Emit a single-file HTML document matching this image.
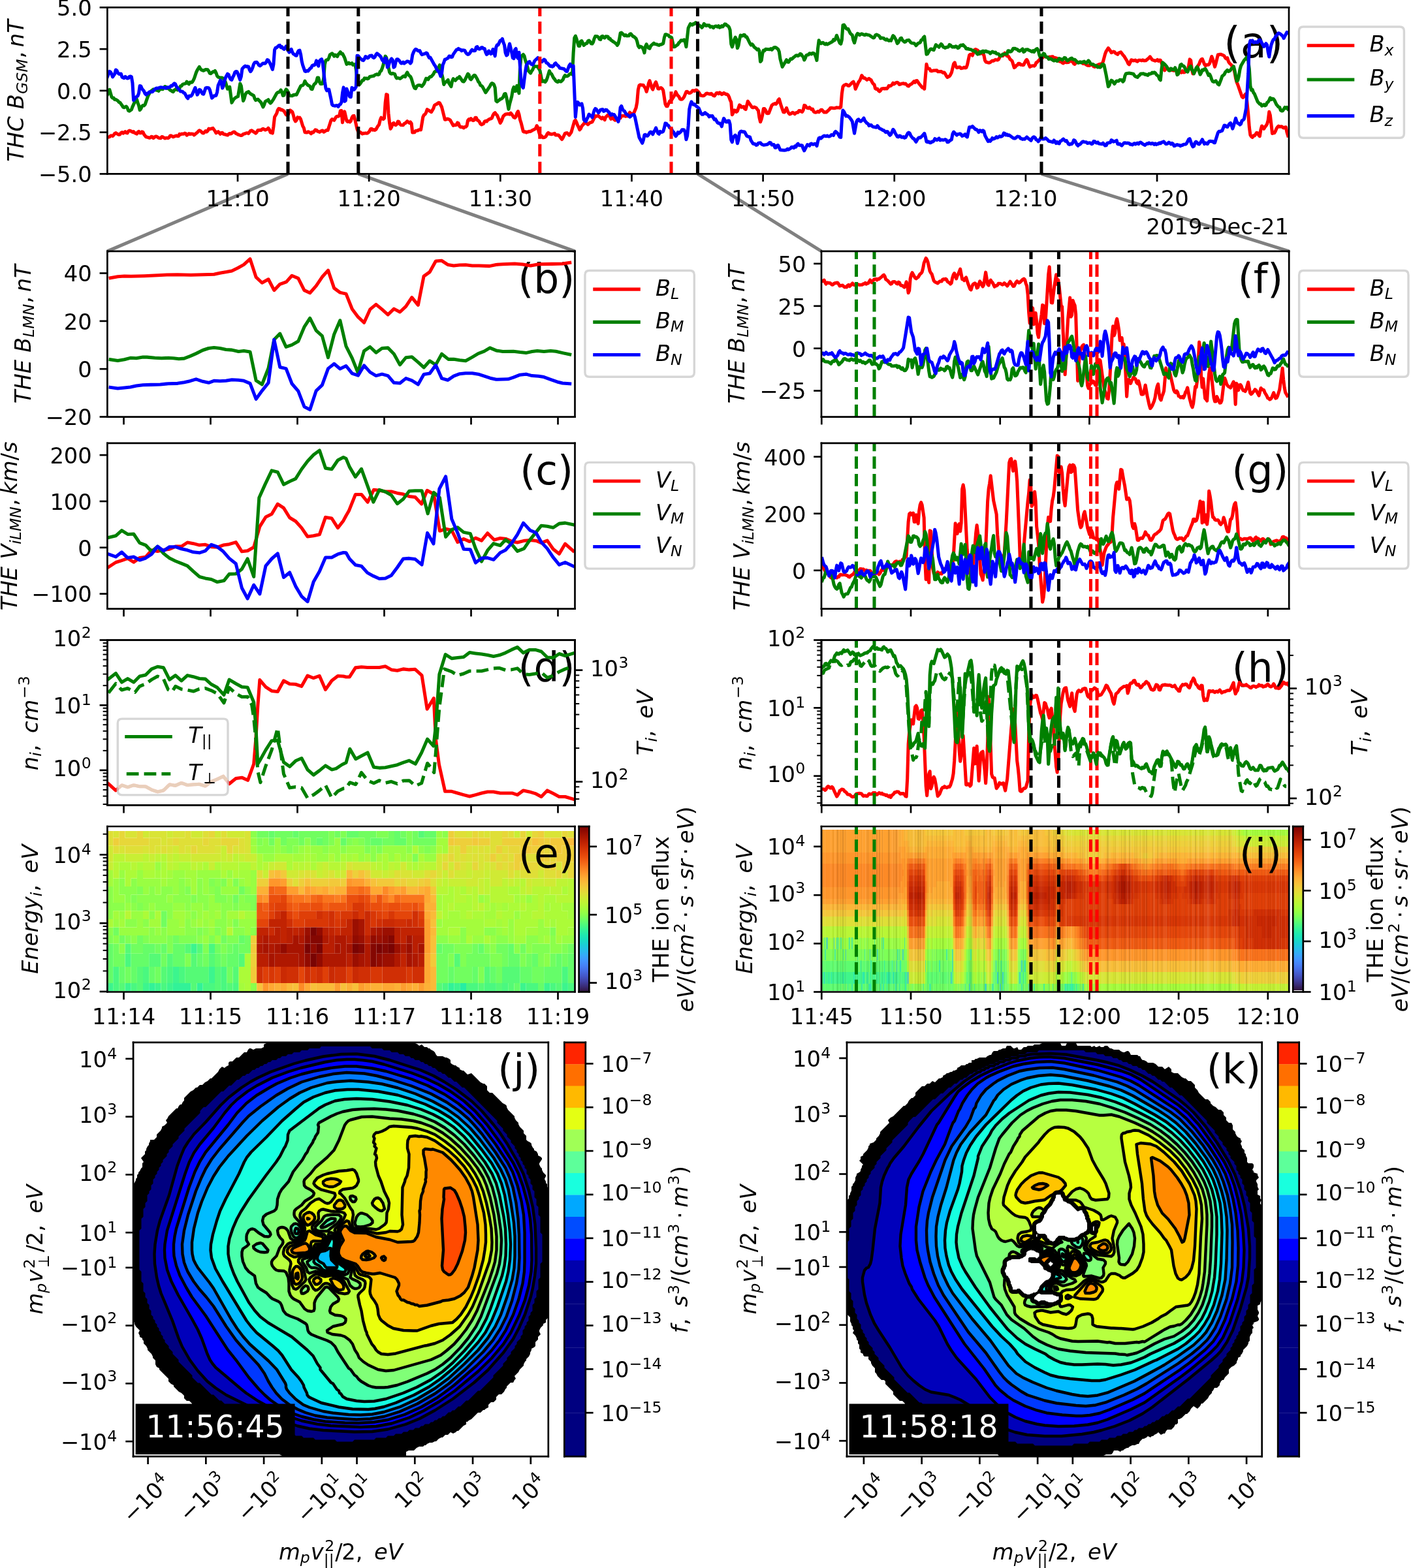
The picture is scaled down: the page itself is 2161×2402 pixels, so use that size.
<!DOCTYPE html>
<html lang="en"><head><meta charset="utf-8"><title>THEMIS overview 2019-Dec-21</title>
<style>html,body{margin:0;padding:0;background:#fff;}svg{display:block;}text{font-family:"DejaVu Sans","Liberation Sans",sans-serif;}</style></head>
<body>
<svg width="2161" height="2402" viewBox="0 0 640.296296 711.703704" version="1.1">
<defs>
<style type="text/css">*{stroke-linejoin: round; stroke-linecap: butt}</style>
</defs>
<g id="figure_1">
<g id="patch_1">
<path d="M 0 711.7 L 640.3 711.7 L 640.3 0 L 0 0 L 0 711.7 z" style="fill: none"/>
</g>
<g id="line2d_1">
<path d="M 130.67 78.93 L 48.71 114.04" style="fill: none; stroke: #808080; stroke-width: 1.5"/>
</g>
<g id="line2d_2">
<path d="M 162.61 78.93 L 260.89 114.04" style="fill: none; stroke: #808080; stroke-width: 1.5"/>
</g>
<g id="line2d_3">
<path d="M 316.59 78.93 L 372.74 114.04" style="fill: none; stroke: #808080; stroke-width: 1.5"/>
</g>
<g id="line2d_4">
<path d="M 472.59 78.93 L 584.95 114.04" style="fill: none; stroke: #808080; stroke-width: 1.5"/>
</g>
<g id="axes_1">
<g id="patch_2">
<path d="M 48.71 78.93 L 584.89 78.93 L 584.89 3.38 L 48.71 3.38 L 48.71 78.93 z" style="fill: none; opacity: 0"/>
</g>
<g id="text_1">
<text style="font-size: 19.4px; font-family: 'DejaVu Sans'; text-anchor: middle" x="568.82963" y="26.148376" transform="rotate(-0 568.82963 26.148376)">(a)</text>
</g>
<g id="matplotlib.axis_1">
<g id="xtick_1">
<g id="line2d_5">
<defs>
<path id="m1504cfccaf" d="M 0 0 L 0 3.5" style="stroke: #000000; stroke-width: 0.8"/>
</defs>
<g>
<use href="#m1504cfccaf" x="107.851852" y="78.933333" style="stroke: #000000; stroke-width: 0.8"/>
</g>
</g>
<g id="text_2">
<text style="font-size: 10px; font-family: 'DejaVu Sans'; text-anchor: middle" x="107.851852" y="93.531771" transform="rotate(-0 107.851852 93.531771)">11:10</text>
</g>
</g>
<g id="xtick_2">
<g id="line2d_6">
<g>
<use href="#m1504cfccaf" x="167.451852" y="78.933333" style="stroke: #000000; stroke-width: 0.8"/>
</g>
</g>
<g id="text_3">
<text style="font-size: 10px; font-family: 'DejaVu Sans'; text-anchor: middle" x="167.451852" y="93.531771" transform="rotate(-0 167.451852 93.531771)">11:20</text>
</g>
</g>
<g id="xtick_3">
<g id="line2d_7">
<g>
<use href="#m1504cfccaf" x="227.051852" y="78.933333" style="stroke: #000000; stroke-width: 0.8"/>
</g>
</g>
<g id="text_4">
<text style="font-size: 10px; font-family: 'DejaVu Sans'; text-anchor: middle" x="227.051852" y="93.531771" transform="rotate(-0 227.051852 93.531771)">11:30</text>
</g>
</g>
<g id="xtick_4">
<g id="line2d_8">
<g>
<use href="#m1504cfccaf" x="286.651852" y="78.933333" style="stroke: #000000; stroke-width: 0.8"/>
</g>
</g>
<g id="text_5">
<text style="font-size: 10px; font-family: 'DejaVu Sans'; text-anchor: middle" x="286.651852" y="93.531771" transform="rotate(-0 286.651852 93.531771)">11:40</text>
</g>
</g>
<g id="xtick_5">
<g id="line2d_9">
<g>
<use href="#m1504cfccaf" x="346.251852" y="78.933333" style="stroke: #000000; stroke-width: 0.8"/>
</g>
</g>
<g id="text_6">
<text style="font-size: 10px; font-family: 'DejaVu Sans'; text-anchor: middle" x="346.251852" y="93.531771" transform="rotate(-0 346.251852 93.531771)">11:50</text>
</g>
</g>
<g id="xtick_6">
<g id="line2d_10">
<g>
<use href="#m1504cfccaf" x="405.851852" y="78.933333" style="stroke: #000000; stroke-width: 0.8"/>
</g>
</g>
<g id="text_7">
<text style="font-size: 10px; font-family: 'DejaVu Sans'; text-anchor: middle" x="405.851852" y="93.531771" transform="rotate(-0 405.851852 93.531771)">12:00</text>
</g>
</g>
<g id="xtick_7">
<g id="line2d_11">
<g>
<use href="#m1504cfccaf" x="465.451852" y="78.933333" style="stroke: #000000; stroke-width: 0.8"/>
</g>
</g>
<g id="text_8">
<text style="font-size: 10px; font-family: 'DejaVu Sans'; text-anchor: middle" x="465.451852" y="93.531771" transform="rotate(-0 465.451852 93.531771)">12:10</text>
</g>
</g>
<g id="xtick_8">
<g id="line2d_12">
<g>
<use href="#m1504cfccaf" x="525.051852" y="78.933333" style="stroke: #000000; stroke-width: 0.8"/>
</g>
</g>
<g id="text_9">
<text style="font-size: 10px; font-family: 'DejaVu Sans'; text-anchor: middle" x="525.051852" y="93.531771" transform="rotate(-0 525.051852 93.531771)">12:20</text>
</g>
</g>
</g>
<g id="matplotlib.axis_2">
<g id="ytick_1">
<g id="line2d_13">
<defs>
<path id="m5d545ce8f8" d="M 0 0 L -3.5 0" style="stroke: #000000; stroke-width: 0.8"/>
</defs>
<g>
<use href="#m5d545ce8f8" x="48.711111" y="3.377778" style="stroke: #000000; stroke-width: 0.8"/>
</g>
</g>
<g id="text_10">
<text style="font-size: 10px; font-family: 'DejaVu Sans'; text-anchor: end" x="41.711111" y="7.176997" transform="rotate(-0 41.711111 7.176997)">5.0</text>
</g>
</g>
<g id="ytick_2">
<g id="line2d_14">
<g>
<use href="#m5d545ce8f8" x="48.711111" y="22.266667" style="stroke: #000000; stroke-width: 0.8"/>
</g>
</g>
<g id="text_11">
<text style="font-size: 10px; font-family: 'DejaVu Sans'; text-anchor: end" x="41.711111" y="26.065885" transform="rotate(-0 41.711111 26.065885)">2.5</text>
</g>
</g>
<g id="ytick_3">
<g id="line2d_15">
<g>
<use href="#m5d545ce8f8" x="48.711111" y="41.155556" style="stroke: #000000; stroke-width: 0.8"/>
</g>
</g>
<g id="text_12">
<text style="font-size: 10px; font-family: 'DejaVu Sans'; text-anchor: end" x="41.711111" y="44.954774" transform="rotate(-0 41.711111 44.954774)">0.0</text>
</g>
</g>
<g id="ytick_4">
<g id="line2d_16">
<g>
<use href="#m5d545ce8f8" x="48.711111" y="60.044444" style="stroke: #000000; stroke-width: 0.8"/>
</g>
</g>
<g id="text_13">
<text style="font-size: 10px; font-family: 'DejaVu Sans'; text-anchor: end" x="41.711111" y="63.843663" transform="rotate(-0 41.711111 63.843663)">−2.5</text>
</g>
</g>
<g id="ytick_5">
<g id="line2d_17">
<g>
<use href="#m5d545ce8f8" x="48.711111" y="78.933333" style="stroke: #000000; stroke-width: 0.8"/>
</g>
</g>
<g id="text_14">
<text style="font-size: 10px; font-family: 'DejaVu Sans'; text-anchor: end" x="41.711111" y="82.732552" transform="rotate(-0 41.711111 82.732552)">−5.0</text>
</g>
</g>
<g id="text_15">
<g transform="translate(11.348611 73.405556) rotate(-90)">
<text>
<tspan x="0" y="-0.578125" style="font-style: oblique; font-size: 10px; font-family: 'DejaVu Sans'">T</tspan>
<tspan x="6.108398" y="-0.578125" style="font-style: oblique; font-size: 10px; font-family: 'DejaVu Sans'">H</tspan>
<tspan x="13.62793" y="-0.578125" style="font-style: oblique; font-size: 10px; font-family: 'DejaVu Sans'">C</tspan>
<tspan x="23.857389" y="-0.578125" style="font-style: oblique; font-size: 10px; font-family: 'DejaVu Sans'">B</tspan>
<tspan x="52.025358" y="-0.578125" style="font-style: oblique; font-size: 10px; font-family: 'DejaVu Sans'">n</tspan>
<tspan x="58.363249" y="-0.578125" style="font-style: oblique; font-size: 10px; font-family: 'DejaVu Sans'">T</tspan>
<tspan x="30.717741" y="1.0625" style="font-style: oblique; font-size: 7px; font-family: 'DejaVu Sans'">G</tspan>
<tspan x="36.142057" y="1.0625" style="font-style: oblique; font-size: 7px; font-family: 'DejaVu Sans'">S</tspan>
<tspan x="40.585417" y="1.0625" style="font-style: oblique; font-size: 7px; font-family: 'DejaVu Sans'">M</tspan>
<tspan x="46.898405" y="-0.578125" style="font-size: 10px; font-family: 'DejaVu Sans'">,</tspan>
</text>
</g>
</g>
</g>
<g id="line2d_18">
<path d="M 48.76 62.2 L 49.23 62.28 L 49.7 62.13 L 50.18 61.65 L 50.65 61.55 L 51.13 61.74 L 51.6 61.27 L 52.07 60.59 L 52.55 60.33 L 53.5 60.97 L 53.97 61.11 L 54.44 61.02 L 54.92 60.29 L 55.39 60.05 L 55.87 60.5 L 56.81 59.77 L 57.29 60.28 L 57.76 60.42 L 58.24 59.59 L 58.71 59.28 L 59.18 59.41 L 60.13 59.96 L 60.61 59.76 L 61.08 60.29 L 62.03 60.77 L 62.5 59.99 L 62.98 59.66 L 63.45 60.36 L 63.93 60.39 L 64.4 59.8 L 64.87 59.97 L 65.35 60.98 L 66.3 62.18 L 67.24 62.36 L 67.72 62.56 L 68.19 62.52 L 68.67 62 L 69.14 62.14 L 69.61 62.69 L 70.56 61.92 L 71.04 61.9 L 71.98 62.6 L 72.93 62.71 L 73.41 62.07 L 73.88 62.16 L 74.83 62.83 L 75.3 62.62 L 75.78 62.6 L 76.25 62.7 L 76.73 62.42 L 77.2 61.63 L 77.67 61.59 L 78.62 62.16 L 79.1 61.92 L 80.04 61.57 L 80.52 61.8 L 80.99 61.76 L 81.47 60.88 L 81.94 61.07 L 82.41 60.78 L 83.36 60.81 L 83.84 60.48 L 84.31 60.65 L 84.78 61.39 L 85.73 60.63 L 86.21 60.88 L 86.68 60.75 L 87.63 60.83 L 88.1 61.31 L 89.05 60.49 L 89.53 60.15 L 90 59.56 L 90.47 59.23 L 90.95 59.42 L 91.9 60.34 L 92.37 60.42 L 93.32 59.45 L 93.79 59.85 L 94.27 59.39 L 94.74 58.41 L 95.21 58.6 L 96.64 58.19 L 97.58 59.51 L 98.06 60.38 L 98.53 59.98 L 99.01 59.76 L 99.96 60.84 L 100.43 60.3 L 100.9 60.24 L 101.38 60.82 L 103.27 61.35 L 103.75 60.89 L 104.22 60.6 L 104.7 60.74 L 105.17 60.49 L 105.64 60.06 L 106.12 59.84 L 106.59 60.03 L 107.07 60.63 L 107.54 60.73 L 108.01 61.08 L 108.96 61.38 L 109.44 61.48 L 109.91 61.33 L 110.38 60.85 L 110.86 60.76 L 111.81 60.36 L 112.28 60.35 L 112.76 60.62 L 113.7 59.36 L 114.18 59.2 L 116.07 60.48 L 116.55 59.97 L 117.02 59.09 L 117.97 59.06 L 118.44 59.12 L 118.92 58.69 L 119.39 58.45 L 120.34 58.99 L 121.29 58.65 L 121.76 58.15 L 122.24 58.83 L 122.71 60.12 L 123.18 60.22 L 123.66 60.45 L 124.13 57.42 L 124.61 53.13 L 125.56 51.49 L 126.03 49.91 L 126.5 49.29 L 126.98 49.42 L 127.45 49.91 L 127.93 49.79 L 128.4 50.16 L 128.87 50.39 L 129.82 52.08 L 130.3 52.33 L 130.77 51.93 L 131.72 50.07 L 132.19 50.38 L 132.67 50.85 L 133.14 52.3 L 133.61 54.24 L 134.09 55.08 L 134.56 54.47 L 135.04 53.25 L 135.51 53.51 L 135.98 53.35 L 136.46 54.13 L 137.41 57.28 L 137.88 58.07 L 138.36 60.05 L 139.3 60.17 L 139.78 59.81 L 140.25 59.89 L 141.2 60.66 L 141.67 59.97 L 142.15 60.11 L 143.1 58.93 L 143.57 59.01 L 144.04 59.56 L 144.52 59.7 L 144.99 59.96 L 145.94 59.35 L 146.41 59.28 L 146.89 59.92 L 147.84 59.34 L 148.31 59.02 L 148.78 59.13 L 150.21 54.65 L 150.68 54.11 L 151.63 54.6 L 152.58 52.97 L 153.05 52.8 L 153.53 52.8 L 154 52.43 L 154.47 50.31 L 154.95 50.23 L 155.42 55.61 L 155.9 52.77 L 156.37 50.65 L 157.32 54.85 L 157.79 55.24 L 158.27 54.96 L 158.74 55.39 L 159.21 54.92 L 159.69 53.37 L 160.16 52.68 L 160.64 52.57 L 161.11 54.38 L 162.06 58.59 L 162.53 59.7 L 163.48 59.99 L 164.43 60.74 L 164.9 60.49 L 165.38 60.54 L 165.85 60.41 L 166.33 60.5 L 166.8 60.42 L 167.27 60.01 L 167.75 59.42 L 168.22 58.52 L 168.7 58.43 L 169.17 59.03 L 169.64 58.85 L 170.12 59.08 L 170.59 58.78 L 171.54 57.14 L 172.01 56.6 L 172.49 54.55 L 172.96 53.38 L 173.91 54.09 L 174.38 53.66 L 174.86 46.51 L 175.33 42.86 L 175.81 43.07 L 176.28 51.4 L 176.76 55.71 L 177.23 58.47 L 177.7 57.63 L 178.18 56.14 L 178.65 55.85 L 179.13 56.58 L 179.6 56.79 L 180.07 56.36 L 180.55 55.13 L 181.02 55.25 L 181.5 56.34 L 181.97 56.76 L 182.92 56.84 L 183.39 56.17 L 183.87 55.95 L 184.81 55.04 L 185.76 55.82 L 186.24 55.37 L 186.71 56.03 L 187.18 60.15 L 188.13 60.04 L 188.61 59.4 L 189.56 59.26 L 190.03 58.97 L 190.5 58.85 L 190.98 58.93 L 191.93 53.16 L 192.4 52.15 L 192.87 51.93 L 193.35 51.13 L 193.82 49.69 L 194.77 50.24 L 195.72 50.85 L 196.67 49.26 L 197.14 47.86 L 197.61 47.49 L 198.09 47.29 L 199.04 46.58 L 199.51 46.7 L 200.46 48.59 L 201.88 54.26 L 202.36 54.26 L 202.83 53.97 L 203.3 54 L 203.78 54.16 L 204.25 54.48 L 205.67 56.98 L 206.15 56.69 L 206.62 56.83 L 207.1 56.7 L 207.57 55.69 L 208.04 55.95 L 208.52 57.22 L 208.99 57.7 L 209.47 57.62 L 209.94 57.72 L 210.41 58.05 L 210.89 57.66 L 211.36 57.57 L 211.84 57.11 L 212.31 54.67 L 212.78 54.11 L 213.26 54.47 L 213.73 53.8 L 214.21 54.45 L 214.68 54.71 L 215.16 54.56 L 215.63 53.4 L 216.1 53.44 L 216.58 54.53 L 217.05 54.72 L 217.53 55.21 L 218 56.15 L 218.47 56.57 L 219.42 56.12 L 219.9 55.12 L 220.37 54.92 L 220.84 55.13 L 221.32 54.53 L 222.27 53.94 L 222.74 53.93 L 223.21 53.61 L 223.69 52.33 L 224.16 51.57 L 224.64 51.19 L 225.11 51.87 L 225.58 52.28 L 226.53 54.51 L 227.01 55.85 L 227.48 55.1 L 228.43 52.65 L 229.38 51.86 L 230.33 51.74 L 230.8 51.71 L 231.27 51.9 L 231.75 51.29 L 232.22 51.81 L 233.17 53.27 L 233.64 53.49 L 234.12 52.9 L 234.59 51.33 L 235.07 50.53 L 235.54 51.93 L 236.01 54.35 L 236.49 55.81 L 237.44 59.68 L 237.91 59.88 L 238.38 59.76 L 238.86 60.13 L 239.33 59.86 L 239.81 59.82 L 240.28 59.61 L 240.76 59.7 L 241.7 59.07 L 242.65 58.66 L 243.13 58.19 L 243.6 57.05 L 244.07 57.95 L 244.55 60 L 245.02 61.35 L 245.5 61.53 L 246.44 62.47 L 246.92 62.39 L 247.39 62.19 L 247.87 61.7 L 248.34 60.73 L 248.81 60.24 L 249.29 60.81 L 249.76 60.77 L 250.24 60.98 L 251.66 60.56 L 252.13 61.32 L 253.08 61.27 L 253.56 61.38 L 254.5 62.63 L 254.98 63.27 L 255.45 62.54 L 256.4 60.57 L 256.87 60.39 L 257.35 60.34 L 258.3 61.37 L 259.24 59.99 L 260.67 54.99 L 261.14 54.56 L 261.61 55.5 L 262.09 56.84 L 262.56 57.69 L 263.04 58.9 L 263.51 58.4 L 263.98 57.26 L 264.93 56.23 L 265.41 55.39 L 266.83 56.53 L 267.78 55.61 L 268.25 55.55 L 268.73 55.36 L 270.15 52.62 L 270.62 52.83 L 271.1 52.55 L 271.57 52.62 L 272.99 53.9 L 273.47 53.34 L 273.94 53.73 L 274.41 54.4 L 274.89 53.1 L 275.36 52.72 L 275.84 52.17 L 276.31 52.13 L 277.26 54 L 277.73 53.4 L 278.21 53.61 L 278.68 54.22 L 279.16 54.6 L 279.63 54.36 L 280.1 53.86 L 281.05 53.51 L 281.53 53.61 L 282 52.61 L 282.95 52.62 L 283.42 52.58 L 283.9 52.82 L 284.37 52.48 L 284.84 52.72 L 285.79 51.03 L 286.27 51.56 L 286.74 51.88 L 287.21 51.72 L 287.69 51.2 L 288.64 48.91 L 289.11 46.39 L 289.58 40.74 L 290.06 38.78 L 290.53 38.49 L 291.96 38.68 L 292.9 40.13 L 293.38 41.62 L 293.85 40.07 L 294.33 37.83 L 294.8 36.61 L 295.27 38.01 L 295.75 39.77 L 296.22 40.64 L 297.17 38 L 297.64 37.24 L 298.12 38.57 L 298.59 40.27 L 299.07 40.29 L 299.54 39.92 L 300.01 39.86 L 300.49 40.25 L 300.96 41.06 L 301.91 47.24 L 302.38 48.2 L 302.86 48.22 L 303.81 46.05 L 304.28 45.62 L 304.76 45.41 L 306.18 43.15 L 306.65 41.69 L 307.13 42.72 L 307.6 43.41 L 308.07 43.8 L 308.55 44.88 L 309.02 45.1 L 309.5 45.04 L 309.97 44.64 L 310.44 43.96 L 311.39 41.66 L 311.87 41.59 L 312.34 42.03 L 312.81 42.27 L 313.29 42.14 L 313.76 41.83 L 314.24 41.14 L 314.71 41.15 L 315.18 41.34 L 315.66 40.93 L 316.13 40.92 L 317.08 41.86 L 318.03 43.35 L 318.98 43.52 L 319.45 43.41 L 319.93 43.06 L 320.4 42.52 L 320.87 42.35 L 321.35 42.55 L 321.82 42.59 L 322.3 42.75 L 322.77 42.44 L 323.72 43.38 L 324.19 43.55 L 325.14 42.21 L 325.61 42.17 L 326.09 42.55 L 326.56 42.04 L 327.04 42.27 L 327.51 42.84 L 327.98 42.66 L 328.46 42.19 L 329.41 42.81 L 329.88 42.77 L 330.36 43.12 L 330.83 43.98 L 331.3 45.34 L 331.78 46.3 L 332.25 52.07 L 332.73 51.24 L 333.2 50.04 L 333.67 50.15 L 334.15 50.78 L 334.62 50.43 L 335.57 47.68 L 336.04 47.95 L 336.52 48.68 L 337.47 48.39 L 337.94 49.35 L 338.41 49.63 L 339.36 45.95 L 341.26 48.72 L 341.73 48.85 L 342.21 48.58 L 343.16 48.91 L 343.63 49.62 L 344.1 50.13 L 344.58 53.36 L 345.05 55.33 L 345.53 54.11 L 346 52.19 L 346.47 49.36 L 346.95 49.34 L 347.42 50.05 L 347.9 51.33 L 348.37 51.48 L 348.84 51.4 L 350.27 47.75 L 350.74 47.39 L 351.69 47 L 352.16 47.23 L 352.64 46.65 L 353.11 45.49 L 353.58 44.95 L 354.53 48.21 L 355.48 50.88 L 355.96 50.94 L 356.43 50.1 L 356.9 49.02 L 357.38 50.36 L 357.85 51.28 L 358.33 51.82 L 358.8 51.64 L 359.75 51.03 L 360.7 51.73 L 361.17 51.25 L 361.64 51.07 L 362.12 51.04 L 362.59 50.21 L 363.07 50.21 L 363.54 50.62 L 364.01 50.81 L 364.49 49.97 L 364.96 47.83 L 365.44 48 L 365.91 48.66 L 366.38 49.06 L 366.86 49.15 L 367.33 48.73 L 368.28 49.68 L 368.76 49.5 L 369.23 50.63 L 369.7 50.98 L 370.18 51.02 L 370.65 50.88 L 371.13 50.57 L 371.6 50.88 L 372.55 49.85 L 373.02 49.87 L 373.97 50.97 L 374.44 50.89 L 374.92 50.97 L 376.34 49.65 L 376.81 49.05 L 377.29 48.94 L 378.24 49.08 L 378.71 49.13 L 379.66 48.82 L 380.13 48.91 L 380.61 48.86 L 381.08 48.97 L 381.56 48.53 L 382.03 42.55 L 382.5 39.38 L 382.98 38.75 L 383.93 38.32 L 384.4 38.51 L 384.87 38.91 L 385.35 38.92 L 386.77 37.44 L 387.24 37.08 L 387.72 38.07 L 388.19 40.4 L 389.61 37.23 L 390.09 36.65 L 390.56 35.63 L 391.04 34.24 L 391.98 35.46 L 392.46 35.45 L 393.41 36.27 L 393.88 35.86 L 394.36 35.68 L 394.83 36.08 L 395.3 36.32 L 395.78 37.34 L 396.25 38.02 L 396.73 38.36 L 397.2 40.18 L 397.67 40.44 L 398.15 40.33 L 398.62 41.12 L 399.1 41.52 L 399.57 41.07 L 400.04 40.33 L 400.99 40.16 L 401.47 40.31 L 401.94 40.11 L 402.41 40.26 L 402.89 39.77 L 403.36 38.91 L 403.84 39.04 L 404.31 38.9 L 404.78 38.44 L 405.26 37.65 L 405.73 38.17 L 406.68 37.46 L 407.16 37.41 L 407.63 37.7 L 408.1 38.39 L 408.58 38.27 L 409.05 37.97 L 410 37.82 L 410.47 38.1 L 410.95 37.97 L 411.9 39 L 412.37 39.12 L 412.84 38.53 L 413.79 37.99 L 414.74 36.94 L 415.21 37.45 L 415.69 36.64 L 416.16 36.6 L 417.11 38.05 L 418.53 39.74 L 419.01 39.68 L 419.48 40.35 L 420.43 29.15 L 420.9 30.85 L 421.38 31.15 L 421.85 31.19 L 422.33 32.15 L 422.8 32.25 L 423.75 31.98 L 425.17 31.95 L 425.64 32.54 L 427.07 32.42 L 428.01 33.06 L 428.49 32.89 L 428.96 33.53 L 429.44 34.46 L 429.91 35.09 L 430.38 34.89 L 430.86 34.57 L 431.33 33.92 L 431.81 32.96 L 432.76 28.99 L 433.23 28.4 L 433.7 29.96 L 434.18 30.72 L 434.65 30.67 L 435.13 30.47 L 435.6 30.46 L 436.07 31.03 L 436.55 30.88 L 437.02 30.89 L 437.5 30.56 L 437.97 30.8 L 438.44 30.75 L 438.92 29.53 L 439.87 25.09 L 440.34 24.66 L 440.81 24.73 L 441.29 25.18 L 442.24 22.6 L 442.71 22.38 L 443.66 22.8 L 444.61 24.48 L 445.08 23.89 L 445.56 24.25 L 446.03 24.23 L 446.5 25.1 L 446.98 27.46 L 447.45 28.2 L 447.93 28.23 L 448.4 28.46 L 448.87 28.48 L 449.35 28.31 L 450.3 27.58 L 450.77 27.67 L 451.72 27.08 L 452.67 27.23 L 453.14 26.98 L 454.09 25.1 L 454.56 25.14 L 455.04 25.4 L 455.98 24.08 L 456.93 25.39 L 457.41 25.37 L 457.88 25.99 L 458.36 26.94 L 458.83 27.25 L 459.3 27.71 L 460.25 30.72 L 460.73 30.43 L 461.2 29.7 L 461.67 29.56 L 462.15 28.8 L 462.62 28.8 L 463.1 29.4 L 463.57 29.36 L 464.04 29.52 L 464.52 29.47 L 465.47 27.56 L 465.94 27.07 L 466.41 27.88 L 466.89 29.32 L 467.36 30.35 L 467.84 29.97 L 468.31 29.96 L 468.78 29.83 L 469.26 29.97 L 469.73 29.61 L 470.21 28.42 L 470.68 28.25 L 471.16 27.59 L 471.63 27.27 L 472.1 26.45 L 472.58 26.02 L 473.05 26.26 L 473.53 25.49 L 474 25.53 L 474.47 25.87 L 475.9 25.97 L 476.37 25.81 L 476.84 25.94 L 477.32 25.7 L 477.79 25.68 L 478.27 26.49 L 478.74 26.23 L 479.69 26.5 L 480.16 27.44 L 480.64 27.82 L 481.58 28.06 L 482.06 28.48 L 482.53 28.7 L 483.01 28.25 L 483.96 28.33 L 484.9 28.29 L 485.85 27.3 L 486.33 27.86 L 486.8 28.04 L 487.27 28.92 L 487.75 29.13 L 488.22 28.52 L 488.7 28.14 L 489.64 28.34 L 490.12 28.19 L 490.59 28.35 L 491.07 28.35 L 491.54 28.9 L 492.01 28.77 L 493.44 29.7 L 494.38 29.78 L 494.86 29.37 L 495.33 29.37 L 495.81 29.67 L 496.28 30.17 L 496.76 30.34 L 497.23 30.16 L 497.7 29.63 L 499.13 29.09 L 500.07 28.93 L 500.55 28.02 L 501.5 24.48 L 501.97 23.27 L 502.92 21.82 L 503.87 23.07 L 504.34 23.91 L 505.29 23.42 L 505.76 23.61 L 506.24 24.17 L 507.18 24.7 L 507.66 24.02 L 508.61 23.65 L 509.56 24.92 L 510.03 25.39 L 511.45 27.72 L 511.93 28.85 L 512.4 29.26 L 512.87 28.35 L 513.35 27.18 L 513.82 27.29 L 514.3 27.54 L 514.77 27.5 L 515.24 27.26 L 515.72 27.76 L 516.19 27.93 L 516.67 27.32 L 517.61 27.36 L 518.09 27.52 L 518.56 27.2 L 519.04 27.52 L 519.98 27.48 L 521.41 26.32 L 521.88 25.73 L 522.83 27.09 L 523.3 27.32 L 524.25 27.62 L 524.73 27.43 L 525.2 27.1 L 525.67 27.71 L 526.15 27.29 L 526.62 27.36 L 528.04 31.17 L 528.52 31.98 L 528.99 31.26 L 529.47 31.16 L 530.89 31.4 L 531.84 31.89 L 532.78 32.07 L 533.26 31.75 L 533.73 31.86 L 534.21 32.43 L 534.68 32.76 L 535.16 32.81 L 535.63 32.68 L 536.1 32.95 L 536.58 32.21 L 537.05 32.85 L 537.53 32.8 L 538.47 31.79 L 538.95 32.07 L 539.42 29.85 L 539.9 26.93 L 540.37 27.42 L 540.84 31.48 L 541.32 33.43 L 541.79 33.09 L 542.74 31.62 L 543.69 29.73 L 544.16 29.07 L 544.64 27.76 L 545.11 26.99 L 545.58 26.75 L 546.53 29.12 L 547.01 29.84 L 547.48 29.44 L 548.43 29.42 L 548.9 28.81 L 549.85 25.64 L 550.33 26.83 L 551.27 30.34 L 551.75 28.73 L 552.7 24.83 L 553.17 24.81 L 553.64 24.67 L 554.12 24.65 L 554.59 24.94 L 555.07 25.09 L 555.54 25.38 L 556.01 26.28 L 556.49 26.64 L 556.96 26.25 L 557.44 27.88 L 557.91 28.66 L 558.86 29.56 L 559.33 30.63 L 559.81 30.9 L 560.28 32.87 L 560.76 35.55 L 561.23 37.33 L 561.7 38.45 L 563.6 43.9 L 564.07 44.26 L 565.02 42.92 L 565.5 42.55 L 566.44 51.69 L 566.92 57.83 L 567.39 61.29 L 567.87 61.98 L 568.34 62.32 L 568.81 61.58 L 569.29 61.64 L 570.24 60.27 L 570.71 60.37 L 571.18 61.32 L 571.66 61.83 L 572.13 58.84 L 572.61 57.19 L 573.08 57.67 L 573.56 58.48 L 574.03 57.62 L 574.5 57.09 L 574.98 56.3 L 575.45 54.69 L 575.93 50.73 L 576.4 52.28 L 577.35 60.6 L 577.82 60.29 L 578.3 60.37 L 578.77 59.6 L 579.24 58.39 L 579.72 57.65 L 580.19 57.24 L 580.67 57.52 L 581.61 57.39 L 582.09 57.83 L 582.56 58.07 L 583.04 57.78 L 583.51 57.71 L 583.98 60.01 L 584.46 61.61 L 584.46 61.61" clip-path="url(#p4a2bbabca9)" style="fill: none; stroke: #ff0000; stroke-width: 1.5; stroke-linecap: square"/>
</g>
<g id="line2d_19">
<path d="M 48.76 42.96 L 49.23 42.05 L 49.7 40.67 L 50.65 44.01 L 51.13 44.5 L 51.6 44.45 L 52.07 45.21 L 52.55 45.2 L 53.5 45.74 L 53.97 46.4 L 54.44 46.55 L 55.39 47.84 L 55.87 48.61 L 56.34 48.81 L 57.29 48.3 L 57.76 48.89 L 58.24 50.22 L 58.71 50.41 L 59.66 49.78 L 60.13 48.48 L 61.08 46.4 L 61.56 45.22 L 62.03 45.03 L 62.5 46.68 L 62.98 47.89 L 63.45 49.97 L 63.93 49.37 L 64.4 48.28 L 64.87 47.83 L 65.35 47.97 L 65.82 47.44 L 67.24 43.39 L 68.19 41.66 L 69.61 40.54 L 71.04 40.96 L 71.51 41.02 L 71.98 41.32 L 72.46 40.54 L 72.93 40.28 L 73.41 40.45 L 73.88 40.49 L 74.83 39.27 L 75.3 39.42 L 75.78 40.05 L 76.25 40.17 L 76.73 40.41 L 77.2 40.94 L 77.67 41.1 L 78.15 41.49 L 78.62 41.66 L 79.1 40.95 L 80.04 40.32 L 80.52 40.85 L 81.47 40.15 L 81.94 39.04 L 82.41 38.98 L 82.89 38.27 L 84.31 37.88 L 84.78 37.06 L 85.26 37.8 L 85.73 38.17 L 86.21 37.32 L 87.16 37.37 L 87.63 36.64 L 88.1 35.7 L 89.05 32.86 L 89.53 31.81 L 90.47 30.34 L 90.95 31.22 L 91.42 31.74 L 92.37 32.07 L 93.32 31.57 L 94.27 31.66 L 94.74 32.32 L 95.21 33.27 L 95.69 33.39 L 96.64 32.52 L 97.11 32.62 L 97.58 32.15 L 98.06 33.08 L 98.53 34.45 L 99.01 35 L 99.96 35.29 L 100.43 35.25 L 100.9 35.34 L 101.85 36.31 L 102.33 37.28 L 103.27 40.37 L 103.75 39.74 L 104.22 39.46 L 105.17 46.62 L 106.12 44.99 L 107.07 44.16 L 108.01 43.78 L 108.96 37.94 L 109.44 38.98 L 110.38 45.78 L 110.86 44.71 L 111.33 42.88 L 111.81 42.1 L 112.76 41.62 L 113.23 42.2 L 113.7 42.6 L 115.13 43.41 L 115.6 44.76 L 116.07 45.49 L 117.02 45.05 L 118.44 46.47 L 119.39 48.56 L 119.87 47.59 L 120.34 46.16 L 120.81 45.8 L 121.29 45.63 L 121.76 45.26 L 122.24 46.34 L 122.71 46.85 L 123.18 46.37 L 124.13 44.98 L 125.56 42.38 L 126.03 41.92 L 126.5 41.87 L 126.98 41.53 L 127.45 40.83 L 127.93 41.82 L 128.4 43.38 L 128.87 43.29 L 129.35 41.5 L 129.82 40.54 L 130.3 41.01 L 130.77 41.86 L 131.24 43.03 L 131.72 43.5 L 132.67 43.46 L 133.14 43.07 L 133.61 43.11 L 134.09 42.9 L 134.56 43.03 L 135.51 41 L 136.46 39.07 L 136.93 38.83 L 137.41 38.73 L 137.88 38.13 L 138.36 36.77 L 138.83 37.73 L 139.78 38.74 L 140.25 38.85 L 140.73 39.28 L 141.2 40.41 L 141.67 40.5 L 142.15 39.07 L 142.62 38.18 L 143.1 37.89 L 143.57 37.12 L 144.04 35.29 L 144.52 35.25 L 144.99 37.2 L 145.47 38.07 L 145.94 38.08 L 146.41 37.94 L 146.89 35.32 L 147.36 29.31 L 147.84 27.47 L 148.31 27.17 L 148.78 27.14 L 149.26 26.25 L 149.73 24.86 L 150.68 24.24 L 151.16 24.76 L 151.63 25.52 L 152.1 24.92 L 153.05 25.66 L 153.53 24.69 L 154 24.22 L 154.47 23.6 L 154.95 24.42 L 155.42 24.35 L 156.37 26.22 L 157.32 29.14 L 157.79 28.9 L 158.27 28.5 L 158.74 28.97 L 159.21 28.89 L 159.69 28.63 L 160.16 29.44 L 161.11 29.19 L 161.58 31.56 L 162.06 35.51 L 162.53 38.02 L 163.01 38.48 L 163.48 37.93 L 164.43 36.45 L 164.9 36.46 L 165.38 35.5 L 165.85 35.63 L 166.33 35.52 L 166.8 35.79 L 167.27 35.57 L 167.75 34.84 L 169.64 34.47 L 170.12 34.01 L 171.07 33.66 L 171.54 33.93 L 172.01 33.75 L 172.49 32.46 L 172.96 32.15 L 173.44 30.98 L 173.91 29.46 L 174.38 27.17 L 174.86 25.5 L 175.33 26.17 L 176.76 32.76 L 177.23 33.4 L 177.7 33.53 L 178.18 33.3 L 179.13 33.62 L 179.6 34.87 L 180.07 35.54 L 180.55 35.39 L 181.5 35.68 L 181.97 35.44 L 182.92 34.66 L 183.39 34.52 L 183.87 34.83 L 184.34 33.56 L 184.81 32.84 L 185.29 33.79 L 185.76 34.36 L 186.24 34.72 L 186.71 35.74 L 187.66 38.94 L 188.13 40.02 L 188.61 40.2 L 189.08 39.22 L 189.56 38.77 L 190.03 38.64 L 190.5 38.69 L 191.45 39.21 L 192.4 37.96 L 193.35 35.61 L 193.82 35.72 L 194.3 36.09 L 194.77 35.24 L 195.24 34.8 L 195.72 34.79 L 196.67 33.69 L 197.14 32.68 L 197.61 32.36 L 198.09 32.38 L 198.56 31.72 L 199.04 30.78 L 199.51 29.53 L 200.46 33.41 L 200.93 35.42 L 201.41 38.36 L 201.88 37.45 L 202.36 37.24 L 203.3 36.27 L 203.78 37.82 L 204.73 39.27 L 205.2 36.91 L 205.67 35.75 L 206.15 36.25 L 206.62 36.54 L 207.57 35.43 L 208.04 35.5 L 208.52 34.82 L 209.94 36.89 L 210.41 37.04 L 210.89 36.47 L 212.31 33.51 L 212.78 33.95 L 213.26 35.68 L 213.73 36.1 L 214.21 35.46 L 214.68 34.59 L 215.16 34.15 L 215.63 34.3 L 216.58 35.93 L 217.05 37.02 L 217.53 37.53 L 218 38.68 L 218.47 38.93 L 218.95 39.37 L 220.37 42 L 222.27 39.24 L 222.74 38.31 L 223.21 37.78 L 223.69 37.94 L 224.16 38.45 L 224.64 39.78 L 225.11 45.8 L 225.58 46.19 L 226.06 45.74 L 226.53 45.45 L 227.01 44.99 L 227.48 44.9 L 227.96 44.54 L 228.43 43.86 L 228.9 42.65 L 229.38 42.51 L 229.85 44.22 L 230.8 49.59 L 231.27 47.17 L 232.22 43.75 L 232.7 40.79 L 233.17 39.49 L 233.64 41.39 L 234.12 41.27 L 234.59 38.88 L 235.07 40.33 L 235.54 42.33 L 236.01 30.53 L 236.49 25.67 L 237.44 24.72 L 237.91 25.38 L 238.38 27.3 L 238.86 28.67 L 239.81 32.19 L 240.76 33.23 L 241.23 32.27 L 241.7 31.69 L 242.18 30.46 L 242.65 30.07 L 243.6 30.24 L 244.07 30.12 L 244.55 31.23 L 245.02 32.02 L 245.97 36.99 L 246.44 36.93 L 246.92 36.69 L 247.39 37.21 L 247.87 36.6 L 248.34 35.39 L 249.29 32.19 L 249.76 33.24 L 250.24 33.53 L 251.18 35.4 L 251.66 35.88 L 252.13 36.65 L 252.61 37.03 L 253.08 37.21 L 253.56 36.62 L 254.03 36.95 L 254.5 37.05 L 255.45 36.16 L 255.93 34.89 L 256.4 34.16 L 256.87 34.62 L 257.35 34.57 L 257.82 34.35 L 258.3 33.83 L 259.24 33.26 L 259.72 33.77 L 260.19 23.96 L 260.67 17.25 L 261.14 16.32 L 261.61 17.6 L 262.56 20.89 L 263.04 20.89 L 263.51 18.75 L 263.98 18.56 L 264.93 20.56 L 265.88 19.72 L 266.36 19.7 L 266.83 18.62 L 267.3 18.4 L 267.78 18.93 L 268.25 19.76 L 268.73 19.87 L 269.2 19.14 L 269.67 17.49 L 270.15 16.47 L 271.1 16.54 L 271.57 16.94 L 272.04 17.83 L 272.52 17.97 L 272.99 16.58 L 273.47 16.41 L 273.94 17.08 L 274.41 17.24 L 274.89 16.53 L 275.84 16.57 L 276.31 17.57 L 276.78 17.47 L 277.26 18.24 L 277.73 18.47 L 278.21 18.89 L 278.68 19.13 L 279.16 19.54 L 279.63 19.8 L 280.1 20.54 L 280.58 19.81 L 281.05 17.73 L 281.53 15.01 L 282 14.84 L 283.42 16.18 L 283.9 15.86 L 284.37 16.27 L 285.32 16.25 L 285.79 15.46 L 286.27 15.36 L 287.21 16.51 L 287.69 16.66 L 288.64 17.54 L 289.11 18.77 L 289.58 20.8 L 290.06 21.55 L 290.53 21.08 L 291.01 21.21 L 291.48 21.54 L 291.96 22.46 L 292.43 23.98 L 292.9 21.06 L 293.38 20.06 L 293.85 21.06 L 294.33 21.77 L 294.8 22.01 L 295.27 20.87 L 296.7 19.59 L 297.17 19.99 L 298.12 20.15 L 298.59 20.43 L 299.07 20.58 L 299.54 20.24 L 300.01 20.2 L 300.96 19.74 L 301.44 17.06 L 301.91 15.61 L 302.38 15.66 L 303.33 16.02 L 303.81 16.69 L 304.28 16.78 L 304.76 17.01 L 305.7 21.25 L 306.18 21.28 L 307.6 20.24 L 308.07 19.39 L 308.55 19.01 L 309.02 18.32 L 309.5 18.29 L 309.97 18.45 L 310.44 18.02 L 310.92 19.04 L 311.39 21.26 L 312.34 12.68 L 313.29 10.79 L 313.76 11.19 L 314.24 11.33 L 314.71 10.72 L 315.18 10.85 L 315.66 10.23 L 316.13 10.5 L 317.56 11.7 L 318.03 11.99 L 318.5 12.52 L 318.98 11.97 L 319.45 10.76 L 320.4 11.72 L 320.87 11.45 L 321.35 11.62 L 321.82 11.48 L 322.3 12.26 L 322.77 12.08 L 323.24 12.07 L 323.72 12.65 L 324.19 12.09 L 324.67 11.88 L 325.14 11.85 L 325.61 12.22 L 326.09 11.76 L 326.56 12.49 L 327.04 12.3 L 327.51 11.74 L 327.98 12.11 L 328.93 10.94 L 329.41 11.06 L 329.88 11.54 L 330.36 11.79 L 330.83 12.32 L 331.3 13.67 L 331.78 19.96 L 332.25 21.3 L 332.73 19.86 L 333.2 17.98 L 333.67 16.94 L 334.15 17.93 L 334.62 21.86 L 335.1 20.66 L 335.57 17.98 L 336.04 16 L 336.52 16.25 L 336.99 16.28 L 337.47 15.81 L 337.94 15.87 L 338.41 16.71 L 338.89 16.77 L 340.31 19.7 L 340.78 20.44 L 341.26 20.02 L 341.73 20.53 L 342.21 21.35 L 343.16 22.1 L 343.63 22.59 L 344.1 22.25 L 344.58 23.12 L 345.05 27.99 L 345.53 27.45 L 346 24.35 L 346.47 22.84 L 346.95 23.03 L 347.42 22.31 L 349.32 22.43 L 349.79 22.08 L 350.27 22.59 L 351.21 21.55 L 351.69 21.49 L 352.16 21.64 L 353.11 22.4 L 353.58 23.48 L 354.06 26.76 L 355.01 30.36 L 356.9 27.16 L 357.38 28.14 L 357.85 28.21 L 358.8 26.7 L 359.27 26.83 L 359.75 26.46 L 360.22 25.95 L 360.7 25.63 L 361.17 25.16 L 361.64 25.14 L 362.12 25.36 L 362.59 25.1 L 363.07 24.43 L 363.54 24.57 L 364.01 25.32 L 364.49 25.78 L 364.96 27.24 L 365.44 26.36 L 365.91 25.1 L 366.38 24.89 L 366.86 24.88 L 367.33 24.26 L 367.81 24.33 L 368.28 24.55 L 368.76 24.11 L 369.23 24.13 L 369.7 24.61 L 370.18 25.75 L 370.65 27.39 L 371.13 22.05 L 371.6 18.33 L 372.07 19.33 L 372.55 19.74 L 373.02 19.38 L 373.5 19.34 L 373.97 19.83 L 374.44 20.13 L 374.92 19.76 L 375.39 20.12 L 377.76 18.9 L 378.24 18 L 378.71 18.29 L 379.18 17.56 L 379.66 16.07 L 381.08 19.56 L 381.56 19.93 L 382.03 18.13 L 382.5 11.45 L 382.98 11.26 L 383.45 11.93 L 383.93 12.89 L 384.4 13.18 L 384.87 13.12 L 385.82 15.09 L 386.3 15.59 L 386.77 15.93 L 387.24 18.18 L 387.72 19.48 L 388.67 15.96 L 389.14 15.23 L 389.61 15.42 L 390.09 15.91 L 390.56 15.52 L 391.04 15.36 L 392.46 15.94 L 392.93 15.59 L 393.88 15.86 L 394.36 15.9 L 396.25 17.19 L 396.73 17.04 L 397.2 16.04 L 397.67 15.69 L 398.62 16.08 L 399.1 16.47 L 399.57 17.4 L 400.04 17.16 L 400.99 17.3 L 401.47 17.83 L 401.94 18.11 L 402.41 17.76 L 402.89 18.23 L 403.36 18.49 L 403.84 18.24 L 404.31 18.46 L 405.26 16.17 L 405.73 16.56 L 406.68 18.26 L 407.16 19.72 L 407.63 19.29 L 408.58 17.43 L 409.05 17.26 L 409.53 18.25 L 410.47 19.09 L 410.95 18.95 L 411.42 18.38 L 412.37 18.18 L 412.84 18.66 L 413.32 19.31 L 413.79 19.58 L 414.74 19.64 L 415.21 20 L 415.69 20.68 L 416.64 19.64 L 417.58 19.29 L 418.06 18.18 L 418.53 18.15 L 419.01 17.05 L 419.48 16.61 L 420.43 24.65 L 420.9 24.47 L 421.85 22.75 L 422.33 22.2 L 422.8 22.23 L 423.27 22.54 L 423.75 22.71 L 424.7 20.31 L 425.17 20.81 L 425.64 20.93 L 426.12 21.4 L 427.07 19.94 L 427.54 20.4 L 428.01 21.35 L 428.49 21.48 L 428.96 21.78 L 429.44 21.45 L 429.91 21.43 L 430.38 21.26 L 430.86 20.27 L 431.33 20.53 L 431.81 21.06 L 432.28 21.39 L 432.76 21.23 L 433.23 21.39 L 433.7 20.98 L 434.18 21.21 L 434.65 21.86 L 435.13 21.64 L 435.6 20.81 L 436.07 20.45 L 436.55 20.64 L 437.02 20.31 L 437.5 20.9 L 437.97 21.29 L 438.44 22.12 L 438.92 22.23 L 439.39 22.08 L 439.87 22.39 L 440.34 22.42 L 440.81 22.58 L 441.29 22.92 L 441.76 23.01 L 442.24 23.24 L 442.71 23.34 L 443.18 24.17 L 443.66 24.62 L 444.13 24.44 L 444.61 23.5 L 445.08 23.97 L 445.56 23.41 L 446.03 23.12 L 446.5 23.74 L 446.98 23.16 L 447.45 23.16 L 447.93 23.5 L 448.87 23.7 L 449.35 24.31 L 450.3 23.46 L 451.24 23.88 L 451.72 23.73 L 452.19 24.39 L 453.14 24.53 L 453.61 25.15 L 454.09 25.42 L 454.56 25.28 L 455.04 24.61 L 456.46 24.52 L 456.93 24.51 L 457.41 23.02 L 457.88 23.04 L 458.36 23.49 L 458.83 23.36 L 459.3 22.89 L 459.78 22 L 460.73 22.03 L 461.2 22.32 L 461.67 22.41 L 462.15 22.98 L 462.62 23.19 L 463.57 22.63 L 464.04 22.23 L 464.52 23.58 L 464.99 23.35 L 465.47 22.52 L 466.41 22.47 L 466.89 22.84 L 467.36 22.93 L 467.84 23.25 L 468.31 23.44 L 468.78 23.01 L 469.26 23.56 L 469.73 22.79 L 470.21 22.34 L 470.68 22.11 L 471.16 22.86 L 471.63 24.87 L 472.1 26.01 L 472.58 25.63 L 473.53 24.28 L 474 24.53 L 474.47 25.69 L 475.42 25.99 L 475.9 26.85 L 476.84 26.65 L 477.79 27.33 L 478.27 27.61 L 478.74 27.19 L 479.69 27.74 L 480.16 27.27 L 480.64 26.53 L 481.58 26.94 L 482.06 27.25 L 482.53 26.81 L 483.01 26.19 L 483.48 26.3 L 483.96 27.13 L 484.43 27.56 L 485.85 26.56 L 486.33 26.38 L 486.8 26.92 L 487.27 27.06 L 487.75 27.06 L 489.17 28.52 L 489.64 28.48 L 490.12 28.11 L 490.59 28.44 L 491.07 28.14 L 491.54 28.23 L 492.01 27.9 L 492.96 28.64 L 493.91 27.5 L 494.38 27.99 L 494.86 28.92 L 495.33 29.15 L 495.81 29.09 L 496.76 29.67 L 497.7 29.94 L 498.18 30.53 L 498.65 30.38 L 499.13 30.6 L 499.6 30.3 L 500.07 29.29 L 500.55 29.11 L 501.02 29.53 L 501.97 34.09 L 502.92 39.35 L 503.39 38.72 L 503.87 37.11 L 504.34 36.48 L 504.81 36.8 L 505.29 37.53 L 505.76 38.06 L 506.24 37.25 L 506.71 36.76 L 507.18 36.84 L 507.66 36.78 L 508.13 36.26 L 509.08 36.32 L 509.56 37.09 L 510.03 36.48 L 510.5 34.38 L 510.98 33.4 L 512.4 33.17 L 514.3 33.53 L 514.77 34.23 L 515.24 34.72 L 516.19 35.11 L 516.67 34.45 L 517.14 34.11 L 517.61 33.51 L 519.04 33.44 L 519.51 33.82 L 519.98 33.73 L 520.46 34.02 L 520.93 34.18 L 521.41 33.48 L 521.88 33.54 L 522.36 33.42 L 522.83 32.93 L 523.3 33.16 L 523.78 32.81 L 524.25 33.07 L 524.73 33.85 L 525.67 34.62 L 526.15 35.92 L 526.62 36.39 L 527.1 31.38 L 527.57 28.36 L 528.52 29.15 L 529.47 30.24 L 530.41 32.03 L 530.89 32.07 L 531.36 31.11 L 532.31 31.59 L 532.78 31.63 L 533.26 30.74 L 533.73 31.91 L 534.21 33.97 L 534.68 33.64 L 535.63 29.53 L 536.1 29.19 L 536.58 29.87 L 537.05 29.92 L 537.53 30.45 L 538 31.7 L 538.47 32.4 L 538.95 32.61 L 539.9 30.46 L 540.37 30.03 L 540.84 31.52 L 541.32 32.32 L 541.79 33.44 L 542.74 31.03 L 543.21 30.33 L 543.69 31.12 L 544.64 33.8 L 545.11 33.02 L 545.58 31.73 L 546.06 31.93 L 546.53 31.34 L 547.01 31.3 L 547.48 32.01 L 548.43 34.21 L 548.9 33.71 L 549.38 34.64 L 549.85 36.1 L 550.33 37.01 L 550.8 37.16 L 551.75 36.71 L 552.7 38.18 L 553.17 38.49 L 554.12 36.06 L 554.59 34.59 L 555.54 33.82 L 556.01 32.84 L 556.96 31.81 L 557.44 32.44 L 557.91 32.25 L 558.38 31.87 L 558.86 31.04 L 559.33 30.99 L 559.81 30.11 L 560.28 31.96 L 561.23 36.8 L 561.7 36.47 L 562.18 34.49 L 562.65 31.55 L 563.13 29.84 L 564.55 27.39 L 565.02 26.95 L 565.5 26.28 L 565.97 25.95 L 566.44 27.67 L 566.92 31.28 L 567.39 39 L 567.87 40.97 L 568.34 40.72 L 568.81 42.06 L 569.29 42.65 L 570.71 46.14 L 571.66 47.23 L 572.13 47.17 L 572.61 48.07 L 573.08 47.84 L 573.56 47.46 L 574.03 47.97 L 574.5 47.69 L 574.98 46.56 L 575.45 46.3 L 575.93 45.48 L 576.4 44.4 L 576.87 45.21 L 577.35 44.78 L 577.82 44.89 L 578.3 45.45 L 579.24 47.45 L 580.19 48.58 L 580.67 48.73 L 581.14 50.06 L 581.61 50.38 L 582.09 50.31 L 583.04 48.73 L 583.51 49.14 L 583.98 48.7 L 584.46 49.51 L 584.46 49.51" clip-path="url(#p4a2bbabca9)" style="fill: none; stroke: #008000; stroke-width: 1.5; stroke-linecap: square"/>
</g>
<g id="line2d_20">
<path d="M 48.76 34.79 L 49.7 32.4 L 50.18 32.69 L 50.65 33.58 L 51.13 34.91 L 52.07 33.49 L 52.55 31.7 L 53.02 32.04 L 53.5 33.09 L 53.97 33.59 L 54.92 33.52 L 55.39 34.99 L 56.34 35.44 L 56.81 34.76 L 57.76 35.55 L 58.24 35.48 L 58.71 34.8 L 59.18 34.67 L 59.66 34.83 L 60.13 37.66 L 60.61 45.53 L 61.08 44.97 L 61.56 44.22 L 62.5 43.56 L 62.98 42.33 L 63.45 38.99 L 63.93 39.09 L 64.4 40.24 L 65.35 41.38 L 65.82 42.51 L 66.3 42.98 L 66.77 42.39 L 67.24 42.45 L 67.72 41.8 L 68.67 41.71 L 69.14 41.72 L 70.56 40.23 L 71.04 40.03 L 71.51 40.1 L 72.93 39.62 L 73.88 39.8 L 74.83 39.79 L 75.3 40.1 L 75.78 39.71 L 76.25 39.61 L 76.73 39.75 L 77.2 39.43 L 77.67 38.91 L 78.15 39.02 L 78.62 38.31 L 79.1 37.87 L 79.57 38.14 L 80.04 39.25 L 81.94 41.5 L 82.41 41.49 L 82.89 41.61 L 83.36 42.13 L 83.84 42.31 L 84.78 44.17 L 85.26 44.66 L 85.73 43.55 L 86.68 43.59 L 87.16 43.05 L 88.58 39.79 L 89.53 43.01 L 90 42.2 L 90.47 40.66 L 90.95 40.91 L 91.9 42.62 L 92.37 42.71 L 93.32 39.96 L 93.79 39.79 L 94.74 39.91 L 95.21 40.8 L 96.16 44.5 L 96.64 44.09 L 97.11 43.49 L 97.58 43.5 L 98.06 43.34 L 98.53 41.84 L 99.01 38.72 L 99.48 37.73 L 99.96 36.46 L 100.43 37.05 L 100.9 40.01 L 101.38 39.12 L 101.85 36.88 L 102.33 35.26 L 103.27 33.52 L 103.75 33.89 L 104.22 35.27 L 104.7 36.06 L 105.17 36.26 L 105.64 35.04 L 106.12 34.17 L 106.59 32.83 L 107.07 32.44 L 107.54 32.54 L 108.01 33.57 L 108.96 36.25 L 109.44 34.75 L 109.91 31.24 L 110.86 30.19 L 111.33 29.95 L 111.81 30.25 L 112.28 30.11 L 112.76 30.25 L 113.23 31.67 L 113.7 32.49 L 114.18 31.77 L 114.65 30.67 L 115.13 29.14 L 115.6 28.38 L 116.07 28.24 L 116.55 28.23 L 117.02 28.82 L 117.5 29.6 L 117.97 29.87 L 118.44 29.54 L 118.92 29.04 L 119.39 28.73 L 120.34 28.77 L 120.81 28.21 L 121.29 27.12 L 121.76 27.28 L 122.71 29.11 L 123.66 31.53 L 124.13 29.16 L 124.61 22.62 L 125.08 21.7 L 125.56 21.57 L 126.5 20.67 L 126.98 20.56 L 127.45 21.52 L 127.93 21.25 L 128.4 21.94 L 128.87 22.36 L 129.35 21.97 L 129.82 21.03 L 130.3 21.59 L 130.77 22.94 L 131.24 23.76 L 131.72 22.81 L 132.19 22.34 L 132.67 23.7 L 133.14 24.48 L 133.61 24.74 L 134.09 25.18 L 134.56 25.24 L 135.04 23.82 L 135.51 22.98 L 135.98 22.84 L 136.46 24.64 L 136.93 27.76 L 137.41 29.7 L 138.36 32.3 L 138.83 32.43 L 139.3 32.12 L 139.78 32.25 L 140.73 31.06 L 141.2 30.8 L 141.67 29.77 L 142.15 29.54 L 142.62 29.62 L 143.1 29.05 L 143.57 27.53 L 144.04 29.19 L 144.52 29.97 L 144.99 27.72 L 145.47 27.18 L 145.94 26.88 L 146.41 28.19 L 147.36 36.98 L 147.84 40.05 L 148.31 41.11 L 148.78 40.57 L 149.26 40.59 L 150.21 44.92 L 150.68 47.4 L 151.16 47.89 L 152.1 48.08 L 152.58 47.89 L 153.05 47.95 L 153.53 48.4 L 154 47.57 L 154.47 47.31 L 154.95 46.45 L 155.42 42.14 L 155.9 39.68 L 156.37 46 L 156.84 45.61 L 157.32 40.31 L 158.74 43.95 L 159.21 44.04 L 159.69 39.81 L 160.16 40.14 L 160.64 40.71 L 161.11 40.15 L 161.58 39.39 L 162.06 25.26 L 162.53 25.35 L 163.48 26.56 L 163.96 26.84 L 164.43 27.31 L 164.9 27.45 L 165.38 26.74 L 165.85 25.65 L 166.33 25.89 L 166.8 26.37 L 167.27 26.11 L 167.75 25.36 L 168.7 25.18 L 169.17 25.98 L 169.64 26.26 L 170.12 25.86 L 170.59 24.87 L 171.07 24.26 L 172.01 24.98 L 172.49 25.4 L 172.96 26.08 L 173.44 27.23 L 174.38 28.33 L 174.86 26.36 L 175.33 26.67 L 175.81 30.54 L 176.28 30.02 L 176.76 28.28 L 177.23 27.23 L 177.7 26.64 L 178.18 27.27 L 178.65 30.56 L 179.13 30.21 L 179.6 28.07 L 180.07 26.88 L 180.55 26.93 L 181.02 27.3 L 181.97 28.71 L 182.44 28.7 L 182.92 28.19 L 183.39 28.79 L 184.81 27.82 L 185.29 27.91 L 185.76 28.19 L 186.24 28.77 L 186.71 28.07 L 187.18 24.95 L 187.66 23.71 L 188.13 22.8 L 188.61 22.33 L 189.08 22.48 L 189.56 23.02 L 190.03 23.17 L 190.5 23.01 L 190.98 24.09 L 191.45 24.81 L 192.87 24.31 L 193.35 24.01 L 193.82 24.16 L 194.3 25.34 L 194.77 26.2 L 195.24 26.11 L 197.14 29.45 L 197.61 30.08 L 198.09 31.28 L 198.56 31.98 L 199.04 32.41 L 199.51 33.32 L 199.98 34.6 L 200.46 33.26 L 200.93 29.47 L 201.41 28.39 L 201.88 26.94 L 202.36 26.93 L 202.83 26.55 L 203.3 26.41 L 203.78 25.5 L 204.25 25.52 L 204.73 25.94 L 205.2 25.85 L 205.67 24.7 L 207.1 22.63 L 207.57 22.45 L 208.04 22.05 L 208.52 22.45 L 208.99 22.49 L 209.47 23.06 L 209.94 22.77 L 210.89 22.9 L 211.36 23.8 L 211.84 24.41 L 212.31 24.74 L 212.78 24.56 L 213.26 24.01 L 213.73 23.15 L 214.21 22.57 L 214.68 23.02 L 215.63 23 L 216.1 21.43 L 216.58 21.2 L 217.05 22.12 L 217.53 22.29 L 218 22.1 L 218.47 21.55 L 218.95 21.57 L 219.42 22.13 L 219.9 22.08 L 220.37 23.74 L 220.84 24.75 L 221.32 24.37 L 221.79 23.11 L 222.27 23.6 L 222.74 24.45 L 223.21 24.15 L 223.69 22.36 L 224.64 25.42 L 225.11 21.47 L 225.58 20.4 L 226.06 20.4 L 227.01 18.39 L 227.48 18.24 L 227.96 17.61 L 228.43 19.28 L 228.9 20.5 L 229.38 24.03 L 229.85 25.17 L 230.33 24.78 L 230.8 21.74 L 231.27 19.87 L 232.22 23.89 L 232.7 26.26 L 233.17 26.55 L 233.64 22.6 L 234.12 22.09 L 234.59 25.78 L 235.07 26.47 L 235.54 23.79 L 236.49 37.31 L 236.96 39.14 L 237.44 39.84 L 238.38 32.52 L 238.86 29.66 L 239.81 28.23 L 240.28 27.98 L 240.76 28.78 L 241.23 29.22 L 241.7 29.4 L 242.18 28.62 L 242.65 27.56 L 244.07 26.22 L 245.02 27.51 L 245.5 27.54 L 245.97 27.99 L 246.92 26.97 L 247.39 27.32 L 247.87 28.45 L 248.34 28.63 L 248.81 29.08 L 249.29 29.71 L 249.76 30.09 L 250.24 29.9 L 250.71 30.29 L 251.18 29.99 L 251.66 29.05 L 252.13 28.65 L 252.61 29.32 L 253.56 30.15 L 254.03 30.91 L 255.93 31.26 L 256.87 32.34 L 257.35 32.4 L 258.3 29.76 L 258.77 29.12 L 259.24 30.13 L 259.72 30.16 L 260.19 29.92 L 261.14 53.14 L 261.61 48.25 L 262.09 46.33 L 262.56 46.82 L 263.04 47.65 L 263.98 47.05 L 264.46 49.11 L 264.93 54.3 L 265.41 54.83 L 265.88 55.09 L 266.36 53.91 L 266.83 53.09 L 267.3 51.86 L 267.78 52.4 L 268.25 52.56 L 268.73 53.31 L 269.67 50.12 L 270.15 49.32 L 270.62 49.62 L 271.57 51.2 L 272.52 49.84 L 273.47 49.66 L 273.94 50.48 L 274.41 50.3 L 274.89 49.82 L 275.36 49.92 L 275.84 50.53 L 276.31 50.85 L 276.78 51.67 L 277.26 52.24 L 277.73 51.75 L 278.21 52.08 L 278.68 52.02 L 279.63 53.54 L 280.1 54.21 L 280.58 55.24 L 281.05 53.29 L 281.53 48.8 L 282 48.14 L 282.47 49.45 L 282.95 50.24 L 283.42 50.48 L 283.9 51.41 L 284.37 51.91 L 285.32 52.51 L 285.79 53.07 L 286.27 52.72 L 286.74 52.19 L 287.69 51.99 L 288.16 53.25 L 290.06 62.39 L 291.48 64.96 L 291.96 63.54 L 292.43 61.25 L 292.9 61.1 L 293.38 61.6 L 293.85 61.69 L 294.33 61.1 L 294.8 60.24 L 295.27 59.86 L 295.75 60.07 L 296.22 60.97 L 296.7 59.86 L 297.17 59.18 L 297.64 58.06 L 298.59 60.47 L 299.07 60.81 L 299.54 59.68 L 300.01 59.96 L 300.49 59.94 L 300.96 59.67 L 301.44 58.02 L 301.91 55.96 L 302.38 56.05 L 302.86 56.77 L 303.33 57 L 303.81 57.89 L 304.28 58.13 L 304.76 58.58 L 305.23 59.62 L 305.7 59.95 L 306.18 61.12 L 306.65 61.82 L 307.13 61.22 L 307.6 60.05 L 308.07 60.51 L 309.02 59.7 L 309.5 58.9 L 309.97 58.86 L 310.44 58.94 L 310.92 60.12 L 311.39 63.32 L 311.87 61.74 L 312.34 57.09 L 312.81 49.56 L 313.29 47.51 L 313.76 46.18 L 314.24 46.94 L 314.71 47.48 L 315.18 47.28 L 315.66 47.92 L 317.08 49.07 L 318.03 51.31 L 318.5 51.89 L 318.98 51.93 L 319.93 51.13 L 320.4 51.65 L 320.87 51.83 L 321.35 52.26 L 321.82 52.95 L 322.3 52.59 L 322.77 52.75 L 323.24 52.59 L 324.19 54.29 L 324.67 54.05 L 325.61 55.66 L 326.09 55.99 L 326.56 55.96 L 327.04 56.41 L 327.51 57.41 L 327.98 55.27 L 328.46 53.72 L 329.41 55.36 L 329.88 55.38 L 330.36 54.8 L 330.83 54.82 L 331.3 56.45 L 331.78 63.44 L 332.25 64.5 L 332.73 62.3 L 333.67 61.37 L 334.15 62.21 L 334.62 65.08 L 335.1 63.49 L 335.57 60.29 L 336.04 59.68 L 336.52 59.58 L 336.99 59.87 L 337.47 59.77 L 337.94 59.92 L 338.89 61.75 L 339.84 62.1 L 340.31 62.21 L 340.78 63.77 L 341.73 65.2 L 342.68 65.43 L 343.16 65.89 L 343.63 65.73 L 344.1 64.99 L 345.05 64.82 L 345.53 65.38 L 346 65.68 L 346.47 65.82 L 347.9 65.63 L 348.37 65.46 L 349.32 64.69 L 349.79 64.87 L 350.27 65.8 L 351.21 65.63 L 351.69 67.01 L 352.16 67.01 L 352.64 66.05 L 353.11 65.92 L 354.06 68.06 L 355.96 68.24 L 356.43 68.18 L 356.9 68.01 L 357.38 67.56 L 357.85 67.9 L 358.8 67.31 L 359.27 66.72 L 359.75 66.74 L 360.22 67.15 L 360.7 66.37 L 361.17 66.72 L 361.64 65.67 L 362.12 65.26 L 362.59 65.9 L 363.07 65.99 L 363.54 65.9 L 364.01 66.04 L 364.49 67.44 L 364.96 68.39 L 366.38 65.67 L 366.86 65.81 L 367.33 66.14 L 367.81 65.32 L 368.28 65.19 L 368.76 65.54 L 369.23 65.54 L 369.7 65.25 L 370.18 65.38 L 370.65 66.26 L 371.13 64.16 L 371.6 62.66 L 372.07 62.47 L 372.55 62.82 L 373.5 61.88 L 373.97 61.61 L 374.92 61.87 L 375.39 61.58 L 375.87 61.9 L 376.34 61.92 L 376.81 61.71 L 377.29 61.16 L 377.76 61.23 L 378.24 61.43 L 378.71 60.22 L 379.18 59.68 L 380.13 60.55 L 381.08 62.21 L 381.56 62.32 L 382.03 54.37 L 382.5 50.11 L 382.98 50.68 L 383.93 52.72 L 384.4 52.51 L 385.35 53.12 L 386.3 54.35 L 386.77 55.16 L 387.72 60.5 L 388.67 55.3 L 389.14 54.41 L 389.61 54.17 L 390.09 54.9 L 390.56 55.11 L 391.51 54.29 L 391.98 53.6 L 392.46 54.82 L 393.41 55.92 L 393.88 56.13 L 394.36 57.05 L 394.83 56.81 L 395.3 56.74 L 395.78 57.31 L 396.25 57.59 L 397.67 57.83 L 398.15 57.07 L 399.1 58.29 L 400.04 58.69 L 400.52 59.07 L 400.99 59.1 L 401.94 60.03 L 402.41 59.71 L 402.89 59.83 L 403.36 60.81 L 403.84 61.4 L 404.31 60.93 L 405.26 58.75 L 405.73 59.29 L 406.21 60.39 L 407.16 62.01 L 407.63 62.16 L 408.1 61.63 L 408.58 61.73 L 409.05 62.28 L 409.53 62.27 L 410 62.09 L 410.47 62.59 L 410.95 62.36 L 411.9 60.54 L 412.37 60.15 L 412.84 60.52 L 413.32 61.63 L 414.27 62.83 L 414.74 62.96 L 415.69 64.38 L 416.64 62.76 L 417.11 62.42 L 417.58 62.54 L 418.53 61.68 L 419.48 60.54 L 419.96 62.11 L 420.43 64.31 L 420.9 64.49 L 421.38 64.27 L 421.85 64.72 L 422.33 64.81 L 422.8 64.31 L 423.27 64.34 L 423.75 63.94 L 424.22 62.96 L 424.7 63.17 L 425.17 63.58 L 426.12 62.79 L 426.59 63.65 L 427.07 63.46 L 427.54 63.44 L 428.01 63.58 L 428.96 63.28 L 429.44 63.56 L 429.91 64.54 L 430.38 64.46 L 430.86 63.93 L 431.81 63.35 L 432.28 60.86 L 432.76 59.86 L 434.18 61.32 L 434.65 60.87 L 435.13 60.87 L 435.6 60.66 L 436.07 60.88 L 436.55 61.72 L 437.02 61.56 L 437.97 60.95 L 438.44 61.84 L 438.92 62.2 L 439.87 57.7 L 440.81 57.69 L 441.29 57.33 L 442.71 58.78 L 443.18 58.76 L 443.66 59.3 L 444.13 60.03 L 444.61 59.17 L 445.08 59.3 L 445.56 59.76 L 446.03 59.22 L 446.5 59.57 L 446.98 61.47 L 448.4 64.18 L 448.87 63.66 L 449.35 64.09 L 449.82 63.53 L 450.3 62.66 L 450.77 63.07 L 451.24 62.92 L 451.72 62.61 L 452.19 62.1 L 452.67 62.52 L 453.61 61.83 L 454.09 62.03 L 454.56 61.91 L 455.04 61.55 L 455.51 60.41 L 455.98 60.56 L 456.46 61.3 L 456.93 60.98 L 457.41 61.47 L 457.88 61.25 L 459.78 62.68 L 460.25 62.81 L 460.73 62.79 L 461.67 61.96 L 462.62 62.13 L 463.1 62.83 L 463.57 62.96 L 464.04 63.25 L 464.52 63.08 L 464.99 63.18 L 465.94 62.21 L 466.89 63.07 L 467.84 63.81 L 468.31 62.93 L 468.78 62.33 L 469.26 62.14 L 469.73 62.5 L 470.21 63.4 L 470.68 63.58 L 471.16 64.23 L 471.63 63.69 L 472.58 62.03 L 473.05 63.1 L 473.53 63.13 L 474 63.03 L 474.47 62.65 L 475.42 63.45 L 475.9 64.05 L 476.84 64.26 L 477.79 64.56 L 478.27 63.7 L 478.74 64.26 L 479.21 65.04 L 479.69 64.44 L 480.16 64.97 L 480.64 65.16 L 481.11 64.07 L 481.58 63.96 L 482.06 63.45 L 482.53 63.11 L 483.48 64.09 L 483.96 63.84 L 484.9 65.42 L 485.38 65.61 L 485.85 65.29 L 486.33 65.38 L 486.8 64.85 L 487.27 63.61 L 487.75 63.81 L 488.22 64.61 L 488.7 65.66 L 489.17 66.14 L 489.64 65.59 L 490.12 65.53 L 491.07 64.45 L 491.54 64.2 L 492.01 64.44 L 492.96 64.55 L 493.44 65.03 L 494.38 64.82 L 494.86 64.86 L 495.33 65.37 L 495.81 65.19 L 496.28 64.12 L 496.76 64.15 L 497.23 64.73 L 497.7 64.9 L 498.18 64.58 L 498.65 65.18 L 500.07 65.39 L 500.55 64.96 L 501.5 66.07 L 501.97 66.03 L 502.44 64.99 L 503.87 64.69 L 504.34 63.57 L 504.81 63.86 L 505.29 64.32 L 506.24 64.02 L 506.71 63.78 L 507.18 65.36 L 507.66 65.45 L 508.13 65.28 L 508.61 65.78 L 509.08 66.08 L 510.03 64.9 L 510.5 64.82 L 510.98 64.95 L 511.93 64.93 L 512.4 65.05 L 512.87 65.53 L 513.35 65.47 L 513.82 65.74 L 514.77 65.06 L 515.24 65.45 L 515.72 65.08 L 516.19 64.91 L 516.67 65.33 L 517.14 64.76 L 517.61 64.59 L 518.56 65.33 L 519.51 65.9 L 520.46 65.15 L 520.93 65.25 L 521.41 64.87 L 521.88 65.16 L 522.36 65.3 L 522.83 64.98 L 523.3 65.16 L 523.78 65.59 L 524.25 65.17 L 524.73 65.59 L 525.2 65.24 L 525.67 65.31 L 526.15 64.86 L 526.62 65.11 L 527.1 64.6 L 527.57 64.57 L 528.04 64.23 L 528.99 65.3 L 529.47 65.3 L 529.94 65.12 L 530.41 64.63 L 530.89 64.93 L 531.36 65.45 L 531.84 64.97 L 532.31 65.3 L 532.78 66.27 L 533.26 66.15 L 533.73 65.79 L 534.21 65.67 L 534.68 65.87 L 535.16 65.85 L 535.63 66.28 L 536.1 65.94 L 536.58 65.92 L 537.05 65.53 L 538 65.47 L 538.47 65.09 L 539.42 63.23 L 539.9 63.02 L 540.84 65.73 L 541.32 66.62 L 541.79 66.33 L 542.27 64.83 L 542.74 64.31 L 543.21 64.7 L 543.69 65.27 L 544.16 65.45 L 544.64 64.89 L 545.58 63.31 L 546.53 65.34 L 547.01 64.84 L 547.48 65.21 L 547.96 65.33 L 548.43 64.5 L 548.9 64.07 L 549.38 64.06 L 549.85 64.2 L 550.33 64.16 L 550.8 64.72 L 551.27 64.83 L 552.7 60.23 L 553.17 59.63 L 553.64 59.73 L 554.12 59.48 L 554.59 59.36 L 555.54 56.92 L 556.01 56.94 L 556.49 57.47 L 556.96 57.64 L 557.91 56.19 L 558.38 55.81 L 558.86 56.87 L 559.33 58.38 L 559.81 57.07 L 560.76 53.69 L 561.23 55.27 L 561.7 55.94 L 562.18 56.08 L 562.65 56.61 L 563.13 56.22 L 563.6 54.74 L 564.07 54.52 L 564.55 54.03 L 565.5 49.13 L 566.44 33.34 L 566.92 20.33 L 567.39 18.45 L 567.87 18.62 L 568.34 18.42 L 568.81 19.29 L 569.29 19.32 L 569.76 19.01 L 570.24 19.25 L 570.71 19.18 L 571.18 18.31 L 571.66 18.1 L 572.13 18.71 L 573.56 21.16 L 574.5 19.76 L 574.98 20.41 L 575.45 23.62 L 575.93 25.79 L 576.4 22.6 L 576.87 20.41 L 577.35 19.01 L 577.82 17.98 L 578.3 17.82 L 578.77 16.7 L 580.19 15.04 L 580.67 15.21 L 581.14 15.51 L 582.09 16.39 L 582.56 17.35 L 583.51 15.53 L 583.98 14.66 L 584.46 14.91 L 584.46 14.91" clip-path="url(#p4a2bbabca9)" style="fill: none; stroke: #0000ff; stroke-width: 1.5; stroke-linecap: square"/>
</g>
<g id="line2d_21">
<path d="M 130.67 78.93 L 130.67 3.38" clip-path="url(#p4a2bbabca9)" style="fill: none; stroke-dasharray: 5.55,2.4; stroke-dashoffset: 0; stroke: #000000; stroke-width: 1.5"/>
</g>
<g id="line2d_22">
<path d="M 162.61 78.93 L 162.61 3.38" clip-path="url(#p4a2bbabca9)" style="fill: none; stroke-dasharray: 5.55,2.4; stroke-dashoffset: 0; stroke: #000000; stroke-width: 1.5"/>
</g>
<g id="line2d_23">
<path d="M 316.59 78.93 L 316.59 3.38" clip-path="url(#p4a2bbabca9)" style="fill: none; stroke-dasharray: 5.55,2.4; stroke-dashoffset: 0; stroke: #000000; stroke-width: 1.5"/>
</g>
<g id="line2d_24">
<path d="M 472.59 78.93 L 472.59 3.38" clip-path="url(#p4a2bbabca9)" style="fill: none; stroke-dasharray: 5.55,2.4; stroke-dashoffset: 0; stroke: #000000; stroke-width: 1.5"/>
</g>
<g id="line2d_25">
<path d="M 244.98 78.93 L 244.98 3.38" clip-path="url(#p4a2bbabca9)" style="fill: none; stroke-dasharray: 5.55,2.4; stroke-dashoffset: 0; stroke: #ff0000; stroke-width: 1.5"/>
</g>
<g id="line2d_26">
<path d="M 304.59 78.93 L 304.59 3.38" clip-path="url(#p4a2bbabca9)" style="fill: none; stroke-dasharray: 5.55,2.4; stroke-dashoffset: 0; stroke: #ff0000; stroke-width: 1.5"/>
</g>
<g id="patch_3">
<path d="M 48.71 78.93 L 48.71 3.38" style="fill: none; stroke: #000000; stroke-width: 0.8; stroke-linejoin: miter; stroke-linecap: square"/>
</g>
<g id="patch_4">
<path d="M 584.89 78.93 L 584.89 3.38" style="fill: none; stroke: #000000; stroke-width: 0.8; stroke-linejoin: miter; stroke-linecap: square"/>
</g>
<g id="patch_5">
<path d="M 48.71 78.93 L 584.89 78.93" style="fill: none; stroke: #000000; stroke-width: 0.8; stroke-linejoin: miter; stroke-linecap: square"/>
</g>
<g id="patch_6">
<path d="M 48.71 3.38 L 584.89 3.38" style="fill: none; stroke: #000000; stroke-width: 0.8; stroke-linejoin: miter; stroke-linecap: square"/>
</g>
<g id="text_16">
<text style="font-size: 10px; font-family: 'DejaVu Sans'; text-anchor: end" x="584.888889" y="106.327326" transform="rotate(-0 584.888889 106.327326)">2019-Dec-21</text>
</g>
<g id="legend_1">
<g id="patch_7">
<path d="M 591.46 62.61 L 635.16 62.61 Q 637.16 62.61 637.16 60.61 L 637.16 14.16 Q 637.16 12.16 635.16 12.16 L 591.46 12.16 Q 589.46 12.16 589.46 14.16 L 589.46 60.61 Q 589.46 62.61 591.46 62.61 z" style="fill: #ffffff; opacity: 0.8; stroke: #cccccc; stroke-linejoin: miter"/>
</g>
<g id="line2d_27">
<path d="M 593.86 20.65 L 603.86 20.65 L 613.86 20.65" style="fill: none; stroke: #ff0000; stroke-width: 1.5; stroke-linecap: square"/>
</g>
<g id="text_17">
<g transform="translate(621.459947 24.153993)">
<text>
<tspan x="0" y="-0.703125" style="font-style: oblique; font-size: 10px; font-family: 'DejaVu Sans'">B</tspan>
<tspan x="6.860352" y="0.9375" style="font-style: oblique; font-size: 7px; font-family: 'DejaVu Sans'">x</tspan>
</text>
</g>
</g>
<g id="line2d_28">
<path d="M 593.86 36.13 L 603.86 36.13 L 613.86 36.13" style="fill: none; stroke: #008000; stroke-width: 1.5; stroke-linecap: square"/>
</g>
<g id="text_18">
<g transform="translate(621.459947 39.632118)">
<text>
<tspan x="0" y="-0.703125" style="font-style: oblique; font-size: 10px; font-family: 'DejaVu Sans'">B</tspan>
<tspan x="6.860352" y="0.9375" style="font-style: oblique; font-size: 7px; font-family: 'DejaVu Sans'">y</tspan>
</text>
</g>
</g>
<g id="line2d_29">
<path d="M 593.86 52.63 L 603.86 52.63 L 613.86 52.63" style="fill: none; stroke: #0000ff; stroke-width: 1.5; stroke-linecap: square"/>
</g>
<g id="text_19">
<g transform="translate(621.459947 56.130556)">
<text>
<tspan x="0" y="-0.703125" style="font-style: oblique; font-size: 10px; font-family: 'DejaVu Sans'">B</tspan>
<tspan x="6.860352" y="0.9375" style="font-style: oblique; font-size: 7px; font-family: 'DejaVu Sans'">z</tspan>
</text>
</g>
</g>
</g>
</g>
<g id="axes_2">
<g id="patch_8">
<path d="M 48.71 189.21 L 260.89 189.21 L 260.89 114.04 L 48.71 114.04 L 48.71 189.21 z" style="fill: none; opacity: 0"/>
</g>
<g id="text_20">
<text style="font-size: 18.2px; font-family: 'DejaVu Sans'; text-anchor: middle" x="247.940741" y="132.73286" transform="rotate(-0 247.940741 132.73286)">(b)</text>
</g>
<g id="matplotlib.axis_3">
<g id="xtick_9">
<g id="line2d_30">
<g>
<use href="#m1504cfccaf" x="56.148148" y="189.214815" style="stroke: #000000; stroke-width: 0.8"/>
</g>
</g>
</g>
<g id="xtick_10">
<g id="line2d_31">
<g>
<use href="#m1504cfccaf" x="95.555556" y="189.214815" style="stroke: #000000; stroke-width: 0.8"/>
</g>
</g>
</g>
<g id="xtick_11">
<g id="line2d_32">
<g>
<use href="#m1504cfccaf" x="134.962963" y="189.214815" style="stroke: #000000; stroke-width: 0.8"/>
</g>
</g>
</g>
<g id="xtick_12">
<g id="line2d_33">
<g>
<use href="#m1504cfccaf" x="174.37037" y="189.214815" style="stroke: #000000; stroke-width: 0.8"/>
</g>
</g>
</g>
<g id="xtick_13">
<g id="line2d_34">
<g>
<use href="#m1504cfccaf" x="213.777778" y="189.214815" style="stroke: #000000; stroke-width: 0.8"/>
</g>
</g>
</g>
<g id="xtick_14">
<g id="line2d_35">
<g>
<use href="#m1504cfccaf" x="253.185185" y="189.214815" style="stroke: #000000; stroke-width: 0.8"/>
</g>
</g>
</g>
</g>
<g id="matplotlib.axis_4">
<g id="ytick_6">
<g id="line2d_36">
<g>
<use href="#m5d545ce8f8" x="48.711111" y="124.005926" style="stroke: #000000; stroke-width: 0.8"/>
</g>
</g>
<g id="text_21">
<text style="font-size: 10px; font-family: 'DejaVu Sans'; text-anchor: end" x="41.711111" y="127.805145" transform="rotate(-0 41.711111 127.805145)">40</text>
</g>
</g>
<g id="ytick_7">
<g id="line2d_37">
<g>
<use href="#m5d545ce8f8" x="48.711111" y="145.736296" style="stroke: #000000; stroke-width: 0.8"/>
</g>
</g>
<g id="text_22">
<text style="font-size: 10px; font-family: 'DejaVu Sans'; text-anchor: end" x="41.711111" y="149.535515" transform="rotate(-0 41.711111 149.535515)">20</text>
</g>
</g>
<g id="ytick_8">
<g id="line2d_38">
<g>
<use href="#m5d545ce8f8" x="48.711111" y="167.466667" style="stroke: #000000; stroke-width: 0.8"/>
</g>
</g>
<g id="text_23">
<text style="font-size: 10px; font-family: 'DejaVu Sans'; text-anchor: end" x="41.711111" y="171.265885" transform="rotate(-0 41.711111 171.265885)">0</text>
</g>
</g>
<g id="ytick_9">
<g id="line2d_39">
<g>
<use href="#m5d545ce8f8" x="48.711111" y="189.197037" style="stroke: #000000; stroke-width: 0.8"/>
</g>
</g>
<g id="text_24">
<text style="font-size: 10px; font-family: 'DejaVu Sans'; text-anchor: end" x="41.711111" y="192.996256" transform="rotate(-0 41.711111 192.996256)">−20</text>
</g>
</g>
<g id="text_25">
<g transform="translate(14.526736 183.17963) rotate(-90)">
<text>
<tspan x="0" y="-0.703125" style="font-style: oblique; font-size: 10px; font-family: 'DejaVu Sans'">T</tspan>
<tspan x="6.108398" y="-0.703125" style="font-style: oblique; font-size: 10px; font-family: 'DejaVu Sans'">H</tspan>
<tspan x="13.62793" y="-0.703125" style="font-style: oblique; font-size: 10px; font-family: 'DejaVu Sans'">E</tspan>
<tspan x="23.193327" y="-0.703125" style="font-style: oblique; font-size: 10px; font-family: 'DejaVu Sans'">B</tspan>
<tspan x="50.62985" y="-0.703125" style="font-style: oblique; font-size: 10px; font-family: 'DejaVu Sans'">n</tspan>
<tspan x="56.967741" y="-0.703125" style="font-style: oblique; font-size: 10px; font-family: 'DejaVu Sans'">T</tspan>
<tspan x="30.053678" y="0.9375" style="font-style: oblique; font-size: 7px; font-family: 'DejaVu Sans'">L</tspan>
<tspan x="33.953581" y="0.9375" style="font-style: oblique; font-size: 7px; font-family: 'DejaVu Sans'">M</tspan>
<tspan x="39.993132" y="0.9375" style="font-style: oblique; font-size: 7px; font-family: 'DejaVu Sans'">N</tspan>
<tspan x="45.502897" y="-0.703125" style="font-size: 10px; font-family: 'DejaVu Sans'">,</tspan>
</text>
</g>
</g>
</g>
<g id="line2d_40">
<path d="M 50.12 126.15 L 53.43 125.54 L 56.44 125.36 L 59.45 125.42 L 65.48 125.24 L 71.5 124.94 L 75.72 124.76 L 80.54 124.64 L 86.56 124.82 L 91.98 124.64 L 97.1 124.52 L 99.81 123.92 L 102.82 123.43 L 105.23 122.95 L 107.94 121.63 L 110.65 120.12 L 113.49 117.53 L 116.2 125.84 L 118.91 128.37 L 121.8 126.75 L 124.39 131.75 L 127.04 128.98 L 129.93 127.95 L 132.46 125.12 L 135.35 126.33 L 138.06 131.75 L 140.65 132.95 L 143.48 129.76 L 146.19 125.72 L 148.9 122.71 L 151.61 130.78 L 154.32 132.77 L 157.04 133.37 L 159.8 140.3 L 162.51 143.91 L 165.22 146.44 L 167.93 140.42 L 170.64 138.19 L 173.35 140.42 L 176.06 142.83 L 178.77 140.18 L 181.48 141.63 L 184.19 139.1 L 186.9 135 L 189.73 138.49 L 192.32 125.36 L 195.03 123.43 L 197.74 118.5 L 200.46 118.31 L 203.17 120.12 L 205.88 120.6 L 208.59 120.3 L 211.3 120.24 L 214.31 120.6 L 217.32 120.6 L 222.14 120.78 L 225.15 120.12 L 228.16 119.94 L 233.58 119.7 L 237.2 120 L 240.81 120.6 L 244.43 119.94 L 250.45 119.82 L 255.27 119.7 L 258.58 119.22" clip-path="url(#p9e9367c053)" style="fill: none; stroke: #ff0000; stroke-width: 1.5; stroke-linecap: square"/>
</g>
<g id="line2d_41">
<path d="M 50.12 163.19 L 53.43 163.67 L 56.44 163.19 L 59.15 162.47 L 61.86 162.59 L 64.88 162.11 L 66.68 162.11 L 70.3 162.47 L 73.31 162.59 L 76.32 162.47 L 78.73 162.59 L 81.14 162.89 L 83.55 162.71 L 86.26 161.68 L 88.97 160.48 L 91.98 158.97 L 94.69 158.07 L 97.1 157.77 L 99.81 158.07 L 102.52 158.67 L 105.23 158.85 L 108.24 159.58 L 110.65 159.27 L 113.49 159.7 L 116.2 172.71 L 118.91 174.51 L 121.8 167.11 L 124.39 154.15 L 127.04 151.44 L 129.81 157.47 L 132.46 156.56 L 135.35 154.88 L 138.06 148.43 L 140.65 144.4 L 143.48 150.06 L 146.19 152.47 L 148.9 162.29 L 151.61 151.75 L 154.32 145.42 L 157.04 157.17 L 159.8 162.59 L 162.39 169.09 L 165.22 159.27 L 167.93 157.47 L 170.64 160.06 L 173.35 158.07 L 176.06 157.89 L 178.77 160.66 L 181.48 165.6 L 184.19 162.29 L 186.9 161.99 L 189.73 164.39 L 192.32 166.8 L 195.03 163.79 L 197.74 165.6 L 200.46 160.66 L 203.47 163.07 L 205.88 163.07 L 208.59 163.49 L 211.3 163.79 L 214.31 162.11 L 217.02 160.48 L 219.73 159.46 L 222.32 157.89 L 225.15 159.09 L 228.16 159.58 L 232.98 159.46 L 235.99 159.88 L 238.7 160.18 L 241.41 159.58 L 243.82 159.27 L 246.84 159.58 L 249.85 159.27 L 252.26 159.46 L 255.27 160.18 L 258.58 160.9" clip-path="url(#p9e9367c053)" style="fill: none; stroke: #008000; stroke-width: 1.5; stroke-linecap: square"/>
</g>
<g id="line2d_42">
<path d="M 50.12 175.84 L 53.43 176.32 L 56.44 176.02 L 59.15 175.72 L 61.86 175.12 L 64.88 174.76 L 68.49 174.63 L 72.71 174.51 L 76.32 174.15 L 80.54 174.03 L 83.55 173.55 L 86.26 172.95 L 88.97 172.1 L 91.98 173.13 L 94.69 173.73 L 97.1 172.83 L 99.81 172.95 L 102.52 172.83 L 105.23 172.35 L 108.24 172.53 L 110.65 172.83 L 113.49 174.03 L 116.2 181.14 L 118.91 177.35 L 121.8 173.73 L 124.39 154.15 L 127.04 166.68 L 129.81 167.29 L 132.46 174.15 L 135.35 177.53 L 138.06 184.57 L 140.65 185.96 L 143.48 177.35 L 146.19 174.76 L 148.9 167.29 L 151.61 165.12 L 154.32 167.41 L 157.04 166.08 L 159.8 169.51 L 162.51 170.42 L 165.22 165.9 L 167.93 168.91 L 170.64 170.54 L 173.35 169.82 L 176.06 170.54 L 178.77 173.73 L 181.48 173.91 L 184.19 171.74 L 186.9 172.71 L 189.73 174.51 L 192.32 169.94 L 195.03 169.51 L 197.74 165.72 L 200.46 171.74 L 203.17 172.53 L 205.88 170.72 L 208.59 169.7 L 211.3 169.39 L 214.31 169.39 L 217.02 169.82 L 219.73 170.72 L 222.44 171.62 L 225.15 172.23 L 230.57 172.1 L 232.98 171.32 L 235.99 170.12 L 238.7 169.82 L 241.41 170.54 L 244.43 170.72 L 246.84 171.14 L 249.85 172.23 L 252.86 173.31 L 255.27 173.91 L 258.58 174.15" clip-path="url(#p9e9367c053)" style="fill: none; stroke: #0000ff; stroke-width: 1.5; stroke-linecap: square"/>
</g>
<g id="patch_9">
<path d="M 48.71 189.21 L 48.71 114.04" style="fill: none; stroke: #000000; stroke-width: 0.8; stroke-linejoin: miter; stroke-linecap: square"/>
</g>
<g id="patch_10">
<path d="M 260.89 189.21 L 260.89 114.04" style="fill: none; stroke: #000000; stroke-width: 0.8; stroke-linejoin: miter; stroke-linecap: square"/>
</g>
<g id="patch_11">
<path d="M 48.71 189.21 L 260.89 189.21" style="fill: none; stroke: #000000; stroke-width: 0.8; stroke-linejoin: miter; stroke-linecap: square"/>
</g>
<g id="patch_12">
<path d="M 48.71 114.04 L 260.89 114.04" style="fill: none; stroke: #000000; stroke-width: 0.8; stroke-linejoin: miter; stroke-linecap: square"/>
</g>
<g id="legend_2">
<g id="patch_13">
<path d="M 267.46 171.04 L 313.06 171.04 Q 315.06 171.04 315.06 169.04 L 315.06 124.8 Q 315.06 122.8 313.06 122.8 L 267.46 122.8 Q 265.46 122.8 265.46 124.8 L 265.46 169.04 Q 265.46 171.04 267.46 171.04 z" style="fill: #ffffff; opacity: 0.8; stroke: #cccccc; stroke-linejoin: miter"/>
</g>
<g id="line2d_43">
<path d="M 269.86 131.3 L 279.86 131.3 L 289.86 131.3" style="fill: none; stroke: #ff0000; stroke-width: 1.5; stroke-linecap: square"/>
</g>
<g id="text_26">
<g transform="translate(297.464533 134.8014)">
<text>
<tspan x="0" y="-0.703125" style="font-style: oblique; font-size: 10px; font-family: 'DejaVu Sans'">B</tspan>
<tspan x="6.860352" y="0.9375" style="font-style: oblique; font-size: 7px; font-family: 'DejaVu Sans'">L</tspan>
</text>
</g>
</g>
<g id="line2d_44">
<path d="M 269.86 146.18 L 279.86 146.18 L 289.86 146.18" style="fill: none; stroke: #008000; stroke-width: 1.5; stroke-linecap: square"/>
</g>
<g id="text_27">
<g transform="translate(297.464533 149.679525)">
<text>
<tspan x="0" y="-0.703125" style="font-style: oblique; font-size: 10px; font-family: 'DejaVu Sans'">B</tspan>
<tspan x="6.860352" y="0.9375" style="font-style: oblique; font-size: 7px; font-family: 'DejaVu Sans'">M</tspan>
</text>
</g>
</g>
<g id="line2d_45">
<path d="M 269.86 161.06 L 279.86 161.06 L 289.86 161.06" style="fill: none; stroke: #0000ff; stroke-width: 1.5; stroke-linecap: square"/>
</g>
<g id="text_28">
<g transform="translate(297.464533 164.55765)">
<text>
<tspan x="0" y="-0.703125" style="font-style: oblique; font-size: 10px; font-family: 'DejaVu Sans'">B</tspan>
<tspan x="6.860352" y="0.9375" style="font-style: oblique; font-size: 7px; font-family: 'DejaVu Sans'">N</tspan>
</text>
</g>
</g>
</g>
</g>
<g id="axes_3">
<g id="patch_14">
<path d="M 48.71 276.33 L 260.89 276.33 L 260.89 201.13 L 48.71 201.13 L 48.71 276.33 z" style="fill: none; opacity: 0"/>
</g>
<g id="text_29">
<text style="font-size: 18.2px; font-family: 'DejaVu Sans'; text-anchor: middle" x="248.059259" y="219.873601" transform="rotate(-0 248.059259 219.873601)">(c)</text>
</g>
<g id="matplotlib.axis_5">
<g id="xtick_15">
<g id="line2d_46">
<g>
<use href="#m1504cfccaf" x="56.148148" y="276.325926" style="stroke: #000000; stroke-width: 0.8"/>
</g>
</g>
</g>
<g id="xtick_16">
<g id="line2d_47">
<g>
<use href="#m1504cfccaf" x="95.555556" y="276.325926" style="stroke: #000000; stroke-width: 0.8"/>
</g>
</g>
</g>
<g id="xtick_17">
<g id="line2d_48">
<g>
<use href="#m1504cfccaf" x="134.962963" y="276.325926" style="stroke: #000000; stroke-width: 0.8"/>
</g>
</g>
</g>
<g id="xtick_18">
<g id="line2d_49">
<g>
<use href="#m1504cfccaf" x="174.37037" y="276.325926" style="stroke: #000000; stroke-width: 0.8"/>
</g>
</g>
</g>
<g id="xtick_19">
<g id="line2d_50">
<g>
<use href="#m1504cfccaf" x="213.777778" y="276.325926" style="stroke: #000000; stroke-width: 0.8"/>
</g>
</g>
</g>
<g id="xtick_20">
<g id="line2d_51">
<g>
<use href="#m1504cfccaf" x="253.185185" y="276.325926" style="stroke: #000000; stroke-width: 0.8"/>
</g>
</g>
</g>
</g>
<g id="matplotlib.axis_6">
<g id="ytick_10">
<g id="line2d_52">
<g>
<use href="#m5d545ce8f8" x="48.711111" y="206.548148" style="stroke: #000000; stroke-width: 0.8"/>
</g>
</g>
<g id="text_30">
<text style="font-size: 10px; font-family: 'DejaVu Sans'; text-anchor: end" x="41.711111" y="210.347367" transform="rotate(-0 41.711111 210.347367)">200</text>
</g>
</g>
<g id="ytick_11">
<g id="line2d_53">
<g>
<use href="#m5d545ce8f8" x="48.711111" y="227.540741" style="stroke: #000000; stroke-width: 0.8"/>
</g>
</g>
<g id="text_31">
<text style="font-size: 10px; font-family: 'DejaVu Sans'; text-anchor: end" x="41.711111" y="231.339959" transform="rotate(-0 41.711111 231.339959)">100</text>
</g>
</g>
<g id="ytick_12">
<g id="line2d_54">
<g>
<use href="#m5d545ce8f8" x="48.711111" y="248.533333" style="stroke: #000000; stroke-width: 0.8"/>
</g>
</g>
<g id="text_32">
<text style="font-size: 10px; font-family: 'DejaVu Sans'; text-anchor: end" x="41.711111" y="252.332552" transform="rotate(-0 41.711111 252.332552)">0</text>
</g>
</g>
<g id="ytick_13">
<g id="line2d_55">
<g>
<use href="#m5d545ce8f8" x="48.711111" y="269.525926" style="stroke: #000000; stroke-width: 0.8"/>
</g>
</g>
<g id="text_33">
<text style="font-size: 10px; font-family: 'DejaVu Sans'; text-anchor: end" x="41.711111" y="273.325145" transform="rotate(-0 41.711111 273.325145)">−100</text>
</g>
</g>
<g id="text_34">
<g transform="translate(8.164236 277.075926) rotate(-90)">
<text>
<tspan x="0" y="-0.40625" style="font-style: oblique; font-size: 10px; font-family: 'DejaVu Sans'">T</tspan>
<tspan x="6.108398" y="-0.40625" style="font-style: oblique; font-size: 10px; font-family: 'DejaVu Sans'">H</tspan>
<tspan x="13.62793" y="-0.40625" style="font-style: oblique; font-size: 10px; font-family: 'DejaVu Sans'">E</tspan>
<tspan x="23.193327" y="-0.40625" style="font-style: oblique; font-size: 10px; font-family: 'DejaVu Sans'">V</tspan>
<tspan x="52.555143" y="-0.40625" style="font-style: oblique; font-size: 10px; font-family: 'DejaVu Sans'">k</tspan>
<tspan x="58.346159" y="-0.40625" style="font-style: oblique; font-size: 10px; font-family: 'DejaVu Sans'">m</tspan>
<tspan x="71.45651" y="-0.40625" style="font-style: oblique; font-size: 10px; font-family: 'DejaVu Sans'">s</tspan>
<tspan x="30.034147" y="1.234375" style="font-style: oblique; font-size: 7px; font-family: 'DejaVu Sans'">i</tspan>
<tspan x="31.978971" y="1.234375" style="font-style: oblique; font-size: 7px; font-family: 'DejaVu Sans'">L</tspan>
<tspan x="35.878874" y="1.234375" style="font-style: oblique; font-size: 7px; font-family: 'DejaVu Sans'">M</tspan>
<tspan x="41.918425" y="1.234375" style="font-style: oblique; font-size: 7px; font-family: 'DejaVu Sans'">N</tspan>
<tspan x="47.42819" y="-0.40625" style="font-size: 10px; font-family: 'DejaVu Sans'">,</tspan>
<tspan x="68.08737" y="-0.40625" style="font-size: 10px; font-family: 'DejaVu Sans'">/</tspan>
</text>
</g>
</g>
</g>
<g id="line2d_56">
<path d="M 49.21 257.43 L 52.53 255.26 L 55.24 254.42 L 57.95 253.45 L 60.66 255.14 L 63.37 253.21 L 66.08 252.85 L 68.79 249.72 L 71.5 250.2 L 74.21 249.6 L 76.92 249.24 L 79.63 248.03 L 82.34 248.03 L 85.05 246.22 L 87.76 246.71 L 90.48 247.43 L 93.19 247.19 L 95.9 248.21 L 98.61 248.39 L 101.32 247.43 L 104.03 247.01 L 107.04 246.1 L 109.75 250.32 L 112.34 250.02 L 115.17 248.39 L 117.88 239 L 120.59 234.66 L 123.3 233.33 L 126.01 228.76 L 128.72 230.56 L 131.44 234.96 L 134.15 236.59 L 136.86 239.6 L 139.57 243.57 L 142.28 243.21 L 144.99 242.61 L 147.7 234.78 L 150.53 235.26 L 153.3 239.6 L 155.83 236.35 L 157.04 234.06 L 158.29 231.95 L 161.3 224.42 L 164.01 224.42 L 166.84 227.91 L 169.61 222.31 L 172.14 222.61 L 174.86 223.09 L 177.57 223.09 L 180.28 223.82 L 182.99 224.3 L 185.7 225.32 L 188.41 225.62 L 191.3 228.76 L 193.83 222.61 L 196.84 224.3 L 199.55 240.98 L 202.26 240.08 L 204.97 240.68 L 207.68 246.1 L 210.39 244.6 L 213.1 245.8 L 215.82 244.18 L 218.53 245.38 L 221.24 242.01 L 224.25 245.02 L 226.96 244.3 L 229.67 244.6 L 232.38 245.8 L 234.79 246.22 L 238.1 245.38 L 240.81 245.2 L 243.52 245.5 L 245.63 246.41 L 248.34 245.38 L 251.05 249.24 L 253.76 251.4 L 256.47 246.83 L 260.09 250.02" clip-path="url(#p5d24b00278)" style="fill: none; stroke: #ff0000; stroke-width: 1.5; stroke-linecap: square"/>
</g>
<g id="line2d_57">
<path d="M 49.21 244 L 52.53 243.21 L 55.24 240.8 L 57.95 242.49 L 60.66 242.37 L 63.37 246.41 L 66.08 247.43 L 68.79 250.32 L 71.5 248.03 L 74.21 251.22 L 76.92 253.33 L 79.63 254.66 L 82.34 255.74 L 85.05 256.83 L 87.76 259.36 L 90.48 261.77 L 93.19 262.49 L 95.9 262.97 L 98.61 264.17 L 101.62 263.57 L 104.03 260.56 L 107.04 260.44 L 109.75 258.27 L 112.34 253.63 L 115.17 261.77 L 117.58 225.93 L 120.29 219.9 L 123.3 213.58 L 126.01 214.3 L 128.72 219.9 L 131.44 218.52 L 134.15 217.31 L 136.86 212.97 L 139.57 209.36 L 142.28 206.47 L 144.99 204.42 L 147.7 212.49 L 150.53 212.97 L 153.3 208.88 L 155.83 207.55 L 157.04 208.16 L 158.59 211.89 L 161.3 216.47 L 164.01 212.85 L 166.72 220.32 L 169.43 227.91 L 172.14 222.31 L 174.86 223.21 L 177.57 224.72 L 180.28 228.64 L 182.99 226.53 L 185.7 222.91 L 188.41 222.73 L 191.42 222.73 L 194.13 233.15 L 196.84 223.52 L 199.55 225.93 L 202.26 243.69 L 204.97 240.38 L 207.68 239.36 L 210.39 241.59 L 213.41 242.19 L 215.82 249 L 218.53 254.84 L 221.24 249.84 L 223.95 246.71 L 226.96 247.61 L 229.37 245.02 L 232.08 246.83 L 234.79 250.2 L 237.8 249 L 240.51 245.02 L 243.22 241.59 L 245.63 238.57 L 248.34 238.88 L 251.05 239.48 L 253.76 237.67 L 256.47 237.37 L 260.09 238.15" clip-path="url(#p5d24b00278)" style="fill: none; stroke: #008000; stroke-width: 1.5; stroke-linecap: square"/>
</g>
<g id="line2d_58">
<path d="M 49.21 251.53 L 52.53 252.73 L 55.24 250.62 L 57.95 253.21 L 60.66 252.73 L 63.37 254.24 L 66.08 253.33 L 68.79 251.53 L 71.5 248.03 L 74.21 250.02 L 76.92 248.21 L 79.63 248.21 L 82.34 249.12 L 85.05 249.72 L 87.76 250.62 L 90.48 250.92 L 93.19 250.02 L 95.9 247.19 L 98.61 248.21 L 101.32 250.32 L 104.03 253.45 L 107.04 255.86 L 109.75 266.89 L 112.34 271.7 L 115.17 265.5 L 117.88 269.6 L 120.59 256.83 L 123.3 253.63 L 126.01 251.22 L 128.72 262.07 L 131.44 259.84 L 134.15 266.1 L 136.86 270.68 L 139.57 273.09 L 142.28 264.05 L 144.99 259.36 L 147.7 253.03 L 150.53 253.03 L 153.3 251.53 L 155.83 250.8 L 157.04 250.92 L 158.59 253.63 L 161.3 256.46 L 164.01 256.95 L 166.72 259.96 L 169.43 261.46 L 172.14 262.67 L 174.86 262.49 L 177.57 261.16 L 180.28 257.55 L 182.99 253.63 L 185.7 253.45 L 188.41 253.81 L 191.42 256.34 L 193.95 241.89 L 196.72 246.83 L 199.37 221.89 L 202.26 216.29 L 204.97 235.56 L 207.68 241.89 L 210.39 249.24 L 213.41 249.42 L 215.82 255.44 L 218.53 253.33 L 221.24 253.21 L 223.95 254.06 L 226.96 250.92 L 229.37 249.72 L 232.08 246.71 L 234.79 242.61 L 237.5 237.37 L 240.51 240.68 L 243.22 241.77 L 245.63 246.1 L 248.34 249 L 251.05 253.03 L 253.76 256.34 L 256.47 255.26 L 260.09 256.95" clip-path="url(#p5d24b00278)" style="fill: none; stroke: #0000ff; stroke-width: 1.5; stroke-linecap: square"/>
</g>
<g id="patch_15">
<path d="M 48.71 276.33 L 48.71 201.13" style="fill: none; stroke: #000000; stroke-width: 0.8; stroke-linejoin: miter; stroke-linecap: square"/>
</g>
<g id="patch_16">
<path d="M 260.89 276.33 L 260.89 201.13" style="fill: none; stroke: #000000; stroke-width: 0.8; stroke-linejoin: miter; stroke-linecap: square"/>
</g>
<g id="patch_17">
<path d="M 48.71 276.33 L 260.89 276.33" style="fill: none; stroke: #000000; stroke-width: 0.8; stroke-linejoin: miter; stroke-linecap: square"/>
</g>
<g id="patch_18">
<path d="M 48.71 201.13 L 260.89 201.13" style="fill: none; stroke: #000000; stroke-width: 0.8; stroke-linejoin: miter; stroke-linecap: square"/>
</g>
<g id="legend_3">
<g id="patch_19">
<path d="M 267.46 258.12 L 313.06 258.12 Q 315.06 258.12 315.06 256.12 L 315.06 211.89 Q 315.06 209.89 313.06 209.89 L 267.46 209.89 Q 265.46 209.89 265.46 211.89 L 265.46 256.12 Q 265.46 258.12 267.46 258.12 z" style="fill: #ffffff; opacity: 0.8; stroke: #cccccc; stroke-linejoin: miter"/>
</g>
<g id="line2d_59">
<path d="M 269.86 218.38 L 279.86 218.38 L 289.86 218.38" style="fill: none; stroke: #ff0000; stroke-width: 1.5; stroke-linecap: square"/>
</g>
<g id="text_35">
<g transform="translate(297.464533 221.884363)">
<text>
<tspan x="0" y="-0.703125" style="font-style: oblique; font-size: 10px; font-family: 'DejaVu Sans'">V</tspan>
<tspan x="6.84082" y="0.9375" style="font-style: oblique; font-size: 7px; font-family: 'DejaVu Sans'">L</tspan>
</text>
</g>
</g>
<g id="line2d_60">
<path d="M 269.86 233.26 L 279.86 233.26 L 289.86 233.26" style="fill: none; stroke: #008000; stroke-width: 1.5; stroke-linecap: square"/>
</g>
<g id="text_36">
<g transform="translate(297.464533 236.762488)">
<text>
<tspan x="0" y="-0.703125" style="font-style: oblique; font-size: 10px; font-family: 'DejaVu Sans'">V</tspan>
<tspan x="6.84082" y="0.9375" style="font-style: oblique; font-size: 7px; font-family: 'DejaVu Sans'">M</tspan>
</text>
</g>
</g>
<g id="line2d_61">
<path d="M 269.86 248.14 L 279.86 248.14 L 289.86 248.14" style="fill: none; stroke: #0000ff; stroke-width: 1.5; stroke-linecap: square"/>
</g>
<g id="text_37">
<g transform="translate(297.464533 251.640613)">
<text>
<tspan x="0" y="-0.703125" style="font-style: oblique; font-size: 10px; font-family: 'DejaVu Sans'">V</tspan>
<tspan x="6.84082" y="0.9375" style="font-style: oblique; font-size: 7px; font-family: 'DejaVu Sans'">N</tspan>
</text>
</g>
</g>
</g>
</g>
<g id="axes_4">
<g id="patch_20">
<path d="M 48.71 365.54 L 260.89 365.54 L 260.89 290.52 L 48.71 290.52 L 48.71 365.54 z" style="fill: none; opacity: 0"/>
</g>
<g id="text_38">
<text style="font-size: 18.2px; font-family: 'DejaVu Sans'; text-anchor: middle" x="248" y="308.999527" transform="rotate(-0 248 308.999527)">(d)</text>
</g>
<g id="matplotlib.axis_7">
<g id="xtick_21">
<g id="line2d_62">
<g>
<use href="#m1504cfccaf" x="56.148148" y="365.540741" style="stroke: #000000; stroke-width: 0.8"/>
</g>
</g>
</g>
<g id="xtick_22">
<g id="line2d_63">
<g>
<use href="#m1504cfccaf" x="95.555556" y="365.540741" style="stroke: #000000; stroke-width: 0.8"/>
</g>
</g>
</g>
<g id="xtick_23">
<g id="line2d_64">
<g>
<use href="#m1504cfccaf" x="134.962963" y="365.540741" style="stroke: #000000; stroke-width: 0.8"/>
</g>
</g>
</g>
<g id="xtick_24">
<g id="line2d_65">
<g>
<use href="#m1504cfccaf" x="174.37037" y="365.540741" style="stroke: #000000; stroke-width: 0.8"/>
</g>
</g>
</g>
<g id="xtick_25">
<g id="line2d_66">
<g>
<use href="#m1504cfccaf" x="213.777778" y="365.540741" style="stroke: #000000; stroke-width: 0.8"/>
</g>
</g>
</g>
<g id="xtick_26">
<g id="line2d_67">
<g>
<use href="#m1504cfccaf" x="253.185185" y="365.540741" style="stroke: #000000; stroke-width: 0.8"/>
</g>
</g>
</g>
</g>
<g id="matplotlib.axis_8">
<g id="ytick_14">
<g id="line2d_68">
<g>
<use href="#m5d545ce8f8" x="48.711111" y="290.518519" style="stroke: #000000; stroke-width: 0.8"/>
</g>
</g>
<g id="text_39">
<g transform="translate(24.111111 294.317737)">
<text>
<tspan x="0" y="-0.976562" style="font-size: 10px; font-family: 'DejaVu Sans'">1</tspan>
<tspan x="6.362305" y="-0.976562" style="font-size: 10px; font-family: 'DejaVu Sans'">0</tspan>
<tspan x="12.820312" y="-4.804688" style="font-size: 7px; font-family: 'DejaVu Sans'">2</tspan>
</text>
</g>
</g>
</g>
<g id="ytick_15">
<g id="line2d_69">
<g>
<use href="#m5d545ce8f8" x="48.711111" y="320.088889" style="stroke: #000000; stroke-width: 0.8"/>
</g>
</g>
<g id="text_40">
<g transform="translate(24.111111 323.888108)">
<text>
<tspan x="0" y="-0.064063" style="font-size: 10px; font-family: 'DejaVu Sans'">1</tspan>
<tspan x="6.362305" y="-0.064063" style="font-size: 10px; font-family: 'DejaVu Sans'">0</tspan>
<tspan x="12.820312" y="-3.892188" style="font-size: 7px; font-family: 'DejaVu Sans'">1</tspan>
</text>
</g>
</g>
</g>
<g id="ytick_16">
<g id="line2d_70">
<g>
<use href="#m5d545ce8f8" x="48.711111" y="349.6" style="stroke: #000000; stroke-width: 0.8"/>
</g>
</g>
<g id="text_41">
<g transform="translate(24.111111 353.399219)">
<text>
<tspan x="0" y="-0.976562" style="font-size: 10px; font-family: 'DejaVu Sans'">1</tspan>
<tspan x="6.362305" y="-0.976562" style="font-size: 10px; font-family: 'DejaVu Sans'">0</tspan>
<tspan x="12.820312" y="-4.804688" style="font-size: 7px; font-family: 'DejaVu Sans'">0</tspan>
</text>
</g>
</g>
</g>
<g id="ytick_17">
<g id="line2d_71">
<defs>
<path id="mc3d89a154a" d="M 0 0 L -2 0" style="stroke: #000000; stroke-width: 0.6"/>
</defs>
<g>
<use href="#mc3d89a154a" x="48.711111" y="365.046225" style="stroke: #000000; stroke-width: 0.6"/>
</g>
</g>
</g>
<g id="ytick_18">
<g id="line2d_72">
<g>
<use href="#mc3d89a154a" x="48.711111" y="361.355443" style="stroke: #000000; stroke-width: 0.6"/>
</g>
</g>
</g>
<g id="ytick_19">
<g id="line2d_73">
<g>
<use href="#mc3d89a154a" x="48.711111" y="358.492649" style="stroke: #000000; stroke-width: 0.6"/>
</g>
</g>
</g>
<g id="ytick_20">
<g id="line2d_74">
<g>
<use href="#mc3d89a154a" x="48.711111" y="356.153576" style="stroke: #000000; stroke-width: 0.6"/>
</g>
</g>
</g>
<g id="ytick_21">
<g id="line2d_75">
<g>
<use href="#mc3d89a154a" x="48.711111" y="354.175919" style="stroke: #000000; stroke-width: 0.6"/>
</g>
</g>
</g>
<g id="ytick_22">
<g id="line2d_76">
<g>
<use href="#mc3d89a154a" x="48.711111" y="352.462794" style="stroke: #000000; stroke-width: 0.6"/>
</g>
</g>
</g>
<g id="ytick_23">
<g id="line2d_77">
<g>
<use href="#mc3d89a154a" x="48.711111" y="350.95171" style="stroke: #000000; stroke-width: 0.6"/>
</g>
</g>
</g>
<g id="ytick_24">
<g id="line2d_78">
<g>
<use href="#mc3d89a154a" x="48.711111" y="340.707351" style="stroke: #000000; stroke-width: 0.6"/>
</g>
</g>
</g>
<g id="ytick_25">
<g id="line2d_79">
<g>
<use href="#mc3d89a154a" x="48.711111" y="335.505485" style="stroke: #000000; stroke-width: 0.6"/>
</g>
</g>
</g>
<g id="ytick_26">
<g id="line2d_80">
<g>
<use href="#mc3d89a154a" x="48.711111" y="331.814702" style="stroke: #000000; stroke-width: 0.6"/>
</g>
</g>
</g>
<g id="ytick_27">
<g id="line2d_81">
<g>
<use href="#mc3d89a154a" x="48.711111" y="328.951908" style="stroke: #000000; stroke-width: 0.6"/>
</g>
</g>
</g>
<g id="ytick_28">
<g id="line2d_82">
<g>
<use href="#mc3d89a154a" x="48.711111" y="326.612836" style="stroke: #000000; stroke-width: 0.6"/>
</g>
</g>
</g>
<g id="ytick_29">
<g id="line2d_83">
<g>
<use href="#mc3d89a154a" x="48.711111" y="324.635178" style="stroke: #000000; stroke-width: 0.6"/>
</g>
</g>
</g>
<g id="ytick_30">
<g id="line2d_84">
<g>
<use href="#mc3d89a154a" x="48.711111" y="322.922053" style="stroke: #000000; stroke-width: 0.6"/>
</g>
</g>
</g>
<g id="ytick_31">
<g id="line2d_85">
<g>
<use href="#mc3d89a154a" x="48.711111" y="321.410969" style="stroke: #000000; stroke-width: 0.6"/>
</g>
</g>
</g>
<g id="ytick_32">
<g id="line2d_86">
<g>
<use href="#mc3d89a154a" x="48.711111" y="311.16661" style="stroke: #000000; stroke-width: 0.6"/>
</g>
</g>
</g>
<g id="ytick_33">
<g id="line2d_87">
<g>
<use href="#mc3d89a154a" x="48.711111" y="305.964744" style="stroke: #000000; stroke-width: 0.6"/>
</g>
</g>
</g>
<g id="ytick_34">
<g id="line2d_88">
<g>
<use href="#mc3d89a154a" x="48.711111" y="302.273961" style="stroke: #000000; stroke-width: 0.6"/>
</g>
</g>
</g>
<g id="ytick_35">
<g id="line2d_89">
<g>
<use href="#mc3d89a154a" x="48.711111" y="299.411168" style="stroke: #000000; stroke-width: 0.6"/>
</g>
</g>
</g>
<g id="ytick_36">
<g id="line2d_90">
<g>
<use href="#mc3d89a154a" x="48.711111" y="297.072095" style="stroke: #000000; stroke-width: 0.6"/>
</g>
</g>
</g>
<g id="ytick_37">
<g id="line2d_91">
<g>
<use href="#mc3d89a154a" x="48.711111" y="295.094437" style="stroke: #000000; stroke-width: 0.6"/>
</g>
</g>
</g>
<g id="ytick_38">
<g id="line2d_92">
<g>
<use href="#mc3d89a154a" x="48.711111" y="293.381312" style="stroke: #000000; stroke-width: 0.6"/>
</g>
</g>
</g>
<g id="ytick_39">
<g id="line2d_93">
<g>
<use href="#mc3d89a154a" x="48.711111" y="291.870229" style="stroke: #000000; stroke-width: 0.6"/>
</g>
</g>
</g>
<g id="text_42">
<g transform="translate(18.031424 349.67963) rotate(-90)">
<text>
<tspan x="0" y="-0.976562" style="font-style: oblique; font-size: 10px; font-family: 'DejaVu Sans'">n</tspan>
<tspan x="16.930143" y="-0.976562" style="font-style: oblique; font-size: 10px; font-family: 'DejaVu Sans'">c</tspan>
<tspan x="22.42819" y="-0.976562" style="font-style: oblique; font-size: 10px; font-family: 'DejaVu Sans'">m</tspan>
<tspan x="6.337891" y="0.664062" style="font-style: oblique; font-size: 7px; font-family: 'DejaVu Sans'">i</tspan>
<tspan x="8.556152" y="-0.976562" style="font-size: 10px; font-family: 'DejaVu Sans'">,</tspan>
<tspan x="32.633516" y="-4.804688" style="font-size: 7px; font-family: 'DejaVu Sans'">−</tspan>
<tspan x="38.49875" y="-4.804688" style="font-size: 7px; font-family: 'DejaVu Sans'">3</tspan>
</text>
</g>
</g>
</g>
<g id="line2d_94">
<path d="M 49.21 355.77 L 52.53 358.79 L 55.24 356.38 L 57.95 357.28 L 60.66 356.38 L 63.37 356.98 L 66.08 356.98 L 68.79 358.48 L 71.5 359.39 L 74.21 358.79 L 76.92 356.08 L 79.63 356.56 L 82.34 355.35 L 85.05 356.38 L 87.76 356.08 L 90.48 355.95 L 93.19 356.8 L 95.9 354.75 L 98.61 353.67 L 101.32 352.34 L 104.03 355.77 L 107.04 353.36 L 109.75 352.94 L 112.46 354.15 L 115.17 346.74 L 116.08 335.6 L 116.98 320.54 L 117.88 308.61 L 120.59 311.8 L 123.3 313.61 L 126.01 313.91 L 128.72 308.97 L 131.44 310.42 L 134.15 310.6 L 136.86 311.5 L 139.57 306.68 L 142.28 307.77 L 144.99 306.8 L 147.7 313.01 L 150.53 308.97 L 153.3 306.8 L 155.83 306.98 L 157.04 307.28 L 158.59 307.28 L 161.3 303.07 L 164.01 302.77 L 166.72 302.95 L 172.14 302.95 L 174.86 302.47 L 177.57 303.97 L 180.28 304.39 L 182.99 303.67 L 185.7 303.97 L 188.41 303.79 L 191.42 306.56 L 193.83 321.86 L 196.84 316.92 L 197.74 335.6 L 199.25 347.04 L 201.96 359.21 L 204.97 359.21 L 207.68 359.99 L 210.39 360.77 L 213.1 361.5 L 215.82 360.77 L 218.53 359.99 L 221.24 359.39 L 223.95 359.39 L 226.96 359.99 L 232.38 359.99 L 234.79 360.77 L 237.5 358.79 L 240.21 359.39 L 242.92 360.17 L 245.63 361.62 L 248.34 358.79 L 251.05 360.17 L 253.76 361.62 L 256.47 361.62 L 260.09 362.7" clip-path="url(#padc64a472d)" style="fill: none; stroke: #ff0000; stroke-width: 1.5; stroke-linecap: square"/>
</g>
<g id="patch_21">
<path d="M 48.71 365.54 L 48.71 290.52" style="fill: none; stroke: #000000; stroke-width: 0.8; stroke-linejoin: miter; stroke-linecap: square"/>
</g>
<g id="patch_22">
<path d="M 260.89 365.54 L 260.89 290.52" style="fill: none; stroke: #000000; stroke-width: 0.8; stroke-linejoin: miter; stroke-linecap: square"/>
</g>
<g id="patch_23">
<path d="M 48.71 365.54 L 260.89 365.54" style="fill: none; stroke: #000000; stroke-width: 0.8; stroke-linejoin: miter; stroke-linecap: square"/>
</g>
<g id="patch_24">
<path d="M 48.71 290.52 L 260.89 290.52" style="fill: none; stroke: #000000; stroke-width: 0.8; stroke-linejoin: miter; stroke-linecap: square"/>
</g>
</g>
<g id="axes_5">
<g id="patch_25">
<path d="M 48.71 365.54 L 260.89 365.54 L 260.89 290.52 L 48.71 290.52 L 48.71 365.54 z" style="fill: none; opacity: 0"/>
</g>
<g id="matplotlib.axis_9"/>
<g id="matplotlib.axis_10">
<g id="ytick_40">
<g id="line2d_95">
<defs>
<path id="m33c4ce201d" d="M 0 0 L 3.5 0" style="stroke: #000000; stroke-width: 0.8"/>
</defs>
<g>
<use href="#m33c4ce201d" x="260.888889" y="304.177778" style="stroke: #000000; stroke-width: 0.8"/>
</g>
</g>
<g id="text_43">
<g transform="translate(267.888889 307.976997)">
<text>
<tspan x="0" y="-0.976562" style="font-size: 10px; font-family: 'DejaVu Sans'">1</tspan>
<tspan x="6.362305" y="-0.976562" style="font-size: 10px; font-family: 'DejaVu Sans'">0</tspan>
<tspan x="12.820312" y="-4.804688" style="font-size: 7px; font-family: 'DejaVu Sans'">3</tspan>
</text>
</g>
</g>
</g>
<g id="ytick_41">
<g id="line2d_96">
<g>
<use href="#m33c4ce201d" x="260.888889" y="354.814815" style="stroke: #000000; stroke-width: 0.8"/>
</g>
</g>
<g id="text_44">
<g transform="translate(267.888889 358.614034)">
<text>
<tspan x="0" y="-0.976562" style="font-size: 10px; font-family: 'DejaVu Sans'">1</tspan>
<tspan x="6.362305" y="-0.976562" style="font-size: 10px; font-family: 'DejaVu Sans'">0</tspan>
<tspan x="12.820312" y="-4.804688" style="font-size: 7px; font-family: 'DejaVu Sans'">2</tspan>
</text>
</g>
</g>
</g>
<g id="ytick_42">
<g id="line2d_97">
<defs>
<path id="m7389b9bb77" d="M 0 0 L 2 0" style="stroke: #000000; stroke-width: 0.6"/>
</defs>
<g>
<use href="#m7389b9bb77" x="260.888889" y="362.658591" style="stroke: #000000; stroke-width: 0.6"/>
</g>
</g>
</g>
<g id="ytick_43">
<g id="line2d_98">
<g>
<use href="#m7389b9bb77" x="260.888889" y="359.722051" style="stroke: #000000; stroke-width: 0.6"/>
</g>
</g>
</g>
<g id="ytick_44">
<g id="line2d_99">
<g>
<use href="#m7389b9bb77" x="260.888889" y="357.131839" style="stroke: #000000; stroke-width: 0.6"/>
</g>
</g>
</g>
<g id="ytick_45">
<g id="line2d_100">
<g>
<use href="#m7389b9bb77" x="260.888889" y="339.571548" style="stroke: #000000; stroke-width: 0.6"/>
</g>
</g>
</g>
<g id="ytick_46">
<g id="line2d_101">
<g>
<use href="#m7389b9bb77" x="260.888889" y="330.654808" style="stroke: #000000; stroke-width: 0.6"/>
</g>
</g>
</g>
<g id="ytick_47">
<g id="line2d_102">
<g>
<use href="#m7389b9bb77" x="260.888889" y="324.328281" style="stroke: #000000; stroke-width: 0.6"/>
</g>
</g>
</g>
<g id="ytick_48">
<g id="line2d_103">
<g>
<use href="#m7389b9bb77" x="260.888889" y="319.421045" style="stroke: #000000; stroke-width: 0.6"/>
</g>
</g>
</g>
<g id="ytick_49">
<g id="line2d_104">
<g>
<use href="#m7389b9bb77" x="260.888889" y="315.411541" style="stroke: #000000; stroke-width: 0.6"/>
</g>
</g>
</g>
<g id="ytick_50">
<g id="line2d_105">
<g>
<use href="#m7389b9bb77" x="260.888889" y="312.021554" style="stroke: #000000; stroke-width: 0.6"/>
</g>
</g>
</g>
<g id="ytick_51">
<g id="line2d_106">
<g>
<use href="#m7389b9bb77" x="260.888889" y="309.085014" style="stroke: #000000; stroke-width: 0.6"/>
</g>
</g>
</g>
<g id="ytick_52">
<g id="line2d_107">
<g>
<use href="#m7389b9bb77" x="260.888889" y="306.494802" style="stroke: #000000; stroke-width: 0.6"/>
</g>
</g>
</g>
<g id="text_45">
<g transform="translate(297.087326 342.87963) rotate(-90)">
<text>
<tspan x="0" y="-0.703125" style="font-style: oblique; font-size: 10px; font-family: 'DejaVu Sans'">T</tspan>
<tspan x="16.700651" y="-0.703125" style="font-style: oblique; font-size: 10px; font-family: 'DejaVu Sans'">e</tspan>
<tspan x="22.852995" y="-0.703125" style="font-style: oblique; font-size: 10px; font-family: 'DejaVu Sans'">V</tspan>
<tspan x="6.108398" y="0.9375" style="font-style: oblique; font-size: 7px; font-family: 'DejaVu Sans'">i</tspan>
<tspan x="8.32666" y="-0.703125" style="font-size: 10px; font-family: 'DejaVu Sans'">,</tspan>
</text>
</g>
</g>
</g>
<g id="line2d_108">
<path d="M 49.21 308.19 L 52.53 305.6 L 55.24 309.69 L 57.95 308.01 L 60.66 309.69 L 63.37 306.98 L 66.08 306.38 L 68.79 303.67 L 71.5 302.59 L 74.21 303.07 L 76.92 308.49 L 79.63 306.56 L 82.34 308.97 L 85.05 306.56 L 87.76 307.16 L 90.48 308.01 L 93.19 308.19 L 95.9 310.6 L 98.61 312.1 L 101.62 315.42 L 104.03 308.49 L 107.04 310.3 L 109.75 311.8 L 112.34 311.98 L 115.17 318.73 L 116.08 329.57 L 116.98 346.74 L 117.88 345.23 L 120.59 340.41 L 123.3 336.2 L 126.01 336.08 L 128.72 345.96 L 131.44 347.94 L 134.15 345.35 L 136.86 344.15 L 139.57 349.33 L 142.28 351.74 L 144.99 349.75 L 147.7 347.52 L 150.53 349.33 L 152.52 348.85 L 155.23 347.04 L 157.04 346.14 L 158.77 339.93 L 161.42 344.51 L 164.01 343.12 L 166.84 341.62 L 169.61 348.24 L 172.14 348.55 L 174.86 348.37 L 177.57 347.76 L 180.28 347.16 L 182.99 346.14 L 185.7 345.23 L 188.53 346.74 L 191.3 341.62 L 193.95 335.47 L 196.72 338.61 L 197.74 329.57 L 199.37 306.08 L 202.14 297.05 L 204.97 298.85 L 207.68 298.55 L 210.39 298.25 L 213.1 296.14 L 215.82 296.56 L 218.53 296.92 L 221.24 297.35 L 223.95 297.95 L 226.66 297.35 L 229.37 296.32 L 232.08 294.94 L 234.79 293.73 L 237.5 296.32 L 240.21 294.94 L 242.92 294.94 L 245.63 295.72 L 248.34 298.37 L 251.05 298.55 L 253.76 296.74 L 256.47 297.65 L 260.09 296.56" clip-path="url(#padc64a472d)" style="fill: none; stroke: #008000; stroke-width: 1.5; stroke-linecap: square"/>
</g>
<g id="line2d_109">
<path d="M 49.21 314.51 L 52.53 310.3 L 55.24 313.19 L 57.95 312.4 L 61.26 314.21 L 63.37 311.5 L 66.08 310.42 L 68.79 308.49 L 71.5 306.98 L 74.21 308.19 L 76.32 313.01 L 78.13 313.91 L 79.63 311.5 L 82.34 312.83 L 85.05 313.19 L 87.76 313.79 L 90.48 312.71 L 93.19 312.4 L 95.9 313.43 L 98.61 314.81 L 101.62 319.03 L 104.03 312.1 L 107.04 314.81 L 109.75 316.32 L 112.34 316.2 L 114.27 319.93 L 115.17 325.96 L 116.08 335.6 L 116.98 350.05 L 118.18 355.17 L 120.59 347.64 L 123.3 340.41 L 126.01 330.48 L 128.72 351.26 L 131.44 357.58 L 134.15 357.16 L 136.86 357.58 L 139.57 362.22 L 142.28 360.77 L 144.99 358.79 L 147.7 356.38 L 150.53 362.1 L 153.3 359.09 L 155.83 357.88 L 157.04 357.76 L 158.77 355.17 L 161.42 356.08 L 164.01 350.65 L 166.84 354.27 L 169.61 355.47 L 172.14 354.27 L 174.86 355.35 L 177.57 354.75 L 180.28 355.77 L 182.99 354.39 L 185.7 354.27 L 188.53 356.68 L 191.3 355.47 L 193.95 346.44 L 195.94 348.85 L 196.96 350.65 L 197.74 341.62 L 199.37 321.14 L 201.66 303.67 L 204.97 304.88 L 207.68 306.56 L 210.39 305.78 L 213.1 304.57 L 215.82 304.57 L 218.53 304.57 L 221.24 303.97 L 223.95 303.37 L 226.66 303.19 L 229.37 304.15 L 232.08 303.97 L 234.79 303.37 L 237.5 305.96 L 240.21 306.2 L 242.92 305.78 L 245.63 305.18 L 248.34 307.59 L 251.05 306.68 L 253.76 304.88 L 256.47 303.67 L 260.09 302.47" clip-path="url(#padc64a472d)" style="fill: none; stroke-dasharray: 5.55,2.4; stroke-dashoffset: 0; stroke: #008000; stroke-width: 1.5"/>
</g>
<g id="patch_26">
<path d="M 48.71 365.54 L 48.71 290.52" style="fill: none; stroke: #000000; stroke-width: 0.8; stroke-linejoin: miter; stroke-linecap: square"/>
</g>
<g id="patch_27">
<path d="M 260.89 365.54 L 260.89 290.52" style="fill: none; stroke: #000000; stroke-width: 0.8; stroke-linejoin: miter; stroke-linecap: square"/>
</g>
<g id="patch_28">
<path d="M 48.71 365.54 L 260.89 365.54" style="fill: none; stroke: #000000; stroke-width: 0.8; stroke-linejoin: miter; stroke-linecap: square"/>
</g>
<g id="patch_29">
<path d="M 48.71 290.52 L 260.89 290.52" style="fill: none; stroke: #000000; stroke-width: 0.8; stroke-linejoin: miter; stroke-linecap: square"/>
</g>
<g id="legend_4">
<g id="patch_30">
<path d="M 55.41 360.84 L 101.41 360.84 Q 103.41 360.84 103.41 358.84 L 103.41 328.26 Q 103.41 326.26 101.41 326.26 L 55.41 326.26 Q 53.41 326.26 53.41 328.26 L 53.41 358.84 Q 53.41 360.84 55.41 360.84 z" style="fill: #ffffff; opacity: 0.8; stroke: #cccccc; stroke-linejoin: miter"/>
</g>
<g id="line2d_110">
<path d="M 57.41 334.36 L 67.41 334.36 L 77.41 334.36" style="fill: none; stroke: #008000; stroke-opacity: 0; stroke-width: 1.5; stroke-linecap: square"/>
</g>
<g id="text_46">
<g style="opacity: 0" transform="translate(85.411111 337.862616)">
<text>
<tspan x="0" y="-0.703125" style="font-style: oblique; font-size: 10px; font-family: 'DejaVu Sans'; opacity: 0">T</tspan>
<tspan x="6.108398" y="0.9375" style="font-size: 7px; font-family: 'DejaVu Sans'; opacity: 0">|</tspan>
<tspan x="8.466797" y="0.9375" style="font-size: 7px; font-family: 'DejaVu Sans'; opacity: 0">|</tspan>
</text>
</g>
</g>
<g id="line2d_111">
<path d="M 57.41 351.26 L 67.41 351.26 L 77.41 351.26" style="fill: none; stroke-dasharray: 5.55,2.4; stroke-dashoffset: 0; stroke: #008000; stroke-opacity: 0; stroke-width: 1.5"/>
</g>
<g id="text_47">
<g style="opacity: 0" transform="translate(85.411111 354.761053)">
<text>
<tspan x="0" y="-0.703125" style="font-style: oblique; font-size: 10px; font-family: 'DejaVu Sans'; opacity: 0">T</tspan>
<tspan x="7.472168" y="0.9375" style="font-size: 7px; font-family: 'STIXGeneral'; opacity: 0">⟂</tspan>
</text>
</g>
</g>
</g>
<g id="line2d_112">
<path d="M 53.78 357.67 L 54.61 356.93 L 55.45 356.45 L 56.28 356.72 L 57.11 357 L 57.95 357.28 L 58.78 357 L 59.61 356.73 L 60.45 356.45 L 61.28 356.51 L 62.11 356.7 L 62.95 356.89 L 63.78 356.98 L 64.62 356.98 L 65.45 356.98 L 66.28 357.09 L 67.12 357.55 L 67.95 358.02 L 68.78 358.48 L 69.62 358.76 L 70.45 359.04 L 71.28 359.32 L 72.12 359.25 L 72.95 359.07 L 73.79 358.88 L 74.62 358.38 L 75.45 357.55 L 76.29 356.71 L 77.12 356.11 L 77.95 356.26 L 78.79 356.41 L 79.62 356.56 L 80.45 356.19 L 81.29 355.82 L 82.12 355.45 L 82.96 355.58 L 83.79 355.9 L 84.62 356.21 L 85.46 356.33 L 86.29 356.24 L 87.12 356.15 L 87.96 356.07 L 88.79 356.03 L 89.62 355.99 L 90.46 355.96 L 91.29 356.21 L 92.13 356.47 L 92.96 356.73 L 93.79 356.34 L 94.63 355.71 L 95.46 355.08 L 96.29 354.59 L 97.13 354.26 L 97.96 353.92 L 98.79 353.57 L 99.63 353.17 L 100.46 352.76 L 101.3 352.35 L 102.13 353.37 L 102.96 354.42" clip-path="url(#padc64a472d)" style="fill: none; stroke: #e9cfbb; stroke-width: 1.5"/>
</g>
<g id="legend_5">
<g id="line2d_113">
<path d="M 57.41 334.36 L 67.41 334.36 L 77.41 334.36" style="fill: none; stroke: #008000; stroke-width: 1.5; stroke-linecap: square"/>
</g>
<g id="text_48">
<g transform="translate(85.411111 337.862616)">
<text>
<tspan x="0" y="-0.703125" style="font-style: oblique; font-size: 10px; font-family: 'DejaVu Sans'">T</tspan>
<tspan x="6.108398" y="0.9375" style="font-size: 7px; font-family: 'DejaVu Sans'">|</tspan>
<tspan x="8.466797" y="0.9375" style="font-size: 7px; font-family: 'DejaVu Sans'">|</tspan>
</text>
</g>
</g>
<g id="line2d_114">
<path d="M 57.41 351.26 L 67.41 351.26 L 77.41 351.26" style="fill: none; stroke-dasharray: 5.55,2.4; stroke-dashoffset: 0; stroke: #008000; stroke-width: 1.5"/>
</g>
<g id="text_49">
<g transform="translate(85.411111 354.761053)">
<text>
<tspan x="0" y="-0.703125" style="font-style: oblique; font-size: 10px; font-family: 'DejaVu Sans'">T</tspan>
<tspan x="7.472168" y="0.9375" style="font-size: 7px; font-family: 'STIXGeneral'">⟂</tspan>
</text>
</g>
</g>
</g>
</g>
<g id="axes_6">
<g id="patch_31">
<path d="M 48.71 450.22 L 260.89 450.22 L 260.89 375.11 L 48.71 375.11 L 48.71 450.22 z" style="fill: none; opacity: 0"/>
</g>
<g id="heat_e" transform="scale(0.296296)">
<path fill="#27eea4" d="M704.9 1506h9.2v12.5h-9.2z"/>
<path fill="#32f298" d="M228.2 1506h9.2v12.5h-9.2zM264.8 1506h9.2v12.5h-9.2zM274 1506h9.2v12.5h-9.2zM283.2 1506h9.2v12.5h-9.2zM301.5 1506h9.2v12.5h-9.2zM686.5 1506h9.2v12.5h-9.2z"/>
<path fill="#3cf58e" d="M292.3 1445.6h9.2v15.2h-9.2zM264.8 1481h9.2v25h-9.2zM319.8 1481h9.2v25h-9.2zM165.4 1506h7.8v12.5h-7.8zM191.5 1506h9.2v12.5h-9.2zM219 1506h9.2v12.5h-9.2zM237.3 1506h9.2v12.5h-9.2zM255.7 1506h9.2v12.5h-9.2zM695.7 1506h9.2v12.5h-9.2zM796.5 1506h9.2v12.5h-9.2zM833.2 1506h9.2v12.5h-9.2zM860.7 1506h9.2v12.5h-9.2z"/>
<path fill="#4af880" d="M319.8 1445.6h9.2v15.2h-9.2zM191.5 1460.8h9.2v20.2h-9.2zM173.2 1481h9.2v25h-9.2zM219 1481h9.2v25h-9.2zM255.7 1481h9.2v25h-9.2zM274 1481h9.2v25h-9.2zM338.2 1481h9.2v25h-9.2zM860.7 1481h9.2v25h-9.2zM879 1481h0.5v25h-0.5zM173.2 1506h9.2v12.5h-9.2zM200.7 1506h9.2v12.5h-9.2zM246.5 1506h9.2v12.5h-9.2zM310.7 1506h9.2v12.5h-9.2zM319.8 1506h9.2v12.5h-9.2zM338.2 1506h9.2v12.5h-9.2zM356.5 1506h9.2v12.5h-9.2zM677.4 1506h9.2v12.5h-9.2zM714 1506h9.2v12.5h-9.2zM723.2 1506h9.2v12.5h-9.2zM741.5 1506h9.2v12.5h-9.2zM750.7 1506h9.2v12.5h-9.2zM769 1506h9.2v12.5h-9.2zM805.7 1506h9.2v12.5h-9.2zM814.9 1506h9.2v12.5h-9.2zM842.4 1506h9.2v12.5h-9.2zM869.9 1506h9.2v12.5h-9.2zM879 1506h0.5v12.5h-0.5z"/>
<path fill="#55fa76" d="M640.7 1272.9h9.2v10.5h-9.2zM191.5 1445.6h9.2v15.2h-9.2zM283.2 1445.6h9.2v15.2h-9.2zM301.5 1445.6h9.2v15.2h-9.2zM228.2 1460.8h9.2v20.2h-9.2zM237.3 1460.8h9.2v20.2h-9.2zM255.7 1460.8h9.2v20.2h-9.2zM292.3 1460.8h9.2v20.2h-9.2zM319.8 1460.8h9.2v20.2h-9.2zM365.7 1460.8h9.2v20.2h-9.2zM695.7 1460.8h9.2v20.2h-9.2zM209.8 1481h9.2v25h-9.2zM246.5 1481h9.2v25h-9.2zM283.2 1481h9.2v25h-9.2zM292.3 1481h9.2v25h-9.2zM301.5 1481h9.2v25h-9.2zM310.7 1481h9.2v25h-9.2zM329 1481h9.2v25h-9.2zM356.5 1481h9.2v25h-9.2zM741.5 1481h9.2v25h-9.2zM769 1481h9.2v25h-9.2zM778.2 1481h9.2v25h-9.2zM787.4 1481h9.2v25h-9.2zM182.3 1506h9.2v12.5h-9.2zM209.8 1506h9.2v12.5h-9.2zM292.3 1506h9.2v12.5h-9.2zM329 1506h9.2v12.5h-9.2zM347.3 1506h9.2v12.5h-9.2zM668.2 1506h9.2v12.5h-9.2zM732.4 1506h9.2v12.5h-9.2zM759.9 1506h9.2v12.5h-9.2zM778.2 1506h9.2v12.5h-9.2zM851.5 1506h9.2v12.5h-9.2z"/>
<path fill="#65fd69" d="M411.5 1272.9h9.2v10.5h-9.2zM448.2 1272.9h9.2v10.5h-9.2zM530.7 1272.9h9.2v10.5h-9.2zM539.8 1272.9h9.2v10.5h-9.2zM604 1272.9h9.2v10.5h-9.2zM649.9 1272.9h9.2v10.5h-9.2zM659 1272.9h9.2v10.5h-9.2zM484.8 1283.4h9.2v11.8h-9.2zM521.5 1283.4h9.2v11.8h-9.2zM567.3 1283.4h9.2v11.8h-9.2zM576.5 1283.4h9.2v11.8h-9.2zM604 1283.4h9.2v11.8h-9.2zM613.2 1283.4h9.2v11.8h-9.2zM365.7 1433h9.2v12.6h-9.2zM165.4 1445.6h7.8v15.2h-7.8zM219 1445.6h9.2v15.2h-9.2zM228.2 1445.6h9.2v15.2h-9.2zM246.5 1445.6h9.2v15.2h-9.2zM264.8 1445.6h9.2v15.2h-9.2zM274 1445.6h9.2v15.2h-9.2zM356.5 1445.6h9.2v15.2h-9.2zM668.2 1445.6h9.2v15.2h-9.2zM732.4 1445.6h9.2v15.2h-9.2zM778.2 1445.6h9.2v15.2h-9.2zM165.4 1460.8h7.8v20.2h-7.8zM200.7 1460.8h9.2v20.2h-9.2zM209.8 1460.8h9.2v20.2h-9.2zM219 1460.8h9.2v20.2h-9.2zM264.8 1460.8h9.2v20.2h-9.2zM274 1460.8h9.2v20.2h-9.2zM301.5 1460.8h9.2v20.2h-9.2zM329 1460.8h9.2v20.2h-9.2zM347.3 1460.8h9.2v20.2h-9.2zM356.5 1460.8h9.2v20.2h-9.2zM778.2 1460.8h9.2v20.2h-9.2zM787.4 1460.8h9.2v20.2h-9.2zM814.9 1460.8h9.2v20.2h-9.2zM851.5 1460.8h9.2v20.2h-9.2zM869.9 1460.8h9.2v20.2h-9.2zM879 1460.8h0.5v20.2h-0.5zM165.4 1481h7.8v25h-7.8zM182.3 1481h9.2v25h-9.2zM200.7 1481h9.2v25h-9.2zM228.2 1481h9.2v25h-9.2zM686.5 1481h9.2v25h-9.2zM723.2 1481h9.2v25h-9.2zM750.7 1481h9.2v25h-9.2zM796.5 1481h9.2v25h-9.2zM805.7 1481h9.2v25h-9.2zM833.2 1481h9.2v25h-9.2zM842.4 1481h9.2v25h-9.2zM851.5 1481h9.2v25h-9.2zM869.9 1481h9.2v25h-9.2zM787.4 1506h9.2v12.5h-9.2zM824 1506h9.2v12.5h-9.2z"/>
<path fill="#71fe5f" d="M393.2 1272.9h9.2v10.5h-9.2zM402.3 1272.9h9.2v10.5h-9.2zM420.7 1272.9h9.2v10.5h-9.2zM429.8 1272.9h9.2v10.5h-9.2zM439 1272.9h9.2v10.5h-9.2zM457.3 1272.9h9.2v10.5h-9.2zM466.5 1272.9h9.2v10.5h-9.2zM475.7 1272.9h9.2v10.5h-9.2zM484.8 1272.9h9.2v10.5h-9.2zM494 1272.9h9.2v10.5h-9.2zM512.3 1272.9h9.2v10.5h-9.2zM549 1272.9h9.2v10.5h-9.2zM558.2 1272.9h9.2v10.5h-9.2zM567.3 1272.9h9.2v10.5h-9.2zM594.8 1272.9h9.2v10.5h-9.2zM613.2 1272.9h9.2v10.5h-9.2zM631.5 1272.9h9.2v10.5h-9.2zM411.5 1283.4h9.2v11.8h-9.2zM429.8 1283.4h9.2v11.8h-9.2zM457.3 1283.4h9.2v11.8h-9.2zM475.7 1283.4h9.2v11.8h-9.2zM494 1283.4h9.2v11.8h-9.2zM558.2 1283.4h9.2v11.8h-9.2zM585.7 1283.4h9.2v11.8h-9.2zM594.8 1283.4h9.2v11.8h-9.2zM631.5 1283.4h9.2v11.8h-9.2zM640.7 1283.4h9.2v11.8h-9.2zM649.9 1283.4h9.2v11.8h-9.2zM659 1283.4h9.2v11.8h-9.2zM365.7 1357.9h9.2v12.5h-9.2zM356.5 1370.4h9.2v12.6h-9.2zM246.5 1395.3h9.2v12.6h-9.2zM246.5 1407.9h9.2v12.6h-9.2zM173.2 1420.5h9.2v12.5h-9.2zM182.3 1433h9.2v12.6h-9.2zM209.8 1433h9.2v12.6h-9.2zM264.8 1433h9.2v12.6h-9.2zM338.2 1433h9.2v12.6h-9.2zM374.8 1433h9.2v12.6h-9.2zM173.2 1445.6h9.2v15.2h-9.2zM200.7 1445.6h9.2v15.2h-9.2zM209.8 1445.6h9.2v15.2h-9.2zM237.3 1445.6h9.2v15.2h-9.2zM329 1445.6h9.2v15.2h-9.2zM347.3 1445.6h9.2v15.2h-9.2zM365.7 1445.6h9.2v15.2h-9.2zM374.8 1445.6h9.2v15.2h-9.2zM677.4 1445.6h9.2v15.2h-9.2zM686.5 1445.6h9.2v15.2h-9.2zM723.2 1445.6h9.2v15.2h-9.2zM759.9 1445.6h9.2v15.2h-9.2zM769 1445.6h9.2v15.2h-9.2zM796.5 1445.6h9.2v15.2h-9.2zM869.9 1445.6h9.2v15.2h-9.2zM173.2 1460.8h9.2v20.2h-9.2zM182.3 1460.8h9.2v20.2h-9.2zM246.5 1460.8h9.2v20.2h-9.2zM310.7 1460.8h9.2v20.2h-9.2zM338.2 1460.8h9.2v20.2h-9.2zM668.2 1460.8h9.2v20.2h-9.2zM677.4 1460.8h9.2v20.2h-9.2zM714 1460.8h9.2v20.2h-9.2zM723.2 1460.8h9.2v20.2h-9.2zM732.4 1460.8h9.2v20.2h-9.2zM741.5 1460.8h9.2v20.2h-9.2zM769 1460.8h9.2v20.2h-9.2zM805.7 1460.8h9.2v20.2h-9.2zM842.4 1460.8h9.2v20.2h-9.2zM860.7 1460.8h9.2v20.2h-9.2zM191.5 1481h9.2v25h-9.2zM237.3 1481h9.2v25h-9.2zM347.3 1481h9.2v25h-9.2zM668.2 1481h9.2v25h-9.2zM677.4 1481h9.2v25h-9.2zM695.7 1481h9.2v25h-9.2zM704.9 1481h9.2v25h-9.2zM714 1481h9.2v25h-9.2zM759.9 1481h9.2v25h-9.2zM814.9 1481h9.2v25h-9.2zM824 1481h9.2v25h-9.2z"/>
<path fill="#80ff53" d="M503.2 1272.9h9.2v10.5h-9.2zM521.5 1272.9h9.2v10.5h-9.2zM576.5 1272.9h9.2v10.5h-9.2zM585.7 1272.9h9.2v10.5h-9.2zM622.3 1272.9h9.2v10.5h-9.2zM393.2 1283.4h9.2v11.8h-9.2zM439 1283.4h9.2v11.8h-9.2zM448.2 1283.4h9.2v11.8h-9.2zM503.2 1283.4h9.2v11.8h-9.2zM530.7 1283.4h9.2v11.8h-9.2zM549 1283.4h9.2v11.8h-9.2zM622.3 1283.4h9.2v11.8h-9.2zM439 1295.2h9.2v12.6h-9.2zM558.2 1295.2h9.2v12.6h-9.2zM576.5 1295.2h9.2v12.6h-9.2zM649.9 1295.2h9.2v12.6h-9.2zM631.5 1307.8h9.2v12.5h-9.2zM319.8 1345.4h9.2v12.5h-9.2zM338.2 1345.4h9.2v12.5h-9.2zM356.5 1345.4h9.2v12.5h-9.2zM209.8 1357.9h9.2v12.5h-9.2zM283.2 1357.9h9.2v12.5h-9.2zM329 1357.9h9.2v12.5h-9.2zM200.7 1370.4h9.2v12.6h-9.2zM292.3 1370.4h9.2v12.6h-9.2zM329 1370.4h9.2v12.6h-9.2zM338.2 1370.4h9.2v12.6h-9.2zM374.8 1370.4h9.2v12.6h-9.2zM384 1370.4h9.2v12.6h-9.2zM209.8 1383h9.2v12.3h-9.2zM356.5 1383h9.2v12.3h-9.2zM384 1383h9.2v12.3h-9.2zM356.5 1407.9h9.2v12.6h-9.2zM301.5 1420.5h9.2v12.5h-9.2zM329 1420.5h9.2v12.5h-9.2zM842.4 1420.5h9.2v12.5h-9.2zM165.4 1433h7.8v12.6h-7.8zM191.5 1433h9.2v12.6h-9.2zM219 1433h9.2v12.6h-9.2zM255.7 1433h9.2v12.6h-9.2zM274 1433h9.2v12.6h-9.2zM283.2 1433h9.2v12.6h-9.2zM292.3 1433h9.2v12.6h-9.2zM319.8 1433h9.2v12.6h-9.2zM347.3 1433h9.2v12.6h-9.2zM356.5 1433h9.2v12.6h-9.2zM255.7 1445.6h9.2v15.2h-9.2zM310.7 1445.6h9.2v15.2h-9.2zM338.2 1445.6h9.2v15.2h-9.2zM695.7 1445.6h9.2v15.2h-9.2zM704.9 1445.6h9.2v15.2h-9.2zM714 1445.6h9.2v15.2h-9.2zM741.5 1445.6h9.2v15.2h-9.2zM814.9 1445.6h9.2v15.2h-9.2zM824 1445.6h9.2v15.2h-9.2zM833.2 1445.6h9.2v15.2h-9.2zM860.7 1445.6h9.2v15.2h-9.2zM283.2 1460.8h9.2v20.2h-9.2zM686.5 1460.8h9.2v20.2h-9.2zM704.9 1460.8h9.2v20.2h-9.2zM750.7 1460.8h9.2v20.2h-9.2zM759.9 1460.8h9.2v20.2h-9.2zM796.5 1460.8h9.2v20.2h-9.2zM824 1460.8h9.2v20.2h-9.2zM732.4 1481h9.2v25h-9.2z"/>
<path fill="#8bff4b" d="M384 1272.9h9.2v10.5h-9.2zM677.4 1272.9h9.2v10.5h-9.2zM402.3 1283.4h9.2v11.8h-9.2zM466.5 1283.4h9.2v11.8h-9.2zM539.8 1283.4h9.2v11.8h-9.2zM393.2 1295.2h9.2v12.6h-9.2zM402.3 1295.2h9.2v12.6h-9.2zM411.5 1295.2h9.2v12.6h-9.2zM429.8 1295.2h9.2v12.6h-9.2zM448.2 1295.2h9.2v12.6h-9.2zM494 1295.2h9.2v12.6h-9.2zM521.5 1295.2h9.2v12.6h-9.2zM567.3 1295.2h9.2v12.6h-9.2zM622.3 1295.2h9.2v12.6h-9.2zM640.7 1295.2h9.2v12.6h-9.2zM659 1295.2h9.2v12.6h-9.2zM567.3 1307.8h9.2v12.5h-9.2zM182.3 1345.4h9.2v12.5h-9.2zM200.7 1345.4h9.2v12.5h-9.2zM274 1345.4h9.2v12.5h-9.2zM301.5 1345.4h9.2v12.5h-9.2zM329 1345.4h9.2v12.5h-9.2zM165.4 1357.9h7.8v12.5h-7.8zM182.3 1357.9h9.2v12.5h-9.2zM191.5 1357.9h9.2v12.5h-9.2zM200.7 1357.9h9.2v12.5h-9.2zM228.2 1357.9h9.2v12.5h-9.2zM246.5 1357.9h9.2v12.5h-9.2zM255.7 1357.9h9.2v12.5h-9.2zM274 1357.9h9.2v12.5h-9.2zM301.5 1357.9h9.2v12.5h-9.2zM319.8 1357.9h9.2v12.5h-9.2zM374.8 1357.9h9.2v12.5h-9.2zM165.4 1370.4h7.8v12.6h-7.8zM191.5 1370.4h9.2v12.6h-9.2zM209.8 1370.4h9.2v12.6h-9.2zM219 1370.4h9.2v12.6h-9.2zM228.2 1370.4h9.2v12.6h-9.2zM237.3 1370.4h9.2v12.6h-9.2zM246.5 1370.4h9.2v12.6h-9.2zM264.8 1370.4h9.2v12.6h-9.2zM274 1370.4h9.2v12.6h-9.2zM283.2 1370.4h9.2v12.6h-9.2zM301.5 1370.4h9.2v12.6h-9.2zM310.7 1370.4h9.2v12.6h-9.2zM347.3 1370.4h9.2v12.6h-9.2zM365.7 1370.4h9.2v12.6h-9.2zM165.4 1383h7.8v12.3h-7.8zM173.2 1383h9.2v12.3h-9.2zM182.3 1383h9.2v12.3h-9.2zM200.7 1383h9.2v12.3h-9.2zM219 1383h9.2v12.3h-9.2zM237.3 1383h9.2v12.3h-9.2zM246.5 1383h9.2v12.3h-9.2zM255.7 1383h9.2v12.3h-9.2zM283.2 1383h9.2v12.3h-9.2zM310.7 1383h9.2v12.3h-9.2zM338.2 1383h9.2v12.3h-9.2zM347.3 1383h9.2v12.3h-9.2zM365.7 1383h9.2v12.3h-9.2zM374.8 1383h9.2v12.3h-9.2zM165.4 1395.3h7.8v12.6h-7.8zM228.2 1395.3h9.2v12.6h-9.2zM255.7 1395.3h9.2v12.6h-9.2zM292.3 1395.3h9.2v12.6h-9.2zM338.2 1395.3h9.2v12.6h-9.2zM191.5 1407.9h9.2v12.6h-9.2zM200.7 1407.9h9.2v12.6h-9.2zM219 1407.9h9.2v12.6h-9.2zM283.2 1407.9h9.2v12.6h-9.2zM329 1407.9h9.2v12.6h-9.2zM338.2 1407.9h9.2v12.6h-9.2zM165.4 1420.5h7.8v12.5h-7.8zM228.2 1420.5h9.2v12.5h-9.2zM246.5 1420.5h9.2v12.5h-9.2zM283.2 1420.5h9.2v12.5h-9.2zM292.3 1420.5h9.2v12.5h-9.2zM310.7 1420.5h9.2v12.5h-9.2zM338.2 1420.5h9.2v12.5h-9.2zM356.5 1420.5h9.2v12.5h-9.2zM365.7 1420.5h9.2v12.5h-9.2zM384 1420.5h9.2v12.5h-9.2zM704.9 1420.5h9.2v12.5h-9.2zM741.5 1420.5h9.2v12.5h-9.2zM750.7 1420.5h9.2v12.5h-9.2zM173.2 1433h9.2v12.6h-9.2zM200.7 1433h9.2v12.6h-9.2zM228.2 1433h9.2v12.6h-9.2zM237.3 1433h9.2v12.6h-9.2zM246.5 1433h9.2v12.6h-9.2zM301.5 1433h9.2v12.6h-9.2zM668.2 1433h9.2v12.6h-9.2zM677.4 1433h9.2v12.6h-9.2zM704.9 1433h9.2v12.6h-9.2zM759.9 1433h9.2v12.6h-9.2zM769 1433h9.2v12.6h-9.2zM805.7 1433h9.2v12.6h-9.2zM814.9 1433h9.2v12.6h-9.2zM842.4 1433h9.2v12.6h-9.2zM879 1433h0.5v12.6h-0.5zM182.3 1445.6h9.2v15.2h-9.2zM750.7 1445.6h9.2v15.2h-9.2zM787.4 1445.6h9.2v15.2h-9.2zM805.7 1445.6h9.2v15.2h-9.2zM842.4 1445.6h9.2v15.2h-9.2zM851.5 1445.6h9.2v15.2h-9.2zM879 1445.6h0.5v15.2h-0.5zM833.2 1460.8h9.2v20.2h-9.2zM384 1506h9.2v12.5h-9.2z"/>
<path fill="#99fe42" d="M668.2 1272.9h9.2v10.5h-9.2zM384 1283.4h9.2v11.8h-9.2zM420.7 1283.4h9.2v11.8h-9.2zM512.3 1283.4h9.2v11.8h-9.2zM420.7 1295.2h9.2v12.6h-9.2zM457.3 1295.2h9.2v12.6h-9.2zM475.7 1295.2h9.2v12.6h-9.2zM484.8 1295.2h9.2v12.6h-9.2zM503.2 1295.2h9.2v12.6h-9.2zM512.3 1295.2h9.2v12.6h-9.2zM530.7 1295.2h9.2v12.6h-9.2zM539.8 1295.2h9.2v12.6h-9.2zM549 1295.2h9.2v12.6h-9.2zM585.7 1295.2h9.2v12.6h-9.2zM594.8 1295.2h9.2v12.6h-9.2zM604 1295.2h9.2v12.6h-9.2zM613.2 1295.2h9.2v12.6h-9.2zM402.3 1307.8h9.2v12.5h-9.2zM411.5 1307.8h9.2v12.5h-9.2zM484.8 1307.8h9.2v12.5h-9.2zM494 1307.8h9.2v12.5h-9.2zM512.3 1307.8h9.2v12.5h-9.2zM549 1307.8h9.2v12.5h-9.2zM594.8 1307.8h9.2v12.5h-9.2zM613.2 1307.8h9.2v12.5h-9.2zM649.9 1307.8h9.2v12.5h-9.2zM659 1307.8h9.2v12.5h-9.2zM237.3 1320.3h9.2v12.6h-9.2zM182.3 1332.9h9.2v12.5h-9.2zM209.8 1332.9h9.2v12.5h-9.2zM264.8 1332.9h9.2v12.5h-9.2zM274 1332.9h9.2v12.5h-9.2zM301.5 1332.9h9.2v12.5h-9.2zM310.7 1332.9h9.2v12.5h-9.2zM319.8 1332.9h9.2v12.5h-9.2zM329 1332.9h9.2v12.5h-9.2zM347.3 1332.9h9.2v12.5h-9.2zM384 1332.9h9.2v12.5h-9.2zM173.2 1345.4h9.2v12.5h-9.2zM209.8 1345.4h9.2v12.5h-9.2zM219 1345.4h9.2v12.5h-9.2zM228.2 1345.4h9.2v12.5h-9.2zM237.3 1345.4h9.2v12.5h-9.2zM255.7 1345.4h9.2v12.5h-9.2zM264.8 1345.4h9.2v12.5h-9.2zM283.2 1345.4h9.2v12.5h-9.2zM310.7 1345.4h9.2v12.5h-9.2zM365.7 1345.4h9.2v12.5h-9.2zM384 1345.4h9.2v12.5h-9.2zM173.2 1357.9h9.2v12.5h-9.2zM219 1357.9h9.2v12.5h-9.2zM237.3 1357.9h9.2v12.5h-9.2zM264.8 1357.9h9.2v12.5h-9.2zM310.7 1357.9h9.2v12.5h-9.2zM338.2 1357.9h9.2v12.5h-9.2zM347.3 1357.9h9.2v12.5h-9.2zM356.5 1357.9h9.2v12.5h-9.2zM384 1357.9h9.2v12.5h-9.2zM173.2 1370.4h9.2v12.6h-9.2zM182.3 1370.4h9.2v12.6h-9.2zM255.7 1370.4h9.2v12.6h-9.2zM319.8 1370.4h9.2v12.6h-9.2zM732.4 1370.4h9.2v12.6h-9.2zM805.7 1370.4h9.2v12.6h-9.2zM191.5 1383h9.2v12.3h-9.2zM228.2 1383h9.2v12.3h-9.2zM264.8 1383h9.2v12.3h-9.2zM274 1383h9.2v12.3h-9.2zM292.3 1383h9.2v12.3h-9.2zM301.5 1383h9.2v12.3h-9.2zM319.8 1383h9.2v12.3h-9.2zM329 1383h9.2v12.3h-9.2zM182.3 1395.3h9.2v12.6h-9.2zM200.7 1395.3h9.2v12.6h-9.2zM209.8 1395.3h9.2v12.6h-9.2zM283.2 1395.3h9.2v12.6h-9.2zM301.5 1395.3h9.2v12.6h-9.2zM319.8 1395.3h9.2v12.6h-9.2zM787.4 1395.3h9.2v12.6h-9.2zM173.2 1407.9h9.2v12.6h-9.2zM209.8 1407.9h9.2v12.6h-9.2zM255.7 1407.9h9.2v12.6h-9.2zM264.8 1407.9h9.2v12.6h-9.2zM292.3 1407.9h9.2v12.6h-9.2zM310.7 1407.9h9.2v12.6h-9.2zM347.3 1407.9h9.2v12.6h-9.2zM365.7 1407.9h9.2v12.6h-9.2zM374.8 1407.9h9.2v12.6h-9.2zM384 1407.9h9.2v12.6h-9.2zM668.2 1407.9h9.2v12.6h-9.2zM778.2 1407.9h9.2v12.6h-9.2zM824 1407.9h9.2v12.6h-9.2zM182.3 1420.5h9.2v12.5h-9.2zM191.5 1420.5h9.2v12.5h-9.2zM200.7 1420.5h9.2v12.5h-9.2zM209.8 1420.5h9.2v12.5h-9.2zM219 1420.5h9.2v12.5h-9.2zM237.3 1420.5h9.2v12.5h-9.2zM255.7 1420.5h9.2v12.5h-9.2zM264.8 1420.5h9.2v12.5h-9.2zM274 1420.5h9.2v12.5h-9.2zM319.8 1420.5h9.2v12.5h-9.2zM374.8 1420.5h9.2v12.5h-9.2zM759.9 1420.5h9.2v12.5h-9.2zM778.2 1420.5h9.2v12.5h-9.2zM824 1420.5h9.2v12.5h-9.2zM833.2 1420.5h9.2v12.5h-9.2zM879 1420.5h0.5v12.5h-0.5zM310.7 1433h9.2v12.6h-9.2zM329 1433h9.2v12.6h-9.2zM686.5 1433h9.2v12.6h-9.2zM695.7 1433h9.2v12.6h-9.2zM723.2 1433h9.2v12.6h-9.2zM732.4 1433h9.2v12.6h-9.2zM750.7 1433h9.2v12.6h-9.2zM778.2 1433h9.2v12.6h-9.2zM824 1433h9.2v12.6h-9.2zM860.7 1433h9.2v12.6h-9.2zM869.9 1433h9.2v12.6h-9.2z"/>
<path fill="#a4fc3c" d="M668.2 1283.4h9.2v11.8h-9.2zM677.4 1283.4h9.2v11.8h-9.2zM384 1295.2h9.2v12.6h-9.2zM466.5 1295.2h9.2v12.6h-9.2zM677.4 1295.2h9.2v12.6h-9.2zM448.2 1307.8h9.2v12.5h-9.2zM457.3 1307.8h9.2v12.5h-9.2zM475.7 1307.8h9.2v12.5h-9.2zM530.7 1307.8h9.2v12.5h-9.2zM558.2 1307.8h9.2v12.5h-9.2zM576.5 1307.8h9.2v12.5h-9.2zM622.3 1307.8h9.2v12.5h-9.2zM165.4 1332.9h7.8v12.5h-7.8zM237.3 1332.9h9.2v12.5h-9.2zM255.7 1332.9h9.2v12.5h-9.2zM283.2 1332.9h9.2v12.5h-9.2zM292.3 1332.9h9.2v12.5h-9.2zM365.7 1332.9h9.2v12.5h-9.2zM374.8 1332.9h9.2v12.5h-9.2zM165.4 1345.4h7.8v12.5h-7.8zM246.5 1345.4h9.2v12.5h-9.2zM292.3 1345.4h9.2v12.5h-9.2zM347.3 1345.4h9.2v12.5h-9.2zM374.8 1345.4h9.2v12.5h-9.2zM292.3 1357.9h9.2v12.5h-9.2zM668.2 1370.4h9.2v12.6h-9.2zM741.5 1370.4h9.2v12.6h-9.2zM787.4 1370.4h9.2v12.6h-9.2zM668.2 1383h9.2v12.3h-9.2zM750.7 1383h9.2v12.3h-9.2zM769 1383h9.2v12.3h-9.2zM833.2 1383h9.2v12.3h-9.2zM860.7 1383h9.2v12.3h-9.2zM869.9 1383h9.2v12.3h-9.2zM173.2 1395.3h9.2v12.6h-9.2zM264.8 1395.3h9.2v12.6h-9.2zM274 1395.3h9.2v12.6h-9.2zM310.7 1395.3h9.2v12.6h-9.2zM329 1395.3h9.2v12.6h-9.2zM347.3 1395.3h9.2v12.6h-9.2zM356.5 1395.3h9.2v12.6h-9.2zM374.8 1395.3h9.2v12.6h-9.2zM384 1395.3h9.2v12.6h-9.2zM686.5 1395.3h9.2v12.6h-9.2zM695.7 1395.3h9.2v12.6h-9.2zM741.5 1395.3h9.2v12.6h-9.2zM750.7 1395.3h9.2v12.6h-9.2zM869.9 1395.3h9.2v12.6h-9.2zM182.3 1407.9h9.2v12.6h-9.2zM228.2 1407.9h9.2v12.6h-9.2zM237.3 1407.9h9.2v12.6h-9.2zM274 1407.9h9.2v12.6h-9.2zM301.5 1407.9h9.2v12.6h-9.2zM319.8 1407.9h9.2v12.6h-9.2zM677.4 1407.9h9.2v12.6h-9.2zM686.5 1407.9h9.2v12.6h-9.2zM695.7 1407.9h9.2v12.6h-9.2zM704.9 1407.9h9.2v12.6h-9.2zM714 1407.9h9.2v12.6h-9.2zM723.2 1407.9h9.2v12.6h-9.2zM732.4 1407.9h9.2v12.6h-9.2zM759.9 1407.9h9.2v12.6h-9.2zM842.4 1407.9h9.2v12.6h-9.2zM879 1407.9h0.5v12.6h-0.5zM668.2 1420.5h9.2v12.5h-9.2zM677.4 1420.5h9.2v12.5h-9.2zM714 1420.5h9.2v12.5h-9.2zM723.2 1420.5h9.2v12.5h-9.2zM732.4 1420.5h9.2v12.5h-9.2zM769 1420.5h9.2v12.5h-9.2zM805.7 1420.5h9.2v12.5h-9.2zM814.9 1420.5h9.2v12.5h-9.2zM869.9 1420.5h9.2v12.5h-9.2zM787.4 1433h9.2v12.6h-9.2zM796.5 1433h9.2v12.6h-9.2zM833.2 1433h9.2v12.6h-9.2zM851.5 1433h9.2v12.6h-9.2zM365.7 1506h9.2v12.5h-9.2z"/>
<path fill="#acfb38" d="M631.5 1295.2h9.2v12.6h-9.2zM668.2 1295.2h9.2v12.6h-9.2zM393.2 1307.8h9.2v12.5h-9.2zM420.7 1307.8h9.2v12.5h-9.2zM429.8 1307.8h9.2v12.5h-9.2zM439 1307.8h9.2v12.5h-9.2zM466.5 1307.8h9.2v12.5h-9.2zM503.2 1307.8h9.2v12.5h-9.2zM521.5 1307.8h9.2v12.5h-9.2zM539.8 1307.8h9.2v12.5h-9.2zM585.7 1307.8h9.2v12.5h-9.2zM604 1307.8h9.2v12.5h-9.2zM640.7 1307.8h9.2v12.5h-9.2zM182.3 1320.3h9.2v12.6h-9.2zM191.5 1320.3h9.2v12.6h-9.2zM209.8 1320.3h9.2v12.6h-9.2zM246.5 1320.3h9.2v12.6h-9.2zM274 1320.3h9.2v12.6h-9.2zM283.2 1320.3h9.2v12.6h-9.2zM310.7 1320.3h9.2v12.6h-9.2zM329 1320.3h9.2v12.6h-9.2zM365.7 1320.3h9.2v12.6h-9.2zM374.8 1320.3h9.2v12.6h-9.2zM393.2 1320.3h9.2v12.6h-9.2zM439 1320.3h9.2v12.6h-9.2zM475.7 1320.3h9.2v12.6h-9.2zM585.7 1320.3h9.2v12.6h-9.2zM631.5 1320.3h9.2v12.6h-9.2zM191.5 1332.9h9.2v12.5h-9.2zM200.7 1332.9h9.2v12.5h-9.2zM219 1332.9h9.2v12.5h-9.2zM228.2 1332.9h9.2v12.5h-9.2zM246.5 1332.9h9.2v12.5h-9.2zM338.2 1332.9h9.2v12.5h-9.2zM356.5 1332.9h9.2v12.5h-9.2zM191.5 1345.4h9.2v12.5h-9.2zM686.5 1357.9h9.2v12.5h-9.2zM704.9 1357.9h9.2v12.5h-9.2zM778.2 1357.9h9.2v12.5h-9.2zM787.4 1357.9h9.2v12.5h-9.2zM860.7 1357.9h9.2v12.5h-9.2zM677.4 1370.4h9.2v12.6h-9.2zM686.5 1370.4h9.2v12.6h-9.2zM714 1370.4h9.2v12.6h-9.2zM796.5 1370.4h9.2v12.6h-9.2zM814.9 1370.4h9.2v12.6h-9.2zM833.2 1370.4h9.2v12.6h-9.2zM842.4 1370.4h9.2v12.6h-9.2zM879 1370.4h0.5v12.6h-0.5zM677.4 1383h9.2v12.3h-9.2zM695.7 1383h9.2v12.3h-9.2zM704.9 1383h9.2v12.3h-9.2zM714 1383h9.2v12.3h-9.2zM741.5 1383h9.2v12.3h-9.2zM759.9 1383h9.2v12.3h-9.2zM778.2 1383h9.2v12.3h-9.2zM787.4 1383h9.2v12.3h-9.2zM805.7 1383h9.2v12.3h-9.2zM814.9 1383h9.2v12.3h-9.2zM842.4 1383h9.2v12.3h-9.2zM851.5 1383h9.2v12.3h-9.2zM879 1383h0.5v12.3h-0.5zM219 1395.3h9.2v12.6h-9.2zM237.3 1395.3h9.2v12.6h-9.2zM677.4 1395.3h9.2v12.6h-9.2zM704.9 1395.3h9.2v12.6h-9.2zM723.2 1395.3h9.2v12.6h-9.2zM732.4 1395.3h9.2v12.6h-9.2zM769 1395.3h9.2v12.6h-9.2zM778.2 1395.3h9.2v12.6h-9.2zM796.5 1395.3h9.2v12.6h-9.2zM805.7 1395.3h9.2v12.6h-9.2zM833.2 1395.3h9.2v12.6h-9.2zM842.4 1395.3h9.2v12.6h-9.2zM851.5 1395.3h9.2v12.6h-9.2zM860.7 1395.3h9.2v12.6h-9.2zM165.4 1407.9h7.8v12.6h-7.8zM741.5 1407.9h9.2v12.6h-9.2zM750.7 1407.9h9.2v12.6h-9.2zM769 1407.9h9.2v12.6h-9.2zM787.4 1407.9h9.2v12.6h-9.2zM796.5 1407.9h9.2v12.6h-9.2zM805.7 1407.9h9.2v12.6h-9.2zM814.9 1407.9h9.2v12.6h-9.2zM833.2 1407.9h9.2v12.6h-9.2zM851.5 1407.9h9.2v12.6h-9.2zM860.7 1407.9h9.2v12.6h-9.2zM869.9 1407.9h9.2v12.6h-9.2zM686.5 1420.5h9.2v12.5h-9.2zM695.7 1420.5h9.2v12.5h-9.2zM787.4 1420.5h9.2v12.5h-9.2zM796.5 1420.5h9.2v12.5h-9.2zM851.5 1420.5h9.2v12.5h-9.2zM860.7 1420.5h9.2v12.5h-9.2zM714 1433h9.2v12.6h-9.2zM741.5 1433h9.2v12.6h-9.2zM374.8 1460.8h9.2v20.2h-9.2zM365.7 1481h9.2v25h-9.2zM374.8 1481h9.2v25h-9.2zM374.8 1506h9.2v12.5h-9.2z"/>
<path fill="#b7f735" d="M246.5 1307.8h9.2v12.5h-9.2zM173.2 1320.3h9.2v12.6h-9.2zM200.7 1320.3h9.2v12.6h-9.2zM219 1320.3h9.2v12.6h-9.2zM228.2 1320.3h9.2v12.6h-9.2zM264.8 1320.3h9.2v12.6h-9.2zM301.5 1320.3h9.2v12.6h-9.2zM338.2 1320.3h9.2v12.6h-9.2zM347.3 1320.3h9.2v12.6h-9.2zM356.5 1320.3h9.2v12.6h-9.2zM402.3 1320.3h9.2v12.6h-9.2zM457.3 1320.3h9.2v12.6h-9.2zM503.2 1320.3h9.2v12.6h-9.2zM512.3 1320.3h9.2v12.6h-9.2zM576.5 1320.3h9.2v12.6h-9.2zM604 1320.3h9.2v12.6h-9.2zM622.3 1320.3h9.2v12.6h-9.2zM640.7 1320.3h9.2v12.6h-9.2zM659 1320.3h9.2v12.6h-9.2zM173.2 1332.9h9.2v12.5h-9.2zM796.5 1345.4h9.2v12.5h-9.2zM869.9 1345.4h9.2v12.5h-9.2zM668.2 1357.9h9.2v12.5h-9.2zM677.4 1357.9h9.2v12.5h-9.2zM695.7 1357.9h9.2v12.5h-9.2zM723.2 1357.9h9.2v12.5h-9.2zM750.7 1357.9h9.2v12.5h-9.2zM759.9 1357.9h9.2v12.5h-9.2zM769 1357.9h9.2v12.5h-9.2zM814.9 1357.9h9.2v12.5h-9.2zM824 1357.9h9.2v12.5h-9.2zM833.2 1357.9h9.2v12.5h-9.2zM869.9 1357.9h9.2v12.5h-9.2zM879 1357.9h0.5v12.5h-0.5zM695.7 1370.4h9.2v12.6h-9.2zM704.9 1370.4h9.2v12.6h-9.2zM723.2 1370.4h9.2v12.6h-9.2zM750.7 1370.4h9.2v12.6h-9.2zM759.9 1370.4h9.2v12.6h-9.2zM769 1370.4h9.2v12.6h-9.2zM778.2 1370.4h9.2v12.6h-9.2zM824 1370.4h9.2v12.6h-9.2zM851.5 1370.4h9.2v12.6h-9.2zM860.7 1370.4h9.2v12.6h-9.2zM869.9 1370.4h9.2v12.6h-9.2zM686.5 1383h9.2v12.3h-9.2zM723.2 1383h9.2v12.3h-9.2zM796.5 1383h9.2v12.3h-9.2zM824 1383h9.2v12.3h-9.2zM191.5 1395.3h9.2v12.6h-9.2zM365.7 1395.3h9.2v12.6h-9.2zM714 1395.3h9.2v12.6h-9.2zM759.9 1395.3h9.2v12.6h-9.2zM814.9 1395.3h9.2v12.6h-9.2zM824 1395.3h9.2v12.6h-9.2zM879 1395.3h0.5v12.6h-0.5zM347.3 1420.5h9.2v12.5h-9.2z"/>
<path fill="#bef434" d="M173.2 1307.8h9.2v12.5h-9.2zM182.3 1307.8h9.2v12.5h-9.2zM219 1307.8h9.2v12.5h-9.2zM237.3 1307.8h9.2v12.5h-9.2zM264.8 1307.8h9.2v12.5h-9.2zM356.5 1307.8h9.2v12.5h-9.2zM255.7 1320.3h9.2v12.6h-9.2zM292.3 1320.3h9.2v12.6h-9.2zM384 1320.3h9.2v12.6h-9.2zM448.2 1320.3h9.2v12.6h-9.2zM466.5 1320.3h9.2v12.6h-9.2zM484.8 1320.3h9.2v12.6h-9.2zM521.5 1320.3h9.2v12.6h-9.2zM567.3 1320.3h9.2v12.6h-9.2zM594.8 1320.3h9.2v12.6h-9.2zM649.9 1320.3h9.2v12.6h-9.2zM677.4 1345.4h9.2v12.5h-9.2zM741.5 1345.4h9.2v12.5h-9.2zM769 1345.4h9.2v12.5h-9.2zM787.4 1345.4h9.2v12.5h-9.2zM851.5 1345.4h9.2v12.5h-9.2zM860.7 1345.4h9.2v12.5h-9.2zM714 1357.9h9.2v12.5h-9.2zM741.5 1357.9h9.2v12.5h-9.2zM796.5 1357.9h9.2v12.5h-9.2zM842.4 1357.9h9.2v12.5h-9.2zM851.5 1357.9h9.2v12.5h-9.2zM732.4 1383h9.2v12.3h-9.2zM668.2 1395.3h9.2v12.6h-9.2z"/>
<path fill="#c8ef34" d="M787.4 1272.9h9.2v10.5h-9.2zM338.2 1295.2h9.2v12.6h-9.2zM191.5 1307.8h9.2v12.5h-9.2zM200.7 1307.8h9.2v12.5h-9.2zM209.8 1307.8h9.2v12.5h-9.2zM228.2 1307.8h9.2v12.5h-9.2zM255.7 1307.8h9.2v12.5h-9.2zM274 1307.8h9.2v12.5h-9.2zM283.2 1307.8h9.2v12.5h-9.2zM338.2 1307.8h9.2v12.5h-9.2zM365.7 1307.8h9.2v12.5h-9.2zM384 1307.8h9.2v12.5h-9.2zM165.4 1320.3h7.8v12.6h-7.8zM319.8 1320.3h9.2v12.6h-9.2zM411.5 1320.3h9.2v12.6h-9.2zM494 1320.3h9.2v12.6h-9.2zM402.3 1332.9h9.2v12.5h-9.2zM484.8 1332.9h9.2v12.5h-9.2zM512.3 1332.9h9.2v12.5h-9.2zM585.7 1332.9h9.2v12.5h-9.2zM677.4 1332.9h9.2v12.5h-9.2zM714 1332.9h9.2v12.5h-9.2zM741.5 1332.9h9.2v12.5h-9.2zM668.2 1345.4h9.2v12.5h-9.2zM686.5 1345.4h9.2v12.5h-9.2zM695.7 1345.4h9.2v12.5h-9.2zM704.9 1345.4h9.2v12.5h-9.2zM732.4 1345.4h9.2v12.5h-9.2zM778.2 1345.4h9.2v12.5h-9.2zM814.9 1345.4h9.2v12.5h-9.2zM824 1345.4h9.2v12.5h-9.2zM879 1345.4h0.5v12.5h-0.5zM732.4 1357.9h9.2v12.5h-9.2zM805.7 1357.9h9.2v12.5h-9.2z"/>
<path fill="#d0ea34" d="M219 1272.9h9.2v10.5h-9.2zM255.7 1272.9h9.2v10.5h-9.2zM292.3 1272.9h9.2v10.5h-9.2zM301.5 1272.9h9.2v10.5h-9.2zM329 1272.9h9.2v10.5h-9.2zM347.3 1272.9h9.2v10.5h-9.2zM356.5 1272.9h9.2v10.5h-9.2zM365.7 1272.9h9.2v10.5h-9.2zM805.7 1272.9h9.2v10.5h-9.2zM165.4 1295.2h7.8v12.6h-7.8zM264.8 1295.2h9.2v12.6h-9.2zM165.4 1307.8h7.8v12.5h-7.8zM292.3 1307.8h9.2v12.5h-9.2zM301.5 1307.8h9.2v12.5h-9.2zM310.7 1307.8h9.2v12.5h-9.2zM319.8 1307.8h9.2v12.5h-9.2zM329 1307.8h9.2v12.5h-9.2zM347.3 1307.8h9.2v12.5h-9.2zM374.8 1307.8h9.2v12.5h-9.2zM668.2 1307.8h9.2v12.5h-9.2zM420.7 1320.3h9.2v12.6h-9.2zM429.8 1320.3h9.2v12.6h-9.2zM539.8 1320.3h9.2v12.6h-9.2zM549 1320.3h9.2v12.6h-9.2zM558.2 1320.3h9.2v12.6h-9.2zM613.2 1320.3h9.2v12.6h-9.2zM668.2 1320.3h9.2v12.6h-9.2zM686.5 1320.3h9.2v12.6h-9.2zM714 1320.3h9.2v12.6h-9.2zM741.5 1320.3h9.2v12.6h-9.2zM439 1332.9h9.2v12.5h-9.2zM448.2 1332.9h9.2v12.5h-9.2zM494 1332.9h9.2v12.5h-9.2zM521.5 1332.9h9.2v12.5h-9.2zM567.3 1332.9h9.2v12.5h-9.2zM576.5 1332.9h9.2v12.5h-9.2zM594.8 1332.9h9.2v12.5h-9.2zM631.5 1332.9h9.2v12.5h-9.2zM640.7 1332.9h9.2v12.5h-9.2zM695.7 1332.9h9.2v12.5h-9.2zM704.9 1332.9h9.2v12.5h-9.2zM723.2 1332.9h9.2v12.5h-9.2zM732.4 1332.9h9.2v12.5h-9.2zM750.7 1332.9h9.2v12.5h-9.2zM759.9 1332.9h9.2v12.5h-9.2zM769 1332.9h9.2v12.5h-9.2zM787.4 1332.9h9.2v12.5h-9.2zM824 1332.9h9.2v12.5h-9.2zM714 1345.4h9.2v12.5h-9.2zM723.2 1345.4h9.2v12.5h-9.2zM750.7 1345.4h9.2v12.5h-9.2zM759.9 1345.4h9.2v12.5h-9.2zM805.7 1345.4h9.2v12.5h-9.2zM833.2 1345.4h9.2v12.5h-9.2zM842.4 1345.4h9.2v12.5h-9.2z"/>
<path fill="#d9e436" d="M173.2 1272.9h9.2v10.5h-9.2zM191.5 1272.9h9.2v10.5h-9.2zM200.7 1272.9h9.2v10.5h-9.2zM228.2 1272.9h9.2v10.5h-9.2zM237.3 1272.9h9.2v10.5h-9.2zM246.5 1272.9h9.2v10.5h-9.2zM264.8 1272.9h9.2v10.5h-9.2zM274 1272.9h9.2v10.5h-9.2zM374.8 1272.9h9.2v10.5h-9.2zM714 1272.9h9.2v10.5h-9.2zM741.5 1272.9h9.2v10.5h-9.2zM833.2 1272.9h9.2v10.5h-9.2zM842.4 1272.9h9.2v10.5h-9.2zM851.5 1272.9h9.2v10.5h-9.2zM879 1272.9h0.5v10.5h-0.5zM246.5 1283.4h9.2v11.8h-9.2zM374.8 1283.4h9.2v11.8h-9.2zM182.3 1295.2h9.2v12.6h-9.2zM219 1295.2h9.2v12.6h-9.2zM237.3 1295.2h9.2v12.6h-9.2zM255.7 1295.2h9.2v12.6h-9.2zM283.2 1295.2h9.2v12.6h-9.2zM329 1295.2h9.2v12.6h-9.2zM356.5 1295.2h9.2v12.6h-9.2zM374.8 1295.2h9.2v12.6h-9.2zM695.7 1295.2h9.2v12.6h-9.2zM723.2 1295.2h9.2v12.6h-9.2zM741.5 1295.2h9.2v12.6h-9.2zM677.4 1307.8h9.2v12.5h-9.2zM695.7 1307.8h9.2v12.5h-9.2zM714 1307.8h9.2v12.5h-9.2zM732.4 1307.8h9.2v12.5h-9.2zM530.7 1320.3h9.2v12.6h-9.2zM704.9 1320.3h9.2v12.6h-9.2zM732.4 1320.3h9.2v12.6h-9.2zM750.7 1320.3h9.2v12.6h-9.2zM851.5 1320.3h9.2v12.6h-9.2zM457.3 1332.9h9.2v12.5h-9.2zM475.7 1332.9h9.2v12.5h-9.2zM503.2 1332.9h9.2v12.5h-9.2zM613.2 1332.9h9.2v12.5h-9.2zM622.3 1332.9h9.2v12.5h-9.2zM668.2 1332.9h9.2v12.5h-9.2zM860.7 1332.9h9.2v12.5h-9.2zM879 1332.9h0.5v12.5h-0.5z"/>
<path fill="#dfdf37" d="M165.4 1272.9h7.8v10.5h-7.8zM283.2 1272.9h9.2v10.5h-9.2zM310.7 1272.9h9.2v10.5h-9.2zM338.2 1272.9h9.2v10.5h-9.2zM695.7 1272.9h9.2v10.5h-9.2zM704.9 1272.9h9.2v10.5h-9.2zM732.4 1272.9h9.2v10.5h-9.2zM750.7 1272.9h9.2v10.5h-9.2zM759.9 1272.9h9.2v10.5h-9.2zM778.2 1272.9h9.2v10.5h-9.2zM869.9 1272.9h9.2v10.5h-9.2zM165.4 1283.4h7.8v11.8h-7.8zM228.2 1283.4h9.2v11.8h-9.2zM237.3 1283.4h9.2v11.8h-9.2zM255.7 1283.4h9.2v11.8h-9.2zM274 1283.4h9.2v11.8h-9.2zM283.2 1283.4h9.2v11.8h-9.2zM292.3 1283.4h9.2v11.8h-9.2zM301.5 1283.4h9.2v11.8h-9.2zM319.8 1283.4h9.2v11.8h-9.2zM329 1283.4h9.2v11.8h-9.2zM365.7 1283.4h9.2v11.8h-9.2zM750.7 1283.4h9.2v11.8h-9.2zM759.9 1283.4h9.2v11.8h-9.2zM173.2 1295.2h9.2v12.6h-9.2zM191.5 1295.2h9.2v12.6h-9.2zM200.7 1295.2h9.2v12.6h-9.2zM209.8 1295.2h9.2v12.6h-9.2zM228.2 1295.2h9.2v12.6h-9.2zM246.5 1295.2h9.2v12.6h-9.2zM274 1295.2h9.2v12.6h-9.2zM301.5 1295.2h9.2v12.6h-9.2zM310.7 1295.2h9.2v12.6h-9.2zM319.8 1295.2h9.2v12.6h-9.2zM365.7 1295.2h9.2v12.6h-9.2zM686.5 1295.2h9.2v12.6h-9.2zM714 1295.2h9.2v12.6h-9.2zM732.4 1295.2h9.2v12.6h-9.2zM750.7 1295.2h9.2v12.6h-9.2zM769 1295.2h9.2v12.6h-9.2zM879 1295.2h0.5v12.6h-0.5zM704.9 1307.8h9.2v12.5h-9.2zM723.2 1307.8h9.2v12.5h-9.2zM741.5 1307.8h9.2v12.5h-9.2zM759.9 1307.8h9.2v12.5h-9.2zM778.2 1307.8h9.2v12.5h-9.2zM805.7 1307.8h9.2v12.5h-9.2zM814.9 1307.8h9.2v12.5h-9.2zM769 1320.3h9.2v12.6h-9.2zM824 1320.3h9.2v12.6h-9.2zM879 1320.3h0.5v12.6h-0.5zM393.2 1332.9h9.2v12.5h-9.2zM466.5 1332.9h9.2v12.5h-9.2zM604 1332.9h9.2v12.5h-9.2zM649.9 1332.9h9.2v12.5h-9.2zM686.5 1332.9h9.2v12.5h-9.2zM778.2 1332.9h9.2v12.5h-9.2zM796.5 1332.9h9.2v12.5h-9.2zM805.7 1332.9h9.2v12.5h-9.2zM814.9 1332.9h9.2v12.5h-9.2zM833.2 1332.9h9.2v12.5h-9.2zM842.4 1332.9h9.2v12.5h-9.2zM448.2 1345.4h9.2v12.5h-9.2zM659 1345.4h9.2v12.5h-9.2z"/>
<path fill="#e7d739" d="M182.3 1272.9h9.2v10.5h-9.2zM209.8 1272.9h9.2v10.5h-9.2zM319.8 1272.9h9.2v10.5h-9.2zM723.2 1272.9h9.2v10.5h-9.2zM769 1272.9h9.2v10.5h-9.2zM796.5 1272.9h9.2v10.5h-9.2zM814.9 1272.9h9.2v10.5h-9.2zM860.7 1272.9h9.2v10.5h-9.2zM182.3 1283.4h9.2v11.8h-9.2zM191.5 1283.4h9.2v11.8h-9.2zM200.7 1283.4h9.2v11.8h-9.2zM209.8 1283.4h9.2v11.8h-9.2zM219 1283.4h9.2v11.8h-9.2zM264.8 1283.4h9.2v11.8h-9.2zM310.7 1283.4h9.2v11.8h-9.2zM338.2 1283.4h9.2v11.8h-9.2zM347.3 1283.4h9.2v11.8h-9.2zM356.5 1283.4h9.2v11.8h-9.2zM292.3 1295.2h9.2v12.6h-9.2zM347.3 1295.2h9.2v12.6h-9.2zM778.2 1295.2h9.2v12.6h-9.2zM787.4 1295.2h9.2v12.6h-9.2zM833.2 1295.2h9.2v12.6h-9.2zM686.5 1307.8h9.2v12.5h-9.2zM769 1307.8h9.2v12.5h-9.2zM842.4 1307.8h9.2v12.5h-9.2zM879 1307.8h0.5v12.5h-0.5zM677.4 1320.3h9.2v12.6h-9.2zM695.7 1320.3h9.2v12.6h-9.2zM723.2 1320.3h9.2v12.6h-9.2zM759.9 1320.3h9.2v12.6h-9.2zM778.2 1320.3h9.2v12.6h-9.2zM796.5 1320.3h9.2v12.6h-9.2zM805.7 1320.3h9.2v12.6h-9.2zM814.9 1320.3h9.2v12.6h-9.2zM833.2 1320.3h9.2v12.6h-9.2zM869.9 1320.3h9.2v12.6h-9.2zM659 1332.9h9.2v12.5h-9.2zM851.5 1332.9h9.2v12.5h-9.2zM869.9 1332.9h9.2v12.5h-9.2zM604 1345.4h9.2v12.5h-9.2zM622.3 1345.4h9.2v12.5h-9.2zM631.5 1345.4h9.2v12.5h-9.2z"/>
<path fill="#eecf3a" d="M686.5 1272.9h9.2v10.5h-9.2zM824 1272.9h9.2v10.5h-9.2zM173.2 1283.4h9.2v11.8h-9.2zM695.7 1283.4h9.2v11.8h-9.2zM704.9 1283.4h9.2v11.8h-9.2zM714 1283.4h9.2v11.8h-9.2zM732.4 1283.4h9.2v11.8h-9.2zM741.5 1283.4h9.2v11.8h-9.2zM769 1283.4h9.2v11.8h-9.2zM778.2 1283.4h9.2v11.8h-9.2zM787.4 1283.4h9.2v11.8h-9.2zM796.5 1283.4h9.2v11.8h-9.2zM805.7 1283.4h9.2v11.8h-9.2zM833.2 1283.4h9.2v11.8h-9.2zM704.9 1295.2h9.2v12.6h-9.2zM759.9 1295.2h9.2v12.6h-9.2zM796.5 1295.2h9.2v12.6h-9.2zM814.9 1295.2h9.2v12.6h-9.2zM824 1295.2h9.2v12.6h-9.2zM842.4 1295.2h9.2v12.6h-9.2zM860.7 1295.2h9.2v12.6h-9.2zM869.9 1295.2h9.2v12.6h-9.2zM750.7 1307.8h9.2v12.5h-9.2zM787.4 1307.8h9.2v12.5h-9.2zM796.5 1307.8h9.2v12.5h-9.2zM833.2 1307.8h9.2v12.5h-9.2zM851.5 1307.8h9.2v12.5h-9.2zM860.7 1307.8h9.2v12.5h-9.2zM869.9 1307.8h9.2v12.5h-9.2zM787.4 1320.3h9.2v12.6h-9.2zM842.4 1320.3h9.2v12.6h-9.2zM860.7 1320.3h9.2v12.6h-9.2zM539.8 1332.9h9.2v12.5h-9.2zM558.2 1332.9h9.2v12.5h-9.2zM393.2 1345.4h9.2v12.5h-9.2zM402.3 1345.4h9.2v12.5h-9.2zM439 1345.4h9.2v12.5h-9.2zM457.3 1345.4h9.2v12.5h-9.2zM475.7 1345.4h9.2v12.5h-9.2zM484.8 1345.4h9.2v12.5h-9.2zM494 1345.4h9.2v12.5h-9.2zM521.5 1345.4h9.2v12.5h-9.2zM613.2 1345.4h9.2v12.5h-9.2zM640.7 1345.4h9.2v12.5h-9.2zM384 1433h9.2v12.6h-9.2zM384 1460.8h9.2v20.2h-9.2z"/>
<path fill="#f2c93a" d="M686.5 1283.4h9.2v11.8h-9.2zM723.2 1283.4h9.2v11.8h-9.2zM824 1283.4h9.2v11.8h-9.2zM842.4 1283.4h9.2v11.8h-9.2zM851.5 1283.4h9.2v11.8h-9.2zM860.7 1283.4h9.2v11.8h-9.2zM879 1283.4h0.5v11.8h-0.5zM805.7 1295.2h9.2v12.6h-9.2zM851.5 1295.2h9.2v12.6h-9.2zM824 1307.8h9.2v12.5h-9.2zM429.8 1332.9h9.2v12.5h-9.2zM503.2 1345.4h9.2v12.5h-9.2zM512.3 1345.4h9.2v12.5h-9.2zM576.5 1345.4h9.2v12.5h-9.2zM585.7 1345.4h9.2v12.5h-9.2zM594.8 1345.4h9.2v12.5h-9.2zM649.9 1345.4h9.2v12.5h-9.2zM659 1357.9h9.2v12.5h-9.2zM384 1445.6h9.2v15.2h-9.2zM659 1460.8h9.2v20.2h-9.2zM384 1481h9.2v25h-9.2z"/>
<path fill="#f7c13a" d="M814.9 1283.4h9.2v11.8h-9.2zM411.5 1332.9h9.2v12.5h-9.2zM549 1332.9h9.2v12.5h-9.2zM466.5 1345.4h9.2v12.5h-9.2zM567.3 1345.4h9.2v12.5h-9.2zM659 1407.9h9.2v12.6h-9.2zM659 1433h9.2v12.6h-9.2zM659 1445.6h9.2v15.2h-9.2zM393.2 1506h9.2v12.5h-9.2zM448.2 1506h9.2v12.5h-9.2zM475.7 1506h9.2v12.5h-9.2zM521.5 1506h9.2v12.5h-9.2zM539.8 1506h9.2v12.5h-9.2z"/>
<path fill="#faba39" d="M869.9 1283.4h9.2v11.8h-9.2zM420.7 1332.9h9.2v12.5h-9.2zM530.7 1332.9h9.2v12.5h-9.2zM457.3 1357.9h9.2v12.5h-9.2zM503.2 1357.9h9.2v12.5h-9.2zM622.3 1357.9h9.2v12.5h-9.2zM631.5 1357.9h9.2v12.5h-9.2zM659 1370.4h9.2v12.6h-9.2zM659 1395.3h9.2v12.6h-9.2zM659 1420.5h9.2v12.5h-9.2zM659 1481h9.2v25h-9.2zM439 1506h9.2v12.5h-9.2zM484.8 1506h9.2v12.5h-9.2zM494 1506h9.2v12.5h-9.2zM503.2 1506h9.2v12.5h-9.2zM659 1506h9.2v12.5h-9.2z"/>
<path fill="#fcb136" d="M558.2 1345.4h9.2v12.5h-9.2zM393.2 1357.9h9.2v12.5h-9.2zM402.3 1357.9h9.2v12.5h-9.2zM484.8 1357.9h9.2v12.5h-9.2zM512.3 1357.9h9.2v12.5h-9.2zM521.5 1357.9h9.2v12.5h-9.2zM640.7 1357.9h9.2v12.5h-9.2zM649.9 1383h9.2v12.3h-9.2zM659 1383h9.2v12.3h-9.2zM420.7 1506h9.2v12.5h-9.2zM530.7 1506h9.2v12.5h-9.2zM567.3 1506h9.2v12.5h-9.2zM576.5 1506h9.2v12.5h-9.2zM604 1506h9.2v12.5h-9.2zM631.5 1506h9.2v12.5h-9.2zM649.9 1506h9.2v12.5h-9.2z"/>
<path fill="#fea933" d="M475.7 1357.9h9.2v12.5h-9.2zM494 1357.9h9.2v12.5h-9.2zM567.3 1357.9h9.2v12.5h-9.2zM576.5 1357.9h9.2v12.5h-9.2zM604 1357.9h9.2v12.5h-9.2zM649.9 1357.9h9.2v12.5h-9.2zM649.9 1370.4h9.2v12.6h-9.2zM649.9 1395.3h9.2v12.6h-9.2zM649.9 1460.8h9.2v20.2h-9.2zM649.9 1481h9.2v25h-9.2zM411.5 1506h9.2v12.5h-9.2zM429.8 1506h9.2v12.5h-9.2zM466.5 1506h9.2v12.5h-9.2zM558.2 1506h9.2v12.5h-9.2zM585.7 1506h9.2v12.5h-9.2zM594.8 1506h9.2v12.5h-9.2zM622.3 1506h9.2v12.5h-9.2z"/>
<path fill="#fe9e2f" d="M429.8 1345.4h9.2v12.5h-9.2zM539.8 1345.4h9.2v12.5h-9.2zM549 1345.4h9.2v12.5h-9.2zM439 1357.9h9.2v12.5h-9.2zM448.2 1357.9h9.2v12.5h-9.2zM466.5 1357.9h9.2v12.5h-9.2zM594.8 1357.9h9.2v12.5h-9.2zM613.2 1357.9h9.2v12.5h-9.2zM649.9 1407.9h9.2v12.6h-9.2zM649.9 1420.5h9.2v12.5h-9.2zM649.9 1433h9.2v12.6h-9.2zM649.9 1445.6h9.2v15.2h-9.2zM512.3 1506h9.2v12.5h-9.2zM549 1506h9.2v12.5h-9.2zM613.2 1506h9.2v12.5h-9.2zM640.7 1506h9.2v12.5h-9.2z"/>
<path fill="#fe962b" d="M411.5 1345.4h9.2v12.5h-9.2zM420.7 1345.4h9.2v12.5h-9.2zM530.7 1345.4h9.2v12.5h-9.2zM402.3 1370.4h9.2v12.6h-9.2zM402.3 1506h9.2v12.5h-9.2z"/>
<path fill="#fd8a26" d="M585.7 1357.9h9.2v12.5h-9.2zM393.2 1370.4h9.2v12.6h-9.2zM594.8 1370.4h9.2v12.6h-9.2zM457.3 1506h9.2v12.5h-9.2z"/>
<path fill="#fb7e21" d="M466.5 1370.4h9.2v12.6h-9.2zM512.3 1370.4h9.2v12.6h-9.2z"/>
<path fill="#f9751d" d="M530.7 1357.9h9.2v12.5h-9.2zM539.8 1357.9h9.2v12.5h-9.2zM558.2 1357.9h9.2v12.5h-9.2zM448.2 1370.4h9.2v12.6h-9.2zM457.3 1370.4h9.2v12.6h-9.2zM494 1370.4h9.2v12.6h-9.2zM503.2 1370.4h9.2v12.6h-9.2zM521.5 1370.4h9.2v12.6h-9.2zM567.3 1370.4h9.2v12.6h-9.2zM585.7 1370.4h9.2v12.6h-9.2zM613.2 1370.4h9.2v12.6h-9.2zM622.3 1370.4h9.2v12.6h-9.2zM631.5 1370.4h9.2v12.6h-9.2zM640.7 1370.4h9.2v12.6h-9.2z"/>
<path fill="#f56918" d="M420.7 1357.9h9.2v12.5h-9.2zM429.8 1357.9h9.2v12.5h-9.2zM549 1357.9h9.2v12.5h-9.2zM439 1370.4h9.2v12.6h-9.2zM475.7 1370.4h9.2v12.6h-9.2zM604 1370.4h9.2v12.6h-9.2z"/>
<path fill="#f26014" d="M411.5 1357.9h9.2v12.5h-9.2zM484.8 1370.4h9.2v12.6h-9.2zM402.3 1383h9.2v12.3h-9.2zM448.2 1383h9.2v12.3h-9.2zM494 1383h9.2v12.3h-9.2zM640.7 1383h9.2v12.3h-9.2z"/>
<path fill="#ed5510" d="M576.5 1370.4h9.2v12.6h-9.2zM393.2 1383h9.2v12.3h-9.2zM439 1383h9.2v12.3h-9.2zM457.3 1383h9.2v12.3h-9.2zM466.5 1383h9.2v12.3h-9.2zM503.2 1383h9.2v12.3h-9.2zM512.3 1383h9.2v12.3h-9.2zM521.5 1383h9.2v12.3h-9.2zM585.7 1383h9.2v12.3h-9.2zM613.2 1383h9.2v12.3h-9.2zM622.3 1383h9.2v12.3h-9.2zM393.2 1395.3h9.2v12.6h-9.2zM402.3 1395.3h9.2v12.6h-9.2z"/>
<path fill="#ea4e0d" d="M411.5 1370.4h9.2v12.6h-9.2zM420.7 1370.4h9.2v12.6h-9.2zM530.7 1370.4h9.2v12.6h-9.2zM539.8 1370.4h9.2v12.6h-9.2zM558.2 1370.4h9.2v12.6h-9.2zM475.7 1383h9.2v12.3h-9.2zM484.8 1383h9.2v12.3h-9.2zM530.7 1383h9.2v12.3h-9.2zM567.3 1383h9.2v12.3h-9.2zM576.5 1383h9.2v12.3h-9.2zM594.8 1383h9.2v12.3h-9.2zM604 1383h9.2v12.3h-9.2zM631.5 1383h9.2v12.3h-9.2zM448.2 1395.3h9.2v12.6h-9.2z"/>
<path fill="#e4450a" d="M429.8 1370.4h9.2v12.6h-9.2zM549 1370.4h9.2v12.6h-9.2zM411.5 1383h9.2v12.3h-9.2zM558.2 1383h9.2v12.3h-9.2zM585.7 1395.3h9.2v12.6h-9.2zM604 1395.3h9.2v12.6h-9.2zM613.2 1395.3h9.2v12.6h-9.2zM622.3 1395.3h9.2v12.6h-9.2zM393.2 1407.9h9.2v12.6h-9.2zM402.3 1407.9h9.2v12.6h-9.2zM457.3 1481h9.2v25h-9.2z"/>
<path fill="#df3f08" d="M420.7 1383h9.2v12.3h-9.2zM429.8 1383h9.2v12.3h-9.2zM411.5 1395.3h9.2v12.6h-9.2zM439 1395.3h9.2v12.6h-9.2zM457.3 1395.3h9.2v12.6h-9.2zM466.5 1395.3h9.2v12.6h-9.2zM475.7 1395.3h9.2v12.6h-9.2zM512.3 1395.3h9.2v12.6h-9.2zM576.5 1395.3h9.2v12.6h-9.2zM640.7 1395.3h9.2v12.6h-9.2zM448.2 1407.9h9.2v12.6h-9.2zM457.3 1407.9h9.2v12.6h-9.2zM402.3 1481h9.2v25h-9.2zM420.7 1481h9.2v25h-9.2zM494 1481h9.2v25h-9.2zM530.7 1481h9.2v25h-9.2z"/>
<path fill="#d83706" d="M539.8 1383h9.2v12.3h-9.2zM549 1383h9.2v12.3h-9.2zM494 1395.3h9.2v12.6h-9.2zM521.5 1395.3h9.2v12.6h-9.2zM530.7 1395.3h9.2v12.6h-9.2zM549 1395.3h9.2v12.6h-9.2zM567.3 1395.3h9.2v12.6h-9.2zM594.8 1395.3h9.2v12.6h-9.2zM466.5 1407.9h9.2v12.6h-9.2zM475.7 1407.9h9.2v12.6h-9.2zM484.8 1407.9h9.2v12.6h-9.2zM494 1407.9h9.2v12.6h-9.2zM512.3 1407.9h9.2v12.6h-9.2zM567.3 1407.9h9.2v12.6h-9.2zM640.7 1407.9h9.2v12.6h-9.2zM411.5 1481h9.2v25h-9.2zM475.7 1481h9.2v25h-9.2zM567.3 1481h9.2v25h-9.2zM576.5 1481h9.2v25h-9.2zM622.3 1481h9.2v25h-9.2z"/>
<path fill="#d02f05" d="M420.7 1395.3h9.2v12.6h-9.2zM484.8 1395.3h9.2v12.6h-9.2zM503.2 1395.3h9.2v12.6h-9.2zM631.5 1395.3h9.2v12.6h-9.2zM439 1407.9h9.2v12.6h-9.2zM503.2 1407.9h9.2v12.6h-9.2zM521.5 1407.9h9.2v12.6h-9.2zM576.5 1407.9h9.2v12.6h-9.2zM604 1407.9h9.2v12.6h-9.2zM613.2 1407.9h9.2v12.6h-9.2zM631.5 1407.9h9.2v12.6h-9.2zM393.2 1481h9.2v25h-9.2zM439 1481h9.2v25h-9.2zM448.2 1481h9.2v25h-9.2zM466.5 1481h9.2v25h-9.2zM484.8 1481h9.2v25h-9.2zM512.3 1481h9.2v25h-9.2zM521.5 1481h9.2v25h-9.2zM549 1481h9.2v25h-9.2zM558.2 1481h9.2v25h-9.2zM585.7 1481h9.2v25h-9.2zM594.8 1481h9.2v25h-9.2zM604 1481h9.2v25h-9.2zM613.2 1481h9.2v25h-9.2zM631.5 1481h9.2v25h-9.2zM640.7 1481h9.2v25h-9.2z"/>
<path fill="#ca2a04" d="M539.8 1395.3h9.2v12.6h-9.2zM558.2 1395.3h9.2v12.6h-9.2zM558.2 1407.9h9.2v12.6h-9.2zM585.7 1407.9h9.2v12.6h-9.2zM594.8 1407.9h9.2v12.6h-9.2zM622.3 1407.9h9.2v12.6h-9.2zM411.5 1420.5h9.2v12.5h-9.2zM512.3 1420.5h9.2v12.5h-9.2zM558.2 1420.5h9.2v12.5h-9.2zM429.8 1481h9.2v25h-9.2zM503.2 1481h9.2v25h-9.2zM539.8 1481h9.2v25h-9.2z"/>
<path fill="#c12302" d="M429.8 1395.3h9.2v12.6h-9.2zM411.5 1407.9h9.2v12.6h-9.2zM420.7 1407.9h9.2v12.6h-9.2zM429.8 1407.9h9.2v12.6h-9.2zM530.7 1407.9h9.2v12.6h-9.2zM393.2 1420.5h9.2v12.5h-9.2zM402.3 1420.5h9.2v12.5h-9.2zM429.8 1420.5h9.2v12.5h-9.2zM448.2 1420.5h9.2v12.5h-9.2zM503.2 1420.5h9.2v12.5h-9.2zM521.5 1420.5h9.2v12.5h-9.2zM530.7 1420.5h9.2v12.5h-9.2zM613.2 1420.5h9.2v12.5h-9.2zM622.3 1420.5h9.2v12.5h-9.2zM631.5 1420.5h9.2v12.5h-9.2zM640.7 1420.5h9.2v12.5h-9.2zM429.8 1433h9.2v12.6h-9.2zM613.2 1433h9.2v12.6h-9.2zM613.2 1460.8h9.2v20.2h-9.2z"/>
<path fill="#b91e02" d="M420.7 1420.5h9.2v12.5h-9.2zM439 1420.5h9.2v12.5h-9.2zM457.3 1420.5h9.2v12.5h-9.2zM494 1420.5h9.2v12.5h-9.2zM604 1420.5h9.2v12.5h-9.2zM393.2 1433h9.2v12.6h-9.2zM411.5 1433h9.2v12.6h-9.2zM420.7 1433h9.2v12.6h-9.2zM439 1433h9.2v12.6h-9.2zM503.2 1433h9.2v12.6h-9.2zM530.7 1433h9.2v12.6h-9.2zM558.2 1433h9.2v12.6h-9.2zM604 1433h9.2v12.6h-9.2zM631.5 1433h9.2v12.6h-9.2zM640.7 1433h9.2v12.6h-9.2zM494 1445.6h9.2v15.2h-9.2zM503.2 1445.6h9.2v15.2h-9.2zM631.5 1445.6h9.2v15.2h-9.2zM393.2 1460.8h9.2v20.2h-9.2zM402.3 1460.8h9.2v20.2h-9.2zM530.7 1460.8h9.2v20.2h-9.2zM640.7 1460.8h9.2v20.2h-9.2z"/>
<path fill="#af1801" d="M567.3 1420.5h9.2v12.5h-9.2zM402.3 1433h9.2v12.6h-9.2zM457.3 1433h9.2v12.6h-9.2zM494 1433h9.2v12.6h-9.2zM512.3 1433h9.2v12.6h-9.2zM521.5 1433h9.2v12.6h-9.2zM393.2 1445.6h9.2v15.2h-9.2zM411.5 1445.6h9.2v15.2h-9.2zM521.5 1445.6h9.2v15.2h-9.2zM558.2 1445.6h9.2v15.2h-9.2zM613.2 1445.6h9.2v15.2h-9.2zM420.7 1460.8h9.2v20.2h-9.2zM429.8 1460.8h9.2v20.2h-9.2zM439 1460.8h9.2v20.2h-9.2zM448.2 1460.8h9.2v20.2h-9.2zM494 1460.8h9.2v20.2h-9.2zM503.2 1460.8h9.2v20.2h-9.2zM512.3 1460.8h9.2v20.2h-9.2zM521.5 1460.8h9.2v20.2h-9.2zM558.2 1460.8h9.2v20.2h-9.2zM604 1460.8h9.2v20.2h-9.2zM631.5 1460.8h9.2v20.2h-9.2z"/>
<path fill="#a71401" d="M549 1407.9h9.2v12.6h-9.2zM549 1420.5h9.2v12.5h-9.2zM576.5 1420.5h9.2v12.5h-9.2zM448.2 1433h9.2v12.6h-9.2zM622.3 1433h9.2v12.6h-9.2zM402.3 1445.6h9.2v15.2h-9.2zM420.7 1445.6h9.2v15.2h-9.2zM439 1445.6h9.2v15.2h-9.2zM448.2 1445.6h9.2v15.2h-9.2zM457.3 1445.6h9.2v15.2h-9.2zM512.3 1445.6h9.2v15.2h-9.2zM530.7 1445.6h9.2v15.2h-9.2zM640.7 1445.6h9.2v15.2h-9.2zM411.5 1460.8h9.2v20.2h-9.2zM457.3 1460.8h9.2v20.2h-9.2zM549 1460.8h9.2v20.2h-9.2zM622.3 1460.8h9.2v20.2h-9.2z"/>
<path fill="#9b0f01" d="M539.8 1407.9h9.2v12.6h-9.2zM466.5 1420.5h9.2v12.5h-9.2zM539.8 1420.5h9.2v12.5h-9.2zM585.7 1420.5h9.2v12.5h-9.2zM594.8 1420.5h9.2v12.5h-9.2zM549 1433h9.2v12.6h-9.2zM576.5 1433h9.2v12.6h-9.2zM604 1445.6h9.2v15.2h-9.2zM622.3 1445.6h9.2v15.2h-9.2zM539.8 1460.8h9.2v20.2h-9.2zM585.7 1460.8h9.2v20.2h-9.2zM594.8 1460.8h9.2v20.2h-9.2z"/>
<path fill="#920b01" d="M484.8 1420.5h9.2v12.5h-9.2zM466.5 1433h9.2v12.6h-9.2zM539.8 1433h9.2v12.6h-9.2zM567.3 1433h9.2v12.6h-9.2zM585.7 1433h9.2v12.6h-9.2zM429.8 1445.6h9.2v15.2h-9.2zM475.7 1445.6h9.2v15.2h-9.2zM466.5 1460.8h9.2v20.2h-9.2zM484.8 1460.8h9.2v20.2h-9.2zM576.5 1460.8h9.2v20.2h-9.2z"/>
<path fill="#850702" d="M475.7 1433h9.2v12.6h-9.2zM484.8 1433h9.2v12.6h-9.2zM594.8 1433h9.2v12.6h-9.2zM549 1445.6h9.2v15.2h-9.2zM567.3 1445.6h9.2v15.2h-9.2zM585.7 1445.6h9.2v15.2h-9.2zM567.3 1460.8h9.2v20.2h-9.2z"/>
<path fill="#7a0403" d="M475.7 1420.5h9.2v12.5h-9.2zM466.5 1445.6h9.2v15.2h-9.2zM484.8 1445.6h9.2v15.2h-9.2zM539.8 1445.6h9.2v15.2h-9.2zM576.5 1445.6h9.2v15.2h-9.2zM594.8 1445.6h9.2v15.2h-9.2zM475.7 1460.8h9.2v20.2h-9.2z"/>
</g>
<g id="text_50">
<text style="font-size: 18.2px; font-family: 'DejaVu Sans'; text-anchor: middle" x="247.940741" y="393.740267" transform="rotate(-0 247.940741 393.740267)">(e)</text>
</g>
<g id="matplotlib.axis_11">
<g id="xtick_27">
<g id="line2d_115">
<g>
<use href="#m1504cfccaf" x="56.148148" y="450.222222" style="stroke: #000000; stroke-width: 0.8"/>
</g>
</g>
<g id="text_51">
<text style="font-size: 10px; font-family: 'DejaVu Sans'; text-anchor: middle" x="56.148148" y="464.82066" transform="rotate(-0 56.148148 464.82066)">11:14</text>
</g>
</g>
<g id="xtick_28">
<g id="line2d_116">
<g>
<use href="#m1504cfccaf" x="95.555556" y="450.222222" style="stroke: #000000; stroke-width: 0.8"/>
</g>
</g>
<g id="text_52">
<text style="font-size: 10px; font-family: 'DejaVu Sans'; text-anchor: middle" x="95.555556" y="464.82066" transform="rotate(-0 95.555556 464.82066)">11:15</text>
</g>
</g>
<g id="xtick_29">
<g id="line2d_117">
<g>
<use href="#m1504cfccaf" x="134.962963" y="450.222222" style="stroke: #000000; stroke-width: 0.8"/>
</g>
</g>
<g id="text_53">
<text style="font-size: 10px; font-family: 'DejaVu Sans'; text-anchor: middle" x="134.962963" y="464.82066" transform="rotate(-0 134.962963 464.82066)">11:16</text>
</g>
</g>
<g id="xtick_30">
<g id="line2d_118">
<g>
<use href="#m1504cfccaf" x="174.37037" y="450.222222" style="stroke: #000000; stroke-width: 0.8"/>
</g>
</g>
<g id="text_54">
<text style="font-size: 10px; font-family: 'DejaVu Sans'; text-anchor: middle" x="174.37037" y="464.82066" transform="rotate(-0 174.37037 464.82066)">11:17</text>
</g>
</g>
<g id="xtick_31">
<g id="line2d_119">
<g>
<use href="#m1504cfccaf" x="213.777778" y="450.222222" style="stroke: #000000; stroke-width: 0.8"/>
</g>
</g>
<g id="text_55">
<text style="font-size: 10px; font-family: 'DejaVu Sans'; text-anchor: middle" x="213.777778" y="464.82066" transform="rotate(-0 213.777778 464.82066)">11:18</text>
</g>
</g>
<g id="xtick_32">
<g id="line2d_120">
<g>
<use href="#m1504cfccaf" x="253.185185" y="450.222222" style="stroke: #000000; stroke-width: 0.8"/>
</g>
</g>
<g id="text_56">
<text style="font-size: 10px; font-family: 'DejaVu Sans'; text-anchor: middle" x="253.185185" y="464.82066" transform="rotate(-0 253.185185 464.82066)">11:19</text>
</g>
</g>
</g>
<g id="matplotlib.axis_12">
<g id="ytick_53">
<g id="line2d_121">
<g>
<use href="#m5d545ce8f8" x="48.711111" y="387.940741" style="stroke: #000000; stroke-width: 0.8"/>
</g>
</g>
<g id="text_57">
<g transform="translate(24.111111 391.739959)">
<text>
<tspan x="0" y="-0.064063" style="font-size: 10px; font-family: 'DejaVu Sans'">1</tspan>
<tspan x="6.362305" y="-0.064063" style="font-size: 10px; font-family: 'DejaVu Sans'">0</tspan>
<tspan x="12.820312" y="-3.892188" style="font-size: 7px; font-family: 'DejaVu Sans'">4</tspan>
</text>
</g>
</g>
</g>
<g id="ytick_54">
<g id="line2d_122">
<g>
<use href="#m5d545ce8f8" x="48.711111" y="419.022222" style="stroke: #000000; stroke-width: 0.8"/>
</g>
</g>
<g id="text_58">
<g transform="translate(24.111111 422.821441)">
<text>
<tspan x="0" y="-0.976562" style="font-size: 10px; font-family: 'DejaVu Sans'">1</tspan>
<tspan x="6.362305" y="-0.976562" style="font-size: 10px; font-family: 'DejaVu Sans'">0</tspan>
<tspan x="12.820312" y="-4.804688" style="font-size: 7px; font-family: 'DejaVu Sans'">3</tspan>
</text>
</g>
</g>
</g>
<g id="ytick_55">
<g id="line2d_123">
<g>
<use href="#m5d545ce8f8" x="48.711111" y="450.074074" style="stroke: #000000; stroke-width: 0.8"/>
</g>
</g>
<g id="text_59">
<g transform="translate(24.111111 453.873293)">
<text>
<tspan x="0" y="-0.976562" style="font-size: 10px; font-family: 'DejaVu Sans'">1</tspan>
<tspan x="6.362305" y="-0.976562" style="font-size: 10px; font-family: 'DejaVu Sans'">0</tspan>
<tspan x="12.820312" y="-4.804688" style="font-size: 7px; font-family: 'DejaVu Sans'">2</tspan>
</text>
</g>
</g>
</g>
<g id="ytick_56">
<g id="line2d_124">
<g>
<use href="#mc3d89a154a" x="48.711111" y="440.722076" style="stroke: #000000; stroke-width: 0.6"/>
</g>
</g>
</g>
<g id="ytick_57">
<g id="line2d_125">
<g>
<use href="#mc3d89a154a" x="48.711111" y="435.251507" style="stroke: #000000; stroke-width: 0.6"/>
</g>
</g>
</g>
<g id="ytick_58">
<g id="line2d_126">
<g>
<use href="#mc3d89a154a" x="48.711111" y="431.370077" style="stroke: #000000; stroke-width: 0.6"/>
</g>
</g>
</g>
<g id="ytick_59">
<g id="line2d_127">
<g>
<use href="#mc3d89a154a" x="48.711111" y="428.359406" style="stroke: #000000; stroke-width: 0.6"/>
</g>
</g>
</g>
<g id="ytick_60">
<g id="line2d_128">
<g>
<use href="#mc3d89a154a" x="48.711111" y="425.899509" style="stroke: #000000; stroke-width: 0.6"/>
</g>
</g>
</g>
<g id="ytick_61">
<g id="line2d_129">
<g>
<use href="#mc3d89a154a" x="48.711111" y="423.819695" style="stroke: #000000; stroke-width: 0.6"/>
</g>
</g>
</g>
<g id="ytick_62">
<g id="line2d_130">
<g>
<use href="#mc3d89a154a" x="48.711111" y="422.018078" style="stroke: #000000; stroke-width: 0.6"/>
</g>
</g>
</g>
<g id="ytick_63">
<g id="line2d_131">
<g>
<use href="#mc3d89a154a" x="48.711111" y="420.42894" style="stroke: #000000; stroke-width: 0.6"/>
</g>
</g>
</g>
<g id="ytick_64">
<g id="line2d_132">
<g>
<use href="#mc3d89a154a" x="48.711111" y="409.655409" style="stroke: #000000; stroke-width: 0.6"/>
</g>
</g>
</g>
<g id="ytick_65">
<g id="line2d_133">
<g>
<use href="#mc3d89a154a" x="48.711111" y="404.18484" style="stroke: #000000; stroke-width: 0.6"/>
</g>
</g>
</g>
<g id="ytick_66">
<g id="line2d_134">
<g>
<use href="#mc3d89a154a" x="48.711111" y="400.30341" style="stroke: #000000; stroke-width: 0.6"/>
</g>
</g>
</g>
<g id="ytick_67">
<g id="line2d_135">
<g>
<use href="#mc3d89a154a" x="48.711111" y="397.292739" style="stroke: #000000; stroke-width: 0.6"/>
</g>
</g>
</g>
<g id="ytick_68">
<g id="line2d_136">
<g>
<use href="#mc3d89a154a" x="48.711111" y="394.832842" style="stroke: #000000; stroke-width: 0.6"/>
</g>
</g>
</g>
<g id="ytick_69">
<g id="line2d_137">
<g>
<use href="#mc3d89a154a" x="48.711111" y="392.753028" style="stroke: #000000; stroke-width: 0.6"/>
</g>
</g>
</g>
<g id="ytick_70">
<g id="line2d_138">
<g>
<use href="#mc3d89a154a" x="48.711111" y="390.951412" style="stroke: #000000; stroke-width: 0.6"/>
</g>
</g>
</g>
<g id="ytick_71">
<g id="line2d_139">
<g>
<use href="#mc3d89a154a" x="48.711111" y="389.362273" style="stroke: #000000; stroke-width: 0.6"/>
</g>
</g>
</g>
<g id="ytick_72">
<g id="line2d_140">
<g>
<use href="#mc3d89a154a" x="48.711111" y="378.588742" style="stroke: #000000; stroke-width: 0.6"/>
</g>
</g>
</g>
<g id="text_60">
<g transform="translate(18.011111 442.066667) rotate(-90)">
<text>
<tspan x="0" y="-0.703125" style="font-style: oblique; font-size: 10px; font-family: 'DejaVu Sans'">E</tspan>
<tspan x="6.318359" y="-0.703125" style="font-style: oblique; font-size: 10px; font-family: 'DejaVu Sans'">n</tspan>
<tspan x="12.65625" y="-0.703125" style="font-style: oblique; font-size: 10px; font-family: 'DejaVu Sans'">e</tspan>
<tspan x="18.808594" y="-0.703125" style="font-style: oblique; font-size: 10px; font-family: 'DejaVu Sans'">r</tspan>
<tspan x="22.919922" y="-0.703125" style="font-style: oblique; font-size: 10px; font-family: 'DejaVu Sans'">g</tspan>
<tspan x="29.267578" y="-0.703125" style="font-style: oblique; font-size: 10px; font-family: 'DejaVu Sans'">y</tspan>
<tspan x="45.7778" y="-0.703125" style="font-style: oblique; font-size: 10px; font-family: 'DejaVu Sans'">e</tspan>
<tspan x="51.930143" y="-0.703125" style="font-style: oblique; font-size: 10px; font-family: 'DejaVu Sans'">V</tspan>
<tspan x="35.185547" y="0.9375" style="font-style: oblique; font-size: 7px; font-family: 'DejaVu Sans'">i</tspan>
<tspan x="37.403809" y="-0.703125" style="font-size: 10px; font-family: 'DejaVu Sans'">,</tspan>
</text>
</g>
</g>
</g>
<g id="patch_32">
<path d="M 48.71 450.22 L 48.71 375.11" style="fill: none; stroke: #000000; stroke-width: 0.8; stroke-linejoin: miter; stroke-linecap: square"/>
</g>
<g id="patch_33">
<path d="M 260.89 450.22 L 260.89 375.11" style="fill: none; stroke: #000000; stroke-width: 0.8; stroke-linejoin: miter; stroke-linecap: square"/>
</g>
<g id="patch_34">
<path d="M 48.71 450.22 L 260.89 450.22" style="fill: none; stroke: #000000; stroke-width: 0.8; stroke-linejoin: miter; stroke-linecap: square"/>
</g>
<g id="patch_35">
<path d="M 48.71 375.11 L 260.89 375.11" style="fill: none; stroke: #000000; stroke-width: 0.8; stroke-linejoin: miter; stroke-linecap: square"/>
</g>
</g>
<g id="axes_7">
<g id="patch_36">
<path d="M 262.7 450.22 L 267.35 450.22 L 267.35 375.11 L 262.7 375.11 L 262.7 450.22 z" style="fill: none; opacity: 0"/>
</g>
<g id="cb_e" transform="scale(0.296296)">
<defs><linearGradient id="cbg886" x1="0" y1="0" x2="0" y2="1"><stop offset="0.0000" stop-color="#7a0403"/><stop offset="0.0312" stop-color="#920b01"/><stop offset="0.0625" stop-color="#a91601"/><stop offset="0.0938" stop-color="#be2102"/><stop offset="0.1250" stop-color="#d02f05"/><stop offset="0.1562" stop-color="#df3f08"/><stop offset="0.1875" stop-color="#eb500e"/><stop offset="0.2188" stop-color="#f46617"/><stop offset="0.2500" stop-color="#fb7e21"/><stop offset="0.2812" stop-color="#fe962b"/><stop offset="0.3125" stop-color="#fdac34"/><stop offset="0.3438" stop-color="#f8be39"/><stop offset="0.3750" stop-color="#eecf3a"/><stop offset="0.4062" stop-color="#dfdf37"/><stop offset="0.4375" stop-color="#cdec34"/><stop offset="0.4688" stop-color="#b9f635"/><stop offset="0.5000" stop-color="#a4fc3c"/><stop offset="0.5312" stop-color="#8bff4b"/><stop offset="0.5625" stop-color="#6dfe62"/><stop offset="0.5938" stop-color="#4ef97d"/><stop offset="0.6250" stop-color="#32f298"/><stop offset="0.6562" stop-color="#1fe9af"/><stop offset="0.6875" stop-color="#18ddc2"/><stop offset="0.7188" stop-color="#1ccdd8"/><stop offset="0.7500" stop-color="#28bceb"/><stop offset="0.7812" stop-color="#37a8fa"/><stop offset="0.8125" stop-color="#4294ff"/><stop offset="0.8438" stop-color="#4680f6"/><stop offset="0.8750" stop-color="#466be3"/><stop offset="0.9062" stop-color="#4456c7"/><stop offset="0.9375" stop-color="#4040a2"/><stop offset="0.9688" stop-color="#392a73"/><stop offset="1.0000" stop-color="#30123b"/></linearGradient></defs><rect x="886.6" y="1266.0" width="15.7" height="253.5" fill="url(#cbg886)"/>
</g>
<g id="matplotlib.axis_13"/>
<g id="matplotlib.axis_14">
<g id="ytick_73">
<g id="line2d_141">
<g>
<use href="#m33c4ce201d" x="267.348148" y="384.237037" style="stroke: #000000; stroke-width: 0.8"/>
</g>
</g>
<g id="text_61">
<g transform="translate(274.348148 388.036256)">
<text>
<tspan x="0" y="-0.064063" style="font-size: 10px; font-family: 'DejaVu Sans'">1</tspan>
<tspan x="6.362305" y="-0.064063" style="font-size: 10px; font-family: 'DejaVu Sans'">0</tspan>
<tspan x="12.820312" y="-3.892188" style="font-size: 7px; font-family: 'DejaVu Sans'">7</tspan>
</text>
</g>
</g>
</g>
<g id="ytick_74">
<g id="line2d_142">
<g>
<use href="#m33c4ce201d" x="267.348148" y="415.17037" style="stroke: #000000; stroke-width: 0.8"/>
</g>
</g>
<g id="text_62">
<g transform="translate(274.348148 418.969589)">
<text>
<tspan x="0" y="-0.064063" style="font-size: 10px; font-family: 'DejaVu Sans'">1</tspan>
<tspan x="6.362305" y="-0.064063" style="font-size: 10px; font-family: 'DejaVu Sans'">0</tspan>
<tspan x="12.820312" y="-3.892188" style="font-size: 7px; font-family: 'DejaVu Sans'">5</tspan>
</text>
</g>
</g>
</g>
<g id="ytick_75">
<g id="line2d_143">
<g>
<use href="#m33c4ce201d" x="267.348148" y="446.103704" style="stroke: #000000; stroke-width: 0.8"/>
</g>
</g>
<g id="text_63">
<g transform="translate(274.348148 449.902922)">
<text>
<tspan x="0" y="-0.976562" style="font-size: 10px; font-family: 'DejaVu Sans'">1</tspan>
<tspan x="6.362305" y="-0.976562" style="font-size: 10px; font-family: 'DejaVu Sans'">0</tspan>
<tspan x="12.820312" y="-4.804688" style="font-size: 7px; font-family: 'DejaVu Sans'">3</tspan>
</text>
</g>
</g>
</g>
<g id="text_64">
<text style="font-size: 10px; font-family: 'DejaVu Sans'" transform="translate(303.546586 445.789323) rotate(-90)">THE ion eflux</text>
<g transform="translate(315.730648 459.366667) rotate(-90)">
<text>
<tspan x="0" y="-0.976562" style="font-style: oblique; font-size: 10px; font-family: 'DejaVu Sans'">e</tspan>
<tspan x="6.152344" y="-0.976562" style="font-style: oblique; font-size: 10px; font-family: 'DejaVu Sans'">V</tspan>
<tspan x="20.263672" y="-0.976562" style="font-style: oblique; font-size: 10px; font-family: 'DejaVu Sans'">c</tspan>
<tspan x="25.761719" y="-0.976562" style="font-style: oblique; font-size: 10px; font-family: 'DejaVu Sans'">m</tspan>
<tspan x="47.76929" y="-0.976562" style="font-style: oblique; font-size: 10px; font-family: 'DejaVu Sans'">s</tspan>
<tspan x="60.054447" y="-0.976562" style="font-style: oblique; font-size: 10px; font-family: 'DejaVu Sans'">s</tspan>
<tspan x="65.264408" y="-0.976562" style="font-style: oblique; font-size: 10px; font-family: 'DejaVu Sans'">r</tspan>
<tspan x="76.450931" y="-0.976562" style="font-style: oblique; font-size: 10px; font-family: 'DejaVu Sans'">e</tspan>
<tspan x="82.603275" y="-0.976562" style="font-style: oblique; font-size: 10px; font-family: 'DejaVu Sans'">V</tspan>
<tspan x="12.993164" y="-0.976562" style="font-size: 10px; font-family: 'DejaVu Sans'">/</tspan>
<tspan x="16.362305" y="-0.976562" style="font-size: 10px; font-family: 'DejaVu Sans'">(</tspan>
<tspan x="42.642337" y="-0.976562" style="font-size: 10px; font-family: 'DejaVu Sans'">⋅</tspan>
<tspan x="54.927493" y="-0.976562" style="font-size: 10px; font-family: 'DejaVu Sans'">⋅</tspan>
<tspan x="71.323978" y="-0.976562" style="font-size: 10px; font-family: 'DejaVu Sans'">⋅</tspan>
<tspan x="89.444095" y="-0.976562" style="font-size: 10px; font-family: 'DejaVu Sans'">)</tspan>
<tspan x="35.967044" y="-4.804688" style="font-size: 7px; font-family: 'DejaVu Sans'">2</tspan>
</text>
</g>
</g>
</g>
<g id="patch_37">
<path d="M 262.7 450.22 L 262.7 375.11" style="fill: none; stroke: #000000; stroke-width: 0.8; stroke-linejoin: miter; stroke-linecap: square"/>
</g>
<g id="patch_38">
<path d="M 267.35 450.22 L 267.35 375.11" style="fill: none; stroke: #000000; stroke-width: 0.8; stroke-linejoin: miter; stroke-linecap: square"/>
</g>
<g id="patch_39">
<path d="M 262.7 450.22 L 267.35 450.22" style="fill: none; stroke: #000000; stroke-width: 0.8; stroke-linejoin: miter; stroke-linecap: square"/>
</g>
<g id="patch_40">
<path d="M 262.7 375.11 L 267.35 375.11" style="fill: none; stroke: #000000; stroke-width: 0.8; stroke-linejoin: miter; stroke-linecap: square"/>
</g>
</g>
<g id="axes_8">
<g id="patch_41">
<path d="M 372.74 189.21 L 584.95 189.21 L 584.95 114.04 L 372.74 114.04 L 372.74 189.21 z" style="fill: none; opacity: 0"/>
</g>
<g id="text_65">
<text style="font-size: 18.2px; font-family: 'DejaVu Sans'; text-anchor: middle" x="572" y="132.76249" transform="rotate(-0 572 132.76249)">(f)</text>
</g>
<g id="matplotlib.axis_15">
<g id="xtick_33">
<g id="line2d_144">
<g>
<use href="#m1504cfccaf" x="372.82963" y="189.214815" style="stroke: #000000; stroke-width: 0.8"/>
</g>
</g>
</g>
<g id="xtick_34">
<g id="line2d_145">
<g>
<use href="#m1504cfccaf" x="413.333333" y="189.214815" style="stroke: #000000; stroke-width: 0.8"/>
</g>
</g>
</g>
<g id="xtick_35">
<g id="line2d_146">
<g>
<use href="#m1504cfccaf" x="453.837037" y="189.214815" style="stroke: #000000; stroke-width: 0.8"/>
</g>
</g>
</g>
<g id="xtick_36">
<g id="line2d_147">
<g>
<use href="#m1504cfccaf" x="494.340741" y="189.214815" style="stroke: #000000; stroke-width: 0.8"/>
</g>
</g>
</g>
<g id="xtick_37">
<g id="line2d_148">
<g>
<use href="#m1504cfccaf" x="534.844444" y="189.214815" style="stroke: #000000; stroke-width: 0.8"/>
</g>
</g>
</g>
<g id="xtick_38">
<g id="line2d_149">
<g>
<use href="#m1504cfccaf" x="575.348148" y="189.214815" style="stroke: #000000; stroke-width: 0.8"/>
</g>
</g>
</g>
</g>
<g id="matplotlib.axis_16">
<g id="ytick_76">
<g id="line2d_150">
<g>
<use href="#m5d545ce8f8" x="372.740741" y="119.674074" style="stroke: #000000; stroke-width: 0.8"/>
</g>
</g>
<g id="text_66">
<text style="font-size: 10px; font-family: 'DejaVu Sans'; text-anchor: end" x="365.740741" y="123.473293" transform="rotate(-0 365.740741 123.473293)">50</text>
</g>
</g>
<g id="ytick_77">
<g id="line2d_151">
<g>
<use href="#m5d545ce8f8" x="372.740741" y="138.903704" style="stroke: #000000; stroke-width: 0.8"/>
</g>
</g>
<g id="text_67">
<text style="font-size: 10px; font-family: 'DejaVu Sans'; text-anchor: end" x="365.740741" y="142.702922" transform="rotate(-0 365.740741 142.702922)">25</text>
</g>
</g>
<g id="ytick_78">
<g id="line2d_152">
<g>
<use href="#m5d545ce8f8" x="372.740741" y="158.133333" style="stroke: #000000; stroke-width: 0.8"/>
</g>
</g>
<g id="text_68">
<text style="font-size: 10px; font-family: 'DejaVu Sans'; text-anchor: end" x="365.740741" y="161.932552" transform="rotate(-0 365.740741 161.932552)">0</text>
</g>
</g>
<g id="ytick_79">
<g id="line2d_153">
<g>
<use href="#m5d545ce8f8" x="372.740741" y="177.362963" style="stroke: #000000; stroke-width: 0.8"/>
</g>
</g>
<g id="text_69">
<text style="font-size: 10px; font-family: 'DejaVu Sans'; text-anchor: end" x="365.740741" y="181.162182" transform="rotate(-0 365.740741 181.162182)">−25</text>
</g>
</g>
<g id="text_70">
<g transform="translate(338.556366 183.17963) rotate(-90)">
<text>
<tspan x="0" y="-0.703125" style="font-style: oblique; font-size: 10px; font-family: 'DejaVu Sans'">T</tspan>
<tspan x="6.108398" y="-0.703125" style="font-style: oblique; font-size: 10px; font-family: 'DejaVu Sans'">H</tspan>
<tspan x="13.62793" y="-0.703125" style="font-style: oblique; font-size: 10px; font-family: 'DejaVu Sans'">E</tspan>
<tspan x="23.193327" y="-0.703125" style="font-style: oblique; font-size: 10px; font-family: 'DejaVu Sans'">B</tspan>
<tspan x="50.62985" y="-0.703125" style="font-style: oblique; font-size: 10px; font-family: 'DejaVu Sans'">n</tspan>
<tspan x="56.967741" y="-0.703125" style="font-style: oblique; font-size: 10px; font-family: 'DejaVu Sans'">T</tspan>
<tspan x="30.053678" y="0.9375" style="font-style: oblique; font-size: 7px; font-family: 'DejaVu Sans'">L</tspan>
<tspan x="33.953581" y="0.9375" style="font-style: oblique; font-size: 7px; font-family: 'DejaVu Sans'">M</tspan>
<tspan x="39.993132" y="0.9375" style="font-style: oblique; font-size: 7px; font-family: 'DejaVu Sans'">N</tspan>
<tspan x="45.502897" y="-0.703125" style="font-size: 10px; font-family: 'DejaVu Sans'">,</tspan>
</text>
</g>
</g>
</g>
<g id="line2d_154">
<path d="M 373.08 127.69 L 373.53 127.48 L 373.97 127.13 L 374.41 128.19 L 374.86 128.9 L 375.3 128.34 L 375.75 128.34 L 376.19 128.47 L 376.64 128.45 L 377.53 129.23 L 377.97 129.22 L 378.41 128.73 L 378.86 128.48 L 379.3 128.49 L 379.75 128.28 L 380.19 128.36 L 381.08 129.79 L 381.97 129.54 L 382.41 129.52 L 382.86 130.02 L 383.3 130.35 L 383.75 130.15 L 384.19 130.36 L 384.64 129.58 L 385.08 129.28 L 385.53 129.96 L 385.97 129.55 L 386.86 128.55 L 387.3 129.25 L 387.75 129.32 L 388.19 129.52 L 388.64 129.59 L 389.08 129.02 L 389.97 129.32 L 390.86 129.23 L 391.3 129.26 L 391.75 128.83 L 392.19 128.84 L 392.64 128.45 L 393.08 128.93 L 393.53 128.63 L 393.97 128.61 L 394.86 127.11 L 395.3 128.08 L 395.75 128.26 L 396.19 127.42 L 396.64 126.83 L 397.53 126.63 L 397.97 127.08 L 398.41 126.63 L 398.86 126.66 L 399.75 125.9 L 400.19 125.57 L 400.64 125.08 L 401.08 124.81 L 401.53 125.48 L 401.97 126.77 L 402.86 127.4 L 404.19 128.94 L 404.64 128.74 L 405.08 127.95 L 405.97 127.86 L 406.41 128.17 L 406.86 128.72 L 407.3 128.88 L 407.75 128.07 L 408.19 128.31 L 408.64 129.37 L 409.08 129.65 L 409.53 129.65 L 409.97 130.09 L 410.41 130.37 L 410.86 129.49 L 411.3 127.94 L 411.75 129.7 L 412.19 132.96 L 412.64 131.89 L 413.08 126.55 L 413.53 124.61 L 413.97 123.77 L 415.3 126.2 L 415.75 126.46 L 416.19 126.04 L 416.64 125.81 L 417.53 124.32 L 417.97 124.06 L 418.41 123.47 L 418.86 121.75 L 419.3 119.38 L 420.19 117.18 L 420.64 117.86 L 421.08 119.1 L 421.97 123.06 L 422.41 123.89 L 422.86 124.43 L 423.75 127.39 L 424.19 127.92 L 425.53 128.55 L 426.41 127.7 L 426.86 127.64 L 427.3 127.7 L 427.75 126.84 L 428.19 126.69 L 428.64 126.8 L 429.08 126.56 L 429.53 126.87 L 429.97 127.85 L 430.86 128.43 L 431.3 128.93 L 431.75 128.44 L 432.19 126.12 L 432.64 124.71 L 433.08 124.03 L 433.53 125.5 L 433.97 126.48 L 434.41 125.15 L 434.86 124.39 L 435.75 122.13 L 436.64 126.71 L 437.08 126.75 L 437.53 127.32 L 437.97 126.32 L 438.41 125.94 L 439.3 128.78 L 440.19 131.18 L 440.64 131.54 L 441.08 130.06 L 441.53 129.09 L 441.97 128.73 L 442.41 128.52 L 442.86 128.94 L 443.3 130.71 L 443.75 130.44 L 444.64 127.67 L 445.08 128.28 L 445.53 129.33 L 445.97 130.07 L 446.41 129.3 L 447.3 123.6 L 448.19 129.09 L 448.64 129.48 L 449.08 127.98 L 449.53 127.13 L 449.97 127.88 L 450.41 128.26 L 451.3 130.15 L 451.75 129.67 L 452.19 129.74 L 452.64 129.39 L 453.08 128.65 L 453.53 128.73 L 453.97 128.69 L 454.86 129.22 L 455.3 129.02 L 455.75 128.49 L 456.64 129.3 L 457.08 129.8 L 458.41 127.78 L 459.75 129.91 L 460.19 129.85 L 461.08 128.09 L 461.53 127.63 L 462.41 128.35 L 462.86 128.12 L 464.19 126.78 L 464.64 126.55 L 465.08 126.99 L 465.53 128.71 L 465.97 129.77 L 466.41 133.67 L 466.86 141.82 L 467.3 146.7 L 467.75 141.2 L 468.19 139.51 L 468.64 139.91 L 469.08 147.24 L 469.97 142.05 L 470.41 146 L 470.86 151.52 L 471.3 153.12 L 471.75 148.65 L 472.64 142.76 L 473.08 138.46 L 473.53 138.77 L 473.97 146.86 L 474.41 146.09 L 475.3 132.03 L 475.75 124.68 L 476.19 121.11 L 477.08 137.33 L 477.53 137.47 L 478.41 130.29 L 479.3 124.69 L 479.75 129.03 L 480.19 127.02 L 480.64 130.01 L 481.53 138.74 L 481.97 139.17 L 482.86 161.56 L 483.3 170.01 L 483.75 163.01 L 484.19 152.23 L 484.64 144.84 L 485.53 135.15 L 485.97 143.74 L 486.41 143.01 L 486.86 136.4 L 487.3 137.7 L 487.75 138.6 L 488.19 142.54 L 489.08 172.87 L 489.53 165.51 L 489.97 160.6 L 490.41 158.74 L 490.86 157.52 L 491.3 156.8 L 491.75 156.48 L 492.19 160.27 L 493.53 175.05 L 493.97 176.28 L 494.41 174.92 L 494.86 174.03 L 495.3 173.94 L 495.75 172.95 L 496.19 173.07 L 497.08 174.8 L 497.53 175 L 497.97 172.31 L 498.86 163.24 L 499.3 163.72 L 500.19 170.34 L 501.08 176.37 L 501.97 179.26 L 502.41 180.83 L 502.86 181.09 L 503.3 176.97 L 503.75 169.62 L 504.64 151.89 L 505.08 148.08 L 505.53 152.31 L 505.97 151.14 L 506.41 146.27 L 506.86 144.71 L 507.3 146.98 L 507.75 149.83 L 508.19 154.49 L 508.64 153.36 L 509.08 153.31 L 509.53 157.29 L 509.97 156.28 L 510.41 161.25 L 511.3 179.98 L 511.75 173.37 L 512.19 172.26 L 513.08 174.02 L 513.53 172.74 L 513.97 172.13 L 514.41 171.26 L 514.86 171.72 L 515.3 172.03 L 515.75 173.61 L 516.19 174.14 L 516.64 172.93 L 517.08 174.5 L 517.97 178.97 L 518.41 179.02 L 518.86 178.89 L 519.75 174.81 L 520.64 179.86 L 521.53 183.89 L 521.97 185.38 L 522.41 184.92 L 522.86 184.14 L 523.75 181.98 L 524.19 180.33 L 524.64 177.4 L 525.08 175.48 L 525.53 174.35 L 525.97 178.51 L 526.41 180.86 L 526.86 181.61 L 527.3 179.95 L 527.75 178.83 L 528.19 177.39 L 529.08 167.08 L 529.53 169.38 L 529.97 170.96 L 530.86 169.15 L 532.64 177 L 533.08 177.87 L 533.53 178.17 L 533.97 177.48 L 534.41 178.08 L 534.86 179.81 L 535.3 179.91 L 535.75 180.46 L 536.19 180.41 L 536.64 179.96 L 537.08 180.56 L 537.53 179.49 L 537.97 177.99 L 538.41 177.36 L 538.86 175.94 L 539.75 180.53 L 540.64 183.94 L 541.08 184.86 L 541.53 183.11 L 542.41 175.52 L 542.86 175.77 L 543.3 172.69 L 544.19 155.29 L 544.64 158.88 L 545.08 170.7 L 545.53 175.79 L 545.97 171.84 L 546.86 180.82 L 547.3 181.28 L 547.75 181.93 L 548.19 174.72 L 548.64 169.47 L 549.08 167.09 L 549.53 168.58 L 550.86 180.65 L 551.3 182.24 L 551.75 182.2 L 552.19 180.02 L 553.08 181.89 L 553.53 182.89 L 553.97 182.84 L 554.41 181.79 L 555.3 174.27 L 555.75 171.64 L 556.19 172.71 L 556.64 174.3 L 557.08 175.04 L 557.53 175.5 L 557.97 175.63 L 558.41 176.04 L 559.75 173.27 L 560.19 175.28 L 560.64 183.55 L 561.08 174.01 L 561.53 174.72 L 561.97 177.15 L 562.41 174.82 L 562.86 174.62 L 563.3 175.22 L 563.75 176.52 L 564.19 177.27 L 564.64 177.16 L 565.08 177.62 L 565.53 176.67 L 566.41 173.5 L 567.3 178.37 L 567.75 178.93 L 568.19 178.56 L 568.64 177.89 L 569.08 177.52 L 569.53 176.78 L 569.97 177.12 L 571.3 179.55 L 572.19 176.15 L 572.64 176.72 L 573.53 177.09 L 573.97 178.23 L 574.86 179.67 L 575.3 180.7 L 575.75 180.85 L 576.19 181.33 L 576.64 181.07 L 577.08 180.49 L 577.97 178.25 L 578.86 180.79 L 579.3 180.59 L 579.75 179.73 L 580.64 176.91 L 581.53 170.65 L 581.97 167.15 L 582.41 172.3 L 582.86 175.96 L 583.3 178.13 L 584.19 179.67 L 584.19 179.67" clip-path="url(#pb225cf4f3d)" style="fill: none; stroke: #ff0000; stroke-width: 1.5; stroke-linecap: square"/>
</g>
<g id="line2d_155">
<path d="M 373.08 163.52 L 373.53 163.16 L 373.97 163.84 L 374.41 164.16 L 375.3 164.19 L 375.75 164.25 L 376.19 164.44 L 377.08 165.11 L 377.53 164.26 L 377.97 163.85 L 378.41 164.02 L 378.86 163.31 L 379.3 162.92 L 379.75 163.94 L 380.19 164.4 L 380.64 165.5 L 381.08 165.16 L 381.53 164.6 L 381.97 164.32 L 382.86 162.96 L 383.3 162.73 L 384.19 163.31 L 385.08 163.5 L 385.53 163.63 L 385.97 163.1 L 386.41 162.95 L 387.3 163.5 L 387.75 163.29 L 388.19 162.91 L 389.53 163.54 L 389.97 164 L 390.41 163.58 L 391.3 164.57 L 391.75 164.25 L 392.64 164.98 L 393.08 164.49 L 393.53 164.41 L 394.41 163.48 L 394.86 163.56 L 395.75 165.37 L 396.19 165.27 L 396.64 165.03 L 397.08 165.17 L 397.53 165.13 L 397.97 165.6 L 398.41 165.86 L 398.86 167.39 L 399.3 166.74 L 400.19 164.19 L 400.64 164.04 L 401.08 164.36 L 401.53 164.43 L 401.97 164.08 L 402.41 164.51 L 402.86 165.09 L 403.3 165.41 L 403.75 165.4 L 404.19 165.53 L 404.64 166.14 L 405.53 166.17 L 406.41 165.98 L 406.86 165.93 L 407.3 166.75 L 407.75 166.25 L 408.19 166.34 L 408.64 167.13 L 409.08 167.52 L 409.53 166.98 L 409.97 167.75 L 410.41 168.22 L 410.86 168.17 L 411.3 167.57 L 411.75 166.47 L 412.19 163.06 L 412.64 163.61 L 413.53 163.41 L 413.97 166.86 L 414.41 164.38 L 414.86 163.09 L 415.3 162.59 L 415.75 164.18 L 416.19 166.63 L 416.64 169.87 L 417.08 167.44 L 417.53 166.25 L 417.97 166.79 L 418.41 166.82 L 418.86 165.6 L 419.3 162.82 L 419.75 158.9 L 420.19 158.13 L 421.08 164.75 L 421.53 168.37 L 421.97 170.94 L 422.41 170.87 L 422.86 171.33 L 423.75 170.82 L 424.19 169.98 L 425.08 167.8 L 425.53 167.49 L 425.97 168.04 L 426.41 167.92 L 426.86 167.17 L 427.3 167.55 L 427.75 167.55 L 428.19 167.67 L 428.64 168.25 L 429.08 167.73 L 429.53 166.48 L 429.97 166.33 L 430.41 167.13 L 430.86 166.94 L 431.3 168.32 L 431.75 170.09 L 432.19 171.31 L 432.64 169.1 L 433.08 164.01 L 433.53 162.1 L 433.97 164 L 434.41 165.18 L 434.86 166.83 L 435.75 171.42 L 436.19 170.89 L 436.64 169.88 L 437.08 171.3 L 437.53 172.33 L 437.97 171.05 L 438.41 166.74 L 438.86 164.24 L 439.3 163.9 L 439.75 164.49 L 440.19 166.67 L 440.64 168.22 L 441.08 168.22 L 441.53 166.9 L 441.97 166.18 L 443.75 170.09 L 445.53 164.77 L 445.97 164.16 L 446.41 166.06 L 446.86 168.49 L 447.3 169.29 L 447.75 170.85 L 448.64 157.24 L 449.53 168.41 L 449.97 171.94 L 450.41 171.62 L 450.86 171.6 L 452.19 168.83 L 453.08 165.69 L 453.97 164.2 L 454.41 163.22 L 454.86 162.52 L 455.75 166.75 L 456.19 167.38 L 456.64 169.18 L 457.08 172.04 L 457.53 172.45 L 457.97 172.16 L 458.41 172.37 L 458.86 171.19 L 459.3 167.64 L 459.75 166.99 L 460.64 170.57 L 461.08 170.46 L 461.53 169.9 L 461.97 168.59 L 462.41 167.95 L 462.86 166.98 L 463.3 166.82 L 463.75 167.11 L 464.19 166.69 L 464.64 166.98 L 465.08 168.39 L 465.53 169.12 L 465.97 165.14 L 466.41 155.52 L 466.86 149.99 L 467.3 152.08 L 467.75 155.91 L 468.19 157.62 L 468.64 158.59 L 469.08 155.89 L 469.97 167.46 L 471.3 156.15 L 471.75 167.18 L 472.19 174.4 L 472.64 171.37 L 473.08 167.56 L 473.53 165.8 L 473.97 168.9 L 474.86 181.95 L 475.3 183.44 L 475.75 183.19 L 476.19 179.54 L 476.64 174.59 L 477.08 167.57 L 477.97 172.33 L 478.41 170.91 L 478.86 168.74 L 479.3 167.67 L 479.75 167.31 L 480.19 165.87 L 480.64 162.35 L 481.08 160.1 L 481.53 165.97 L 481.97 168.54 L 482.41 165.14 L 482.86 164.96 L 483.3 167.39 L 484.19 157.72 L 484.64 155.5 L 485.53 154.23 L 485.97 153.26 L 486.41 152.61 L 486.86 154.74 L 487.75 160.29 L 488.19 162.57 L 488.64 163.85 L 489.08 164.59 L 489.53 165.69 L 489.97 167.73 L 490.41 173.53 L 490.86 175.06 L 491.3 173.09 L 492.64 161.62 L 493.53 171.48 L 493.97 172.35 L 494.41 171.99 L 495.3 165.97 L 496.19 169.89 L 497.08 165.21 L 497.53 164.88 L 498.41 166.68 L 498.86 168.29 L 499.3 176.26 L 500.19 182.79 L 501.53 174.92 L 501.97 172.45 L 502.41 171.79 L 502.86 171.55 L 503.75 174.31 L 504.19 173.7 L 505.08 179.48 L 505.53 183.09 L 505.97 177.38 L 506.41 169.2 L 506.86 166.94 L 507.3 170.76 L 507.75 169.89 L 508.19 167.1 L 509.08 163.47 L 509.53 162.35 L 509.97 162.48 L 510.41 162.79 L 511.3 167.53 L 511.75 168.44 L 512.64 170.95 L 513.08 169.79 L 513.53 167.37 L 513.97 166.39 L 514.41 169.32 L 514.86 170.14 L 515.3 169.49 L 515.75 167.85 L 516.19 163.6 L 516.64 162.75 L 517.97 164.93 L 518.41 165.8 L 518.86 166.27 L 519.3 166.51 L 519.75 165.4 L 520.19 165.16 L 520.64 164.32 L 521.08 164.29 L 521.97 166.92 L 522.41 167 L 523.75 161.59 L 524.19 161.62 L 524.64 161.4 L 525.08 161.34 L 525.53 161.52 L 526.41 164.14 L 528.19 169.92 L 528.64 169.58 L 529.08 169.4 L 529.53 169.85 L 530.41 171.57 L 530.86 166.55 L 531.3 164.92 L 531.75 165.28 L 532.64 167.83 L 533.08 169.83 L 533.53 170.53 L 533.97 168.84 L 534.41 166.6 L 534.86 163.72 L 535.3 163.94 L 535.75 165.11 L 536.64 169.17 L 537.08 167.91 L 537.53 165.35 L 537.97 163.63 L 538.41 162.54 L 538.86 162.4 L 539.3 161.87 L 539.75 161.16 L 540.64 162.74 L 541.08 165.53 L 541.53 167.58 L 541.97 170.63 L 542.41 172.63 L 542.86 172.91 L 543.3 169.93 L 543.75 164.67 L 544.19 161.98 L 545.08 161.29 L 545.97 158.36 L 546.41 155.7 L 546.86 157.5 L 547.75 166.05 L 548.19 166.29 L 548.64 163.05 L 549.53 154.97 L 550.86 165.8 L 551.3 169.81 L 551.75 172.32 L 552.19 173.04 L 552.64 172.64 L 553.08 171.92 L 553.53 170.86 L 553.97 174.37 L 554.41 172.82 L 554.86 169.95 L 555.3 169.7 L 555.75 169.13 L 556.64 161.23 L 557.08 158.73 L 557.53 157.63 L 557.97 157.81 L 558.41 159.12 L 558.86 158.87 L 560.19 146.9 L 560.64 145.54 L 561.08 145.02 L 561.53 145.13 L 562.41 159.37 L 562.86 161.94 L 563.3 163.5 L 563.75 164.28 L 564.19 164.31 L 564.64 164.03 L 565.08 164.01 L 565.53 164.17 L 565.97 164.01 L 566.41 164 L 566.86 165.74 L 567.3 166.82 L 567.75 166.06 L 568.19 165.61 L 568.64 165.49 L 569.08 166.55 L 569.53 167.03 L 569.97 166.42 L 570.41 166.9 L 570.86 166.06 L 571.3 165.75 L 571.75 166.43 L 572.19 167.87 L 572.64 167.49 L 573.08 166.5 L 573.53 166.21 L 573.97 166.79 L 574.86 168.93 L 575.3 170.2 L 575.75 170.42 L 576.19 169.54 L 576.64 169.57 L 577.53 167.05 L 577.97 167.22 L 578.41 167.77 L 578.86 167.6 L 579.75 166.11 L 580.19 166.18 L 580.64 166.02 L 581.08 165.15 L 581.53 164.71 L 581.97 163.53 L 582.41 162.97 L 583.3 165.37 L 583.75 165.46 L 584.19 165.97 L 584.19 165.97" clip-path="url(#pb225cf4f3d)" style="fill: none; stroke: #008000; stroke-width: 1.5; stroke-linecap: square"/>
</g>
<g id="line2d_156">
<path d="M 373.08 160.37 L 373.53 160.28 L 373.97 160.93 L 374.41 160.61 L 374.86 159.98 L 375.3 160.49 L 375.75 160.81 L 376.19 160.72 L 376.64 160.44 L 377.08 160.64 L 377.53 160.15 L 377.97 160.93 L 378.86 162.08 L 379.3 162.21 L 380.19 161.14 L 380.64 159.79 L 381.08 159.27 L 381.53 159.95 L 381.97 160.22 L 382.41 160.2 L 382.86 160.71 L 383.3 160.35 L 383.75 160.37 L 384.64 160.97 L 385.08 160.96 L 385.97 160.66 L 386.41 161.19 L 386.86 161.03 L 387.75 161.36 L 388.19 161.19 L 388.64 160.39 L 389.08 160.21 L 390.41 160.57 L 390.86 161.29 L 391.75 160.9 L 392.19 160.67 L 392.64 160.29 L 393.53 161.02 L 393.97 161.1 L 394.41 161.45 L 394.86 161.51 L 395.3 161.28 L 395.75 161.44 L 396.19 162.09 L 396.64 162.23 L 397.08 162.51 L 397.97 162.67 L 398.41 162.41 L 398.86 161.92 L 399.3 161.73 L 399.75 162.15 L 400.64 161.65 L 401.08 162.48 L 401.53 163.88 L 401.97 164.42 L 402.41 164.27 L 402.86 163.22 L 403.75 163.48 L 404.19 162.43 L 405.08 161.28 L 405.53 160.61 L 405.97 160.67 L 406.41 160.45 L 406.86 160.66 L 407.3 161.06 L 407.75 160.55 L 408.19 159.82 L 408.64 159.7 L 409.53 158.58 L 409.97 157.84 L 410.86 152.39 L 411.75 146.74 L 412.19 144 L 412.64 144.23 L 413.53 150.61 L 414.41 153.08 L 415.3 159.03 L 416.19 160.66 L 416.64 158.16 L 417.08 158.35 L 417.53 161.27 L 417.97 165.51 L 418.41 163.49 L 418.86 160.84 L 419.3 160.77 L 419.75 160.26 L 420.64 158.09 L 421.53 163.31 L 421.97 164.03 L 422.86 164.52 L 423.75 167.2 L 424.19 168.76 L 424.64 169.51 L 425.08 167.17 L 425.53 165.51 L 425.97 164.65 L 426.41 162.94 L 426.86 162.18 L 427.3 162.2 L 427.75 162.39 L 428.19 161.67 L 428.64 162.06 L 429.97 163.74 L 430.41 162.83 L 430.86 161.11 L 431.75 159.52 L 432.19 158.9 L 432.64 157.44 L 433.08 155.09 L 433.53 156.61 L 433.97 159.21 L 434.86 162.69 L 435.75 164.99 L 436.19 164.49 L 436.64 164.85 L 437.08 168.83 L 437.53 170.44 L 437.97 170.36 L 438.86 166.68 L 439.75 166.06 L 440.19 166.72 L 440.64 164.91 L 441.08 161.87 L 441.53 161.82 L 441.97 165.03 L 442.41 164.14 L 442.86 162.49 L 443.3 161.94 L 443.75 162.17 L 444.19 161.92 L 444.64 162.39 L 445.08 163.31 L 445.97 158.14 L 446.86 160.01 L 447.75 157.66 L 448.19 155.71 L 449.08 167.2 L 449.53 169.45 L 449.97 168.05 L 450.41 167.69 L 450.86 167.51 L 451.3 167.62 L 451.75 166.95 L 453.08 162.29 L 453.53 160.67 L 453.97 160.01 L 454.41 159.14 L 454.86 158.84 L 455.3 160.15 L 455.75 160.59 L 456.19 159.63 L 457.53 158.2 L 457.97 158.76 L 458.41 159.52 L 458.86 158.98 L 459.3 159.42 L 459.75 162.4 L 460.19 164.56 L 460.64 165.58 L 461.53 165.81 L 461.97 165.73 L 462.41 162.97 L 462.86 161.25 L 463.3 160.16 L 463.75 160.21 L 464.64 162.28 L 465.53 165.41 L 465.97 159.32 L 466.41 154.95 L 466.86 168.31 L 467.3 162.84 L 467.75 160.82 L 468.19 159.51 L 468.64 159.89 L 469.08 161.37 L 469.53 162.3 L 470.41 163.56 L 470.86 162.23 L 471.3 162.56 L 471.75 163.6 L 472.64 157.21 L 473.08 155.48 L 473.53 154.8 L 474.41 152.68 L 475.3 145.51 L 475.75 146.32 L 476.19 155.48 L 476.64 169.18 L 477.08 171 L 477.53 165.61 L 477.97 162.12 L 478.41 160.77 L 478.86 159.92 L 479.3 160.74 L 479.75 160.55 L 480.19 159.23 L 480.64 158.4 L 481.08 159.41 L 481.53 159.96 L 482.41 163.49 L 483.3 157.58 L 483.75 160.37 L 484.19 160 L 484.64 156.81 L 485.08 158.17 L 485.53 156.86 L 485.97 157.85 L 486.41 162.05 L 486.86 162.48 L 487.3 160.43 L 487.75 160.74 L 488.19 163.69 L 488.64 161.76 L 489.08 158.75 L 489.53 157.93 L 489.97 160.66 L 490.41 160.46 L 490.86 160.41 L 491.3 162.86 L 491.75 161.92 L 492.19 159 L 492.64 157.22 L 493.08 156.97 L 493.53 157.82 L 493.97 161.31 L 494.41 161.18 L 494.86 160.21 L 495.3 160.01 L 495.75 160.25 L 496.19 161.42 L 496.64 160.28 L 497.08 158.76 L 497.53 157.98 L 497.97 158.16 L 498.41 159.83 L 498.86 158.8 L 499.3 155 L 499.75 157.42 L 500.19 161.67 L 501.08 152.1 L 501.53 150.29 L 501.97 151.77 L 502.86 156.91 L 503.3 160.87 L 503.75 166.99 L 504.19 164.46 L 505.08 162.62 L 505.53 160.84 L 505.97 160.26 L 506.41 160.3 L 506.86 162.1 L 507.3 162.31 L 507.75 161.39 L 508.19 165.77 L 508.64 167.06 L 509.08 163.22 L 509.53 157.66 L 509.97 160.07 L 510.41 160.38 L 510.86 158.86 L 511.3 157.86 L 512.64 168.12 L 513.08 168.45 L 513.97 163.55 L 514.86 161.75 L 515.3 161.93 L 515.75 165.93 L 516.64 162.87 L 517.08 163.11 L 517.53 161.78 L 518.41 159.64 L 518.86 159.75 L 519.3 160.6 L 519.75 159.97 L 520.19 159.73 L 520.64 160.41 L 521.53 162.45 L 521.97 162.93 L 522.41 165.59 L 522.86 166.02 L 523.3 163.34 L 523.75 162.33 L 524.64 163.79 L 525.08 163.28 L 525.53 162.51 L 525.97 162.34 L 526.41 161.09 L 526.86 159.04 L 527.3 158.2 L 527.75 157.59 L 528.19 158.83 L 528.64 158.8 L 529.08 160.69 L 529.53 164.17 L 529.97 165.35 L 530.41 165.76 L 530.86 165.91 L 531.3 166.61 L 531.75 167.57 L 532.19 167.6 L 532.64 167.42 L 533.08 164.05 L 533.53 162.41 L 533.97 162.24 L 534.41 162.2 L 534.86 161.43 L 535.3 162.08 L 535.75 163.59 L 536.64 164.38 L 537.53 160.91 L 537.97 160.58 L 538.41 160.76 L 538.86 160.49 L 539.75 158.4 L 540.64 156.99 L 541.08 157.68 L 541.53 158.85 L 542.41 163.35 L 542.86 166.47 L 543.75 169.62 L 544.19 168.84 L 544.64 165.44 L 545.08 160.29 L 545.53 157.96 L 546.41 167.65 L 546.86 167.46 L 547.3 160.84 L 547.75 156.83 L 548.64 159.89 L 549.53 164.44 L 550.41 168.05 L 550.86 168.03 L 552.19 152.58 L 552.64 150.66 L 553.08 150.86 L 553.53 152.15 L 553.97 154.91 L 554.41 158.5 L 554.86 163.33 L 555.3 166.46 L 555.75 166.81 L 556.19 164.02 L 556.64 162.49 L 557.08 164.27 L 557.53 161.58 L 557.97 157.89 L 558.41 159.75 L 558.86 160.66 L 559.3 160.74 L 559.75 161.5 L 560.19 159.72 L 560.64 152.44 L 561.08 154.95 L 561.53 159.08 L 561.97 161.43 L 562.41 159.23 L 562.86 159.8 L 563.3 160.74 L 563.75 162.82 L 564.19 163.01 L 565.08 161.37 L 565.53 160.39 L 565.97 160.47 L 566.86 161.24 L 567.3 162.21 L 568.64 159.87 L 569.08 161.83 L 569.53 161.86 L 569.97 160.38 L 570.86 158.5 L 572.19 159.44 L 572.64 158.3 L 573.08 158.2 L 573.53 159 L 573.97 160.21 L 574.41 160.42 L 575.3 158.68 L 577.08 161.9 L 577.53 162.67 L 578.41 164.62 L 578.86 163.92 L 579.3 163.57 L 579.75 163.5 L 580.64 162.63 L 581.08 162.56 L 581.53 161.67 L 581.97 161.3 L 582.41 161.19 L 582.86 161.29 L 583.3 161.19 L 584.19 159.97 L 584.19 159.97" clip-path="url(#pb225cf4f3d)" style="fill: none; stroke: #0000ff; stroke-width: 1.5; stroke-linecap: square"/>
</g>
<g id="line2d_157">
<path d="M 388.59 189.21 L 388.59 114.04" clip-path="url(#pb225cf4f3d)" style="fill: none; stroke-dasharray: 5.55,2.4; stroke-dashoffset: 0; stroke: #008000; stroke-width: 1.5"/>
</g>
<g id="line2d_158">
<path d="M 396.74 189.21 L 396.74 114.04" clip-path="url(#pb225cf4f3d)" style="fill: none; stroke-dasharray: 5.55,2.4; stroke-dashoffset: 0; stroke: #008000; stroke-width: 1.5"/>
</g>
<g id="line2d_159">
<path d="M 467.85 189.21 L 467.85 114.04" clip-path="url(#pb225cf4f3d)" style="fill: none; stroke-dasharray: 5.55,2.4; stroke-dashoffset: 0; stroke: #000000; stroke-width: 1.5"/>
</g>
<g id="line2d_160">
<path d="M 480.44 189.21 L 480.44 114.04" clip-path="url(#pb225cf4f3d)" style="fill: none; stroke-dasharray: 5.55,2.4; stroke-dashoffset: 0; stroke: #000000; stroke-width: 1.5"/>
</g>
<g id="line2d_161">
<path d="M 494.96 189.21 L 494.96 114.04" clip-path="url(#pb225cf4f3d)" style="fill: none; stroke-dasharray: 5.55,2.4; stroke-dashoffset: 0; stroke: #ff0000; stroke-width: 1.5"/>
</g>
<g id="line2d_162">
<path d="M 497.78 189.21 L 497.78 114.04" clip-path="url(#pb225cf4f3d)" style="fill: none; stroke-dasharray: 5.55,2.4; stroke-dashoffset: 0; stroke: #ff0000; stroke-width: 1.5"/>
</g>
<g id="patch_42">
<path d="M 372.74 189.21 L 372.74 114.04" style="fill: none; stroke: #000000; stroke-width: 0.8; stroke-linejoin: miter; stroke-linecap: square"/>
</g>
<g id="patch_43">
<path d="M 584.95 189.21 L 584.95 114.04" style="fill: none; stroke: #000000; stroke-width: 0.8; stroke-linejoin: miter; stroke-linecap: square"/>
</g>
<g id="patch_44">
<path d="M 372.74 189.21 L 584.95 189.21" style="fill: none; stroke: #000000; stroke-width: 0.8; stroke-linejoin: miter; stroke-linecap: square"/>
</g>
<g id="patch_45">
<path d="M 372.74 114.04 L 584.95 114.04" style="fill: none; stroke: #000000; stroke-width: 0.8; stroke-linejoin: miter; stroke-linecap: square"/>
</g>
<g id="legend_6">
<g id="patch_46">
<path d="M 591.52 171.04 L 637.12 171.04 Q 639.12 171.04 639.12 169.04 L 639.12 124.8 Q 639.12 122.8 637.12 122.8 L 591.52 122.8 Q 589.52 122.8 589.52 124.8 L 589.52 169.04 Q 589.52 171.04 591.52 171.04 z" style="fill: #ffffff; opacity: 0.8; stroke: #cccccc; stroke-linejoin: miter"/>
</g>
<g id="line2d_163">
<path d="M 593.92 131.3 L 603.92 131.3 L 613.92 131.3" style="fill: none; stroke: #ff0000; stroke-width: 1.5; stroke-linecap: square"/>
</g>
<g id="text_71">
<g transform="translate(621.523733 134.8014)">
<text>
<tspan x="0" y="-0.703125" style="font-style: oblique; font-size: 10px; font-family: 'DejaVu Sans'">B</tspan>
<tspan x="6.860352" y="0.9375" style="font-style: oblique; font-size: 7px; font-family: 'DejaVu Sans'">L</tspan>
</text>
</g>
</g>
<g id="line2d_164">
<path d="M 593.92 146.18 L 603.92 146.18 L 613.92 146.18" style="fill: none; stroke: #008000; stroke-width: 1.5; stroke-linecap: square"/>
</g>
<g id="text_72">
<g transform="translate(621.523733 149.679525)">
<text>
<tspan x="0" y="-0.703125" style="font-style: oblique; font-size: 10px; font-family: 'DejaVu Sans'">B</tspan>
<tspan x="6.860352" y="0.9375" style="font-style: oblique; font-size: 7px; font-family: 'DejaVu Sans'">M</tspan>
</text>
</g>
</g>
<g id="line2d_165">
<path d="M 593.92 161.06 L 603.92 161.06 L 613.92 161.06" style="fill: none; stroke: #0000ff; stroke-width: 1.5; stroke-linecap: square"/>
</g>
<g id="text_73">
<g transform="translate(621.523733 164.55765)">
<text>
<tspan x="0" y="-0.703125" style="font-style: oblique; font-size: 10px; font-family: 'DejaVu Sans'">B</tspan>
<tspan x="6.860352" y="0.9375" style="font-style: oblique; font-size: 7px; font-family: 'DejaVu Sans'">N</tspan>
</text>
</g>
</g>
</g>
</g>
<g id="axes_9">
<g id="patch_47">
<path d="M 372.74 276.33 L 584.95 276.33 L 584.95 201.13 L 372.74 201.13 L 372.74 276.33 z" style="fill: none; opacity: 0"/>
</g>
<g id="text_74">
<text style="font-size: 18.2px; font-family: 'DejaVu Sans'; text-anchor: middle" x="571.822222" y="219.873601" transform="rotate(-0 571.822222 219.873601)">(g)</text>
</g>
<g id="matplotlib.axis_17">
<g id="xtick_39">
<g id="line2d_166">
<g>
<use href="#m1504cfccaf" x="372.82963" y="276.325926" style="stroke: #000000; stroke-width: 0.8"/>
</g>
</g>
</g>
<g id="xtick_40">
<g id="line2d_167">
<g>
<use href="#m1504cfccaf" x="413.333333" y="276.325926" style="stroke: #000000; stroke-width: 0.8"/>
</g>
</g>
</g>
<g id="xtick_41">
<g id="line2d_168">
<g>
<use href="#m1504cfccaf" x="453.837037" y="276.325926" style="stroke: #000000; stroke-width: 0.8"/>
</g>
</g>
</g>
<g id="xtick_42">
<g id="line2d_169">
<g>
<use href="#m1504cfccaf" x="494.340741" y="276.325926" style="stroke: #000000; stroke-width: 0.8"/>
</g>
</g>
</g>
<g id="xtick_43">
<g id="line2d_170">
<g>
<use href="#m1504cfccaf" x="534.844444" y="276.325926" style="stroke: #000000; stroke-width: 0.8"/>
</g>
</g>
</g>
<g id="xtick_44">
<g id="line2d_171">
<g>
<use href="#m1504cfccaf" x="575.348148" y="276.325926" style="stroke: #000000; stroke-width: 0.8"/>
</g>
</g>
</g>
</g>
<g id="matplotlib.axis_18">
<g id="ytick_80">
<g id="line2d_172">
<g>
<use href="#m5d545ce8f8" x="372.740741" y="207.312593" style="stroke: #000000; stroke-width: 0.8"/>
</g>
</g>
<g id="text_75">
<text style="font-size: 10px; font-family: 'DejaVu Sans'; text-anchor: end" x="365.740741" y="211.111811" transform="rotate(-0 365.740741 211.111811)">400</text>
</g>
</g>
<g id="ytick_81">
<g id="line2d_173">
<g>
<use href="#m5d545ce8f8" x="372.740741" y="233.108148" style="stroke: #000000; stroke-width: 0.8"/>
</g>
</g>
<g id="text_76">
<text style="font-size: 10px; font-family: 'DejaVu Sans'; text-anchor: end" x="365.740741" y="236.907367" transform="rotate(-0 365.740741 236.907367)">200</text>
</g>
</g>
<g id="ytick_82">
<g id="line2d_174">
<g>
<use href="#m5d545ce8f8" x="372.740741" y="258.903704" style="stroke: #000000; stroke-width: 0.8"/>
</g>
</g>
<g id="text_77">
<text style="font-size: 10px; font-family: 'DejaVu Sans'; text-anchor: end" x="365.740741" y="262.702922" transform="rotate(-0 365.740741 262.702922)">0</text>
</g>
</g>
<g id="text_78">
<g transform="translate(340.573553 277.075926) rotate(-90)">
<text>
<tspan x="0" y="-0.40625" style="font-style: oblique; font-size: 10px; font-family: 'DejaVu Sans'">T</tspan>
<tspan x="6.108398" y="-0.40625" style="font-style: oblique; font-size: 10px; font-family: 'DejaVu Sans'">H</tspan>
<tspan x="13.62793" y="-0.40625" style="font-style: oblique; font-size: 10px; font-family: 'DejaVu Sans'">E</tspan>
<tspan x="23.193327" y="-0.40625" style="font-style: oblique; font-size: 10px; font-family: 'DejaVu Sans'">V</tspan>
<tspan x="52.555143" y="-0.40625" style="font-style: oblique; font-size: 10px; font-family: 'DejaVu Sans'">k</tspan>
<tspan x="58.346159" y="-0.40625" style="font-style: oblique; font-size: 10px; font-family: 'DejaVu Sans'">m</tspan>
<tspan x="71.45651" y="-0.40625" style="font-style: oblique; font-size: 10px; font-family: 'DejaVu Sans'">s</tspan>
<tspan x="30.034147" y="1.234375" style="font-style: oblique; font-size: 7px; font-family: 'DejaVu Sans'">i</tspan>
<tspan x="31.978971" y="1.234375" style="font-style: oblique; font-size: 7px; font-family: 'DejaVu Sans'">L</tspan>
<tspan x="35.878874" y="1.234375" style="font-style: oblique; font-size: 7px; font-family: 'DejaVu Sans'">M</tspan>
<tspan x="41.918425" y="1.234375" style="font-style: oblique; font-size: 7px; font-family: 'DejaVu Sans'">N</tspan>
<tspan x="47.42819" y="-0.40625" style="font-size: 10px; font-family: 'DejaVu Sans'">,</tspan>
<tspan x="68.08737" y="-0.40625" style="font-size: 10px; font-family: 'DejaVu Sans'">/</tspan>
</text>
</g>
</g>
</g>
<g id="line2d_175">
<path d="M 373.08 256.98 L 373.53 257.16 L 373.97 258.38 L 374.41 259.24 L 375.75 260.5 L 377.08 262.23 L 377.53 261.52 L 377.97 261.71 L 378.41 262.45 L 378.86 262.02 L 379.3 261.85 L 379.75 262.25 L 380.19 261.77 L 380.64 261.85 L 381.08 261 L 381.53 260.78 L 381.97 260.97 L 382.86 260.89 L 383.3 260.83 L 384.19 261.17 L 384.64 261.24 L 385.08 261.83 L 385.53 261.95 L 385.97 261.36 L 387.3 260.52 L 388.19 258.87 L 389.53 258.86 L 389.97 258.99 L 390.41 258.19 L 390.86 258.24 L 391.3 258.57 L 391.75 258.32 L 392.64 259.18 L 393.08 258.76 L 393.53 259.02 L 394.86 259.01 L 395.75 260.35 L 396.19 260.41 L 396.64 260.32 L 397.08 260.6 L 397.53 260.27 L 397.97 260.13 L 398.41 259.79 L 398.86 260.72 L 399.3 260.22 L 400.19 258.54 L 400.64 258.23 L 401.08 258.82 L 401.53 259.17 L 401.97 258.3 L 402.86 257.33 L 403.3 256.82 L 403.75 256.55 L 404.19 256.45 L 404.64 256.82 L 405.53 255.86 L 405.97 255.18 L 406.41 254.82 L 406.86 254.76 L 407.3 255.59 L 408.19 254.83 L 408.64 255.21 L 409.08 255.14 L 409.53 254 L 409.97 253.89 L 410.41 253.47 L 411.3 252.39 L 412.19 236.84 L 412.64 233.25 L 413.08 232.89 L 413.53 233.58 L 413.97 233 L 414.41 232.91 L 414.86 236.86 L 415.3 236.85 L 415.75 233.71 L 416.19 234.82 L 416.64 237.68 L 417.08 232.07 L 417.53 229.15 L 417.97 228.02 L 418.41 229.15 L 419.3 235.02 L 419.75 253.94 L 420.19 263 L 420.64 259.11 L 421.53 264.41 L 421.97 240.85 L 422.41 241.09 L 423.3 258.14 L 423.75 260.23 L 424.19 260.71 L 424.64 261.02 L 425.53 259.7 L 425.97 260.16 L 426.41 260.44 L 426.86 260.08 L 427.3 260.48 L 428.19 258.59 L 428.64 258.15 L 429.53 257.72 L 429.97 257.97 L 430.41 258.78 L 430.86 258.29 L 431.3 259.15 L 431.75 260.26 L 432.64 253.23 L 433.53 237.54 L 433.97 240.48 L 434.41 242.2 L 434.86 238.55 L 435.3 237.79 L 435.75 241.16 L 436.19 237.5 L 436.64 222.02 L 437.08 220.07 L 437.53 222.56 L 438.86 249.34 L 439.75 259.46 L 440.19 260.42 L 440.64 260.75 L 441.08 259.35 L 441.53 256.47 L 441.97 252.72 L 442.86 241.88 L 443.3 238.39 L 443.75 242.04 L 444.19 246.9 L 445.08 260.53 L 445.53 261.71 L 445.97 263.29 L 446.86 255.77 L 447.3 249.01 L 448.19 227.39 L 448.64 221.94 L 449.08 219.37 L 449.53 215.96 L 450.86 227.21 L 452.19 233.39 L 452.64 242.73 L 453.53 252.91 L 453.97 255.43 L 454.41 254.77 L 455.75 251.49 L 456.64 237.01 L 457.97 210.08 L 458.41 208.6 L 458.86 208.21 L 459.75 213.78 L 460.64 209.38 L 461.08 212.73 L 461.53 218.51 L 462.41 240.14 L 462.86 252.58 L 463.3 254.93 L 463.75 255.66 L 464.19 252.36 L 465.53 237.33 L 466.41 227.58 L 466.86 223.83 L 467.3 217.88 L 467.75 220.4 L 468.19 229.8 L 468.64 228.99 L 469.53 223.18 L 469.97 227.46 L 470.41 238.89 L 471.3 247.14 L 471.75 256.09 L 473.08 273.25 L 473.53 271.15 L 473.97 266.75 L 474.86 247.44 L 475.3 239.22 L 475.75 234.75 L 476.19 234.95 L 476.64 236.63 L 477.08 231.01 L 477.53 227.29 L 477.97 225.42 L 478.41 222.03 L 479.75 206.85 L 480.19 207.17 L 480.64 214.42 L 481.08 214.48 L 481.53 211.88 L 481.97 214.78 L 482.41 221.85 L 482.86 226.89 L 483.3 229.55 L 484.64 215.04 L 485.08 211.93 L 485.53 211.1 L 485.97 214.35 L 486.41 214.1 L 486.86 211 L 487.3 211.25 L 487.75 212.33 L 489.08 231.69 L 489.97 237.92 L 490.41 239.46 L 490.86 238.85 L 491.75 233.43 L 492.19 232.22 L 493.08 236.89 L 493.53 239.66 L 494.41 242.55 L 494.86 242.09 L 495.3 240.76 L 495.75 242.05 L 496.19 244.17 L 497.08 244.3 L 497.53 244.88 L 497.97 245.09 L 498.41 244.8 L 499.3 249.66 L 500.19 256.49 L 501.08 250.74 L 501.97 248.36 L 502.41 247.6 L 502.86 247.16 L 503.3 246.15 L 503.75 246.22 L 504.19 245.84 L 504.64 242.19 L 505.08 234.79 L 506.41 220.38 L 506.86 218.92 L 507.3 218.92 L 507.75 221.99 L 508.64 213.14 L 509.08 213.35 L 509.97 218.4 L 510.41 220.53 L 511.3 226.65 L 512.19 226.13 L 512.64 227.17 L 513.08 230.58 L 513.53 236.48 L 513.97 239.05 L 514.41 239.81 L 514.86 237.69 L 515.3 239.3 L 516.19 245.18 L 516.64 245.2 L 517.53 244.2 L 518.41 244.34 L 519.3 242.83 L 519.75 241.46 L 520.19 242.3 L 520.64 242.85 L 521.08 243 L 521.97 245.08 L 522.41 245.2 L 522.86 244.65 L 523.75 242.87 L 524.19 242.5 L 524.64 242.32 L 525.53 241.47 L 525.97 241.21 L 526.41 240.72 L 526.86 240.06 L 527.75 236.25 L 528.19 235.87 L 528.64 235.67 L 529.08 234.99 L 529.97 233.25 L 530.41 232.92 L 530.86 233.22 L 532.19 240.59 L 532.64 242.04 L 533.08 242.96 L 533.53 244.21 L 533.97 244.73 L 534.41 244.81 L 535.3 244.17 L 535.75 244.35 L 536.19 244.15 L 536.64 244.63 L 537.08 245.3 L 538.41 243.29 L 538.86 243.14 L 540.64 238.5 L 541.08 237.52 L 541.53 235.72 L 541.97 235.64 L 542.41 236.53 L 542.86 236.3 L 543.3 235.12 L 544.19 230.38 L 544.64 227.47 L 545.08 228.8 L 545.53 237.35 L 545.97 227.92 L 546.41 235.59 L 546.86 236.97 L 547.3 233.74 L 547.75 237.96 L 548.19 234.31 L 548.64 222.88 L 549.08 225.12 L 549.53 228.02 L 549.97 232.02 L 550.41 234.79 L 550.86 234.96 L 551.3 235.86 L 551.75 236.12 L 552.64 236 L 553.08 236.49 L 553.53 237.64 L 553.97 238.06 L 554.86 236.96 L 555.3 234.9 L 555.75 236.24 L 556.64 240.07 L 557.08 241.31 L 557.53 241.34 L 558.41 235.68 L 558.86 235.47 L 559.3 233.92 L 559.75 230.63 L 560.19 228.87 L 560.64 228.2 L 561.08 231.03 L 561.53 236.84 L 561.97 244.29 L 562.41 244.52 L 562.86 244.41 L 563.3 244.8 L 563.75 244.98 L 564.64 244.5 L 565.08 244.52 L 565.53 244.72 L 566.41 244.46 L 567.3 244.06 L 567.75 244.34 L 568.19 245.22 L 568.64 245.5 L 569.08 245.17 L 569.53 244.25 L 569.97 243.85 L 570.41 244.69 L 570.86 244.4 L 571.75 245.09 L 572.19 245.53 L 572.64 244.77 L 573.08 244.52 L 573.97 245.32 L 574.86 245.23 L 575.3 245.31 L 575.75 244.62 L 576.19 245.25 L 576.64 247.06 L 577.08 246.96 L 577.97 245.72 L 579.3 245.33 L 579.75 245.47 L 580.19 246.25 L 580.64 246.16 L 581.08 245.33 L 581.53 244.93 L 581.97 243.75 L 582.41 243.61 L 582.86 243.93 L 583.75 244.26 L 584.19 245.11 L 584.64 245.07 L 584.64 245.07" clip-path="url(#pcc3ebbbc7f)" style="fill: none; stroke: #ff0000; stroke-width: 1.5; stroke-linecap: square"/>
</g>
<g id="line2d_176">
<path d="M 373.08 263.54 L 373.53 262.3 L 373.97 262.19 L 374.86 258.99 L 375.75 259.95 L 376.19 259.75 L 376.64 259.78 L 377.08 260.97 L 377.53 261.11 L 378.41 265.29 L 378.86 266.34 L 379.3 267.01 L 379.75 267.35 L 380.19 266.95 L 380.64 265.33 L 381.08 264.77 L 381.97 269.07 L 382.41 269.86 L 382.86 270.9 L 383.3 270.11 L 383.75 269.63 L 384.64 269.55 L 385.08 268.73 L 385.97 266.68 L 386.41 266.47 L 386.86 265.18 L 387.75 263.46 L 388.19 262.2 L 388.64 260.57 L 389.08 260.63 L 389.97 261.7 L 390.41 261.82 L 390.86 262.33 L 391.3 261.49 L 391.75 261.25 L 392.64 261.49 L 393.08 262.65 L 393.53 263.44 L 393.97 263.57 L 394.41 264.09 L 394.86 263.33 L 395.3 261.89 L 395.75 261.1 L 396.19 261.77 L 396.64 261.66 L 397.08 261.66 L 397.53 262.12 L 398.86 265.15 L 399.3 266.16 L 399.75 265.38 L 400.64 261.68 L 401.08 260.84 L 401.53 260.69 L 402.41 257.3 L 402.86 254.81 L 403.75 256.96 L 404.19 256.42 L 404.64 256.58 L 405.08 256.6 L 405.53 256.49 L 405.97 257.37 L 406.86 255.83 L 407.3 255.38 L 407.75 255.3 L 408.19 255.49 L 408.64 256.63 L 409.08 256.62 L 409.97 254.51 L 412.19 243.22 L 412.64 243.94 L 413.08 246.08 L 413.53 246.08 L 413.97 244.89 L 414.41 243.25 L 414.86 243.29 L 415.3 243.79 L 415.75 243.66 L 416.19 244 L 416.64 244.55 L 417.08 247.19 L 417.53 247.99 L 418.41 246.97 L 418.86 245.39 L 419.3 244.34 L 419.75 241.3 L 420.19 242.47 L 420.64 245.48 L 421.08 251.09 L 421.53 258.19 L 421.97 255.42 L 422.41 251.04 L 422.86 251.97 L 423.3 254.07 L 424.19 263.04 L 424.64 263.05 L 425.08 261.29 L 425.53 260.72 L 425.97 262.64 L 426.41 263.18 L 426.86 264.12 L 427.3 264.51 L 427.75 264.43 L 428.19 262.94 L 428.64 262.21 L 429.97 264.26 L 430.41 262.84 L 430.86 260.2 L 431.3 258.35 L 432.19 252.2 L 432.64 251.01 L 433.08 251.83 L 433.53 254 L 433.97 254.04 L 434.41 253.03 L 434.86 254.16 L 435.3 256.02 L 436.19 246.81 L 436.64 250.07 L 437.08 251.61 L 437.97 247.17 L 438.86 262.51 L 439.3 267.06 L 439.75 267.44 L 440.19 264.19 L 440.64 259.44 L 441.08 250.56 L 441.53 247.73 L 441.97 248.18 L 442.41 250.77 L 442.86 250.72 L 443.3 247.66 L 444.64 243.25 L 445.53 251.2 L 445.97 253.86 L 446.41 253.5 L 446.86 247.43 L 447.3 246.69 L 447.75 258.8 L 448.19 261.94 L 449.53 250.87 L 449.97 248.68 L 450.41 245.44 L 450.86 243.13 L 451.3 251.13 L 451.75 252.69 L 452.19 251.87 L 452.64 251.44 L 453.53 254.57 L 454.41 259.19 L 454.86 259.26 L 455.75 252.33 L 456.64 241.8 L 457.08 243.49 L 458.41 260.96 L 458.86 261.37 L 459.3 262.13 L 459.75 261.96 L 460.19 260.92 L 460.64 257.87 L 461.53 253.95 L 462.41 255.8 L 462.86 258.02 L 463.3 257.07 L 463.75 255.23 L 464.19 252.27 L 464.64 247.05 L 465.53 261.49 L 466.41 264.37 L 466.86 250.56 L 467.75 253.56 L 468.19 253.07 L 468.64 253.19 L 469.08 254.08 L 470.41 249.04 L 471.3 252.16 L 472.19 242.22 L 472.64 245.45 L 473.08 251.18 L 473.53 247.69 L 473.97 242.96 L 474.41 241.96 L 474.86 241.86 L 475.3 237.66 L 475.75 240.88 L 476.19 247.94 L 476.64 249.2 L 477.08 246.44 L 477.97 244.61 L 478.41 247.11 L 478.86 253.12 L 479.3 256.75 L 479.75 255.56 L 480.64 252.61 L 481.08 252.34 L 481.53 251.5 L 481.97 250.9 L 483.75 246.62 L 484.19 245.96 L 485.08 247.89 L 485.53 249.28 L 485.97 250.13 L 486.86 253.42 L 487.3 254.76 L 487.75 256.54 L 488.19 255.04 L 489.08 250.33 L 489.97 247.47 L 490.41 246.89 L 490.86 247.18 L 491.3 248.04 L 491.75 248.24 L 492.19 247.98 L 492.64 248.1 L 493.08 248.45 L 493.53 248.05 L 494.41 249.24 L 494.86 250.53 L 495.3 250.8 L 495.75 250.02 L 496.64 251.15 L 497.08 251.11 L 497.53 250.44 L 498.41 249.8 L 498.86 250.03 L 499.75 244.51 L 500.19 246 L 500.64 246.94 L 501.08 246.13 L 501.53 244.54 L 501.97 243.38 L 502.86 245.74 L 503.3 245.63 L 504.19 242.55 L 504.64 241.7 L 505.08 243.18 L 505.97 249.09 L 506.41 250.17 L 506.86 249.44 L 508.19 246.42 L 509.08 246.5 L 509.53 246.89 L 510.41 249.82 L 510.86 249.66 L 511.3 250.5 L 511.75 250.93 L 512.19 251.02 L 512.64 251.68 L 513.53 248.6 L 514.41 252.94 L 514.86 255.88 L 515.3 255.72 L 515.75 254.01 L 516.64 249.08 L 517.08 248.59 L 517.53 248.53 L 518.41 249.42 L 518.86 250.55 L 519.3 250.56 L 519.75 249.21 L 520.19 248.88 L 520.64 249.38 L 521.08 250.23 L 521.53 250.64 L 521.97 250.34 L 522.41 251.81 L 522.86 250.72 L 523.75 248.01 L 524.19 247.11 L 524.64 247.19 L 525.53 248.27 L 526.41 248.35 L 526.86 248.17 L 527.75 247.48 L 528.19 247.57 L 529.08 252.34 L 529.53 251.69 L 529.97 250.61 L 530.41 251.34 L 530.86 253 L 531.3 251.9 L 531.75 251.64 L 532.64 253.83 L 533.08 254.17 L 533.53 253.63 L 533.97 250.25 L 534.41 248.84 L 535.3 248.02 L 535.75 249.61 L 536.19 250.52 L 536.64 250.09 L 537.08 248.08 L 537.53 247.32 L 537.97 246.81 L 538.86 247.66 L 539.3 247.2 L 539.75 247.31 L 540.19 247.72 L 540.64 247.75 L 541.08 248.42 L 541.53 249.61 L 541.97 250.34 L 542.41 250.42 L 542.86 249.76 L 543.3 248.71 L 544.19 248.27 L 544.64 248.98 L 545.08 248.35 L 545.97 242.65 L 546.41 240.48 L 546.86 242.86 L 547.75 248.92 L 548.19 251.26 L 548.64 249.7 L 549.53 248.47 L 549.97 248.1 L 550.41 248.02 L 550.86 249.11 L 551.75 249.79 L 552.19 249.97 L 552.64 249.15 L 553.08 248.61 L 553.53 247.79 L 553.97 246.7 L 554.41 246.04 L 554.86 245.95 L 555.3 246.37 L 556.64 243.8 L 557.08 244.69 L 557.53 245.25 L 558.41 248.6 L 558.86 247.35 L 559.3 245.57 L 559.75 244.83 L 560.19 244.67 L 560.64 243.87 L 561.08 242.41 L 561.97 245.4 L 562.86 249.15 L 563.3 249.2 L 563.75 248.56 L 564.19 247.03 L 564.64 246.98 L 565.08 247.25 L 565.97 246.08 L 566.41 246.53 L 566.86 246.58 L 567.3 247.61 L 567.75 247.4 L 568.64 246.77 L 569.08 247.59 L 569.53 247.02 L 569.97 246.16 L 570.41 246.03 L 570.86 245.66 L 571.3 247.32 L 571.75 247.41 L 572.19 247.93 L 573.53 245.82 L 574.41 246.39 L 575.3 244.56 L 576.19 245.24 L 577.08 246.82 L 577.53 246.8 L 577.97 246.97 L 578.41 247.74 L 579.3 247.06 L 579.75 247.14 L 580.19 246.55 L 580.64 246.46 L 581.08 247.08 L 581.53 246.06 L 581.97 245.7 L 582.41 245.15 L 582.86 245.17 L 583.3 245.44 L 583.75 246.11 L 584.19 246.41 L 584.64 247.19 L 584.64 247.19" clip-path="url(#pcc3ebbbc7f)" style="fill: none; stroke: #008000; stroke-width: 1.5; stroke-linecap: square"/>
</g>
<g id="line2d_177">
<path d="M 373.08 253.56 L 373.53 255.32 L 373.97 256.44 L 374.86 257.29 L 375.75 260.02 L 376.19 261.4 L 376.64 260.42 L 377.08 259.02 L 377.53 259.05 L 377.97 259.24 L 378.86 262.22 L 379.3 258.87 L 379.75 256.64 L 380.19 258.45 L 380.64 258.96 L 381.53 255.58 L 381.97 255.9 L 382.86 259.55 L 383.3 259.7 L 383.75 259.51 L 384.19 259.13 L 384.64 258.03 L 385.08 257.33 L 385.53 257.5 L 385.97 257.51 L 386.41 257.3 L 386.86 256.71 L 387.3 256.89 L 388.19 258.94 L 388.64 259.63 L 389.08 260.96 L 389.53 260.1 L 389.97 260.46 L 390.41 260.38 L 390.86 259.25 L 391.75 260.94 L 392.19 261.1 L 393.08 259.75 L 393.53 259.16 L 393.97 259.17 L 394.41 260.17 L 394.86 261.82 L 395.75 260.22 L 396.19 260.28 L 396.64 260.16 L 397.08 259.88 L 397.53 260.01 L 397.97 259.53 L 398.41 257.53 L 399.3 255.18 L 399.75 254.6 L 400.64 257.87 L 401.08 257.74 L 401.53 257.38 L 402.41 256 L 402.86 256.98 L 403.3 256.63 L 403.75 257.1 L 404.64 260.1 L 405.53 259.42 L 405.97 258.8 L 406.41 259.06 L 406.86 258.53 L 407.3 260.03 L 407.75 262.14 L 408.19 262.54 L 409.08 259.59 L 409.53 260.59 L 410.86 267.51 L 411.3 262.41 L 411.75 254.63 L 412.19 253.67 L 412.64 256.85 L 413.08 255.83 L 413.53 252.14 L 413.97 253.45 L 414.41 256.04 L 414.86 255.3 L 415.3 253.52 L 415.75 254.36 L 416.64 260.27 L 417.08 258.25 L 417.53 255.39 L 417.97 253.33 L 418.86 255.31 L 419.3 254.48 L 419.75 249.07 L 420.19 248.5 L 420.64 249.95 L 421.53 257.95 L 421.97 255.94 L 422.86 249.98 L 423.75 245.17 L 424.19 240.37 L 424.64 241.94 L 425.08 244.61 L 425.97 252.8 L 426.86 255.98 L 427.3 256.83 L 427.75 258.03 L 428.19 259.77 L 428.64 259.5 L 429.08 258.59 L 429.97 254.92 L 430.86 261.75 L 431.3 262.31 L 431.75 263.72 L 432.64 255.82 L 433.08 257.31 L 433.53 260.1 L 433.97 259.12 L 434.41 257.45 L 434.86 260.85 L 435.3 265.14 L 436.19 252.32 L 436.64 260.18 L 437.08 262.92 L 437.53 256.37 L 437.97 253.94 L 438.41 258.5 L 438.86 260.27 L 439.75 252.8 L 440.19 251.93 L 440.64 252.56 L 441.08 261.97 L 441.53 264.15 L 441.97 257.08 L 442.41 259.96 L 442.86 265.75 L 443.3 251.26 L 443.75 248.61 L 444.19 253.59 L 444.64 253.56 L 445.08 249.57 L 445.53 248.45 L 446.41 256.5 L 446.86 259.66 L 447.3 256.28 L 447.75 249.35 L 448.19 250.96 L 448.64 259.39 L 449.53 265.15 L 449.97 260.69 L 450.41 254.8 L 450.86 256.01 L 451.75 261.78 L 452.64 251.43 L 453.08 250.3 L 453.53 250.48 L 453.97 251.54 L 454.41 253.37 L 455.75 261.69 L 456.19 260.24 L 457.08 255.83 L 457.53 254.35 L 457.97 251.58 L 458.41 253.55 L 458.86 256.42 L 459.3 255.59 L 460.19 261.28 L 460.64 264.24 L 461.08 261.1 L 461.53 255.87 L 461.97 254.03 L 462.41 253.54 L 463.3 255.86 L 463.75 255.57 L 464.19 255.98 L 464.64 259.92 L 465.08 258.4 L 465.53 256.01 L 465.97 256.52 L 466.86 260.47 L 467.3 261.88 L 467.75 262.59 L 468.19 262.27 L 468.64 258.8 L 469.08 257.3 L 469.53 259.49 L 469.97 258.94 L 470.41 257.92 L 470.86 258.37 L 471.3 260.25 L 471.75 259.52 L 472.19 255.99 L 472.64 255.78 L 473.08 258.44 L 473.53 258.63 L 473.97 255.48 L 474.41 255.7 L 474.86 259.96 L 475.3 263.09 L 475.75 267.89 L 476.64 260.89 L 477.53 262.5 L 478.41 259.06 L 479.3 259.41 L 479.75 258.28 L 480.19 257.94 L 480.64 258.54 L 481.08 257.67 L 481.53 257.29 L 481.97 256.04 L 482.41 255.42 L 482.86 254.59 L 483.3 254.2 L 483.75 252.99 L 484.19 253.96 L 484.64 255.76 L 485.08 255.26 L 485.53 255.37 L 485.97 256.51 L 486.41 258.39 L 486.86 257.92 L 487.3 257.12 L 487.75 258.41 L 488.19 258.65 L 488.64 256.65 L 489.08 255.19 L 489.53 254.73 L 489.97 253.83 L 491.3 256.22 L 491.75 256.21 L 492.19 256.05 L 492.64 256.82 L 493.08 258 L 494.41 255.03 L 494.86 254.66 L 495.3 254.86 L 495.75 255.55 L 496.19 257.49 L 496.64 257.66 L 497.08 258.08 L 497.53 257.53 L 497.97 257.43 L 498.41 255.77 L 498.86 255.43 L 499.75 259.45 L 500.19 260.27 L 500.64 260.29 L 501.08 259.55 L 501.53 261.1 L 501.97 259.06 L 502.41 254.18 L 502.86 252.05 L 503.3 251.9 L 503.75 252.91 L 504.19 252.56 L 504.64 252.73 L 505.08 252.37 L 505.53 250.77 L 505.97 258.9 L 506.41 259.75 L 506.86 256.79 L 507.3 256.75 L 508.19 260.07 L 508.64 258.44 L 509.08 257.66 L 509.53 257.55 L 509.97 258.07 L 510.86 256.92 L 511.3 257.49 L 511.75 258.32 L 512.19 258.79 L 512.64 260.04 L 513.08 260.29 L 513.53 258.83 L 513.97 258.94 L 514.41 261.82 L 514.86 261.44 L 515.3 258.53 L 516.19 260.08 L 516.64 257.91 L 517.08 258.28 L 517.53 259.44 L 517.97 259.87 L 518.41 259.58 L 518.86 258.88 L 519.3 259.24 L 519.75 260.48 L 520.19 259.49 L 521.08 256.67 L 521.53 257.18 L 521.97 257.95 L 522.41 257.75 L 522.86 257.68 L 523.75 255.46 L 524.19 254.64 L 525.08 256.87 L 525.53 256.84 L 525.97 258.09 L 526.41 258.07 L 526.86 258.55 L 527.3 257.64 L 527.75 256.12 L 528.19 255.16 L 528.64 254.98 L 529.08 254.58 L 529.53 254.69 L 529.97 255.99 L 530.41 256.07 L 530.86 255.69 L 531.3 256.37 L 531.75 259.47 L 532.19 261.11 L 532.64 260.88 L 533.08 260.98 L 533.53 260.89 L 533.97 260.39 L 534.41 260.49 L 535.3 258.74 L 535.75 258.93 L 537.08 260.22 L 537.53 260.05 L 537.97 259.67 L 538.41 258.76 L 538.86 259.14 L 539.3 259.68 L 540.19 255.57 L 540.64 254.96 L 541.08 254.11 L 541.53 253.73 L 541.97 251.91 L 542.41 253.31 L 542.86 255.48 L 543.3 255.05 L 543.75 254 L 544.19 253.31 L 544.64 255.12 L 545.08 256.24 L 545.53 254.95 L 545.97 254.32 L 546.86 260.53 L 547.3 259.68 L 547.75 256.94 L 548.64 254.21 L 549.08 255.4 L 549.53 255.77 L 549.97 255.15 L 550.41 255.44 L 550.86 255.47 L 551.3 255.21 L 551.75 255.14 L 552.19 253.82 L 552.64 251.63 L 553.08 250.08 L 553.53 249.83 L 553.97 250.66 L 554.86 252.65 L 555.75 254.32 L 556.19 254.06 L 556.64 253.1 L 557.08 255.12 L 557.53 256.53 L 557.97 256.93 L 558.41 255.49 L 558.86 254.62 L 559.3 254.24 L 559.75 254.69 L 560.19 254.05 L 560.64 252.3 L 561.08 248.52 L 561.97 254.21 L 562.41 255.41 L 562.86 255.57 L 563.75 256.49 L 564.19 255.81 L 564.64 255.54 L 565.08 256.56 L 565.97 259.73 L 566.86 258.39 L 567.3 258.5 L 567.75 259.97 L 568.19 258.92 L 568.64 257.31 L 569.53 257.28 L 569.97 256.72 L 570.41 255.81 L 570.86 255.97 L 571.3 256.97 L 572.19 258.1 L 572.64 255.61 L 573.08 255.61 L 573.53 257.5 L 573.97 257.44 L 574.41 256.19 L 574.86 255.33 L 575.3 255.66 L 575.75 257.37 L 576.19 257.56 L 576.64 257.52 L 577.08 256.29 L 578.86 258.23 L 579.3 257.41 L 579.75 257.06 L 580.19 258.16 L 580.64 258.59 L 581.53 256.88 L 581.97 256.94 L 582.41 259 L 582.86 258.63 L 583.3 257.98 L 583.75 257.88 L 584.19 256.59 L 584.64 255.91 L 584.64 255.91" clip-path="url(#pcc3ebbbc7f)" style="fill: none; stroke: #0000ff; stroke-width: 1.5; stroke-linecap: square"/>
</g>
<g id="line2d_178">
<path d="M 388.59 276.33 L 388.59 201.13" clip-path="url(#pcc3ebbbc7f)" style="fill: none; stroke-dasharray: 5.55,2.4; stroke-dashoffset: 0; stroke: #008000; stroke-width: 1.5"/>
</g>
<g id="line2d_179">
<path d="M 396.74 276.33 L 396.74 201.13" clip-path="url(#pcc3ebbbc7f)" style="fill: none; stroke-dasharray: 5.55,2.4; stroke-dashoffset: 0; stroke: #008000; stroke-width: 1.5"/>
</g>
<g id="line2d_180">
<path d="M 467.85 276.33 L 467.85 201.13" clip-path="url(#pcc3ebbbc7f)" style="fill: none; stroke-dasharray: 5.55,2.4; stroke-dashoffset: 0; stroke: #000000; stroke-width: 1.5"/>
</g>
<g id="line2d_181">
<path d="M 480.44 276.33 L 480.44 201.13" clip-path="url(#pcc3ebbbc7f)" style="fill: none; stroke-dasharray: 5.55,2.4; stroke-dashoffset: 0; stroke: #000000; stroke-width: 1.5"/>
</g>
<g id="line2d_182">
<path d="M 494.96 276.33 L 494.96 201.13" clip-path="url(#pcc3ebbbc7f)" style="fill: none; stroke-dasharray: 5.55,2.4; stroke-dashoffset: 0; stroke: #ff0000; stroke-width: 1.5"/>
</g>
<g id="line2d_183">
<path d="M 497.78 276.33 L 497.78 201.13" clip-path="url(#pcc3ebbbc7f)" style="fill: none; stroke-dasharray: 5.55,2.4; stroke-dashoffset: 0; stroke: #ff0000; stroke-width: 1.5"/>
</g>
<g id="patch_48">
<path d="M 372.74 276.33 L 372.74 201.13" style="fill: none; stroke: #000000; stroke-width: 0.8; stroke-linejoin: miter; stroke-linecap: square"/>
</g>
<g id="patch_49">
<path d="M 584.95 276.33 L 584.95 201.13" style="fill: none; stroke: #000000; stroke-width: 0.8; stroke-linejoin: miter; stroke-linecap: square"/>
</g>
<g id="patch_50">
<path d="M 372.74 276.33 L 584.95 276.33" style="fill: none; stroke: #000000; stroke-width: 0.8; stroke-linejoin: miter; stroke-linecap: square"/>
</g>
<g id="patch_51">
<path d="M 372.74 201.13 L 584.95 201.13" style="fill: none; stroke: #000000; stroke-width: 0.8; stroke-linejoin: miter; stroke-linecap: square"/>
</g>
<g id="legend_7">
<g id="patch_52">
<path d="M 591.52 258.12 L 637.12 258.12 Q 639.12 258.12 639.12 256.12 L 639.12 211.89 Q 639.12 209.89 637.12 209.89 L 591.52 209.89 Q 589.52 209.89 589.52 211.89 L 589.52 256.12 Q 589.52 258.12 591.52 258.12 z" style="fill: #ffffff; opacity: 0.8; stroke: #cccccc; stroke-linejoin: miter"/>
</g>
<g id="line2d_184">
<path d="M 593.92 218.38 L 603.92 218.38 L 613.92 218.38" style="fill: none; stroke: #ff0000; stroke-width: 1.5; stroke-linecap: square"/>
</g>
<g id="text_79">
<g transform="translate(621.523733 221.884363)">
<text>
<tspan x="0" y="-0.703125" style="font-style: oblique; font-size: 10px; font-family: 'DejaVu Sans'">V</tspan>
<tspan x="6.84082" y="0.9375" style="font-style: oblique; font-size: 7px; font-family: 'DejaVu Sans'">L</tspan>
</text>
</g>
</g>
<g id="line2d_185">
<path d="M 593.92 233.26 L 603.92 233.26 L 613.92 233.26" style="fill: none; stroke: #008000; stroke-width: 1.5; stroke-linecap: square"/>
</g>
<g id="text_80">
<g transform="translate(621.523733 236.762488)">
<text>
<tspan x="0" y="-0.703125" style="font-style: oblique; font-size: 10px; font-family: 'DejaVu Sans'">V</tspan>
<tspan x="6.84082" y="0.9375" style="font-style: oblique; font-size: 7px; font-family: 'DejaVu Sans'">M</tspan>
</text>
</g>
</g>
<g id="line2d_186">
<path d="M 593.92 248.14 L 603.92 248.14 L 613.92 248.14" style="fill: none; stroke: #0000ff; stroke-width: 1.5; stroke-linecap: square"/>
</g>
<g id="text_81">
<g transform="translate(621.523733 251.640613)">
<text>
<tspan x="0" y="-0.703125" style="font-style: oblique; font-size: 10px; font-family: 'DejaVu Sans'">V</tspan>
<tspan x="6.84082" y="0.9375" style="font-style: oblique; font-size: 7px; font-family: 'DejaVu Sans'">N</tspan>
</text>
</g>
</g>
</g>
</g>
<g id="axes_10">
<g id="patch_53">
<path d="M 372.74 365.54 L 584.95 365.54 L 584.95 290.52 L 372.74 290.52 L 372.74 365.54 z" style="fill: none; opacity: 0"/>
</g>
<g id="text_82">
<text style="font-size: 18.2px; font-family: 'DejaVu Sans'; text-anchor: middle" x="571.911111" y="309.225006" transform="rotate(-0 571.911111 309.225006)">(h)</text>
</g>
<g id="matplotlib.axis_19">
<g id="xtick_45">
<g id="line2d_187">
<g>
<use href="#m1504cfccaf" x="372.82963" y="365.540741" style="stroke: #000000; stroke-width: 0.8"/>
</g>
</g>
</g>
<g id="xtick_46">
<g id="line2d_188">
<g>
<use href="#m1504cfccaf" x="413.333333" y="365.540741" style="stroke: #000000; stroke-width: 0.8"/>
</g>
</g>
</g>
<g id="xtick_47">
<g id="line2d_189">
<g>
<use href="#m1504cfccaf" x="453.837037" y="365.540741" style="stroke: #000000; stroke-width: 0.8"/>
</g>
</g>
</g>
<g id="xtick_48">
<g id="line2d_190">
<g>
<use href="#m1504cfccaf" x="494.340741" y="365.540741" style="stroke: #000000; stroke-width: 0.8"/>
</g>
</g>
</g>
<g id="xtick_49">
<g id="line2d_191">
<g>
<use href="#m1504cfccaf" x="534.844444" y="365.540741" style="stroke: #000000; stroke-width: 0.8"/>
</g>
</g>
</g>
<g id="xtick_50">
<g id="line2d_192">
<g>
<use href="#m1504cfccaf" x="575.348148" y="365.540741" style="stroke: #000000; stroke-width: 0.8"/>
</g>
</g>
</g>
</g>
<g id="matplotlib.axis_20">
<g id="ytick_83">
<g id="line2d_193">
<g>
<use href="#m5d545ce8f8" x="372.740741" y="290.518519" style="stroke: #000000; stroke-width: 0.8"/>
</g>
</g>
<g id="text_83">
<g transform="translate(348.140741 294.317737)">
<text>
<tspan x="0" y="-0.976562" style="font-size: 10px; font-family: 'DejaVu Sans'">1</tspan>
<tspan x="6.362305" y="-0.976562" style="font-size: 10px; font-family: 'DejaVu Sans'">0</tspan>
<tspan x="12.820312" y="-4.804688" style="font-size: 7px; font-family: 'DejaVu Sans'">2</tspan>
</text>
</g>
</g>
</g>
<g id="ytick_84">
<g id="line2d_194">
<g>
<use href="#m5d545ce8f8" x="372.740741" y="321.290045" style="stroke: #000000; stroke-width: 0.8"/>
</g>
</g>
<g id="text_84">
<g transform="translate(348.140741 325.089263)">
<text>
<tspan x="0" y="-0.064063" style="font-size: 10px; font-family: 'DejaVu Sans'">1</tspan>
<tspan x="6.362305" y="-0.064063" style="font-size: 10px; font-family: 'DejaVu Sans'">0</tspan>
<tspan x="12.820312" y="-3.892188" style="font-size: 7px; font-family: 'DejaVu Sans'">1</tspan>
</text>
</g>
</g>
</g>
<g id="ytick_85">
<g id="line2d_195">
<g>
<use href="#m5d545ce8f8" x="372.740741" y="352.209369" style="stroke: #000000; stroke-width: 0.8"/>
</g>
</g>
<g id="text_85">
<g transform="translate(348.140741 356.008587)">
<text>
<tspan x="0" y="-0.976562" style="font-size: 10px; font-family: 'DejaVu Sans'">1</tspan>
<tspan x="6.362305" y="-0.976562" style="font-size: 10px; font-family: 'DejaVu Sans'">0</tspan>
<tspan x="12.820312" y="-4.804688" style="font-size: 7px; font-family: 'DejaVu Sans'">0</tspan>
</text>
</g>
</g>
</g>
<g id="ytick_86">
<g id="line2d_196">
<g>
<use href="#mc3d89a154a" x="372.740741" y="364.489879" style="stroke: #000000; stroke-width: 0.6"/>
</g>
</g>
</g>
<g id="ytick_87">
<g id="line2d_197">
<g>
<use href="#mc3d89a154a" x="372.740741" y="361.499216" style="stroke: #000000; stroke-width: 0.6"/>
</g>
</g>
</g>
<g id="ytick_88">
<g id="line2d_198">
<g>
<use href="#mc3d89a154a" x="372.740741" y="359.055667" style="stroke: #000000; stroke-width: 0.6"/>
</g>
</g>
</g>
<g id="ytick_89">
<g id="line2d_199">
<g>
<use href="#mc3d89a154a" x="372.740741" y="356.989675" style="stroke: #000000; stroke-width: 0.6"/>
</g>
</g>
</g>
<g id="ytick_90">
<g id="line2d_200">
<g>
<use href="#mc3d89a154a" x="372.740741" y="355.200032" style="stroke: #000000; stroke-width: 0.6"/>
</g>
</g>
</g>
<g id="ytick_91">
<g id="line2d_201">
<g>
<use href="#mc3d89a154a" x="372.740741" y="353.621454" style="stroke: #000000; stroke-width: 0.6"/>
</g>
</g>
</g>
<g id="ytick_92">
<g id="line2d_202">
<g>
<use href="#mc3d89a154a" x="372.740741" y="342.919521" style="stroke: #000000; stroke-width: 0.6"/>
</g>
</g>
</g>
<g id="ytick_93">
<g id="line2d_203">
<g>
<use href="#mc3d89a154a" x="372.740741" y="337.485309" style="stroke: #000000; stroke-width: 0.6"/>
</g>
</g>
</g>
<g id="ytick_94">
<g id="line2d_204">
<g>
<use href="#mc3d89a154a" x="372.740741" y="333.629674" style="stroke: #000000; stroke-width: 0.6"/>
</g>
</g>
</g>
<g id="ytick_95">
<g id="line2d_205">
<g>
<use href="#mc3d89a154a" x="372.740741" y="330.639011" style="stroke: #000000; stroke-width: 0.6"/>
</g>
</g>
</g>
<g id="ytick_96">
<g id="line2d_206">
<g>
<use href="#mc3d89a154a" x="372.740741" y="328.195462" style="stroke: #000000; stroke-width: 0.6"/>
</g>
</g>
</g>
<g id="ytick_97">
<g id="line2d_207">
<g>
<use href="#mc3d89a154a" x="372.740741" y="326.12947" style="stroke: #000000; stroke-width: 0.6"/>
</g>
</g>
</g>
<g id="ytick_98">
<g id="line2d_208">
<g>
<use href="#mc3d89a154a" x="372.740741" y="324.339827" style="stroke: #000000; stroke-width: 0.6"/>
</g>
</g>
</g>
<g id="ytick_99">
<g id="line2d_209">
<g>
<use href="#mc3d89a154a" x="372.740741" y="322.761249" style="stroke: #000000; stroke-width: 0.6"/>
</g>
</g>
</g>
<g id="ytick_100">
<g id="line2d_210">
<g>
<use href="#mc3d89a154a" x="372.740741" y="312.059316" style="stroke: #000000; stroke-width: 0.6"/>
</g>
</g>
</g>
<g id="ytick_101">
<g id="line2d_211">
<g>
<use href="#mc3d89a154a" x="372.740741" y="306.625104" style="stroke: #000000; stroke-width: 0.6"/>
</g>
</g>
</g>
<g id="ytick_102">
<g id="line2d_212">
<g>
<use href="#mc3d89a154a" x="372.740741" y="302.769469" style="stroke: #000000; stroke-width: 0.6"/>
</g>
</g>
</g>
<g id="ytick_103">
<g id="line2d_213">
<g>
<use href="#mc3d89a154a" x="372.740741" y="299.778806" style="stroke: #000000; stroke-width: 0.6"/>
</g>
</g>
</g>
<g id="ytick_104">
<g id="line2d_214">
<g>
<use href="#mc3d89a154a" x="372.740741" y="297.335257" style="stroke: #000000; stroke-width: 0.6"/>
</g>
</g>
</g>
<g id="ytick_105">
<g id="line2d_215">
<g>
<use href="#mc3d89a154a" x="372.740741" y="295.269265" style="stroke: #000000; stroke-width: 0.6"/>
</g>
</g>
</g>
<g id="ytick_106">
<g id="line2d_216">
<g>
<use href="#mc3d89a154a" x="372.740741" y="293.479622" style="stroke: #000000; stroke-width: 0.6"/>
</g>
</g>
</g>
<g id="ytick_107">
<g id="line2d_217">
<g>
<use href="#mc3d89a154a" x="372.740741" y="291.901044" style="stroke: #000000; stroke-width: 0.6"/>
</g>
</g>
</g>
<g id="text_86">
<g transform="translate(342.061053 349.67963) rotate(-90)">
<text>
<tspan x="0" y="-0.976562" style="font-style: oblique; font-size: 10px; font-family: 'DejaVu Sans'">n</tspan>
<tspan x="16.930143" y="-0.976562" style="font-style: oblique; font-size: 10px; font-family: 'DejaVu Sans'">c</tspan>
<tspan x="22.42819" y="-0.976562" style="font-style: oblique; font-size: 10px; font-family: 'DejaVu Sans'">m</tspan>
<tspan x="6.337891" y="0.664062" style="font-style: oblique; font-size: 7px; font-family: 'DejaVu Sans'">i</tspan>
<tspan x="8.556152" y="-0.976562" style="font-size: 10px; font-family: 'DejaVu Sans'">,</tspan>
<tspan x="32.633516" y="-4.804688" style="font-size: 7px; font-family: 'DejaVu Sans'">−</tspan>
<tspan x="38.49875" y="-4.804688" style="font-size: 7px; font-family: 'DejaVu Sans'">3</tspan>
</text>
</g>
</g>
</g>
<g id="line2d_218">
<path d="M 373.08 358.14 L 373.97 358.25 L 374.41 358.69 L 374.86 358.33 L 375.3 357.3 L 375.75 356.91 L 376.19 357.13 L 376.64 357.62 L 377.08 357.69 L 377.53 357.14 L 377.97 357.61 L 378.86 359.67 L 379.75 361.49 L 380.64 360.12 L 381.08 358.89 L 381.53 358.68 L 381.97 358.24 L 382.41 358.27 L 382.86 358.51 L 383.3 359.25 L 383.75 359.45 L 384.19 359.87 L 384.64 360.6 L 385.53 360.64 L 386.41 361.48 L 386.86 361.69 L 387.75 361.57 L 388.19 360.79 L 388.64 360.3 L 389.97 360.08 L 390.86 360.19 L 391.75 361.31 L 392.64 361.1 L 393.08 361.37 L 393.53 361.35 L 394.41 360.29 L 394.86 360.46 L 395.75 360.39 L 396.19 359.89 L 397.08 359.84 L 397.53 360.69 L 397.97 360.69 L 398.86 359.87 L 399.3 359.98 L 399.75 360.32 L 400.19 360.06 L 400.64 360.55 L 401.08 360.55 L 401.53 360.69 L 401.97 361.04 L 402.41 360.85 L 402.86 361.31 L 403.3 361.6 L 403.75 361.19 L 404.19 361.89 L 404.64 361.12 L 405.53 360.35 L 405.97 359.63 L 406.41 359.65 L 406.86 359.35 L 407.75 359.44 L 408.19 359.99 L 408.64 360.33 L 409.08 360.17 L 409.53 360.27 L 409.97 360.15 L 410.41 360.55 L 410.86 361.38 L 411.3 361.55 L 411.75 353.43 L 412.19 337.67 L 412.64 332.31 L 413.53 326.72 L 413.97 328.27 L 414.41 328.55 L 415.3 320.85 L 415.75 320.28 L 416.19 321.34 L 416.64 326.18 L 417.08 326.38 L 417.53 325.02 L 417.97 322.51 L 418.41 322.29 L 418.86 327.47 L 419.3 334.42 L 420.19 356.73 L 420.64 361.13 L 421.53 351.3 L 421.97 350.1 L 422.41 357.99 L 422.86 356.72 L 423.3 353.68 L 423.75 352.6 L 424.19 353.58 L 424.64 355.9 L 425.53 361.39 L 426.41 360.31 L 427.3 358.01 L 427.75 357.45 L 428.19 357.5 L 428.64 356.96 L 429.53 357.55 L 429.97 357.37 L 430.41 357.06 L 430.86 357.15 L 431.3 356.45 L 432.19 353.54 L 432.64 351.04 L 433.08 345.47 L 433.53 337.04 L 433.97 325.4 L 434.41 319.64 L 435.3 340.9 L 435.75 345.58 L 436.19 342.85 L 437.08 333.94 L 438.41 356.2 L 438.86 356.22 L 439.3 355.8 L 439.75 355.85 L 440.19 356.8 L 440.64 356.2 L 441.97 339.55 L 442.41 346.66 L 442.86 344.2 L 443.3 338.7 L 444.19 354.43 L 445.08 341.94 L 445.53 341.4 L 445.97 341.12 L 446.86 349.72 L 447.3 355.5 L 447.75 348.65 L 448.19 336.38 L 448.64 316.21 L 449.08 325.3 L 449.97 351.33 L 450.41 352.7 L 450.86 353.11 L 451.3 353.12 L 452.19 357.82 L 453.08 356.63 L 453.53 355.32 L 454.41 355.9 L 454.86 355.59 L 455.3 355.41 L 456.19 358.85 L 457.08 353.59 L 458.86 331.04 L 459.75 321.76 L 460.19 324.41 L 460.64 328.49 L 461.53 345.3 L 461.97 348.57 L 462.41 352.99 L 462.86 358.91 L 463.3 359.2 L 463.75 359.07 L 464.19 358.21 L 464.64 357.79 L 465.08 357.89 L 465.53 357.4 L 466.41 354.29 L 466.86 333.13 L 467.3 321.85 L 467.75 317.42 L 468.19 315.45 L 469.08 316.62 L 469.53 316.38 L 469.97 315.63 L 470.41 315.72 L 470.86 317.34 L 472.19 323.67 L 472.64 324.78 L 473.08 326.52 L 473.97 318.99 L 474.41 319.23 L 474.86 320.8 L 475.3 321.88 L 475.75 324.39 L 476.19 325.84 L 476.64 322.69 L 477.08 321.5 L 477.53 325.29 L 477.97 330.31 L 479.3 347.96 L 479.75 350.57 L 480.19 346 L 481.08 325.32 L 481.53 319.36 L 482.41 314.33 L 482.86 312.85 L 483.3 312.26 L 483.75 312.19 L 484.64 317.88 L 485.53 320.68 L 485.97 317.17 L 486.41 314.62 L 486.86 319.12 L 487.3 321.55 L 487.75 322.87 L 488.64 315.09 L 489.08 313.76 L 489.53 313.32 L 489.97 313.7 L 490.41 313.9 L 490.86 313.65 L 491.3 312.76 L 491.75 312.75 L 492.19 312.4 L 492.64 312.5 L 493.53 315.77 L 493.97 316.41 L 494.41 316.46 L 495.3 313.21 L 495.75 313.24 L 496.64 312.24 L 497.08 312.43 L 497.53 312.88 L 497.97 313.79 L 498.41 315.78 L 498.86 315.43 L 499.3 315.57 L 499.75 315.25 L 501.08 313.11 L 501.97 311.06 L 502.41 311.3 L 503.3 313.15 L 504.19 314.74 L 505.08 318.53 L 505.53 319.52 L 506.41 314.94 L 507.3 314.24 L 508.19 312.9 L 509.97 311.55 L 510.41 311.57 L 510.86 311.47 L 511.3 311.23 L 511.75 314.66 L 512.19 313.37 L 512.64 310.74 L 513.08 310.09 L 513.53 310.08 L 513.97 309.71 L 514.41 308.98 L 514.86 308.87 L 515.3 309.96 L 515.75 310.72 L 516.19 310.95 L 516.64 310.67 L 517.53 312.17 L 517.97 311.88 L 518.86 310.68 L 519.3 310.55 L 519.75 309.83 L 520.19 309.37 L 520.64 309.96 L 521.08 310.13 L 522.41 312.91 L 523.3 313.24 L 523.75 312.97 L 524.64 310.79 L 525.08 310.87 L 525.53 311.35 L 525.97 313.04 L 526.41 313.17 L 526.86 311.92 L 527.3 311.14 L 527.75 310.93 L 528.19 310.93 L 528.64 310.74 L 529.08 310.96 L 529.53 310.88 L 529.97 311.06 L 530.86 311 L 531.3 311.08 L 531.75 311.57 L 532.19 311.64 L 532.64 311.44 L 533.08 311.1 L 533.53 311.97 L 533.97 312.56 L 534.41 312.97 L 534.86 313.62 L 535.3 313.66 L 535.75 311.92 L 536.64 310.71 L 537.08 310.9 L 537.53 310.79 L 537.97 310.5 L 538.41 310.6 L 539.3 311.85 L 539.75 312.17 L 540.19 311.14 L 540.64 309.45 L 541.08 308.97 L 541.53 307.83 L 541.97 308.44 L 542.41 310 L 542.86 310.76 L 543.3 311 L 543.75 311.99 L 544.19 312.45 L 544.64 312.65 L 545.08 311.11 L 545.53 311.19 L 545.97 315.66 L 546.41 317.97 L 546.86 317.87 L 547.3 317.42 L 547.75 317.87 L 548.19 316 L 548.64 313.54 L 549.08 313.61 L 549.53 313.81 L 549.97 313.77 L 550.41 313.57 L 550.86 314.08 L 551.3 314.26 L 551.75 313.87 L 552.19 313.8 L 552.64 314.08 L 553.53 313.17 L 554.41 314.5 L 555.3 313.95 L 555.75 313.96 L 557.08 313.31 L 557.97 313.4 L 558.41 312.86 L 559.75 309.89 L 560.19 313.09 L 560.64 314.93 L 561.08 313.99 L 561.53 313.43 L 562.41 309.8 L 562.86 310.39 L 563.75 311 L 565.08 311.11 L 565.53 310.74 L 565.97 311.21 L 566.41 311.36 L 567.3 312.13 L 567.75 312.24 L 568.19 311.64 L 568.64 311.45 L 569.08 311.42 L 569.53 311.57 L 569.97 311.88 L 570.41 311.57 L 570.86 311.5 L 571.3 310.79 L 571.75 311.13 L 572.19 311.27 L 572.64 311.1 L 573.08 311.76 L 573.53 311.65 L 573.97 311.35 L 574.41 311.47 L 574.86 310.86 L 575.3 310.58 L 575.75 310.95 L 576.19 311.5 L 576.64 311.72 L 577.08 311.54 L 577.53 311.1 L 577.97 310.43 L 578.41 311.14 L 578.86 312.28 L 579.75 312.29 L 580.19 312.48 L 580.64 312.37 L 581.53 311.26 L 582.41 309.66 L 582.86 309.89 L 583.3 310.37 L 583.75 310.53 L 584.19 310.13 L 584.64 310.81 L 584.64 310.81" clip-path="url(#p5511a19e97)" style="fill: none; stroke: #ff0000; stroke-width: 1.5; stroke-linecap: square"/>
</g>
<g id="line2d_219">
<path d="M 388.59 365.54 L 388.59 290.52" clip-path="url(#p5511a19e97)" style="fill: none; stroke-dasharray: 5.55,2.4; stroke-dashoffset: 0; stroke: #008000; stroke-width: 1.5"/>
</g>
<g id="line2d_220">
<path d="M 396.74 365.54 L 396.74 290.52" clip-path="url(#p5511a19e97)" style="fill: none; stroke-dasharray: 5.55,2.4; stroke-dashoffset: 0; stroke: #008000; stroke-width: 1.5"/>
</g>
<g id="line2d_221">
<path d="M 467.85 365.54 L 467.85 290.52" clip-path="url(#p5511a19e97)" style="fill: none; stroke-dasharray: 5.55,2.4; stroke-dashoffset: 0; stroke: #000000; stroke-width: 1.5"/>
</g>
<g id="line2d_222">
<path d="M 480.44 365.54 L 480.44 290.52" clip-path="url(#p5511a19e97)" style="fill: none; stroke-dasharray: 5.55,2.4; stroke-dashoffset: 0; stroke: #000000; stroke-width: 1.5"/>
</g>
<g id="line2d_223">
<path d="M 494.96 365.54 L 494.96 290.52" clip-path="url(#p5511a19e97)" style="fill: none; stroke-dasharray: 5.55,2.4; stroke-dashoffset: 0; stroke: #ff0000; stroke-width: 1.5"/>
</g>
<g id="line2d_224">
<path d="M 497.78 365.54 L 497.78 290.52" clip-path="url(#p5511a19e97)" style="fill: none; stroke-dasharray: 5.55,2.4; stroke-dashoffset: 0; stroke: #ff0000; stroke-width: 1.5"/>
</g>
<g id="patch_54">
<path d="M 372.74 365.54 L 372.74 290.52" style="fill: none; stroke: #000000; stroke-width: 0.8; stroke-linejoin: miter; stroke-linecap: square"/>
</g>
<g id="patch_55">
<path d="M 584.95 365.54 L 584.95 290.52" style="fill: none; stroke: #000000; stroke-width: 0.8; stroke-linejoin: miter; stroke-linecap: square"/>
</g>
<g id="patch_56">
<path d="M 372.74 365.54 L 584.95 365.54" style="fill: none; stroke: #000000; stroke-width: 0.8; stroke-linejoin: miter; stroke-linecap: square"/>
</g>
<g id="patch_57">
<path d="M 372.74 290.52 L 584.95 290.52" style="fill: none; stroke: #000000; stroke-width: 0.8; stroke-linejoin: miter; stroke-linecap: square"/>
</g>
</g>
<g id="axes_11">
<g id="patch_58">
<path d="M 372.74 365.54 L 584.95 365.54 L 584.95 290.52 L 372.74 290.52 L 372.74 365.54 z" style="fill: none; opacity: 0"/>
</g>
<g id="matplotlib.axis_21"/>
<g id="matplotlib.axis_22">
<g id="ytick_108">
<g id="line2d_225">
<g>
<use href="#m33c4ce201d" x="584.948148" y="312.474074" style="stroke: #000000; stroke-width: 0.8"/>
</g>
</g>
<g id="text_87">
<g transform="translate(591.948148 316.273293)">
<text>
<tspan x="0" y="-0.976562" style="font-size: 10px; font-family: 'DejaVu Sans'">1</tspan>
<tspan x="6.362305" y="-0.976562" style="font-size: 10px; font-family: 'DejaVu Sans'">0</tspan>
<tspan x="12.820312" y="-4.804688" style="font-size: 7px; font-family: 'DejaVu Sans'">3</tspan>
</text>
</g>
</g>
</g>
<g id="ytick_109">
<g id="line2d_226">
<g>
<use href="#m33c4ce201d" x="584.948148" y="362.37037" style="stroke: #000000; stroke-width: 0.8"/>
</g>
</g>
<g id="text_88">
<g transform="translate(591.948148 366.169589)">
<text>
<tspan x="0" y="-0.976562" style="font-size: 10px; font-family: 'DejaVu Sans'">1</tspan>
<tspan x="6.362305" y="-0.976562" style="font-size: 10px; font-family: 'DejaVu Sans'">0</tspan>
<tspan x="12.820312" y="-4.804688" style="font-size: 7px; font-family: 'DejaVu Sans'">2</tspan>
</text>
</g>
</g>
</g>
<g id="ytick_110">
<g id="line2d_227">
<g>
<use href="#m7389b9bb77" x="584.948148" y="364.6535" style="stroke: #000000; stroke-width: 0.6"/>
</g>
</g>
</g>
<g id="ytick_111">
<g id="line2d_228">
<g>
<use href="#m7389b9bb77" x="584.948148" y="347.350089" style="stroke: #000000; stroke-width: 0.6"/>
</g>
</g>
</g>
<g id="ytick_112">
<g id="line2d_229">
<g>
<use href="#m7389b9bb77" x="584.948148" y="338.563787" style="stroke: #000000; stroke-width: 0.6"/>
</g>
</g>
</g>
<g id="ytick_113">
<g id="line2d_230">
<g>
<use href="#m7389b9bb77" x="584.948148" y="332.329807" style="stroke: #000000; stroke-width: 0.6"/>
</g>
</g>
</g>
<g id="ytick_114">
<g id="line2d_231">
<g>
<use href="#m7389b9bb77" x="584.948148" y="327.494356" style="stroke: #000000; stroke-width: 0.6"/>
</g>
</g>
</g>
<g id="ytick_115">
<g id="line2d_232">
<g>
<use href="#m7389b9bb77" x="584.948148" y="323.543505" style="stroke: #000000; stroke-width: 0.6"/>
</g>
</g>
</g>
<g id="ytick_116">
<g id="line2d_233">
<g>
<use href="#m7389b9bb77" x="584.948148" y="320.203108" style="stroke: #000000; stroke-width: 0.6"/>
</g>
</g>
</g>
<g id="ytick_117">
<g id="line2d_234">
<g>
<use href="#m7389b9bb77" x="584.948148" y="317.309525" style="stroke: #000000; stroke-width: 0.6"/>
</g>
</g>
</g>
<g id="ytick_118">
<g id="line2d_235">
<g>
<use href="#m7389b9bb77" x="584.948148" y="314.757203" style="stroke: #000000; stroke-width: 0.6"/>
</g>
</g>
</g>
<g id="ytick_119">
<g id="line2d_236">
<g>
<use href="#m7389b9bb77" x="584.948148" y="297.453792" style="stroke: #000000; stroke-width: 0.6"/>
</g>
</g>
</g>
<g id="text_89">
<g transform="translate(621.146586 342.87963) rotate(-90)">
<text>
<tspan x="0" y="-0.703125" style="font-style: oblique; font-size: 10px; font-family: 'DejaVu Sans'">T</tspan>
<tspan x="16.700651" y="-0.703125" style="font-style: oblique; font-size: 10px; font-family: 'DejaVu Sans'">e</tspan>
<tspan x="22.852995" y="-0.703125" style="font-style: oblique; font-size: 10px; font-family: 'DejaVu Sans'">V</tspan>
<tspan x="6.108398" y="0.9375" style="font-style: oblique; font-size: 7px; font-family: 'DejaVu Sans'">i</tspan>
<tspan x="8.32666" y="-0.703125" style="font-size: 10px; font-family: 'DejaVu Sans'">,</tspan>
</text>
</g>
</g>
</g>
<g id="line2d_237">
<path d="M 373.08 303.05 L 373.53 302.45 L 373.97 302.42 L 374.41 301.3 L 374.86 301.12 L 375.3 301.9 L 375.75 301.69 L 376.19 301.21 L 377.08 299.84 L 377.97 300.26 L 378.86 297.61 L 379.3 297.1 L 379.75 296.42 L 380.19 296.85 L 380.64 296.91 L 381.08 296.42 L 381.53 296.23 L 381.97 296.58 L 382.41 295.62 L 382.86 295 L 383.3 295.75 L 383.75 295.42 L 384.19 295.46 L 384.64 295.08 L 385.97 296.96 L 386.86 295.97 L 387.3 296.25 L 387.75 297.24 L 388.19 297.43 L 388.64 296.8 L 389.08 296.89 L 389.53 296.6 L 389.97 297.35 L 390.41 297.52 L 391.75 296.96 L 392.19 296.59 L 393.08 296.3 L 393.53 296.38 L 393.97 295.82 L 394.41 295.51 L 394.86 295.38 L 395.3 294.5 L 396.19 293.45 L 397.08 294.67 L 397.53 294.5 L 397.97 294.06 L 398.41 294.66 L 398.86 294.53 L 400.19 294.99 L 400.64 294.01 L 401.08 293.63 L 401.53 294.25 L 401.97 294.36 L 402.41 294.89 L 402.86 295.89 L 403.3 295.68 L 403.75 295.16 L 404.19 295.03 L 405.08 296.82 L 405.53 297.94 L 405.97 297.66 L 406.41 299.04 L 406.86 300.82 L 407.3 301.41 L 407.75 302.55 L 408.64 302.2 L 409.97 303.68 L 410.41 304.66 L 410.86 306.08 L 411.3 308.27 L 411.75 313.36 L 412.64 331.3 L 413.08 336.43 L 413.53 338.47 L 413.97 338.73 L 414.41 338.05 L 414.86 337.11 L 415.3 336.92 L 415.75 336.06 L 416.64 332.9 L 417.08 336.01 L 417.53 337.58 L 417.97 338.49 L 418.41 338.68 L 418.86 337.55 L 419.3 337.5 L 419.75 339.62 L 420.64 316.46 L 421.08 319.77 L 421.53 328.56 L 421.97 306.39 L 422.41 301.57 L 422.86 300.19 L 423.3 300.86 L 423.75 301.19 L 425.53 294.85 L 425.97 295.21 L 426.41 295.32 L 426.86 294.76 L 427.3 295.4 L 428.64 298.38 L 429.08 298.11 L 429.53 297.38 L 429.97 296.9 L 430.41 297.44 L 430.86 298.17 L 431.3 300.38 L 431.75 303.19 L 432.19 308.34 L 433.08 324.86 L 433.53 334.62 L 433.97 336.78 L 434.41 337.03 L 434.86 334.15 L 435.3 326.2 L 435.75 311.98 L 436.19 320.9 L 436.64 334.62 L 437.97 305.79 L 438.41 307.31 L 438.86 307.01 L 439.3 304.07 L 440.19 300.22 L 440.64 299.73 L 441.08 302.64 L 441.53 310.02 L 441.97 322.87 L 442.41 320.44 L 442.86 320.01 L 443.3 324.8 L 443.75 311.96 L 444.19 306.26 L 445.08 318.51 L 445.53 321.39 L 445.97 318.38 L 446.41 312.49 L 446.86 309.75 L 447.3 307.76 L 448.64 339.16 L 449.08 340.96 L 449.53 335.61 L 449.97 323.98 L 450.86 311.24 L 451.3 310.99 L 451.75 310.51 L 452.19 308.38 L 453.08 305.89 L 453.53 304.54 L 453.97 303.55 L 454.41 303.12 L 454.86 303.62 L 455.3 303.81 L 456.19 305.67 L 456.64 305.13 L 457.08 304.28 L 457.53 304.48 L 458.41 312.3 L 459.3 327.78 L 459.75 333.71 L 460.19 336.95 L 460.64 325.44 L 461.08 310.4 L 461.53 302.38 L 461.97 303.37 L 462.41 303.85 L 462.86 303.36 L 463.3 301.69 L 463.75 300.69 L 464.19 299.98 L 464.64 301.16 L 465.08 303.2 L 465.97 309.75 L 466.41 317.08 L 466.86 331.05 L 467.3 336.64 L 467.75 335.52 L 468.19 335.61 L 468.64 336.51 L 469.08 338.06 L 469.97 342.95 L 471.3 345.75 L 471.75 346.1 L 472.19 340.26 L 472.64 331.93 L 473.08 327.43 L 473.53 324.66 L 473.97 330.56 L 474.41 334.21 L 474.86 330.53 L 475.3 335.07 L 475.75 346.84 L 476.19 340.87 L 476.64 333.13 L 477.53 326.75 L 478.41 325.37 L 478.86 328.33 L 479.3 316.63 L 479.75 326.9 L 480.19 312.32 L 480.64 325.04 L 481.53 333.91 L 481.97 333.75 L 482.41 332.8 L 482.86 335.63 L 483.3 340.3 L 483.75 337.08 L 484.19 332.26 L 484.64 330.13 L 485.08 331.16 L 485.53 334.32 L 485.97 336.28 L 486.41 337.43 L 486.86 337.64 L 487.75 335.18 L 488.64 338.95 L 489.08 341.43 L 489.97 337.5 L 490.86 336.17 L 491.3 335.23 L 491.75 335.54 L 492.19 337.24 L 492.64 337.68 L 493.08 338.97 L 493.97 342.22 L 494.41 342.89 L 494.86 344.12 L 495.3 344.09 L 496.19 341.82 L 496.64 342.84 L 497.53 346.89 L 497.97 342.7 L 498.41 341.59 L 498.86 341.94 L 499.3 341.82 L 499.75 342.48 L 501.08 343.91 L 501.53 344.88 L 501.97 346.65 L 502.41 347.16 L 502.86 345.6 L 503.75 340.52 L 504.64 335.41 L 505.08 334.41 L 505.97 340.51 L 506.41 336.09 L 506.86 336.43 L 507.3 338.61 L 508.19 341.38 L 508.64 340.48 L 509.97 336.98 L 510.86 339.76 L 511.3 339.42 L 511.75 337.75 L 512.19 337.19 L 512.64 336.89 L 513.08 337.27 L 513.53 344.7 L 514.41 346.06 L 514.86 347.22 L 515.3 347.74 L 515.75 347.38 L 516.19 347.6 L 516.64 348.19 L 517.97 348.93 L 518.41 348.28 L 518.86 348.65 L 519.3 348.48 L 519.75 347.23 L 520.19 346.73 L 521.53 350.13 L 522.41 350.47 L 522.86 351.15 L 523.3 349.87 L 523.75 347.99 L 525.08 345.02 L 525.53 344.81 L 525.97 345.46 L 526.41 346.68 L 526.86 346.71 L 527.3 343.07 L 527.75 341.02 L 528.19 342.15 L 528.64 341.95 L 529.08 341.3 L 529.53 340.94 L 529.97 341.88 L 530.41 342.32 L 533.53 348.33 L 533.97 347.21 L 534.41 345.58 L 534.86 345.72 L 535.75 347.31 L 536.19 347.16 L 537.08 349.01 L 537.53 348.94 L 538.41 347.15 L 538.86 346.69 L 539.75 348.96 L 540.19 348.51 L 540.64 347.11 L 541.08 344.96 L 541.97 339.32 L 542.86 337.95 L 543.75 340.83 L 544.19 340.43 L 544.64 339.72 L 545.08 339.38 L 545.97 334.67 L 546.41 331.19 L 546.86 330.04 L 547.3 334.42 L 547.75 341.24 L 548.19 338.85 L 548.64 334.44 L 549.08 335.54 L 549.53 337.73 L 550.41 341.14 L 550.86 342.99 L 551.3 342.91 L 551.75 343.02 L 552.19 342.92 L 553.08 339.75 L 553.53 339.08 L 553.97 338.14 L 554.41 337.65 L 555.3 338.19 L 556.19 337.8 L 556.64 338.4 L 557.08 341.1 L 557.53 342.86 L 557.97 340.6 L 558.41 339.34 L 559.3 344.45 L 560.19 340.64 L 560.64 339.38 L 561.08 338.53 L 561.97 346.27 L 562.41 346.32 L 562.86 346.68 L 563.3 347.54 L 564.19 347.74 L 565.08 346.13 L 565.53 345.76 L 565.97 346.13 L 566.41 346.76 L 567.3 348.91 L 567.75 349.17 L 568.64 348.37 L 569.53 349.64 L 569.97 349.64 L 570.41 349.5 L 570.86 349.63 L 571.75 347.39 L 572.19 347.47 L 572.64 348.32 L 573.08 349.45 L 573.53 349.89 L 573.97 349.4 L 574.41 349.81 L 574.86 349.65 L 575.3 348.64 L 576.19 348.51 L 577.53 348.33 L 577.97 349.39 L 578.41 349.99 L 579.75 349.26 L 580.19 348.51 L 580.64 347.43 L 581.08 347.56 L 581.53 346.6 L 581.97 345.95 L 583.3 348.13 L 583.75 348.93 L 584.19 348.97 L 584.64 349.77 L 584.64 349.77" clip-path="url(#p5511a19e97)" style="fill: none; stroke: #008000; stroke-width: 1.5; stroke-linecap: square"/>
</g>
<g id="line2d_238">
<path d="M 373.08 305.6 L 373.53 305.58 L 373.97 304.44 L 374.41 303.99 L 376.19 303.17 L 376.64 301.76 L 377.08 301.78 L 377.53 301.53 L 377.97 300.85 L 378.41 300.8 L 378.86 299.78 L 379.3 299.73 L 380.19 300.35 L 381.08 301.55 L 381.53 301.89 L 381.97 302 L 382.41 301.7 L 383.3 302.26 L 384.19 302.26 L 384.64 301.85 L 385.08 302.05 L 385.53 301.93 L 385.97 300.62 L 386.41 300.21 L 386.86 300.21 L 387.3 299.69 L 388.19 298.36 L 388.64 298.32 L 389.08 299.38 L 389.53 299.76 L 389.97 300.65 L 390.41 302.14 L 390.86 302.41 L 392.19 300.79 L 393.08 299.86 L 393.53 300.49 L 393.97 300.73 L 394.41 300.01 L 394.86 301.28 L 395.3 302.2 L 395.75 302.4 L 396.64 302.23 L 397.08 302.26 L 397.97 303.63 L 398.41 303.83 L 399.3 304.63 L 400.64 303.29 L 401.53 302.88 L 401.97 302.84 L 402.41 303.06 L 402.86 302.96 L 403.3 302.53 L 403.75 301.75 L 404.19 301.65 L 405.08 302.2 L 405.53 302.77 L 405.97 303.82 L 406.41 305.61 L 406.86 306.36 L 407.3 306.77 L 407.75 306.34 L 408.64 304.73 L 409.08 304.27 L 409.53 304.55 L 409.97 304.17 L 410.41 305.77 L 411.3 312.02 L 413.08 339.38 L 413.97 342.74 L 414.41 344.99 L 414.86 344.06 L 415.75 343.8 L 416.19 342.68 L 417.08 335.53 L 417.53 334.86 L 417.97 333.32 L 418.41 326.22 L 418.86 326.36 L 419.3 329.03 L 419.75 318.98 L 420.19 313.92 L 421.08 326.52 L 421.53 329.72 L 421.97 315.12 L 422.41 308.69 L 422.86 309.96 L 423.3 310.56 L 423.75 309.59 L 424.19 308.95 L 425.08 304.87 L 425.53 304.85 L 426.41 305.13 L 427.75 307.81 L 428.64 308.51 L 429.08 308.22 L 429.53 306.93 L 429.97 305.1 L 431.3 306.04 L 431.75 306.62 L 432.19 307.78 L 433.97 329.63 L 434.41 320.35 L 435.3 307.21 L 436.19 321.27 L 436.64 329.72 L 437.08 324.68 L 437.97 310.8 L 438.41 307.72 L 438.86 306.07 L 439.3 305.17 L 439.75 305.35 L 440.19 305.31 L 440.64 307.48 L 441.08 310.84 L 441.97 323.2 L 442.41 321.96 L 443.3 318.24 L 443.75 316.6 L 444.19 318.83 L 444.64 322.13 L 445.53 327.35 L 445.97 326.95 L 446.86 321.36 L 447.3 318.63 L 447.75 322.51 L 448.64 338.78 L 449.08 330.79 L 449.53 314.23 L 449.97 305.44 L 450.41 301.85 L 450.86 302.2 L 451.3 301.94 L 451.75 304.24 L 452.19 307.31 L 452.64 307.13 L 453.08 305.68 L 453.53 304.94 L 453.97 304.58 L 454.41 304.65 L 454.86 304.35 L 455.75 305.54 L 456.19 305.34 L 456.64 305.65 L 457.08 306.67 L 458.41 319.92 L 459.75 333.82 L 460.19 334.55 L 460.64 319.89 L 461.08 311.18 L 461.53 304.83 L 461.97 303.98 L 462.41 302.64 L 462.86 302.51 L 463.3 303.51 L 463.75 303.93 L 464.19 303.75 L 465.08 305.71 L 465.97 311.61 L 466.86 330.02 L 467.75 336.45 L 468.64 337.76 L 469.08 338.83 L 469.53 340.35 L 470.41 342.02 L 471.3 343.48 L 471.75 343.11 L 473.08 334.74 L 473.53 332.92 L 473.97 334.86 L 474.41 337.83 L 474.86 336.54 L 475.3 333.33 L 475.75 335.17 L 476.19 339.54 L 476.64 340.96 L 477.08 339.46 L 477.53 338.43 L 478.41 339.53 L 479.3 318.17 L 479.75 334.88 L 480.19 312.77 L 480.64 326.35 L 481.53 334.85 L 481.97 334.86 L 482.41 333.85 L 482.86 336.85 L 483.3 340.64 L 484.19 333.57 L 484.64 331.53 L 485.08 331.44 L 485.97 340.44 L 486.41 342.25 L 486.86 343.34 L 487.3 343.02 L 487.75 342.37 L 488.19 341.92 L 488.64 342.79 L 489.08 346.93 L 489.53 347.47 L 489.97 340.22 L 490.41 338.41 L 490.86 337.69 L 491.3 336.47 L 491.75 336.73 L 492.64 339.15 L 494.86 345.52 L 495.3 345.04 L 496.19 341.88 L 496.64 342.75 L 497.53 346.7 L 497.97 342.93 L 498.41 342.34 L 498.86 342.74 L 499.3 342.46 L 499.75 343.07 L 500.19 343.3 L 500.64 343.83 L 501.08 344.82 L 501.53 345.16 L 501.97 345.91 L 502.41 347.35 L 502.86 347.29 L 503.3 343.27 L 503.75 340.83 L 504.19 337.68 L 504.64 337.48 L 505.53 344.34 L 505.97 347.17 L 506.41 347.44 L 506.86 342.87 L 507.3 340.23 L 508.19 342.17 L 509.53 337.81 L 509.97 337.1 L 510.41 338.35 L 510.86 339.98 L 511.3 339.56 L 511.75 338.74 L 512.19 338.37 L 513.08 338.62 L 513.97 351.15 L 514.86 356.08 L 515.3 357 L 515.75 357.36 L 517.08 357.68 L 517.53 358.1 L 517.97 357.63 L 518.41 357.4 L 518.86 357.82 L 519.3 357.65 L 520.19 359.63 L 520.64 359.47 L 521.08 360.32 L 521.53 360.85 L 522.41 361.41 L 522.86 360.02 L 523.75 353.25 L 524.64 347.13 L 525.08 346.71 L 525.53 345.91 L 526.41 347.87 L 526.86 347.78 L 527.75 341.24 L 528.19 342.04 L 528.64 342.55 L 529.08 342.4 L 529.97 342.49 L 530.41 342.68 L 530.86 343.65 L 531.3 344.06 L 531.75 347.36 L 532.19 353.83 L 532.64 357.46 L 533.08 359.64 L 533.97 354.09 L 534.86 351.16 L 536.19 357.8 L 536.64 358.77 L 537.97 356.47 L 538.41 354.96 L 538.86 354.16 L 539.3 353.02 L 540.64 348.58 L 541.08 347.22 L 542.86 339.85 L 543.3 340.35 L 543.75 342.81 L 544.19 342.67 L 545.08 339.93 L 545.97 336.17 L 546.41 332.63 L 546.86 330.78 L 547.3 334.85 L 547.75 342.21 L 548.19 340.12 L 548.64 336.25 L 549.08 336.71 L 550.41 342.49 L 550.86 343.62 L 551.3 344.28 L 551.75 344.01 L 552.19 343.57 L 552.64 342.59 L 553.53 339.81 L 553.97 339.2 L 554.41 338.12 L 554.86 337.87 L 555.75 338.23 L 556.19 338.3 L 556.64 340.45 L 557.08 343.21 L 557.53 344.86 L 558.41 341.29 L 559.3 345.02 L 560.19 342.3 L 560.64 341.02 L 561.08 341.58 L 561.53 343.94 L 561.97 350.94 L 562.86 356.54 L 563.3 358.94 L 563.75 359.22 L 564.19 356.97 L 565.08 355.59 L 565.53 354.38 L 565.97 353.98 L 566.41 354.97 L 567.3 355.61 L 567.75 354.87 L 568.19 354.52 L 568.64 354.46 L 569.08 354.57 L 569.53 356.06 L 569.97 356.78 L 570.41 356.43 L 571.75 353.63 L 572.19 353.32 L 572.64 354.06 L 573.97 354.97 L 574.41 356.18 L 574.86 356.9 L 575.3 356.76 L 576.19 358.22 L 576.64 358.14 L 577.08 358.46 L 577.97 358.32 L 578.41 357.65 L 578.86 357.26 L 579.3 357.74 L 579.75 357.64 L 581.08 353.68 L 581.97 355.13 L 582.41 355.71 L 582.86 356.54 L 583.3 356.92 L 583.75 356.93 L 583.75 356.93" clip-path="url(#p5511a19e97)" style="fill: none; stroke-dasharray: 5.55,2.4; stroke-dashoffset: 0; stroke: #008000; stroke-width: 1.5"/>
</g>
<g id="patch_59">
<path d="M 372.74 365.54 L 372.74 290.52" style="fill: none; stroke: #000000; stroke-width: 0.8; stroke-linejoin: miter; stroke-linecap: square"/>
</g>
<g id="patch_60">
<path d="M 584.95 365.54 L 584.95 290.52" style="fill: none; stroke: #000000; stroke-width: 0.8; stroke-linejoin: miter; stroke-linecap: square"/>
</g>
<g id="patch_61">
<path d="M 372.74 365.54 L 584.95 365.54" style="fill: none; stroke: #000000; stroke-width: 0.8; stroke-linejoin: miter; stroke-linecap: square"/>
</g>
<g id="patch_62">
<path d="M 372.74 290.52 L 584.95 290.52" style="fill: none; stroke: #000000; stroke-width: 0.8; stroke-linejoin: miter; stroke-linecap: square"/>
</g>
</g>
<g id="axes_12">
<g id="patch_63">
<path d="M 372.74 450.22 L 584.95 450.22 L 584.95 375.11 L 372.74 375.11 L 372.74 450.22 z" style="fill: none; opacity: 0"/>
</g>
<g id="heat_i" transform="scale(0.296296)" shape-rendering="crispEdges">
<rect x="1259.0" y="1270.9" width="714.2" height="247.6" fill="#f08a2c"/>
<path fill="#32f298" d="M1638 1506.7h6.2v11.8h-6.2z"/>
<path fill="#3ff68a" d="M1259 1488.8h117.3v18.6h-117.3zM1632.6 1506.7h6.2v11.8h-6.2zM1643.5 1506.7h3.4v11.8h-3.4z"/>
<path fill="#4ef97d" d="M1375.6 1488.8h14.4v18.6h-14.4zM1629.8 1506.7h3.4v11.8h-3.4zM1646.2 1506.7h3.4v11.8h-3.4z"/>
<path fill="#5dfc6f" d="M1259 1471.1h122.7v18.4h-122.7zM1419.3 1488.8h39v18.6h-39zM1479.5 1488.8h8.9v18.6h-8.9zM1520.5 1488.8h22.6v18.6h-22.6zM1561.5 1488.8h11.6v18.6h-11.6zM1259 1506.7h130.9v11.8h-130.9zM1627.1 1506.7h3.4v11.8h-3.4zM1649 1506.7h3.4v11.8h-3.4z"/>
<path fill="#6dfe62" d="M1381 1471.1h8.9v18.4h-8.9zM1419.3 1471.1h6.2v18.4h-6.2zM1427.5 1471.1h30.8v18.4h-30.8zM1482.2 1471.1h3.4v18.4h-3.4zM1523.2 1471.1h19.8v18.4h-19.8zM1561.5 1471.1h11.6v18.4h-11.6zM1457.6 1488.8h3.4v18.6h-3.4zM1558.7 1488.8h3.4v18.6h-3.4zM1416.6 1506.7h44.4v11.8h-44.4zM1479.5 1506.7h11.6v11.8h-11.6zM1506.8 1506.7h3.4v11.8h-3.4zM1520.5 1506.7h25.3v11.8h-25.3zM1558.7 1506.7h14.4v11.8h-14.4zM1618.9 1506.7h3.4v11.8h-3.4zM1624.4 1506.7h3.4v11.8h-3.4zM1651.7 1506.7h3.4v11.8h-3.4z"/>
<path fill="#7dff56" d="M1259 1453.8h130.9v18h-130.9zM1433 1453.8h22.6v18h-22.6zM1482.2 1453.8h3.4v18h-3.4zM1525.9 1453.8h6.2v18h-6.2zM1534.1 1453.8h6.2v18h-6.2zM1561.5 1453.8h11.6v18h-11.6zM1424.8 1471.1h3.4v18.4h-3.4zM1479.5 1471.1h3.4v18.4h-3.4zM1484.9 1471.1h3.4v18.4h-3.4zM1520.5 1471.1h3.4v18.4h-3.4zM1416.6 1488.8h3.4v18.6h-3.4zM1638 1488.8h3.4v18.6h-3.4zM1389.2 1506.7h3.4v11.8h-3.4zM1460.3 1506.7h3.4v11.8h-3.4zM1474 1506.7h6.2v11.8h-6.2zM1490.4 1506.7h17.1v11.8h-17.1zM1509.5 1506.7h3.4v11.8h-3.4zM1517.7 1506.7h3.4v11.8h-3.4zM1556 1506.7h3.4v11.8h-3.4zM1572.4 1506.7h3.4v11.8h-3.4zM1621.6 1506.7h3.4v11.8h-3.4zM1654.4 1506.7h3.4v11.8h-3.4z"/>
<path fill="#8bff4b" d="M1419.3 1453.8h14.4v18h-14.4zM1454.8 1453.8h3.4v18h-3.4zM1479.5 1453.8h3.4v18h-3.4zM1484.9 1453.8h3.4v18h-3.4zM1520.5 1453.8h6.2v18h-6.2zM1531.4 1453.8h3.4v18h-3.4zM1539.6 1453.8h3.4v18h-3.4zM1457.6 1471.1h3.4v18.4h-3.4zM1558.7 1471.1h3.4v18.4h-3.4zM1476.7 1488.8h3.4v18.6h-3.4zM1487.7 1488.8h3.4v18.6h-3.4zM1506.8 1488.8h3.4v18.6h-3.4zM1542.3 1488.8h3.4v18.6h-3.4zM1635.3 1488.8h3.4v18.6h-3.4zM1640.8 1488.8h6.2v18.6h-6.2zM1392 1506.7h25.3v11.8h-25.3zM1463 1506.7h11.6v11.8h-11.6zM1512.3 1506.7h6.2v11.8h-6.2zM1545.1 1506.7h11.6v11.8h-11.6zM1575.1 1506.7h33.5v11.8h-33.5zM1616.2 1506.7h3.4v11.8h-3.4zM1657.2 1506.7h3.4v11.8h-3.4z"/>
<path fill="#99fe42" d="M1259 1435.9h120v18.6h-120zM1457.6 1453.8h3.4v18h-3.4zM1558.7 1453.8h3.4v18h-3.4zM1416.6 1471.1h3.4v18.4h-3.4zM1487.7 1471.1h3.4v18.4h-3.4zM1542.3 1471.1h3.4v18.4h-3.4zM1389.2 1488.8h3.4v18.6h-3.4zM1495.9 1488.8h6.2v18.6h-6.2zM1517.7 1488.8h3.4v18.6h-3.4zM1572.4 1488.8h3.4v18.6h-3.4zM1629.8 1488.8h6.2v18.6h-6.2zM1646.2 1488.8h3.4v18.6h-3.4zM1608 1506.7h8.9v11.8h-8.9zM1659.9 1506.7h3.4v11.8h-3.4z"/>
<path fill="#a4fc3c" d="M1903.2 1270.9h70v9.4h-70zM1378.3 1435.9h11.6v18.6h-11.6zM1419.3 1435.9h6.2v18.6h-6.2zM1427.5 1435.9h30.8v18.6h-30.8zM1482.2 1435.9h3.4v18.6h-3.4zM1523.2 1435.9h19.8v18.6h-19.8zM1561.5 1435.9h11.6v18.6h-11.6zM1416.6 1453.8h3.4v18h-3.4zM1476.7 1471.1h3.4v18.4h-3.4zM1506.8 1471.1h3.4v18.4h-3.4zM1490.4 1488.8h3.4v18.6h-3.4zM1501.3 1488.8h6.2v18.6h-6.2zM1616.2 1488.8h6.2v18.6h-6.2zM1627.1 1488.8h3.4v18.6h-3.4zM1649 1488.8h3.4v18.6h-3.4zM1662.6 1506.7h224.9v11.8h-224.9z"/>
<path fill="#affa37" d="M1900.5 1270.9h3.4v9.4h-3.4zM1424.8 1435.9h3.4v18.6h-3.4zM1479.5 1435.9h3.4v18.6h-3.4zM1484.9 1435.9h3.4v18.6h-3.4zM1520.5 1435.9h3.4v18.6h-3.4zM1487.7 1453.8h3.4v18h-3.4zM1542.3 1453.8h3.4v18h-3.4zM1389.2 1471.1h3.4v18.4h-3.4zM1495.9 1471.1h6.2v18.4h-6.2zM1517.7 1471.1h3.4v18.4h-3.4zM1572.4 1471.1h3.4v18.4h-3.4zM1460.3 1488.8h3.4v18.6h-3.4zM1474 1488.8h3.4v18.6h-3.4zM1493.1 1488.8h3.4v18.6h-3.4zM1624.4 1488.8h3.4v18.6h-3.4zM1651.7 1488.8h3.4v18.6h-3.4zM1886.8 1506.7h8.9v11.8h-8.9z"/>
<path fill="#b9f635" d="M1895 1270.9h6.2v9.4h-6.2zM1259 1418h130.9v18.6h-130.9zM1457.6 1435.9h3.4v18.6h-3.4zM1558.7 1435.9h3.4v18.6h-3.4zM1476.7 1453.8h3.4v18h-3.4zM1495.9 1453.8h3.4v18h-3.4zM1506.8 1453.8h3.4v18h-3.4zM1490.4 1471.1h3.4v18.4h-3.4zM1501.3 1471.1h6.2v18.4h-6.2zM1638 1471.1h3.4v18.4h-3.4zM1471.3 1488.8h3.4v18.6h-3.4zM1509.5 1488.8h3.4v18.6h-3.4zM1545.1 1488.8h3.4v18.6h-3.4zM1556 1488.8h3.4v18.6h-3.4zM1621.6 1488.8h3.4v18.6h-3.4zM1654.4 1488.8h3.4v18.6h-3.4zM1895 1506.7h6.2v11.8h-6.2z"/>
<path fill="#c3f134" d="M1892.3 1270.9h3.4v9.4h-3.4zM1903.2 1279.7h70v9.4h-70zM1419.3 1418h39v18.6h-39zM1479.5 1418h8.9v18.6h-8.9zM1520.5 1418h22.6v18.6h-22.6zM1561.5 1418h11.6v18.6h-11.6zM1416.6 1435.9h3.4v18.6h-3.4zM1389.2 1453.8h3.4v18h-3.4zM1498.6 1453.8h3.4v18h-3.4zM1517.7 1453.8h3.4v18h-3.4zM1572.4 1453.8h3.4v18h-3.4zM1460.3 1471.1h3.4v18.4h-3.4zM1474 1471.1h3.4v18.4h-3.4zM1493.1 1471.1h3.4v18.4h-3.4zM1616.2 1471.1h6.2v18.4h-6.2zM1632.6 1471.1h6.2v18.4h-6.2zM1640.8 1471.1h3.4v18.4h-3.4zM1413.8 1488.8h3.4v18.6h-3.4zM1468.5 1488.8h3.4v18.6h-3.4zM1657.2 1488.8h3.4v18.6h-3.4zM1900.5 1506.7h72.7v11.8h-72.7z"/>
<path fill="#cdec34" d="M1886.8 1270.9h6.2v9.4h-6.2zM1897.8 1279.7h6.2v9.4h-6.2zM1906 1288.4h67.2v9.4h-67.2zM1487.7 1435.9h3.4v18.6h-3.4zM1542.3 1435.9h3.4v18.6h-3.4zM1490.4 1453.8h3.4v18h-3.4zM1501.3 1453.8h6.2v18h-6.2zM1509.5 1471.1h3.4v18.4h-3.4zM1556 1471.1h3.4v18.4h-3.4zM1629.8 1471.1h3.4v18.4h-3.4zM1643.5 1471.1h6.2v18.4h-6.2zM1392 1488.8h22.6v18.6h-22.6zM1463 1488.8h6.2v18.6h-6.2zM1512.3 1488.8h6.2v18.6h-6.2zM1547.8 1488.8h8.9v18.6h-8.9zM1575.1 1488.8h41.7v18.6h-41.7zM1659.9 1488.8h3.4v18.6h-3.4z"/>
<path fill="#d7e535" d="M1635.3 1270.9h252.2v9.4h-252.2zM1892.3 1279.7h6.2v9.4h-6.2zM1897.8 1288.4h8.9v9.4h-8.9zM1433 1403h22.6v15.7h-22.6zM1482.2 1403h3.4v15.7h-3.4zM1525.9 1403h6.2v15.7h-6.2zM1534.1 1403h6.2v15.7h-6.2zM1561.5 1403h11.6v15.7h-11.6zM1457.6 1418h3.4v18.6h-3.4zM1558.7 1418h3.4v18.6h-3.4zM1476.7 1435.9h3.4v18.6h-3.4zM1495.9 1435.9h3.4v18.6h-3.4zM1506.8 1435.9h3.4v18.6h-3.4zM1493.1 1453.8h3.4v18h-3.4zM1471.3 1471.1h3.4v18.4h-3.4zM1545.1 1471.1h3.4v18.4h-3.4zM1624.4 1471.1h6.2v18.4h-6.2zM1649 1471.1h3.4v18.4h-3.4zM1662.6 1488.8h224.9v18.6h-224.9z"/>
<path fill="#dfdf37" d="M1627.1 1270.9h8.9v9.4h-8.9zM1886.8 1279.7h6.2v9.4h-6.2zM1892.3 1288.4h6.2v9.4h-6.2zM1259 1403h130.9v15.7h-130.9zM1419.3 1403h14.4v15.7h-14.4zM1454.8 1403h3.4v15.7h-3.4zM1479.5 1403h3.4v15.7h-3.4zM1484.9 1403h3.4v15.7h-3.4zM1520.5 1403h6.2v15.7h-6.2zM1531.4 1403h3.4v15.7h-3.4zM1539.6 1403h3.4v15.7h-3.4zM1416.6 1418h3.4v18.6h-3.4zM1389.2 1435.9h3.4v18.6h-3.4zM1498.6 1435.9h3.4v18.6h-3.4zM1517.7 1435.9h3.4v18.6h-3.4zM1572.4 1435.9h3.4v18.6h-3.4zM1460.3 1453.8h3.4v18h-3.4zM1474 1453.8h3.4v18h-3.4zM1556 1453.8h3.4v18h-3.4zM1616.2 1453.8h6.2v18h-6.2zM1635.3 1453.8h8.9v18h-8.9zM1392 1471.1h25.3v18.4h-25.3zM1463 1471.1h8.9v18.4h-8.9zM1512.3 1471.1h6.2v18.4h-6.2zM1547.8 1471.1h8.9v18.4h-8.9zM1575.1 1471.1h25.3v18.4h-25.3zM1621.6 1471.1h3.4v18.4h-3.4zM1651.7 1471.1h3.4v18.4h-3.4zM1886.8 1488.8h6.2v18.6h-6.2z"/>
<path fill="#e7d739" d="M1621.6 1270.9h6.2v9.4h-6.2zM1632.6 1279.7h255v9.4h-255zM1886.8 1288.4h6.2v9.4h-6.2zM1419.3 1393.4h6.2v10.3h-6.2zM1427.5 1393.4h30.8v10.3h-30.8zM1482.2 1393.4h3.4v10.3h-3.4zM1523.2 1393.4h19.8v10.3h-19.8zM1561.5 1393.4h11.6v10.3h-11.6zM1487.7 1418h3.4v18.6h-3.4zM1542.3 1418h3.4v18.6h-3.4zM1490.4 1435.9h3.4v18.6h-3.4zM1501.3 1435.9h6.2v18.6h-6.2zM1471.3 1453.8h3.4v18h-3.4zM1509.5 1453.8h3.4v18h-3.4zM1545.1 1453.8h3.4v18h-3.4zM1632.6 1453.8h3.4v18h-3.4zM1643.5 1453.8h3.4v18h-3.4zM1599.8 1471.1h11.6v18.4h-11.6zM1613.4 1471.1h3.4v18.4h-3.4zM1654.4 1471.1h3.4v18.4h-3.4zM1892.3 1488.8h8.9v18.6h-8.9z"/>
<path fill="#eecf3a" d="M1610.7 1270.9h11.6v9.4h-11.6zM1621.6 1279.7h11.6v9.4h-11.6zM1627.1 1288.4h260.4v9.4h-260.4zM1892.3 1297.2h80.9v9.4h-80.9zM1665.4 1305.9h19.8v9.4h-19.8zM1750.1 1305.9h8.9v9.4h-8.9zM1383.8 1393.4h6.2v10.3h-6.2zM1424.8 1393.4h3.4v10.3h-3.4zM1479.5 1393.4h3.4v10.3h-3.4zM1484.9 1393.4h3.4v10.3h-3.4zM1520.5 1393.4h3.4v10.3h-3.4zM1457.6 1403h3.4v15.7h-3.4zM1558.7 1403h3.4v15.7h-3.4zM1476.7 1418h3.4v18.6h-3.4zM1506.8 1418h3.4v18.6h-3.4zM1493.1 1435.9h3.4v18.6h-3.4zM1413.8 1453.8h3.4v18h-3.4zM1627.1 1453.8h6.2v18h-6.2zM1646.2 1453.8h3.4v18h-3.4zM1610.7 1471.1h3.4v18.4h-3.4zM1657.2 1471.1h3.4v18.4h-3.4zM1900.5 1488.8h72.7v18.6h-72.7z"/>
<path fill="#f4c73a" d="M1416.6 1270.9h44.4v9.4h-44.4zM1476.7 1270.9h33.5v9.4h-33.5zM1517.7 1270.9h28v9.4h-28zM1558.7 1270.9h17.1v9.4h-17.1zM1599.8 1270.9h11.6v9.4h-11.6zM1605.2 1279.7h17.1v9.4h-17.1zM1610.7 1288.4h6.2v9.4h-6.2zM1618.9 1288.4h8.9v9.4h-8.9zM1629.8 1297.2h263.2v9.4h-263.2zM1659.9 1305.9h6.2v9.4h-6.2zM1684.5 1305.9h6.2v9.4h-6.2zM1744.7 1305.9h6.2v9.4h-6.2zM1758.3 1305.9h8.9v9.4h-8.9zM1419.3 1384.7h39v9.4h-39zM1479.5 1384.7h8.9v9.4h-8.9zM1523.2 1384.7h19.8v9.4h-19.8zM1561.5 1384.7h11.6v9.4h-11.6zM1259 1393.4h125.5v10.3h-125.5zM1457.6 1393.4h3.4v10.3h-3.4zM1558.7 1393.4h3.4v10.3h-3.4zM1416.6 1403h3.4v15.7h-3.4zM1389.2 1418h3.4v18.6h-3.4zM1495.9 1418h6.2v18.6h-6.2zM1517.7 1418h3.4v18.6h-3.4zM1572.4 1418h3.4v18.6h-3.4zM1460.3 1435.9h3.4v18.6h-3.4zM1474 1435.9h3.4v18.6h-3.4zM1616.2 1435.9h3.4v18.6h-3.4zM1392 1453.8h22.6v18h-22.6zM1463 1453.8h8.9v18h-8.9zM1512.3 1453.8h6.2v18h-6.2zM1547.8 1453.8h8.9v18h-8.9zM1575.1 1453.8h28v18h-28zM1621.6 1453.8h6.2v18h-6.2zM1649 1453.8h3.4v18h-3.4zM1659.9 1471.1h3.4v18.4h-3.4z"/>
<path fill="#f8be39" d="M1389.2 1270.9h28v9.4h-28zM1460.3 1270.9h17.1v9.4h-17.1zM1509.5 1270.9h8.9v9.4h-8.9zM1545.1 1270.9h14.4v9.4h-14.4zM1575.1 1270.9h25.3v9.4h-25.3zM1389.2 1279.7h216.7v9.4h-216.7zM1392 1288.4h28v9.4h-28zM1460.3 1288.4h19.8v9.4h-19.8zM1487.7 1288.4h33.5v9.4h-33.5zM1542.3 1288.4h17.1v9.4h-17.1zM1572.4 1288.4h39v9.4h-39zM1616.2 1288.4h3.4v9.4h-3.4zM1608 1297.2h8.9v9.4h-8.9zM1618.9 1297.2h11.6v9.4h-11.6zM1649 1305.9h11.6v9.4h-11.6zM1690 1305.9h11.6v9.4h-11.6zM1736.5 1305.9h8.9v9.4h-8.9zM1766.5 1305.9h8.9v9.4h-8.9zM1897.8 1305.9h75.4v9.4h-75.4zM1670.8 1314.7h8.9v9.4h-8.9zM1381 1384.7h8.9v9.4h-8.9zM1520.5 1384.7h3.4v9.4h-3.4zM1487.7 1403h3.4v15.7h-3.4zM1542.3 1403h3.4v15.7h-3.4zM1490.4 1418h3.4v18.6h-3.4zM1501.3 1418h6.2v18.6h-6.2zM1509.5 1435.9h3.4v18.6h-3.4zM1556 1435.9h3.4v18.6h-3.4zM1618.9 1435.9h3.4v18.6h-3.4zM1638 1435.9h3.4v18.6h-3.4zM1602.5 1453.8h8.9v18h-8.9zM1613.4 1453.8h3.4v18h-3.4zM1651.7 1453.8h3.4v18h-3.4zM1662.6 1471.1h224.9v18.4h-224.9z"/>
<path fill="#fbb637" d="M1383.8 1270.9h6.2v9.4h-6.2zM1383.8 1279.7h6.2v9.4h-6.2zM1389.2 1288.4h3.4v9.4h-3.4zM1419.3 1288.4h41.7v9.4h-41.7zM1479.5 1288.4h8.9v9.4h-8.9zM1520.5 1288.4h22.6v9.4h-22.6zM1558.7 1288.4h14.4v9.4h-14.4zM1392 1297.2h25.3v9.4h-25.3zM1460.3 1297.2h19.8v9.4h-19.8zM1490.4 1297.2h30.8v9.4h-30.8zM1545.1 1297.2h14.4v9.4h-14.4zM1572.4 1297.2h36.2v9.4h-36.2zM1616.2 1297.2h3.4v9.4h-3.4zM1627.1 1305.9h22.6v9.4h-22.6zM1700.9 1305.9h36.2v9.4h-36.2zM1774.7 1305.9h123.7v9.4h-123.7zM1662.6 1314.7h8.9v9.4h-8.9zM1679 1314.7h8.9v9.4h-8.9zM1747.4 1314.7h17.1v9.4h-17.1zM1419.3 1375.9h39v9.4h-39zM1479.5 1375.9h8.9v9.4h-8.9zM1520.5 1375.9h22.6v9.4h-22.6zM1561.5 1375.9h11.6v9.4h-11.6zM1259 1384.7h122.7v9.4h-122.7zM1457.6 1384.7h3.4v9.4h-3.4zM1558.7 1384.7h3.4v9.4h-3.4zM1416.6 1393.4h3.4v10.3h-3.4zM1476.7 1403h3.4v15.7h-3.4zM1506.8 1403h3.4v15.7h-3.4zM1471.3 1435.9h3.4v18.6h-3.4zM1545.1 1435.9h3.4v18.6h-3.4zM1632.6 1435.9h6.2v18.6h-6.2zM1640.8 1435.9h3.4v18.6h-3.4zM1610.7 1453.8h3.4v18h-3.4zM1654.4 1453.8h3.4v18h-3.4zM1886.8 1471.1h11.6v18.4h-11.6z"/>
<path fill="#fdac34" d="M1375.6 1270.9h8.9v9.4h-8.9zM1375.6 1279.7h8.9v9.4h-8.9zM1375.6 1288.4h14.4v9.4h-14.4zM1386.5 1297.2h6.2v9.4h-6.2zM1416.6 1297.2h44.4v9.4h-44.4zM1479.5 1297.2h11.6v9.4h-11.6zM1520.5 1297.2h25.3v9.4h-25.3zM1558.7 1297.2h14.4v9.4h-14.4zM1419.3 1305.9h39v9.4h-39zM1479.5 1305.9h8.9v9.4h-8.9zM1520.5 1305.9h22.6v9.4h-22.6zM1561.5 1305.9h11.6v9.4h-11.6zM1605.2 1305.9h22.6v9.4h-22.6zM1657.2 1314.7h6.2v9.4h-6.2zM1687.2 1314.7h6.2v9.4h-6.2zM1741.9 1314.7h6.2v9.4h-6.2zM1763.8 1314.7h6.2v9.4h-6.2zM1802.1 1314.7h17.1v9.4h-17.1zM1433 1349.7h22.6v9.4h-22.6zM1528.7 1349.7h3.4v9.4h-3.4zM1536.9 1349.7h3.4v9.4h-3.4zM1561.5 1349.7h11.6v9.4h-11.6zM1422 1358.4h3.4v9.4h-3.4zM1427.5 1358.4h30.8v9.4h-30.8zM1482.2 1358.4h3.4v9.4h-3.4zM1523.2 1358.4h17.1v9.4h-17.1zM1561.5 1358.4h11.6v9.4h-11.6zM1419.3 1367.2h39v9.4h-39zM1479.5 1367.2h8.9v9.4h-8.9zM1520.5 1367.2h22.6v9.4h-22.6zM1561.5 1367.2h11.6v9.4h-11.6zM1375.6 1375.9h14.4v9.4h-14.4zM1487.7 1393.4h3.4v10.3h-3.4zM1542.3 1393.4h3.4v10.3h-3.4zM1495.9 1403h3.4v15.7h-3.4zM1572.4 1403h3.4v15.7h-3.4zM1493.1 1418h3.4v18.6h-3.4zM1616.2 1418h3.4v18.6h-3.4zM1413.8 1435.9h3.4v18.6h-3.4zM1468.5 1435.9h3.4v18.6h-3.4zM1627.1 1435.9h6.2v18.6h-6.2zM1643.5 1435.9h3.4v18.6h-3.4zM1657.2 1453.8h3.4v18h-3.4zM1897.8 1471.1h75.4v18.4h-75.4z"/>
<path fill="#fea130" d="M1259 1270.9h117.3v9.4h-117.3zM1259 1279.7h117.3v9.4h-117.3zM1259 1288.4h117.3v9.4h-117.3zM1259 1297.2h128.2v9.4h-128.2zM1378.3 1305.9h41.7v9.4h-41.7zM1457.6 1305.9h22.6v9.4h-22.6zM1487.7 1305.9h33.5v9.4h-33.5zM1542.3 1305.9h19.8v9.4h-19.8zM1572.4 1305.9h33.5v9.4h-33.5zM1386.5 1314.7h3.4v9.4h-3.4zM1419.3 1314.7h41.7v9.4h-41.7zM1479.5 1314.7h8.9v9.4h-8.9zM1520.5 1314.7h22.6v9.4h-22.6zM1558.7 1314.7h14.4v9.4h-14.4zM1638 1314.7h19.8v9.4h-19.8zM1692.7 1314.7h49.9v9.4h-49.9zM1769.3 1314.7h33.5v9.4h-33.5zM1818.5 1314.7h154.7v9.4h-154.7zM1419.3 1323.4h39v9.4h-39zM1479.5 1323.4h8.9v9.4h-8.9zM1520.5 1323.4h22.6v9.4h-22.6zM1561.5 1323.4h11.6v9.4h-11.6zM1673.6 1323.4h3.4v9.4h-3.4zM1419.3 1332.2h39v9.4h-39zM1482.2 1332.2h3.4v9.4h-3.4zM1523.2 1332.2h19.8v9.4h-19.8zM1561.5 1332.2h11.6v9.4h-11.6zM1419.3 1340.9h39v9.4h-39zM1479.5 1340.9h8.9v9.4h-8.9zM1520.5 1340.9h22.6v9.4h-22.6zM1561.5 1340.9h11.6v9.4h-11.6zM1419.3 1349.7h14.4v9.4h-14.4zM1454.8 1349.7h3.4v9.4h-3.4zM1479.5 1349.7h8.9v9.4h-8.9zM1520.5 1349.7h8.9v9.4h-8.9zM1531.4 1349.7h6.2v9.4h-6.2zM1539.6 1349.7h3.4v9.4h-3.4zM1383.8 1358.4h6.2v9.4h-6.2zM1419.3 1358.4h3.4v9.4h-3.4zM1424.8 1358.4h3.4v9.4h-3.4zM1479.5 1358.4h3.4v9.4h-3.4zM1484.9 1358.4h3.4v9.4h-3.4zM1520.5 1358.4h3.4v9.4h-3.4zM1539.6 1358.4h3.4v9.4h-3.4zM1375.6 1367.2h14.4v9.4h-14.4zM1457.6 1367.2h3.4v9.4h-3.4zM1558.7 1367.2h3.4v9.4h-3.4zM1259 1375.9h117.3v9.4h-117.3zM1457.6 1375.9h3.4v9.4h-3.4zM1558.7 1375.9h3.4v9.4h-3.4zM1416.6 1384.7h3.4v9.4h-3.4zM1487.7 1384.7h3.4v9.4h-3.4zM1542.3 1384.7h3.4v9.4h-3.4zM1476.7 1393.4h3.4v10.3h-3.4zM1506.8 1393.4h3.4v10.3h-3.4zM1389.2 1403h3.4v15.7h-3.4zM1498.6 1403h6.2v15.7h-6.2zM1517.7 1403h3.4v15.7h-3.4zM1460.3 1418h3.4v18.6h-3.4zM1474 1418h3.4v18.6h-3.4zM1509.5 1418h3.4v18.6h-3.4zM1556 1418h3.4v18.6h-3.4zM1618.9 1418h3.4v18.6h-3.4zM1638 1418h3.4v18.6h-3.4zM1392 1435.9h22.6v18.6h-22.6zM1463 1435.9h6.2v18.6h-6.2zM1512.3 1435.9h6.2v18.6h-6.2zM1547.8 1435.9h8.9v18.6h-8.9zM1575.1 1435.9h30.8v18.6h-30.8zM1621.6 1435.9h6.2v18.6h-6.2zM1646.2 1435.9h3.4v18.6h-3.4zM1659.9 1453.8h3.4v18h-3.4z"/>
<path fill="#fe962b" d="M1259 1305.9h120v9.4h-120zM1259 1314.7h128.2v9.4h-128.2zM1416.6 1314.7h3.4v9.4h-3.4zM1476.7 1314.7h3.4v9.4h-3.4zM1487.7 1314.7h3.4v9.4h-3.4zM1495.9 1314.7h8.9v9.4h-8.9zM1506.8 1314.7h3.4v9.4h-3.4zM1517.7 1314.7h3.4v9.4h-3.4zM1542.3 1314.7h3.4v9.4h-3.4zM1572.4 1314.7h3.4v9.4h-3.4zM1616.2 1314.7h6.2v9.4h-6.2zM1624.4 1314.7h14.4v9.4h-14.4zM1381 1323.4h8.9v9.4h-8.9zM1457.6 1323.4h3.4v9.4h-3.4zM1558.7 1323.4h3.4v9.4h-3.4zM1665.4 1323.4h8.9v9.4h-8.9zM1676.3 1323.4h8.9v9.4h-8.9zM1750.1 1323.4h11.6v9.4h-11.6zM1383.8 1332.2h6.2v9.4h-6.2zM1457.6 1332.2h3.4v9.4h-3.4zM1479.5 1332.2h3.4v9.4h-3.4zM1484.9 1332.2h3.4v9.4h-3.4zM1520.5 1332.2h3.4v9.4h-3.4zM1558.7 1332.2h3.4v9.4h-3.4zM1381 1340.9h8.9v9.4h-8.9zM1457.6 1340.9h3.4v9.4h-3.4zM1558.7 1340.9h3.4v9.4h-3.4zM1378.3 1349.7h11.6v9.4h-11.6zM1457.6 1349.7h3.4v9.4h-3.4zM1558.7 1349.7h3.4v9.4h-3.4zM1259 1358.4h125.5v9.4h-125.5zM1457.6 1358.4h3.4v9.4h-3.4zM1558.7 1358.4h3.4v9.4h-3.4zM1259 1367.2h117.3v9.4h-117.3zM1416.6 1375.9h3.4v9.4h-3.4zM1495.9 1393.4h3.4v10.3h-3.4zM1572.4 1393.4h3.4v10.3h-3.4zM1490.4 1403h3.4v15.7h-3.4zM1504.1 1403h3.4v15.7h-3.4zM1471.3 1418h3.4v18.6h-3.4zM1545.1 1418h3.4v18.6h-3.4zM1632.6 1418h6.2v18.6h-6.2zM1640.8 1418h6.2v18.6h-6.2zM1605.2 1435.9h6.2v18.6h-6.2zM1613.4 1435.9h3.4v18.6h-3.4zM1649 1435.9h3.4v18.6h-3.4zM1662.6 1453.8h224.9v18h-224.9z"/>
<path fill="#fd8a26" d="M1389.2 1314.7h3.4v9.4h-3.4zM1460.3 1314.7h3.4v9.4h-3.4zM1471.3 1314.7h6.2v9.4h-6.2zM1490.4 1314.7h6.2v9.4h-6.2zM1504.1 1314.7h3.4v9.4h-3.4zM1509.5 1314.7h3.4v9.4h-3.4zM1556 1314.7h3.4v9.4h-3.4zM1608 1314.7h8.9v9.4h-8.9zM1621.6 1314.7h3.4v9.4h-3.4zM1259 1323.4h122.7v9.4h-122.7zM1416.6 1323.4h3.4v9.4h-3.4zM1487.7 1323.4h3.4v9.4h-3.4zM1506.8 1323.4h3.4v9.4h-3.4zM1542.3 1323.4h3.4v9.4h-3.4zM1657.2 1323.4h8.9v9.4h-8.9zM1684.5 1323.4h8.9v9.4h-8.9zM1744.7 1323.4h6.2v9.4h-6.2zM1761.1 1323.4h6.2v9.4h-6.2zM1804.8 1323.4h11.6v9.4h-11.6zM1259 1332.2h125.5v9.4h-125.5zM1416.6 1332.2h3.4v9.4h-3.4zM1542.3 1332.2h3.4v9.4h-3.4zM1259 1340.9h122.7v9.4h-122.7zM1416.6 1340.9h3.4v9.4h-3.4zM1259 1349.7h120v9.4h-120zM1416.6 1367.2h3.4v9.4h-3.4zM1487.7 1375.9h3.4v9.4h-3.4zM1542.3 1375.9h3.4v9.4h-3.4zM1476.7 1384.7h3.4v9.4h-3.4zM1495.9 1384.7h3.4v9.4h-3.4zM1506.8 1384.7h3.4v9.4h-3.4zM1572.4 1384.7h3.4v9.4h-3.4zM1389.2 1393.4h3.4v10.3h-3.4zM1498.6 1393.4h6.2v10.3h-6.2zM1517.7 1393.4h3.4v10.3h-3.4zM1493.1 1403h3.4v15.7h-3.4zM1616.2 1403h3.4v15.7h-3.4zM1413.8 1418h3.4v18.6h-3.4zM1627.1 1418h6.2v18.6h-6.2zM1646.2 1418h3.4v18.6h-3.4zM1610.7 1435.9h3.4v18.6h-3.4zM1651.7 1435.9h6.2v18.6h-6.2zM1886.8 1453.8h8.9v18h-8.9z"/>
<path fill="#fb7e21" d="M1392 1314.7h25.3v9.4h-25.3zM1463 1314.7h8.9v9.4h-8.9zM1512.3 1314.7h6.2v9.4h-6.2zM1545.1 1314.7h11.6v9.4h-11.6zM1575.1 1314.7h33.5v9.4h-33.5zM1476.7 1323.4h3.4v9.4h-3.4zM1490.4 1323.4h3.4v9.4h-3.4zM1495.9 1323.4h11.6v9.4h-11.6zM1517.7 1323.4h3.4v9.4h-3.4zM1572.4 1323.4h3.4v9.4h-3.4zM1616.2 1323.4h3.4v9.4h-3.4zM1646.2 1323.4h11.6v9.4h-11.6zM1692.7 1323.4h6.2v9.4h-6.2zM1739.2 1323.4h6.2v9.4h-6.2zM1766.5 1323.4h14.4v9.4h-14.4zM1796.6 1323.4h8.9v9.4h-8.9zM1815.7 1323.4h8.9v9.4h-8.9zM1889.6 1323.4h83.6v9.4h-83.6zM1476.7 1332.2h3.4v9.4h-3.4zM1487.7 1332.2h3.4v9.4h-3.4zM1506.8 1332.2h3.4v9.4h-3.4zM1668.1 1332.2h14.4v9.4h-14.4zM1487.7 1340.9h3.4v9.4h-3.4zM1542.3 1340.9h3.4v9.4h-3.4zM1416.6 1349.7h3.4v9.4h-3.4zM1487.7 1349.7h3.4v9.4h-3.4zM1542.3 1349.7h3.4v9.4h-3.4zM1416.6 1358.4h3.4v9.4h-3.4zM1487.7 1358.4h3.4v9.4h-3.4zM1542.3 1358.4h3.4v9.4h-3.4zM1487.7 1367.2h3.4v9.4h-3.4zM1542.3 1367.2h3.4v9.4h-3.4zM1476.7 1375.9h3.4v9.4h-3.4zM1506.8 1375.9h3.4v9.4h-3.4zM1498.6 1384.7h3.4v9.4h-3.4zM1517.7 1384.7h3.4v9.4h-3.4zM1490.4 1393.4h3.4v10.3h-3.4zM1504.1 1393.4h3.4v10.3h-3.4zM1616.2 1393.4h3.4v10.3h-3.4zM1460.3 1403h3.4v15.7h-3.4zM1474 1403h3.4v15.7h-3.4zM1468.5 1418h3.4v18.6h-3.4zM1515 1418h3.4v18.6h-3.4zM1624.4 1418h3.4v18.6h-3.4zM1649 1418h3.4v18.6h-3.4zM1657.2 1435.9h3.4v18.6h-3.4zM1895 1453.8h6.2v18h-6.2z"/>
<path fill="#f8721c" d="M1389.2 1323.4h3.4v9.4h-3.4zM1460.3 1323.4h3.4v9.4h-3.4zM1474 1323.4h3.4v9.4h-3.4zM1493.1 1323.4h3.4v9.4h-3.4zM1618.9 1323.4h3.4v9.4h-3.4zM1627.1 1323.4h19.8v9.4h-19.8zM1698.2 1323.4h6.2v9.4h-6.2zM1733.7 1323.4h6.2v9.4h-6.2zM1780.2 1323.4h17.1v9.4h-17.1zM1823.9 1323.4h66.3v9.4h-66.3zM1495.9 1332.2h8.9v9.4h-8.9zM1517.7 1332.2h3.4v9.4h-3.4zM1572.4 1332.2h3.4v9.4h-3.4zM1616.2 1332.2h3.4v9.4h-3.4zM1662.6 1332.2h6.2v9.4h-6.2zM1681.8 1332.2h6.2v9.4h-6.2zM1747.4 1332.2h17.1v9.4h-17.1zM1807.5 1332.2h6.2v9.4h-6.2zM1476.7 1340.9h3.4v9.4h-3.4zM1495.9 1340.9h3.4v9.4h-3.4zM1506.8 1340.9h3.4v9.4h-3.4zM1572.4 1340.9h3.4v9.4h-3.4zM1476.7 1349.7h3.4v9.4h-3.4zM1506.8 1349.7h3.4v9.4h-3.4zM1476.7 1358.4h3.4v9.4h-3.4zM1506.8 1358.4h3.4v9.4h-3.4zM1476.7 1367.2h3.4v9.4h-3.4zM1495.9 1367.2h3.4v9.4h-3.4zM1506.8 1367.2h3.4v9.4h-3.4zM1495.9 1375.9h3.4v9.4h-3.4zM1572.4 1375.9h3.4v9.4h-3.4zM1389.2 1384.7h3.4v9.4h-3.4zM1490.4 1384.7h3.4v9.4h-3.4zM1501.3 1384.7h6.2v9.4h-6.2zM1616.2 1384.7h3.4v9.4h-3.4zM1493.1 1393.4h3.4v10.3h-3.4zM1509.5 1403h3.4v15.7h-3.4zM1556 1403h3.4v15.7h-3.4zM1618.9 1403h3.4v15.7h-3.4zM1392 1418h22.6v18.6h-22.6zM1463 1418h6.2v18.6h-6.2zM1512.3 1418h3.4v18.6h-3.4zM1547.8 1418h8.9v18.6h-8.9zM1575.1 1418h33.5v18.6h-33.5zM1613.4 1418h3.4v18.6h-3.4zM1621.6 1418h3.4v18.6h-3.4zM1651.7 1418h3.4v18.6h-3.4zM1659.9 1435.9h3.4v18.6h-3.4zM1900.5 1453.8h72.7v18h-72.7z"/>
<path fill="#f46617" d="M1471.3 1323.4h3.4v9.4h-3.4zM1509.5 1323.4h3.4v9.4h-3.4zM1545.1 1323.4h3.4v9.4h-3.4zM1556 1323.4h3.4v9.4h-3.4zM1610.7 1323.4h6.2v9.4h-6.2zM1621.6 1323.4h6.2v9.4h-6.2zM1703.6 1323.4h6.2v9.4h-6.2zM1731 1323.4h3.4v9.4h-3.4zM1389.2 1332.2h3.4v9.4h-3.4zM1490.4 1332.2h6.2v9.4h-6.2zM1504.1 1332.2h3.4v9.4h-3.4zM1657.2 1332.2h6.2v9.4h-6.2zM1687.2 1332.2h8.9v9.4h-8.9zM1741.9 1332.2h6.2v9.4h-6.2zM1763.8 1332.2h8.9v9.4h-8.9zM1802.1 1332.2h6.2v9.4h-6.2zM1813 1332.2h3.4v9.4h-3.4zM1389.2 1340.9h3.4v9.4h-3.4zM1490.4 1340.9h3.4v9.4h-3.4zM1498.6 1340.9h8.9v9.4h-8.9zM1517.7 1340.9h3.4v9.4h-3.4zM1495.9 1349.7h6.2v9.4h-6.2zM1517.7 1349.7h3.4v9.4h-3.4zM1572.4 1349.7h3.4v9.4h-3.4zM1495.9 1358.4h6.2v9.4h-6.2zM1572.4 1358.4h3.4v9.4h-3.4zM1498.6 1367.2h3.4v9.4h-3.4zM1517.7 1367.2h3.4v9.4h-3.4zM1572.4 1367.2h3.4v9.4h-3.4zM1389.2 1375.9h3.4v9.4h-3.4zM1498.6 1375.9h6.2v9.4h-6.2zM1517.7 1375.9h3.4v9.4h-3.4zM1616.2 1375.9h3.4v9.4h-3.4zM1460.3 1393.4h3.4v10.3h-3.4zM1474 1393.4h3.4v10.3h-3.4zM1618.9 1393.4h3.4v10.3h-3.4zM1471.3 1403h3.4v15.7h-3.4zM1545.1 1403h3.4v15.7h-3.4zM1608 1418h6.2v18.6h-6.2zM1654.4 1418h3.4v18.6h-3.4zM1662.6 1435.9h3.4v18.6h-3.4z"/>
<path fill="#f05b12" d="M1392 1323.4h25.3v9.4h-25.3zM1463 1323.4h8.9v9.4h-8.9zM1512.3 1323.4h6.2v9.4h-6.2zM1547.8 1323.4h8.9v9.4h-8.9zM1575.1 1323.4h36.2v9.4h-36.2zM1709.1 1323.4h3.4v9.4h-3.4zM1728.2 1323.4h3.4v9.4h-3.4zM1460.3 1332.2h3.4v9.4h-3.4zM1474 1332.2h3.4v9.4h-3.4zM1509.5 1332.2h3.4v9.4h-3.4zM1556 1332.2h3.4v9.4h-3.4zM1618.9 1332.2h3.4v9.4h-3.4zM1651.7 1332.2h6.2v9.4h-6.2zM1695.4 1332.2h6.2v9.4h-6.2zM1736.5 1332.2h6.2v9.4h-6.2zM1772 1332.2h30.8v9.4h-30.8zM1815.7 1332.2h3.4v9.4h-3.4zM1864.9 1332.2h108.3v9.4h-108.3zM1493.1 1340.9h3.4v9.4h-3.4zM1616.2 1340.9h3.4v9.4h-3.4zM1668.1 1340.9h14.4v9.4h-14.4zM1389.2 1349.7h3.4v9.4h-3.4zM1490.4 1349.7h3.4v9.4h-3.4zM1501.3 1349.7h6.2v9.4h-6.2zM1616.2 1349.7h3.4v9.4h-3.4zM1389.2 1358.4h3.4v9.4h-3.4zM1490.4 1358.4h3.4v9.4h-3.4zM1501.3 1358.4h6.2v9.4h-6.2zM1517.7 1358.4h3.4v9.4h-3.4zM1616.2 1358.4h3.4v9.4h-3.4zM1389.2 1367.2h3.4v9.4h-3.4zM1490.4 1367.2h3.4v9.4h-3.4zM1501.3 1367.2h6.2v9.4h-6.2zM1616.2 1367.2h3.4v9.4h-3.4zM1490.4 1375.9h3.4v9.4h-3.4zM1504.1 1375.9h3.4v9.4h-3.4zM1493.1 1384.7h3.4v9.4h-3.4zM1618.9 1384.7h3.4v9.4h-3.4zM1509.5 1393.4h3.4v10.3h-3.4zM1556 1393.4h3.4v10.3h-3.4zM1413.8 1403h3.4v15.7h-3.4zM1657.2 1418h3.4v18.6h-3.4zM1665.4 1435.9h224.9v18.6h-224.9z"/>
<path fill="#eb500e" d="M1711.8 1323.4h3.4v9.4h-3.4zM1725.5 1323.4h3.4v9.4h-3.4zM1413.8 1332.2h3.4v9.4h-3.4zM1471.3 1332.2h3.4v9.4h-3.4zM1545.1 1332.2h3.4v9.4h-3.4zM1613.4 1332.2h3.4v9.4h-3.4zM1649 1332.2h3.4v9.4h-3.4zM1700.9 1332.2h6.2v9.4h-6.2zM1733.7 1332.2h3.4v9.4h-3.4zM1818.5 1332.2h3.4v9.4h-3.4zM1859.5 1332.2h6.2v9.4h-6.2zM1460.3 1340.9h3.4v9.4h-3.4zM1474 1340.9h3.4v9.4h-3.4zM1509.5 1340.9h3.4v9.4h-3.4zM1556 1340.9h3.4v9.4h-3.4zM1618.9 1340.9h3.4v9.4h-3.4zM1659.9 1340.9h8.9v9.4h-8.9zM1681.8 1340.9h8.9v9.4h-8.9zM1744.7 1340.9h19.8v9.4h-19.8zM1807.5 1340.9h6.2v9.4h-6.2zM1493.1 1349.7h3.4v9.4h-3.4zM1493.1 1375.9h3.4v9.4h-3.4zM1618.9 1375.9h3.4v9.4h-3.4zM1460.3 1384.7h3.4v9.4h-3.4zM1474 1384.7h3.4v9.4h-3.4zM1556 1384.7h3.4v9.4h-3.4zM1471.3 1393.4h3.4v10.3h-3.4zM1545.1 1393.4h3.4v10.3h-3.4zM1392 1403h22.6v15.7h-22.6zM1463 1403h8.9v15.7h-8.9zM1512.3 1403h6.2v15.7h-6.2zM1547.8 1403h8.9v15.7h-8.9zM1575.1 1403h25.3v15.7h-25.3zM1613.4 1403h3.4v15.7h-3.4zM1659.9 1418h3.4v18.6h-3.4zM1889.6 1435.9h3.4v18.6h-3.4z"/>
<path fill="#e5470b" d="M1714.6 1323.4h11.6v9.4h-11.6zM1392 1332.2h22.6v9.4h-22.6zM1463 1332.2h8.9v9.4h-8.9zM1512.3 1332.2h6.2v9.4h-6.2zM1547.8 1332.2h8.9v9.4h-8.9zM1575.1 1332.2h39v9.4h-39zM1621.6 1332.2h8.9v9.4h-8.9zM1643.5 1332.2h6.2v9.4h-6.2zM1706.4 1332.2h3.4v9.4h-3.4zM1731 1332.2h3.4v9.4h-3.4zM1821.2 1332.2h6.2v9.4h-6.2zM1837.6 1332.2h14.4v9.4h-14.4zM1856.7 1332.2h3.4v9.4h-3.4zM1471.3 1340.9h3.4v9.4h-3.4zM1545.1 1340.9h3.4v9.4h-3.4zM1654.4 1340.9h6.2v9.4h-6.2zM1690 1340.9h6.2v9.4h-6.2zM1741.9 1340.9h3.4v9.4h-3.4zM1763.8 1340.9h6.2v9.4h-6.2zM1802.1 1340.9h6.2v9.4h-6.2zM1813 1340.9h3.4v9.4h-3.4zM1460.3 1349.7h3.4v9.4h-3.4zM1474 1349.7h3.4v9.4h-3.4zM1556 1349.7h3.4v9.4h-3.4zM1618.9 1349.7h3.4v9.4h-3.4zM1474 1358.4h3.4v9.4h-3.4zM1493.1 1358.4h3.4v9.4h-3.4zM1618.9 1358.4h3.4v9.4h-3.4zM1493.1 1367.2h3.4v9.4h-3.4zM1618.9 1367.2h3.4v9.4h-3.4zM1460.3 1375.9h3.4v9.4h-3.4zM1474 1375.9h3.4v9.4h-3.4zM1509.5 1384.7h3.4v9.4h-3.4zM1413.8 1393.4h3.4v10.3h-3.4zM1599.8 1403h14.4v15.7h-14.4zM1662.6 1418h227.6v18.6h-227.6zM1892.3 1435.9h6.2v18.6h-6.2z"/>
<path fill="#df3f08" d="M1629.8 1332.2h14.4v9.4h-14.4zM1709.1 1332.2h3.4v9.4h-3.4zM1725.5 1332.2h6.2v9.4h-6.2zM1826.7 1332.2h11.6v9.4h-11.6zM1851.3 1332.2h6.2v9.4h-6.2zM1413.8 1340.9h3.4v9.4h-3.4zM1468.5 1340.9h3.4v9.4h-3.4zM1613.4 1340.9h3.4v9.4h-3.4zM1651.7 1340.9h3.4v9.4h-3.4zM1695.4 1340.9h8.9v9.4h-8.9zM1736.5 1340.9h6.2v9.4h-6.2zM1769.3 1340.9h6.2v9.4h-6.2zM1796.6 1340.9h6.2v9.4h-6.2zM1815.7 1340.9h3.4v9.4h-3.4zM1862.2 1340.9h22.6v9.4h-22.6zM1897.8 1340.9h75.4v9.4h-75.4zM1471.3 1349.7h3.4v9.4h-3.4zM1509.5 1349.7h3.4v9.4h-3.4zM1545.1 1349.7h3.4v9.4h-3.4zM1802.1 1349.7h14.4v9.4h-14.4zM1460.3 1358.4h3.4v9.4h-3.4zM1509.5 1358.4h3.4v9.4h-3.4zM1556 1358.4h3.4v9.4h-3.4zM1460.3 1367.2h3.4v9.4h-3.4zM1474 1367.2h3.4v9.4h-3.4zM1509.5 1367.2h3.4v9.4h-3.4zM1556 1367.2h3.4v9.4h-3.4zM1659.9 1367.2h36.2v9.4h-36.2zM1744.7 1367.2h25.3v9.4h-25.3zM1804.8 1367.2h6.2v9.4h-6.2zM1867.7 1367.2h14.4v9.4h-14.4zM1903.2 1367.2h70v9.4h-70zM1509.5 1375.9h3.4v9.4h-3.4zM1556 1375.9h3.4v9.4h-3.4zM1632.6 1375.9h71.8v9.4h-71.8zM1736.5 1375.9h39v9.4h-39zM1796.6 1375.9h22.6v9.4h-22.6zM1862.2 1375.9h25.3v9.4h-25.3zM1897.8 1375.9h75.4v9.4h-75.4zM1471.3 1384.7h3.4v9.4h-3.4zM1545.1 1384.7h3.4v9.4h-3.4zM1627.1 1384.7h260.4v9.4h-260.4zM1900.5 1384.7h72.7v9.4h-72.7zM1468.5 1393.4h3.4v10.3h-3.4zM1515 1393.4h3.4v10.3h-3.4zM1613.4 1393.4h3.4v10.3h-3.4zM1627.1 1393.4h255v10.3h-255zM1621.6 1403h14.4v15.7h-14.4zM1889.6 1418h8.9v18.6h-8.9zM1897.8 1435.9h6.2v18.6h-6.2z"/>
<path fill="#d83706" d="M1711.8 1332.2h6.2v9.4h-6.2zM1722.8 1332.2h3.4v9.4h-3.4zM1392 1340.9h22.6v9.4h-22.6zM1463 1340.9h6.2v9.4h-6.2zM1512.3 1340.9h6.2v9.4h-6.2zM1547.8 1340.9h8.9v9.4h-8.9zM1575.1 1340.9h39v9.4h-39zM1621.6 1340.9h6.2v9.4h-6.2zM1646.2 1340.9h6.2v9.4h-6.2zM1703.6 1340.9h3.4v9.4h-3.4zM1733.7 1340.9h3.4v9.4h-3.4zM1774.7 1340.9h6.2v9.4h-6.2zM1793.9 1340.9h3.4v9.4h-3.4zM1818.5 1340.9h6.2v9.4h-6.2zM1843.1 1340.9h3.4v9.4h-3.4zM1859.5 1340.9h3.4v9.4h-3.4zM1884.1 1340.9h3.4v9.4h-3.4zM1895 1340.9h3.4v9.4h-3.4zM1413.8 1349.7h3.4v9.4h-3.4zM1613.4 1349.7h3.4v9.4h-3.4zM1657.2 1349.7h39v9.4h-39zM1744.7 1349.7h25.3v9.4h-25.3zM1799.3 1349.7h3.4v9.4h-3.4zM1815.7 1349.7h3.4v9.4h-3.4zM1864.9 1349.7h17.1v9.4h-17.1zM1900.5 1349.7h72.7v9.4h-72.7zM1471.3 1358.4h3.4v9.4h-3.4zM1545.1 1358.4h3.4v9.4h-3.4zM1657.2 1358.4h39v9.4h-39zM1744.7 1358.4h25.3v9.4h-25.3zM1802.1 1358.4h11.6v9.4h-11.6zM1864.9 1358.4h17.1v9.4h-17.1zM1900.5 1358.4h72.7v9.4h-72.7zM1471.3 1367.2h3.4v9.4h-3.4zM1545.1 1367.2h3.4v9.4h-3.4zM1649 1367.2h11.6v9.4h-11.6zM1695.4 1367.2h8.9v9.4h-8.9zM1736.5 1367.2h8.9v9.4h-8.9zM1769.3 1367.2h8.9v9.4h-8.9zM1793.9 1367.2h11.6v9.4h-11.6zM1810.3 1367.2h11.6v9.4h-11.6zM1859.5 1367.2h8.9v9.4h-8.9zM1881.4 1367.2h6.2v9.4h-6.2zM1897.8 1367.2h6.2v9.4h-6.2zM1471.3 1375.9h3.4v9.4h-3.4zM1545.1 1375.9h3.4v9.4h-3.4zM1613.4 1375.9h3.4v9.4h-3.4zM1621.6 1375.9h11.6v9.4h-11.6zM1703.6 1375.9h3.4v9.4h-3.4zM1733.7 1375.9h3.4v9.4h-3.4zM1774.7 1375.9h6.2v9.4h-6.2zM1791.1 1375.9h6.2v9.4h-6.2zM1818.5 1375.9h6.2v9.4h-6.2zM1840.3 1375.9h8.9v9.4h-8.9zM1859.5 1375.9h3.4v9.4h-3.4zM1886.8 1375.9h3.4v9.4h-3.4zM1895 1375.9h3.4v9.4h-3.4zM1413.8 1384.7h3.4v9.4h-3.4zM1468.5 1384.7h3.4v9.4h-3.4zM1613.4 1384.7h3.4v9.4h-3.4zM1621.6 1384.7h6.2v9.4h-6.2zM1886.8 1384.7h3.4v9.4h-3.4zM1895 1384.7h6.2v9.4h-6.2zM1392 1393.4h22.6v10.3h-22.6zM1463 1393.4h6.2v10.3h-6.2zM1512.3 1393.4h3.4v10.3h-3.4zM1547.8 1393.4h8.9v10.3h-8.9zM1575.1 1393.4h39v10.3h-39zM1621.6 1393.4h6.2v10.3h-6.2zM1881.4 1393.4h6.2v10.3h-6.2zM1897.8 1393.4h22.6v10.3h-22.6zM1960.6 1393.4h12.6v10.3h-12.6zM1635.3 1403h252.2v15.7h-252.2zM1897.8 1418h11.6v18.6h-11.6zM1971.6 1418h1.6v18.6h-1.6zM1903.2 1435.9h17.1v18.6h-17.1zM1960.6 1435.9h12.6v18.6h-12.6z"/>
<path fill="#d02f05" d="M1717.3 1332.2h6.2v9.4h-6.2zM1627.1 1340.9h6.2v9.4h-6.2zM1643.5 1340.9h3.4v9.4h-3.4zM1706.4 1340.9h3.4v9.4h-3.4zM1731 1340.9h3.4v9.4h-3.4zM1780.2 1340.9h3.4v9.4h-3.4zM1788.4 1340.9h6.2v9.4h-6.2zM1823.9 1340.9h3.4v9.4h-3.4zM1837.6 1340.9h6.2v9.4h-6.2zM1845.8 1340.9h6.2v9.4h-6.2zM1856.7 1340.9h3.4v9.4h-3.4zM1886.8 1340.9h8.9v9.4h-8.9zM1392 1349.7h22.6v9.4h-22.6zM1463 1349.7h8.9v9.4h-8.9zM1512.3 1349.7h6.2v9.4h-6.2zM1547.8 1349.7h8.9v9.4h-8.9zM1575.1 1349.7h39v9.4h-39zM1621.6 1349.7h3.4v9.4h-3.4zM1649 1349.7h8.9v9.4h-8.9zM1695.4 1349.7h11.6v9.4h-11.6zM1733.7 1349.7h11.6v9.4h-11.6zM1769.3 1349.7h8.9v9.4h-8.9zM1793.9 1349.7h6.2v9.4h-6.2zM1818.5 1349.7h3.4v9.4h-3.4zM1859.5 1349.7h6.2v9.4h-6.2zM1881.4 1349.7h6.2v9.4h-6.2zM1897.8 1349.7h3.4v9.4h-3.4zM1413.8 1358.4h3.4v9.4h-3.4zM1613.4 1358.4h3.4v9.4h-3.4zM1649 1358.4h8.9v9.4h-8.9zM1695.4 1358.4h11.6v9.4h-11.6zM1733.7 1358.4h11.6v9.4h-11.6zM1769.3 1358.4h8.9v9.4h-8.9zM1793.9 1358.4h8.9v9.4h-8.9zM1813 1358.4h8.9v9.4h-8.9zM1859.5 1358.4h6.2v9.4h-6.2zM1881.4 1358.4h6.2v9.4h-6.2zM1897.8 1358.4h3.4v9.4h-3.4zM1413.8 1367.2h3.4v9.4h-3.4zM1613.4 1367.2h3.4v9.4h-3.4zM1621.6 1367.2h3.4v9.4h-3.4zM1646.2 1367.2h3.4v9.4h-3.4zM1703.6 1367.2h6.2v9.4h-6.2zM1731 1367.2h6.2v9.4h-6.2zM1777.5 1367.2h6.2v9.4h-6.2zM1791.1 1367.2h3.4v9.4h-3.4zM1821.2 1367.2h3.4v9.4h-3.4zM1840.3 1367.2h11.6v9.4h-11.6zM1856.7 1367.2h3.4v9.4h-3.4zM1886.8 1367.2h3.4v9.4h-3.4zM1895 1367.2h3.4v9.4h-3.4zM1413.8 1375.9h3.4v9.4h-3.4zM1468.5 1375.9h3.4v9.4h-3.4zM1608 1375.9h6.2v9.4h-6.2zM1706.4 1375.9h6.2v9.4h-6.2zM1728.2 1375.9h6.2v9.4h-6.2zM1780.2 1375.9h11.6v9.4h-11.6zM1823.9 1375.9h3.4v9.4h-3.4zM1837.6 1375.9h3.4v9.4h-3.4zM1848.5 1375.9h11.6v9.4h-11.6zM1889.6 1375.9h6.2v9.4h-6.2zM1392 1384.7h22.6v9.4h-22.6zM1463 1384.7h6.2v9.4h-6.2zM1512.3 1384.7h6.2v9.4h-6.2zM1547.8 1384.7h8.9v9.4h-8.9zM1575.1 1384.7h39v9.4h-39zM1889.6 1384.7h6.2v9.4h-6.2zM1886.8 1393.4h3.4v10.3h-3.4zM1895 1393.4h3.4v10.3h-3.4zM1919.6 1393.4h41.7v10.3h-41.7zM1897.8 1403h28v15.7h-28zM1955.2 1403h18v15.7h-18zM1908.7 1418h25.3v18.6h-25.3zM1947 1418h25.3v18.6h-25.3zM1919.6 1435.9h41.7v18.6h-41.7z"/>
<path fill="#c82803" d="M1632.6 1340.9h11.6v9.4h-11.6zM1709.1 1340.9h6.2v9.4h-6.2zM1725.5 1340.9h6.2v9.4h-6.2zM1782.9 1340.9h6.2v9.4h-6.2zM1826.7 1340.9h11.6v9.4h-11.6zM1851.3 1340.9h6.2v9.4h-6.2zM1624.4 1349.7h6.2v9.4h-6.2zM1646.2 1349.7h3.4v9.4h-3.4zM1706.4 1349.7h3.4v9.4h-3.4zM1731 1349.7h3.4v9.4h-3.4zM1777.5 1349.7h6.2v9.4h-6.2zM1791.1 1349.7h3.4v9.4h-3.4zM1821.2 1349.7h3.4v9.4h-3.4zM1840.3 1349.7h11.6v9.4h-11.6zM1856.7 1349.7h3.4v9.4h-3.4zM1886.8 1349.7h3.4v9.4h-3.4zM1895 1349.7h3.4v9.4h-3.4zM1392 1358.4h22.6v9.4h-22.6zM1463 1358.4h8.9v9.4h-8.9zM1512.3 1358.4h6.2v9.4h-6.2zM1547.8 1358.4h8.9v9.4h-8.9zM1575.1 1358.4h39v9.4h-39zM1621.6 1358.4h8.9v9.4h-8.9zM1646.2 1358.4h3.4v9.4h-3.4zM1706.4 1358.4h3.4v9.4h-3.4zM1731 1358.4h3.4v9.4h-3.4zM1777.5 1358.4h6.2v9.4h-6.2zM1791.1 1358.4h3.4v9.4h-3.4zM1821.2 1358.4h3.4v9.4h-3.4zM1840.3 1358.4h11.6v9.4h-11.6zM1856.7 1358.4h3.4v9.4h-3.4zM1886.8 1358.4h3.4v9.4h-3.4zM1895 1358.4h3.4v9.4h-3.4zM1468.5 1367.2h3.4v9.4h-3.4zM1515 1367.2h3.4v9.4h-3.4zM1602.5 1367.2h11.6v9.4h-11.6zM1624.4 1367.2h8.9v9.4h-8.9zM1640.8 1367.2h6.2v9.4h-6.2zM1709.1 1367.2h3.4v9.4h-3.4zM1728.2 1367.2h3.4v9.4h-3.4zM1782.9 1367.2h8.9v9.4h-8.9zM1823.9 1367.2h6.2v9.4h-6.2zM1834.9 1367.2h6.2v9.4h-6.2zM1851.3 1367.2h6.2v9.4h-6.2zM1889.6 1367.2h6.2v9.4h-6.2zM1392 1375.9h22.6v9.4h-22.6zM1463 1375.9h6.2v9.4h-6.2zM1512.3 1375.9h6.2v9.4h-6.2zM1547.8 1375.9h8.9v9.4h-8.9zM1575.1 1375.9h33.5v9.4h-33.5zM1711.8 1375.9h3.4v9.4h-3.4zM1725.5 1375.9h3.4v9.4h-3.4zM1826.7 1375.9h11.6v9.4h-11.6zM1889.6 1393.4h6.2v10.3h-6.2zM1886.8 1403h11.6v15.7h-11.6zM1925.1 1403h30.8v15.7h-30.8zM1933.3 1418h14.4v18.6h-14.4z"/>
<path fill="#be2102" d="M1714.6 1340.9h3.4v9.4h-3.4zM1720 1340.9h6.2v9.4h-6.2zM1629.8 1349.7h6.2v9.4h-6.2zM1640.8 1349.7h6.2v9.4h-6.2zM1709.1 1349.7h3.4v9.4h-3.4zM1728.2 1349.7h3.4v9.4h-3.4zM1782.9 1349.7h8.9v9.4h-8.9zM1823.9 1349.7h6.2v9.4h-6.2zM1834.9 1349.7h6.2v9.4h-6.2zM1851.3 1349.7h6.2v9.4h-6.2zM1889.6 1349.7h6.2v9.4h-6.2zM1629.8 1358.4h6.2v9.4h-6.2zM1640.8 1358.4h6.2v9.4h-6.2zM1709.1 1358.4h3.4v9.4h-3.4zM1728.2 1358.4h3.4v9.4h-3.4zM1782.9 1358.4h8.9v9.4h-8.9zM1823.9 1358.4h6.2v9.4h-6.2zM1834.9 1358.4h6.2v9.4h-6.2zM1851.3 1358.4h6.2v9.4h-6.2zM1889.6 1358.4h6.2v9.4h-6.2zM1392 1367.2h22.6v9.4h-22.6zM1463 1367.2h6.2v9.4h-6.2zM1512.3 1367.2h3.4v9.4h-3.4zM1547.8 1367.2h8.9v9.4h-8.9zM1575.1 1367.2h28v9.4h-28zM1632.6 1367.2h8.9v9.4h-8.9zM1711.8 1367.2h6.2v9.4h-6.2zM1722.8 1367.2h6.2v9.4h-6.2zM1829.4 1367.2h6.2v9.4h-6.2zM1714.6 1375.9h11.6v9.4h-11.6z"/>
<path fill="#b41b01" d="M1717.3 1340.9h3.4v9.4h-3.4zM1635.3 1349.7h6.2v9.4h-6.2zM1711.8 1349.7h6.2v9.4h-6.2zM1722.8 1349.7h6.2v9.4h-6.2zM1829.4 1349.7h6.2v9.4h-6.2zM1635.3 1358.4h6.2v9.4h-6.2zM1711.8 1358.4h6.2v9.4h-6.2zM1722.8 1358.4h6.2v9.4h-6.2zM1829.4 1358.4h6.2v9.4h-6.2zM1717.3 1367.2h6.2v9.4h-6.2z"/>
<path fill="#a91601" d="M1717.3 1349.7h6.2v9.4h-6.2zM1717.3 1358.4h6.2v9.4h-6.2z"/>
<path fill="#000" fill-opacity="0.05" d="M1275.4 1270.9h1.4V1518.5h-1.4zM1280.9 1270.9h1.4V1518.5h-1.4zM1286.3 1270.9h1.4V1518.5h-1.4zM1289.1 1270.9h1.4V1518.5h-1.4zM1291.8 1270.9h1.4V1518.5h-1.4zM1294.5 1270.9h1.4V1518.5h-1.4zM1312.3 1270.9h1.4V1518.5h-1.4zM1319.1 1270.9h1.4V1518.5h-1.4zM1327.3 1270.9h1.4V1518.5h-1.4zM1328.7 1270.9h1.4V1518.5h-1.4zM1330.1 1270.9h1.4V1518.5h-1.4zM1335.6 1270.9h1.4V1518.5h-1.4zM1361.5 1270.9h1.4V1518.5h-1.4zM1368.4 1270.9h1.4V1518.5h-1.4zM1371.1 1270.9h1.4V1518.5h-1.4zM1377.9 1270.9h1.4V1518.5h-1.4zM1384.8 1270.9h1.4V1518.5h-1.4zM1390.2 1270.9h1.4V1518.5h-1.4zM1393 1270.9h1.4V1518.5h-1.4zM1395.7 1270.9h1.4V1518.5h-1.4zM1401.2 1270.9h1.4V1518.5h-1.4zM1413.5 1270.9h1.4V1518.5h-1.4zM1420.3 1270.9h1.4V1518.5h-1.4zM1439.4 1270.9h1.4V1518.5h-1.4zM1444.9 1270.9h1.4V1518.5h-1.4zM1451.7 1270.9h1.4V1518.5h-1.4zM1464 1270.9h1.4V1518.5h-1.4zM1470.9 1270.9h1.4V1518.5h-1.4zM1483.2 1270.9h1.4V1518.5h-1.4zM1490 1270.9h1.4V1518.5h-1.4zM1492.8 1270.9h1.4V1518.5h-1.4zM1498.2 1270.9h1.4V1518.5h-1.4zM1537.9 1270.9h1.4V1518.5h-1.4zM1547.4 1270.9h1.4V1518.5h-1.4zM1570.7 1270.9h1.4V1518.5h-1.4zM1573.4 1270.9h1.4V1518.5h-1.4zM1576.1 1270.9h1.4V1518.5h-1.4zM1584.3 1270.9h1.4V1518.5h-1.4zM1588.4 1270.9h1.4V1518.5h-1.4zM1614.4 1270.9h1.4V1518.5h-1.4zM1615.8 1270.9h1.4V1518.5h-1.4zM1622.6 1270.9h1.4V1518.5h-1.4zM1625.4 1270.9h1.4V1518.5h-1.4zM1626.7 1270.9h1.4V1518.5h-1.4zM1628.1 1270.9h1.4V1518.5h-1.4zM1633.6 1270.9h1.4V1518.5h-1.4zM1645.9 1270.9h1.4V1518.5h-1.4zM1659.5 1270.9h1.4V1518.5h-1.4zM1675.9 1270.9h1.4V1518.5h-1.4zM1681.4 1270.9h1.4V1518.5h-1.4zM1704.6 1270.9h1.4V1518.5h-1.4zM1707.4 1270.9h1.4V1518.5h-1.4zM1719.7 1270.9h1.4V1518.5h-1.4zM1737.5 1270.9h1.4V1518.5h-1.4zM1740.2 1270.9h1.4V1518.5h-1.4zM1749.8 1270.9h1.4V1518.5h-1.4zM1751.1 1270.9h1.4V1518.5h-1.4zM1752.5 1270.9h1.4V1518.5h-1.4zM1771.6 1270.9h1.4V1518.5h-1.4zM1778.5 1270.9h1.4V1518.5h-1.4zM1779.8 1270.9h1.4V1518.5h-1.4zM1786.7 1270.9h1.4V1518.5h-1.4zM1796.2 1270.9h1.4V1518.5h-1.4zM1805.8 1270.9h1.4V1518.5h-1.4zM1814 1270.9h1.4V1518.5h-1.4zM1822.2 1270.9h1.4V1518.5h-1.4zM1837.2 1270.9h1.4V1518.5h-1.4zM1841.3 1270.9h1.4V1518.5h-1.4zM1842.7 1270.9h1.4V1518.5h-1.4zM1865.9 1270.9h1.4V1518.5h-1.4zM1867.3 1270.9h1.4V1518.5h-1.4zM1875.5 1270.9h1.4V1518.5h-1.4zM1881 1270.9h1.4V1518.5h-1.4zM1885.1 1270.9h1.4V1518.5h-1.4zM1917.9 1270.9h1.4V1518.5h-1.4zM1922 1270.9h1.4V1518.5h-1.4zM1924.7 1270.9h1.4V1518.5h-1.4zM1931.6 1270.9h1.4V1518.5h-1.4zM1937 1270.9h1.4V1518.5h-1.4zM1942.5 1270.9h1.4V1518.5h-1.4zM1945.2 1270.9h1.4V1518.5h-1.4zM1949.3 1270.9h1.4V1518.5h-1.4zM1952.1 1270.9h1.4V1518.5h-1.4zM1960.3 1270.9h1.4V1518.5h-1.4zM1963 1270.9h1.4V1518.5h-1.4zM1965.7 1270.9h1.4V1518.5h-1.4z"/>
<path fill="#000" fill-opacity="0.1" d="M1259 1270.9h1.4V1518.5h-1.4zM1282.2 1270.9h1.4V1518.5h-1.4zM1290.4 1270.9h1.4V1518.5h-1.4zM1309.6 1270.9h1.4V1518.5h-1.4zM1342.4 1270.9h1.4V1518.5h-1.4zM1346.5 1270.9h1.4V1518.5h-1.4zM1350.6 1270.9h1.4V1518.5h-1.4zM1360.2 1270.9h1.4V1518.5h-1.4zM1372.5 1270.9h1.4V1518.5h-1.4zM1405.3 1270.9h1.4V1518.5h-1.4zM1406.6 1270.9h1.4V1518.5h-1.4zM1409.4 1270.9h1.4V1518.5h-1.4zM1427.1 1270.9h1.4V1518.5h-1.4zM1434 1270.9h1.4V1518.5h-1.4zM1443.5 1270.9h1.4V1518.5h-1.4zM1484.6 1270.9h1.4V1518.5h-1.4zM1485.9 1270.9h1.4V1518.5h-1.4zM1487.3 1270.9h1.4V1518.5h-1.4zM1506.4 1270.9h1.4V1518.5h-1.4zM1516 1270.9h1.4V1518.5h-1.4zM1528.3 1270.9h1.4V1518.5h-1.4zM1532.4 1270.9h1.4V1518.5h-1.4zM1533.8 1270.9h1.4V1518.5h-1.4zM1548.8 1270.9h1.4V1518.5h-1.4zM1566.6 1270.9h1.4V1518.5h-1.4zM1587.1 1270.9h1.4V1518.5h-1.4zM1604.9 1270.9h1.4V1518.5h-1.4zM1606.2 1270.9h1.4V1518.5h-1.4zM1613.1 1270.9h1.4V1518.5h-1.4zM1617.2 1270.9h1.4V1518.5h-1.4zM1654.1 1270.9h1.4V1518.5h-1.4zM1656.8 1270.9h1.4V1518.5h-1.4zM1665 1270.9h1.4V1518.5h-1.4zM1695.1 1270.9h1.4V1518.5h-1.4zM1696.4 1270.9h1.4V1518.5h-1.4zM1716.9 1270.9h1.4V1518.5h-1.4zM1722.4 1270.9h1.4V1518.5h-1.4zM1729.2 1270.9h1.4V1518.5h-1.4zM1745.7 1270.9h1.4V1518.5h-1.4zM1755.2 1270.9h1.4V1518.5h-1.4zM1764.8 1270.9h1.4V1518.5h-1.4zM1773 1270.9h1.4V1518.5h-1.4zM1792.1 1270.9h1.4V1518.5h-1.4zM1800.3 1270.9h1.4V1518.5h-1.4zM1830.4 1270.9h1.4V1518.5h-1.4zM1857.7 1270.9h1.4V1518.5h-1.4zM1868.7 1270.9h1.4V1518.5h-1.4zM1882.4 1270.9h1.4V1518.5h-1.4zM1897.4 1270.9h1.4V1518.5h-1.4zM1908.3 1270.9h1.4V1518.5h-1.4z"/>
<path fill="#fff" fill-opacity="0.05" d="M1271.3 1270.9h1.4V1518.5h-1.4zM1272.7 1270.9h1.4V1518.5h-1.4zM1279.5 1270.9h1.4V1518.5h-1.4zM1285 1270.9h1.4V1518.5h-1.4zM1295.9 1270.9h1.4V1518.5h-1.4zM1315 1270.9h1.4V1518.5h-1.4zM1320.5 1270.9h1.4V1518.5h-1.4zM1326 1270.9h1.4V1518.5h-1.4zM1336.9 1270.9h1.4V1518.5h-1.4zM1343.8 1270.9h1.4V1518.5h-1.4zM1347.9 1270.9h1.4V1518.5h-1.4zM1352 1270.9h1.4V1518.5h-1.4zM1364.3 1270.9h1.4V1518.5h-1.4zM1365.6 1270.9h1.4V1518.5h-1.4zM1373.8 1270.9h1.4V1518.5h-1.4zM1375.2 1270.9h1.4V1518.5h-1.4zM1379.3 1270.9h1.4V1518.5h-1.4zM1386.1 1270.9h1.4V1518.5h-1.4zM1391.6 1270.9h1.4V1518.5h-1.4zM1399.8 1270.9h1.4V1518.5h-1.4zM1428.5 1270.9h1.4V1518.5h-1.4zM1440.8 1270.9h1.4V1518.5h-1.4zM1455.8 1270.9h1.4V1518.5h-1.4zM1457.2 1270.9h1.4V1518.5h-1.4zM1465.4 1270.9h1.4V1518.5h-1.4zM1468.2 1270.9h1.4V1518.5h-1.4zM1469.5 1270.9h1.4V1518.5h-1.4zM1475 1270.9h1.4V1518.5h-1.4zM1476.4 1270.9h1.4V1518.5h-1.4zM1481.8 1270.9h1.4V1518.5h-1.4zM1496.9 1270.9h1.4V1518.5h-1.4zM1502.3 1270.9h1.4V1518.5h-1.4zM1517.4 1270.9h1.4V1518.5h-1.4zM1518.7 1270.9h1.4V1518.5h-1.4zM1540.6 1270.9h1.4V1518.5h-1.4zM1542 1270.9h1.4V1518.5h-1.4zM1544.7 1270.9h1.4V1518.5h-1.4zM1562.5 1270.9h1.4V1518.5h-1.4zM1574.8 1270.9h1.4V1518.5h-1.4zM1578.9 1270.9h1.4V1518.5h-1.4zM1580.2 1270.9h1.4V1518.5h-1.4zM1583 1270.9h1.4V1518.5h-1.4zM1592.5 1270.9h1.4V1518.5h-1.4zM1593.9 1270.9h1.4V1518.5h-1.4zM1595.3 1270.9h1.4V1518.5h-1.4zM1598 1270.9h1.4V1518.5h-1.4zM1607.6 1270.9h1.4V1518.5h-1.4zM1630.8 1270.9h1.4V1518.5h-1.4zM1636.3 1270.9h1.4V1518.5h-1.4zM1643.1 1270.9h1.4V1518.5h-1.4zM1658.2 1270.9h1.4V1518.5h-1.4zM1662.3 1270.9h1.4V1518.5h-1.4zM1666.4 1270.9h1.4V1518.5h-1.4zM1667.7 1270.9h1.4V1518.5h-1.4zM1677.3 1270.9h1.4V1518.5h-1.4zM1688.2 1270.9h1.4V1518.5h-1.4zM1689.6 1270.9h1.4V1518.5h-1.4zM1691 1270.9h1.4V1518.5h-1.4zM1700.5 1270.9h1.4V1518.5h-1.4zM1711.5 1270.9h1.4V1518.5h-1.4zM1712.8 1270.9h1.4V1518.5h-1.4zM1715.6 1270.9h1.4V1518.5h-1.4zM1723.8 1270.9h1.4V1518.5h-1.4zM1732 1270.9h1.4V1518.5h-1.4zM1742.9 1270.9h1.4V1518.5h-1.4zM1762.1 1270.9h1.4V1518.5h-1.4zM1774.4 1270.9h1.4V1518.5h-1.4zM1781.2 1270.9h1.4V1518.5h-1.4zM1790.8 1270.9h1.4V1518.5h-1.4zM1809.9 1270.9h1.4V1518.5h-1.4zM1812.6 1270.9h1.4V1518.5h-1.4zM1819.5 1270.9h1.4V1518.5h-1.4zM1820.8 1270.9h1.4V1518.5h-1.4zM1835.9 1270.9h1.4V1518.5h-1.4zM1845.4 1270.9h1.4V1518.5h-1.4zM1846.8 1270.9h1.4V1518.5h-1.4zM1848.2 1270.9h1.4V1518.5h-1.4zM1852.3 1270.9h1.4V1518.5h-1.4zM1864.6 1270.9h1.4V1518.5h-1.4zM1894.7 1270.9h1.4V1518.5h-1.4zM1907 1270.9h1.4V1518.5h-1.4zM1916.5 1270.9h1.4V1518.5h-1.4zM1938.4 1270.9h1.4V1518.5h-1.4zM1946.6 1270.9h1.4V1518.5h-1.4zM1968.5 1270.9h1.4V1518.5h-1.4z"/>
<path fill="#fff" fill-opacity="0.1" d="M1263.1 1270.9h1.4V1518.5h-1.4zM1278.1 1270.9h1.4V1518.5h-1.4zM1310.9 1270.9h1.4V1518.5h-1.4zM1324.6 1270.9h1.4V1518.5h-1.4zM1341 1270.9h1.4V1518.5h-1.4zM1367 1270.9h1.4V1518.5h-1.4zM1369.7 1270.9h1.4V1518.5h-1.4zM1398.4 1270.9h1.4V1518.5h-1.4zM1410.7 1270.9h1.4V1518.5h-1.4zM1412.1 1270.9h1.4V1518.5h-1.4zM1423 1270.9h1.4V1518.5h-1.4zM1450.4 1270.9h1.4V1518.5h-1.4zM1505.1 1270.9h1.4V1518.5h-1.4zM1511.9 1270.9h1.4V1518.5h-1.4zM1513.3 1270.9h1.4V1518.5h-1.4zM1521.5 1270.9h1.4V1518.5h-1.4zM1522.8 1270.9h1.4V1518.5h-1.4zM1535.1 1270.9h1.4V1518.5h-1.4zM1539.2 1270.9h1.4V1518.5h-1.4zM1543.3 1270.9h1.4V1518.5h-1.4zM1551.5 1270.9h1.4V1518.5h-1.4zM1558.4 1270.9h1.4V1518.5h-1.4zM1561.1 1270.9h1.4V1518.5h-1.4zM1567.9 1270.9h1.4V1518.5h-1.4zM1632.2 1270.9h1.4V1518.5h-1.4zM1640.4 1270.9h1.4V1518.5h-1.4zM1663.6 1270.9h1.4V1518.5h-1.4zM1674.6 1270.9h1.4V1518.5h-1.4zM1686.9 1270.9h1.4V1518.5h-1.4zM1697.8 1270.9h1.4V1518.5h-1.4zM1710.1 1270.9h1.4V1518.5h-1.4zM1726.5 1270.9h1.4V1518.5h-1.4zM1730.6 1270.9h1.4V1518.5h-1.4zM1736.1 1270.9h1.4V1518.5h-1.4zM1747 1270.9h1.4V1518.5h-1.4zM1753.9 1270.9h1.4V1518.5h-1.4zM1766.2 1270.9h1.4V1518.5h-1.4zM1767.5 1270.9h1.4V1518.5h-1.4zM1782.6 1270.9h1.4V1518.5h-1.4zM1785.3 1270.9h1.4V1518.5h-1.4zM1826.3 1270.9h1.4V1518.5h-1.4zM1829 1270.9h1.4V1518.5h-1.4zM1834.5 1270.9h1.4V1518.5h-1.4zM1844.1 1270.9h1.4V1518.5h-1.4zM1849.5 1270.9h1.4V1518.5h-1.4zM1850.9 1270.9h1.4V1518.5h-1.4zM1859.1 1270.9h1.4V1518.5h-1.4zM1860.5 1270.9h1.4V1518.5h-1.4zM1879.6 1270.9h1.4V1518.5h-1.4zM1886.5 1270.9h1.4V1518.5h-1.4zM1889.2 1270.9h1.4V1518.5h-1.4zM1893.3 1270.9h1.4V1518.5h-1.4zM1905.6 1270.9h1.4V1518.5h-1.4zM1912.4 1270.9h1.4V1518.5h-1.4zM1953.4 1270.9h1.4V1518.5h-1.4zM1958.9 1270.9h1.4V1518.5h-1.4zM1961.6 1270.9h1.4V1518.5h-1.4z"/>
<path fill="#25e0c0" fill-opacity="0.6" d="M1262.1 1435.9h1.4v17.9h-1.4zM1264.8 1435.9h1.4v17.9h-1.4zM1281.2 1435.9h1.4v17.9h-1.4zM1284 1435.9h1.4v17.9h-1.4zM1286.7 1435.9h1.4v17.9h-1.4zM1288.1 1435.9h1.4v17.9h-1.4zM1300.4 1435.9h1.4v17.9h-1.4zM1304.5 1435.9h1.4v17.9h-1.4zM1338.7 1435.9h1.4v17.9h-1.4zM1349.6 1435.9h1.4v17.9h-1.4zM1352.3 1435.9h1.4v17.9h-1.4zM1385.1 1435.9h1.4v17.9h-1.4zM1258 1453.8h1.4v17.3h-1.4zM1263.5 1453.8h1.4v17.3h-1.4zM1278.5 1453.8h1.4v17.3h-1.4zM1290.8 1453.8h1.4v17.3h-1.4zM1312.7 1453.8h1.4v17.3h-1.4zM1323.6 1453.8h1.4v17.3h-1.4zM1344.1 1453.8h1.4v17.3h-1.4zM1374.2 1453.8h1.4v17.3h-1.4zM1376.9 1453.8h1.4v17.3h-1.4zM1449.4 1453.8h1.4v17.3h-1.4zM1458.9 1453.8h1.4v17.3h-1.4zM1486.3 1453.8h1.4v17.3h-1.4zM1530 1453.8h1.4v17.3h-1.4zM1318.1 1471.1h1.4v17.7h-1.4zM1333.2 1471.1h1.4v17.7h-1.4zM1353.7 1471.1h1.4v17.7h-1.4zM1366 1471.1h1.4v17.7h-1.4zM1378.3 1471.1h1.4v17.7h-1.4zM1416.6 1471.1h1.4v17.7h-1.4zM1438.4 1471.1h1.4v17.7h-1.4zM1457.6 1471.1h1.4v17.7h-1.4zM1532.8 1471.1h1.4v17.7h-1.4zM1568.3 1471.1h1.4v17.7h-1.4zM1569.7 1471.1h1.4v17.7h-1.4zM1258 1488.8h1.4v17.9h-1.4zM1268.9 1488.8h1.4v17.9h-1.4zM1273 1488.8h1.4v17.9h-1.4zM1290.8 1488.8h1.4v17.9h-1.4zM1307.2 1488.8h1.4v17.9h-1.4zM1320.9 1488.8h1.4v17.9h-1.4zM1322.2 1488.8h1.4v17.9h-1.4zM1329.1 1488.8h1.4v17.9h-1.4zM1353.7 1488.8h1.4v17.9h-1.4zM1359.2 1488.8h1.4v17.9h-1.4zM1361.9 1488.8h1.4v17.9h-1.4zM1367.4 1488.8h1.4v17.9h-1.4zM1386.5 1488.8h1.4v17.9h-1.4zM1458.9 1488.8h1.4v17.9h-1.4zM1566.9 1488.8h1.4v17.9h-1.4zM1640.8 1488.8h1.4v17.9h-1.4zM1297.6 1506.7h1.4v11.8h-1.4zM1304.5 1506.7h1.4v11.8h-1.4zM1309.9 1506.7h1.4v11.8h-1.4zM1319.5 1506.7h1.4v11.8h-1.4zM1330.5 1506.7h1.4v11.8h-1.4zM1333.2 1506.7h1.4v11.8h-1.4zM1348.2 1506.7h1.4v11.8h-1.4zM1352.3 1506.7h1.4v11.8h-1.4zM1357.8 1506.7h1.4v11.8h-1.4zM1371.5 1506.7h1.4v11.8h-1.4zM1376.9 1506.7h1.4v11.8h-1.4zM1386.5 1506.7h1.4v11.8h-1.4zM1413.8 1506.7h1.4v11.8h-1.4zM1423.4 1506.7h1.4v11.8h-1.4zM1424.8 1506.7h1.4v11.8h-1.4zM1478.1 1506.7h1.4v11.8h-1.4zM1491.8 1506.7h1.4v11.8h-1.4zM1508.2 1506.7h1.4v11.8h-1.4zM1519.1 1506.7h1.4v11.8h-1.4zM1520.5 1506.7h1.4v11.8h-1.4zM1535.5 1506.7h1.4v11.8h-1.4zM1564.2 1506.7h1.4v11.8h-1.4zM1583.3 1506.7h1.4v11.8h-1.4zM1598.4 1506.7h1.4v11.8h-1.4zM1612.1 1506.7h1.4v11.8h-1.4zM1631.2 1506.7h1.4v11.8h-1.4zM1640.8 1506.7h1.4v11.8h-1.4zM1647.6 1506.7h1.4v11.8h-1.4zM1658.5 1506.7h1.4v11.8h-1.4z"/>
<path fill="#2fb6f0" fill-opacity="0.6" d="M1266.2 1435.9h1.4v17.9h-1.4zM1277.1 1435.9h1.4v17.9h-1.4zM1294.9 1453.8h1.4v17.3h-1.4zM1331.8 1453.8h1.4v17.3h-1.4zM1342.8 1453.8h1.4v17.3h-1.4zM1382.4 1453.8h1.4v17.3h-1.4zM1457.6 1453.8h1.4v17.3h-1.4zM1372.8 1471.1h1.4v17.7h-1.4zM1458.9 1471.1h1.4v17.7h-1.4zM1524.6 1471.1h1.4v17.7h-1.4zM1564.2 1471.1h1.4v17.7h-1.4zM1262.1 1488.8h1.4v17.9h-1.4zM1389.2 1488.8h1.4v17.9h-1.4zM1390.6 1488.8h1.4v17.9h-1.4zM1456.2 1488.8h1.4v17.9h-1.4zM1527.3 1488.8h1.4v17.9h-1.4zM1535.5 1488.8h1.4v17.9h-1.4zM1561.5 1488.8h1.4v17.9h-1.4zM1331.8 1506.7h1.4v11.8h-1.4zM1483.6 1506.7h1.4v11.8h-1.4zM1484.9 1506.7h1.4v11.8h-1.4zM1509.5 1506.7h1.4v11.8h-1.4zM1531.4 1506.7h1.4v11.8h-1.4zM1575.1 1506.7h1.4v11.8h-1.4z"/>
<path fill="#7cf86a" fill-opacity="0.6" d="M1263.5 1435.9h1.4v17.9h-1.4zM1282.6 1435.9h1.4v17.9h-1.4zM1290.8 1435.9h1.4v17.9h-1.4zM1299 1435.9h1.4v17.9h-1.4zM1303.1 1435.9h1.4v17.9h-1.4zM1305.8 1435.9h1.4v17.9h-1.4zM1316.8 1435.9h1.4v17.9h-1.4zM1323.6 1435.9h1.4v17.9h-1.4zM1327.7 1435.9h1.4v17.9h-1.4zM1344.1 1435.9h1.4v17.9h-1.4zM1264.8 1453.8h1.4v17.3h-1.4zM1300.4 1453.8h1.4v17.3h-1.4zM1314 1453.8h1.4v17.3h-1.4zM1327.7 1453.8h1.4v17.3h-1.4zM1346.9 1453.8h1.4v17.3h-1.4zM1349.6 1453.8h1.4v17.3h-1.4zM1352.3 1453.8h1.4v17.3h-1.4zM1367.4 1453.8h1.4v17.3h-1.4zM1368.7 1453.8h1.4v17.3h-1.4zM1371.5 1453.8h1.4v17.3h-1.4zM1427.5 1453.8h1.4v17.3h-1.4zM1430.2 1453.8h1.4v17.3h-1.4zM1433 1453.8h1.4v17.3h-1.4zM1484.9 1453.8h1.4v17.3h-1.4zM1541 1453.8h1.4v17.3h-1.4zM1565.6 1453.8h1.4v17.3h-1.4zM1260.7 1471.1h1.4v17.7h-1.4zM1275.8 1471.1h1.4v17.7h-1.4zM1284 1471.1h1.4v17.7h-1.4zM1290.8 1471.1h1.4v17.7h-1.4zM1315.4 1471.1h1.4v17.7h-1.4zM1331.8 1471.1h1.4v17.7h-1.4zM1335.9 1471.1h1.4v17.7h-1.4zM1340 1471.1h1.4v17.7h-1.4zM1357.8 1471.1h1.4v17.7h-1.4zM1371.5 1471.1h1.4v17.7h-1.4zM1383.8 1471.1h1.4v17.7h-1.4zM1385.1 1471.1h1.4v17.7h-1.4zM1442.5 1471.1h1.4v17.7h-1.4zM1480.8 1471.1h1.4v17.7h-1.4zM1523.2 1471.1h1.4v17.7h-1.4zM1543.7 1471.1h1.4v17.7h-1.4zM1325 1488.8h1.4v17.9h-1.4zM1330.5 1488.8h1.4v17.9h-1.4zM1334.6 1488.8h1.4v17.9h-1.4zM1340 1488.8h1.4v17.9h-1.4zM1346.9 1488.8h1.4v17.9h-1.4zM1355.1 1488.8h1.4v17.9h-1.4zM1366 1488.8h1.4v17.9h-1.4zM1438.4 1488.8h1.4v17.9h-1.4zM1453.5 1488.8h1.4v17.9h-1.4zM1482.2 1488.8h1.4v17.9h-1.4zM1502.7 1488.8h1.4v17.9h-1.4zM1508.2 1488.8h1.4v17.9h-1.4zM1520.5 1488.8h1.4v17.9h-1.4zM1524.6 1488.8h1.4v17.9h-1.4zM1539.6 1488.8h1.4v17.9h-1.4zM1560.1 1488.8h1.4v17.9h-1.4zM1647.6 1488.8h1.4v17.9h-1.4zM1289.4 1506.7h1.4v11.8h-1.4zM1290.8 1506.7h1.4v11.8h-1.4zM1296.3 1506.7h1.4v11.8h-1.4zM1307.2 1506.7h1.4v11.8h-1.4zM1341.4 1506.7h1.4v11.8h-1.4zM1351 1506.7h1.4v11.8h-1.4zM1389.2 1506.7h1.4v11.8h-1.4zM1396.1 1506.7h1.4v11.8h-1.4zM1397.4 1506.7h1.4v11.8h-1.4zM1411.1 1506.7h1.4v11.8h-1.4zM1412.5 1506.7h1.4v11.8h-1.4zM1417.9 1506.7h1.4v11.8h-1.4zM1422 1506.7h1.4v11.8h-1.4zM1443.9 1506.7h1.4v11.8h-1.4zM1448 1506.7h1.4v11.8h-1.4zM1467.2 1506.7h1.4v11.8h-1.4zM1471.3 1506.7h1.4v11.8h-1.4zM1472.6 1506.7h1.4v11.8h-1.4zM1475.4 1506.7h1.4v11.8h-1.4zM1476.7 1506.7h1.4v11.8h-1.4zM1480.8 1506.7h1.4v11.8h-1.4zM1500 1506.7h1.4v11.8h-1.4zM1513.6 1506.7h1.4v11.8h-1.4zM1521.8 1506.7h1.4v11.8h-1.4zM1530 1506.7h1.4v11.8h-1.4zM1551.9 1506.7h1.4v11.8h-1.4zM1568.3 1506.7h1.4v11.8h-1.4zM1573.8 1506.7h1.4v11.8h-1.4zM1580.6 1506.7h1.4v11.8h-1.4zM1605.2 1506.7h1.4v11.8h-1.4zM1628.5 1506.7h1.4v11.8h-1.4zM1646.2 1506.7h1.4v11.8h-1.4zM1655.8 1506.7h1.4v11.8h-1.4z"/>
</g>
<g id="text_90">
<text style="font-size: 18.2px; font-family: 'DejaVu Sans'; text-anchor: middle" x="572.02963" y="393.799527" transform="rotate(-0 572.02963 393.799527)">(i)</text>
</g>
<g id="matplotlib.axis_23">
<g id="xtick_51">
<g id="line2d_239">
<g>
<use href="#m1504cfccaf" x="372.82963" y="450.222222" style="stroke: #000000; stroke-width: 0.8"/>
</g>
</g>
<g id="text_91">
<text style="font-size: 10px; font-family: 'DejaVu Sans'; text-anchor: middle" x="372.82963" y="464.82066" transform="rotate(-0 372.82963 464.82066)">11:45</text>
</g>
</g>
<g id="xtick_52">
<g id="line2d_240">
<g>
<use href="#m1504cfccaf" x="413.333333" y="450.222222" style="stroke: #000000; stroke-width: 0.8"/>
</g>
</g>
<g id="text_92">
<text style="font-size: 10px; font-family: 'DejaVu Sans'; text-anchor: middle" x="413.333333" y="464.82066" transform="rotate(-0 413.333333 464.82066)">11:50</text>
</g>
</g>
<g id="xtick_53">
<g id="line2d_241">
<g>
<use href="#m1504cfccaf" x="453.837037" y="450.222222" style="stroke: #000000; stroke-width: 0.8"/>
</g>
</g>
<g id="text_93">
<text style="font-size: 10px; font-family: 'DejaVu Sans'; text-anchor: middle" x="453.837037" y="464.82066" transform="rotate(-0 453.837037 464.82066)">11:55</text>
</g>
</g>
<g id="xtick_54">
<g id="line2d_242">
<g>
<use href="#m1504cfccaf" x="494.340741" y="450.222222" style="stroke: #000000; stroke-width: 0.8"/>
</g>
</g>
<g id="text_94">
<text style="font-size: 10px; font-family: 'DejaVu Sans'; text-anchor: middle" x="494.340741" y="464.82066" transform="rotate(-0 494.340741 464.82066)">12:00</text>
</g>
</g>
<g id="xtick_55">
<g id="line2d_243">
<g>
<use href="#m1504cfccaf" x="534.844444" y="450.222222" style="stroke: #000000; stroke-width: 0.8"/>
</g>
</g>
<g id="text_95">
<text style="font-size: 10px; font-family: 'DejaVu Sans'; text-anchor: middle" x="534.844444" y="464.82066" transform="rotate(-0 534.844444 464.82066)">12:05</text>
</g>
</g>
<g id="xtick_56">
<g id="line2d_244">
<g>
<use href="#m1504cfccaf" x="575.348148" y="450.222222" style="stroke: #000000; stroke-width: 0.8"/>
</g>
</g>
<g id="text_96">
<text style="font-size: 10px; font-family: 'DejaVu Sans'; text-anchor: middle" x="575.348148" y="464.82066" transform="rotate(-0 575.348148 464.82066)">12:10</text>
</g>
</g>
</g>
<g id="matplotlib.axis_24">
<g id="ytick_120">
<g id="line2d_245">
<g>
<use href="#m5d545ce8f8" x="372.740741" y="384.237037" style="stroke: #000000; stroke-width: 0.8"/>
</g>
</g>
<g id="text_97">
<g transform="translate(348.140741 388.036256)">
<text>
<tspan x="0" y="-0.064063" style="font-size: 10px; font-family: 'DejaVu Sans'">1</tspan>
<tspan x="6.362305" y="-0.064063" style="font-size: 10px; font-family: 'DejaVu Sans'">0</tspan>
<tspan x="12.820312" y="-3.892188" style="font-size: 7px; font-family: 'DejaVu Sans'">4</tspan>
</text>
</g>
</g>
</g>
<g id="ytick_121">
<g id="line2d_246">
<g>
<use href="#m5d545ce8f8" x="372.740741" y="406.281481" style="stroke: #000000; stroke-width: 0.8"/>
</g>
</g>
<g id="text_98">
<g transform="translate(348.140741 410.0807)">
<text>
<tspan x="0" y="-0.976562" style="font-size: 10px; font-family: 'DejaVu Sans'">1</tspan>
<tspan x="6.362305" y="-0.976562" style="font-size: 10px; font-family: 'DejaVu Sans'">0</tspan>
<tspan x="12.820312" y="-4.804688" style="font-size: 7px; font-family: 'DejaVu Sans'">3</tspan>
</text>
</g>
</g>
</g>
<g id="ytick_122">
<g id="line2d_247">
<g>
<use href="#m5d545ce8f8" x="372.740741" y="428.266667" style="stroke: #000000; stroke-width: 0.8"/>
</g>
</g>
<g id="text_99">
<g transform="translate(348.140741 432.065885)">
<text>
<tspan x="0" y="-0.976562" style="font-size: 10px; font-family: 'DejaVu Sans'">1</tspan>
<tspan x="6.362305" y="-0.976562" style="font-size: 10px; font-family: 'DejaVu Sans'">0</tspan>
<tspan x="12.820312" y="-4.804688" style="font-size: 7px; font-family: 'DejaVu Sans'">2</tspan>
</text>
</g>
</g>
</g>
<g id="ytick_123">
<g id="line2d_248">
<g>
<use href="#m5d545ce8f8" x="372.740741" y="450.222222" style="stroke: #000000; stroke-width: 0.8"/>
</g>
</g>
<g id="text_100">
<g transform="translate(348.140741 454.021441)">
<text>
<tspan x="0" y="-0.064063" style="font-size: 10px; font-family: 'DejaVu Sans'">1</tspan>
<tspan x="6.362305" y="-0.064063" style="font-size: 10px; font-family: 'DejaVu Sans'">0</tspan>
<tspan x="12.820312" y="-3.892188" style="font-size: 7px; font-family: 'DejaVu Sans'">1</tspan>
</text>
</g>
</g>
</g>
<g id="text_101">
<g transform="translate(342.040741 442.066667) rotate(-90)">
<text>
<tspan x="0" y="-0.703125" style="font-style: oblique; font-size: 10px; font-family: 'DejaVu Sans'">E</tspan>
<tspan x="6.318359" y="-0.703125" style="font-style: oblique; font-size: 10px; font-family: 'DejaVu Sans'">n</tspan>
<tspan x="12.65625" y="-0.703125" style="font-style: oblique; font-size: 10px; font-family: 'DejaVu Sans'">e</tspan>
<tspan x="18.808594" y="-0.703125" style="font-style: oblique; font-size: 10px; font-family: 'DejaVu Sans'">r</tspan>
<tspan x="22.919922" y="-0.703125" style="font-style: oblique; font-size: 10px; font-family: 'DejaVu Sans'">g</tspan>
<tspan x="29.267578" y="-0.703125" style="font-style: oblique; font-size: 10px; font-family: 'DejaVu Sans'">y</tspan>
<tspan x="45.7778" y="-0.703125" style="font-style: oblique; font-size: 10px; font-family: 'DejaVu Sans'">e</tspan>
<tspan x="51.930143" y="-0.703125" style="font-style: oblique; font-size: 10px; font-family: 'DejaVu Sans'">V</tspan>
<tspan x="35.185547" y="0.9375" style="font-style: oblique; font-size: 7px; font-family: 'DejaVu Sans'">i</tspan>
<tspan x="37.403809" y="-0.703125" style="font-size: 10px; font-family: 'DejaVu Sans'">,</tspan>
</text>
</g>
</g>
</g>
<g id="line2d_249">
<path d="M 388.59 450.22 L 388.59 375.11" clip-path="url(#pb7cf3ce383)" style="fill: none; stroke-dasharray: 5.55,2.4; stroke-dashoffset: 0; stroke: #008000; stroke-width: 1.5"/>
</g>
<g id="line2d_250">
<path d="M 396.74 450.22 L 396.74 375.11" clip-path="url(#pb7cf3ce383)" style="fill: none; stroke-dasharray: 5.55,2.4; stroke-dashoffset: 0; stroke: #008000; stroke-width: 1.5"/>
</g>
<g id="line2d_251">
<path d="M 467.85 450.22 L 467.85 375.11" clip-path="url(#pb7cf3ce383)" style="fill: none; stroke-dasharray: 5.55,2.4; stroke-dashoffset: 0; stroke: #000000; stroke-width: 1.5"/>
</g>
<g id="line2d_252">
<path d="M 480.44 450.22 L 480.44 375.11" clip-path="url(#pb7cf3ce383)" style="fill: none; stroke-dasharray: 5.55,2.4; stroke-dashoffset: 0; stroke: #000000; stroke-width: 1.5"/>
</g>
<g id="line2d_253">
<path d="M 494.96 450.22 L 494.96 375.11" clip-path="url(#pb7cf3ce383)" style="fill: none; stroke-dasharray: 5.55,2.4; stroke-dashoffset: 0; stroke: #ff0000; stroke-width: 1.5"/>
</g>
<g id="line2d_254">
<path d="M 497.78 450.22 L 497.78 375.11" clip-path="url(#pb7cf3ce383)" style="fill: none; stroke-dasharray: 5.55,2.4; stroke-dashoffset: 0; stroke: #ff0000; stroke-width: 1.5"/>
</g>
<g id="patch_64">
<path d="M 372.74 450.22 L 372.74 375.11" style="fill: none; stroke: #000000; stroke-width: 0.8; stroke-linejoin: miter; stroke-linecap: square"/>
</g>
<g id="patch_65">
<path d="M 584.95 450.22 L 584.95 375.11" style="fill: none; stroke: #000000; stroke-width: 0.8; stroke-linejoin: miter; stroke-linecap: square"/>
</g>
<g id="patch_66">
<path d="M 372.74 450.22 L 584.95 450.22" style="fill: none; stroke: #000000; stroke-width: 0.8; stroke-linejoin: miter; stroke-linecap: square"/>
</g>
<g id="patch_67">
<path d="M 372.74 375.11 L 584.95 375.11" style="fill: none; stroke: #000000; stroke-width: 0.8; stroke-linejoin: miter; stroke-linecap: square"/>
</g>
</g>
<g id="axes_13">
<g id="patch_68">
<path d="M 586.73 450.22 L 591.35 450.22 L 591.35 375.11 L 586.73 375.11 L 586.73 450.22 z" style="fill: none; opacity: 0"/>
</g>
<g id="cb_i" transform="scale(0.296296)">
<defs><linearGradient id="cbg1980" x1="0" y1="0" x2="0" y2="1"><stop offset="0.0000" stop-color="#7a0403"/><stop offset="0.0312" stop-color="#920b01"/><stop offset="0.0625" stop-color="#a91601"/><stop offset="0.0938" stop-color="#be2102"/><stop offset="0.1250" stop-color="#d02f05"/><stop offset="0.1562" stop-color="#df3f08"/><stop offset="0.1875" stop-color="#eb500e"/><stop offset="0.2188" stop-color="#f46617"/><stop offset="0.2500" stop-color="#fb7e21"/><stop offset="0.2812" stop-color="#fe962b"/><stop offset="0.3125" stop-color="#fdac34"/><stop offset="0.3438" stop-color="#f8be39"/><stop offset="0.3750" stop-color="#eecf3a"/><stop offset="0.4062" stop-color="#dfdf37"/><stop offset="0.4375" stop-color="#cdec34"/><stop offset="0.4688" stop-color="#b9f635"/><stop offset="0.5000" stop-color="#a4fc3c"/><stop offset="0.5312" stop-color="#8bff4b"/><stop offset="0.5625" stop-color="#6dfe62"/><stop offset="0.5938" stop-color="#4ef97d"/><stop offset="0.6250" stop-color="#32f298"/><stop offset="0.6562" stop-color="#1fe9af"/><stop offset="0.6875" stop-color="#18ddc2"/><stop offset="0.7188" stop-color="#1ccdd8"/><stop offset="0.7500" stop-color="#28bceb"/><stop offset="0.7812" stop-color="#37a8fa"/><stop offset="0.8125" stop-color="#4294ff"/><stop offset="0.8438" stop-color="#4680f6"/><stop offset="0.8750" stop-color="#466be3"/><stop offset="0.9062" stop-color="#4456c7"/><stop offset="0.9375" stop-color="#4040a2"/><stop offset="0.9688" stop-color="#392a73"/><stop offset="1.0000" stop-color="#30123b"/></linearGradient></defs><rect x="1980.2" y="1266.0" width="15.6" height="251.0" fill="url(#cbg1980)"/>
</g>
<g id="matplotlib.axis_25"/>
<g id="matplotlib.axis_26">
<g id="ytick_124">
<g id="line2d_255">
<g>
<use href="#m33c4ce201d" x="591.348148" y="381.125926" style="stroke: #000000; stroke-width: 0.8"/>
</g>
</g>
<g id="text_102">
<g transform="translate(598.348148 384.925145)">
<text>
<tspan x="0" y="-0.064063" style="font-size: 10px; font-family: 'DejaVu Sans'">1</tspan>
<tspan x="6.362305" y="-0.064063" style="font-size: 10px; font-family: 'DejaVu Sans'">0</tspan>
<tspan x="12.820312" y="-3.892188" style="font-size: 7px; font-family: 'DejaVu Sans'">7</tspan>
</text>
</g>
</g>
</g>
<g id="ytick_125">
<g id="line2d_256">
<g>
<use href="#m33c4ce201d" x="591.348148" y="404.237037" style="stroke: #000000; stroke-width: 0.8"/>
</g>
</g>
<g id="text_103">
<g transform="translate(598.348148 408.036256)">
<text>
<tspan x="0" y="-0.064063" style="font-size: 10px; font-family: 'DejaVu Sans'">1</tspan>
<tspan x="6.362305" y="-0.064063" style="font-size: 10px; font-family: 'DejaVu Sans'">0</tspan>
<tspan x="12.820312" y="-3.892188" style="font-size: 7px; font-family: 'DejaVu Sans'">5</tspan>
</text>
</g>
</g>
</g>
<g id="ytick_126">
<g id="line2d_257">
<g>
<use href="#m33c4ce201d" x="591.348148" y="427.259259" style="stroke: #000000; stroke-width: 0.8"/>
</g>
</g>
<g id="text_104">
<g transform="translate(598.348148 431.058478)">
<text>
<tspan x="0" y="-0.976562" style="font-size: 10px; font-family: 'DejaVu Sans'">1</tspan>
<tspan x="6.362305" y="-0.976562" style="font-size: 10px; font-family: 'DejaVu Sans'">0</tspan>
<tspan x="12.820312" y="-4.804688" style="font-size: 7px; font-family: 'DejaVu Sans'">3</tspan>
</text>
</g>
</g>
</g>
<g id="ytick_127">
<g id="line2d_258">
<g>
<use href="#m33c4ce201d" x="591.348148" y="450.222222" style="stroke: #000000; stroke-width: 0.8"/>
</g>
</g>
<g id="text_105">
<g transform="translate(598.348148 454.021441)">
<text>
<tspan x="0" y="-0.064063" style="font-size: 10px; font-family: 'DejaVu Sans'">1</tspan>
<tspan x="6.362305" y="-0.064063" style="font-size: 10px; font-family: 'DejaVu Sans'">0</tspan>
<tspan x="12.820312" y="-3.892188" style="font-size: 7px; font-family: 'DejaVu Sans'">1</tspan>
</text>
</g>
</g>
</g>
<g id="text_106">
<text style="font-size: 10px; font-family: 'DejaVu Sans'" transform="translate(627.546586 445.789323) rotate(-90)">THE ion eflux</text>
<g transform="translate(639.730648 459.366667) rotate(-90)">
<text>
<tspan x="0" y="-0.976562" style="font-style: oblique; font-size: 10px; font-family: 'DejaVu Sans'">e</tspan>
<tspan x="6.152344" y="-0.976562" style="font-style: oblique; font-size: 10px; font-family: 'DejaVu Sans'">V</tspan>
<tspan x="20.263672" y="-0.976562" style="font-style: oblique; font-size: 10px; font-family: 'DejaVu Sans'">c</tspan>
<tspan x="25.761719" y="-0.976562" style="font-style: oblique; font-size: 10px; font-family: 'DejaVu Sans'">m</tspan>
<tspan x="47.76929" y="-0.976562" style="font-style: oblique; font-size: 10px; font-family: 'DejaVu Sans'">s</tspan>
<tspan x="60.054447" y="-0.976562" style="font-style: oblique; font-size: 10px; font-family: 'DejaVu Sans'">s</tspan>
<tspan x="65.264408" y="-0.976562" style="font-style: oblique; font-size: 10px; font-family: 'DejaVu Sans'">r</tspan>
<tspan x="76.450931" y="-0.976562" style="font-style: oblique; font-size: 10px; font-family: 'DejaVu Sans'">e</tspan>
<tspan x="82.603275" y="-0.976562" style="font-style: oblique; font-size: 10px; font-family: 'DejaVu Sans'">V</tspan>
<tspan x="12.993164" y="-0.976562" style="font-size: 10px; font-family: 'DejaVu Sans'">/</tspan>
<tspan x="16.362305" y="-0.976562" style="font-size: 10px; font-family: 'DejaVu Sans'">(</tspan>
<tspan x="42.642337" y="-0.976562" style="font-size: 10px; font-family: 'DejaVu Sans'">⋅</tspan>
<tspan x="54.927493" y="-0.976562" style="font-size: 10px; font-family: 'DejaVu Sans'">⋅</tspan>
<tspan x="71.323978" y="-0.976562" style="font-size: 10px; font-family: 'DejaVu Sans'">⋅</tspan>
<tspan x="89.444095" y="-0.976562" style="font-size: 10px; font-family: 'DejaVu Sans'">)</tspan>
<tspan x="35.967044" y="-4.804688" style="font-size: 7px; font-family: 'DejaVu Sans'">2</tspan>
</text>
</g>
</g>
</g>
<g id="patch_69">
<path d="M 586.73 450.22 L 586.73 375.11" style="fill: none; stroke: #000000; stroke-width: 0.8; stroke-linejoin: miter; stroke-linecap: square"/>
</g>
<g id="patch_70">
<path d="M 591.35 450.22 L 591.35 375.11" style="fill: none; stroke: #000000; stroke-width: 0.8; stroke-linejoin: miter; stroke-linecap: square"/>
</g>
<g id="patch_71">
<path d="M 586.73 450.22 L 591.35 450.22" style="fill: none; stroke: #000000; stroke-width: 0.8; stroke-linejoin: miter; stroke-linecap: square"/>
</g>
<g id="patch_72">
<path d="M 586.73 375.11 L 591.35 375.11" style="fill: none; stroke: #000000; stroke-width: 0.8; stroke-linejoin: miter; stroke-linecap: square"/>
</g>
</g>
<g id="axes_14">
<g id="patch_73">
<path d="M 60.47 661.1 L 248.83 661.1 L 248.83 473.13 L 60.47 473.13 L 60.47 661.1 z" style="fill: none; opacity: 0"/>
</g>
<g id="cont_j" transform="scale(0.296296)">
<defs><clipPath id="clip204"><rect x="204.1" y="1596.8" width="635.7" height="634.4"/></clipPath></defs>
<g clip-path="url(#clip204)" stroke-linejoin="round">
<path fill="#000" d="M860 1914l0-14 2-4 0-12 -2-2 -6-2 0-12 -2-4 0-16 -6-6 0-2 -4-2 0-4 -2-2 2-4 -2-2 0-6 -2-2 0-4 -2-2 0-2 -2-4 2-4 0-2 -4-4 -2-4 0-2 -2-2 -2-4 0-2 4-6 0-2 -2-2 -4-2 0-2 -2-4 -4-2 0-2 -2-2 -2-4 0-2 -2-2 -4-2 -2-2 0-6 -4-4 0-4 -6-6 -2-4 0-2 -4-4 -2-4 0-2 -10-10 -2-4 0-2 -2-2 -4-2 -16-16 -4 0 -4-4 0-6 -4-4 -2 0 -4-2 -14-14 -6 2 -6-6 -2 0 -4-2 0-2 -4-2 -2-2 -2 0 -4-2 -2-2 0-4 -2-2 -4-2 -2 0 -4-2 -8 0 -2-2 -2-4 -2-2 -4-2 -2-2 -2 0 -2-2 -4 0 -4-4 -4 2 -2-2 -4-2 -2-2 -2 0 -4-2 -4-4 -2 0 -4-2 -2-2 -6 0 -2-2 -4 0 -4 2 -2 0 -2-2 -2-4 -4-2 -2 0 -4 4 -4-2 -2 0 -2-2 -6 0 -4-4 -2 0 -4-2 -2 6 -4-2 -6 0 -2-2 -12 0 -4 2 -14 0 -2 2 -24 0 -4 4 -4 0 -4 2 -12 0 -2 2 -4-2 -2 2 -2 0 -4-4 -4 0 -4 4 -4 2 -2 0 -4-2 -2 2 -4 0 -2 2 -4 0 -2 2 -2 4 -2 0 -2 2 -6 0 -4 2 0 4 -4 2 -8 0 -4 2 -4-2 -2 0 -2 2 -2 4 -4 0 -8 8 -4 0 -6 6 -4 0 -2 2 0 4 -4 2 -2 2 -4-2 -4 4 -2 4 -10 10 -2 0 -4 4 -4 2 -4 4 -4 0 -4 4 -2 0 -4 4 -4 2 -10 10 0 4 -2 2 -2 4 -2 0 -2 2 -2 4 -2 0 -12 12 -2 4 -2 2 2 4 -4 4 -4 2 0 2 -2 4 -6 6 0 4 -4 4 -6 0 0 2 -2 4 0 2 -2 2 -2 4 0 2 -2 2 0 4 -6 6 4 6 -2 2 0 6 -2 2 -2 4 -2 2 0 2 -2 2 0 4 -2 2 0 2 -2 4 -2 2 0 2 -2 4 0 2 -2 2 0 4 -2 2 0 4 2 2 0 4 -2 2 -6 2 -2 2 0 22 -2 2 0 14 -2 4 0 14 2 4 0 6 -2 2 0 26 2 4 0 16 2 4 -2 2 2 4 0 6 2 2 0 4 6 0 0 4 2 2 0 4 2 2 0 6 2 2 0 4 -2 2 2 4 0 2 -2 4 0 2 2 4 2 2 0 2 2 4 6 6 -2 4 2 4 0 2 4 2 0 2 2 2 0 4 4 4 2 4 0 2 6 6 2 4 0 2 4 4 0 6 2 4 4 2 0 2 14 14 0 4 4 4 4 2 0 2 8 8 4 2 4 4 0 4 4 4 4 0 4 4 0 4 4 4 4 2 2 0 4 4 4 2 6 6 2 0 0 4 4 2 2 2 0 2 4 2 8 8 4 0 4 4 4 0 2 2 2 0 4 4 4 2 4-2 6 6 2 0 4 2 6 6 4-2 4 0 2 2 4-2 2 2 2 0 4 2 2 0 2 2 4 2 2 0 4 4 4 0 2 2 2 0 4 2 2 0 2 2 4 2 6 0 2 2 2 0 4-2 2 2 4 0 2-2 6 0 2 4 6 0 4 2 14 0 2 2 14 0 4-4 2 0 4 2 2-2 6 0 2-2 6 0 2 2 16 0 2-2 12 0 2-2 8 0 2-4 6 0 4 4 2 0 4-2 4 4 2-2 6 0 2-2 6 0 2-2 4 0 0-6 4-2 8 0 4-4 4-2 6 0 2-2 2 0 2-2 4-2 4 0 4-2 2 0 4-4 4-2 2 0 4-4 4 0 4-4 4 2 4-2 2-2 2 0 8-8 4-2 0-4 2 0 2-2 4-2 10-10 4 0 4-4 2 0 2-2 4-2 0-4 4-4 4 0 4-4 0-4 4-4 4 0 4-4 2-4 2-2 0-2 6-6 4 0 2-4 2-2 -2-4 6-6 2-4 6-6 0-2 2-4 2-2 0-2 4-4 2-4 0-2 2-4 0-2 4-2 2-2 0-6 4-4 0-4 4-4 -2-4 0-2 2-4 4-4 0-2 4-2 0-4 4-4 2-4 0-2 2-2 0-4 4-4 0-10 2-2 0-4 -2-2 0-6 2-4 0-6 2-2 0-6 2-2 0-20 2-4 -2-2 0-16z"/>
<path fill="#000080" fill-rule="evenodd" stroke="none" d="M489.5 1606l2.5-3 75 0 3 3 15 0 3 3 9 0 3 3 9 0 3 3 6 0 3 3 6 0 3 3 3 0 3 3 6 0 3 3 3 0 3 3 3 0 3 3 3 0 3 3 3 0 6 6 3 0 3 3 3 0 6 6 3 0 6 6 3 0 9 9 3 0 50.5 51 0 3 9 9 0 3 6 6 0 3 6 6 0 3 6 6 0 3 3 3 0 3 3 3 0 3 3 3 0 3 3 3 0 3 3 3 0 3 3 3 0 6 3 3 0 3 3 3 0 6 3 3 0 6 3 3 0 9 3 3 0 9 3 3 0 12 3 3 0 24 3 3 0 42 -3 3 0 21 -3 3 0 15 -3 3 0 9 -3 3 0 6 -3 3 0 9 -3 3 0 3 -3 3 0 6 -3 3 0 3 -3 3 0 3 -3 3 0 6 -3 3 0 3 -6 6 0 3 -3 3 0 3 -6 6 0 3 -6 6 0 3 -6 6 0 3 -15 15 0 3 -20.5 20.5 -3 0 -15 15 -3 0 -9 9 -3 0 -6 6 -3 0 -3 3 -3 0 -6 6 -3 0 -3 3 -3 0 -3 3 -3 0 -3 3 -3 0 -3 3 -6 0 -3 3 -3 0 -3 3 -6 0 -3 3 -6 0 -3 3 -6 0 -3 3 -9 0 -3 3 -9 0 -3 3 -15 0 -3 3 -30 0 -3 3 -24 0 -3-3 -30 0 -3-3 -15 0 -3-3 -9 0 -3-3 -9 0 -3-3 -6 0 -3-3 -6 0 -3-3 -6 0 -3-3 -6 0 -3-3 -3 0 -3-3 -3 0 -3-3 -3 0 -3-3 -3 0 -3-3 -3 0 -3-3 -3 0 -3-3 -3 0 -6-6 -3 0 -3-3 -3 0 -9-9 -3 0 -9-9 -3 0 -18-18 -3 0 -8.5-8.5 0-3 -21-21 0-3 -9-9 0-3 -6-6 0-3 -6-6 0-3 -3-3 0-3 -3-3 0-3 -3-3 0-3 -3-3 0-3 -3-3 0-3 -3-3 0-3 -3-3 0-6 -3-3 0-6 -3-3 0-6 -3-3 0-6 -3-3 0-12 -3-3 0-15 -3-3 0-60 3-3 0-15 3-3 0-12 3-3 0-6 3-3 0-9 3-3 0-3 3-3 0-6 3-3 0-6 3-3 0-3 3-3 0-3 3-3 0-3 3-3 0-3 3-3 0-3 6-6 0-3 3-3 0-3 6-6 0-3 9-9 0-3 9-9 0-3 24-24 0-3 2.5-3 3-3 3 0 24-24 3 0 9-9 3 0 9-9 3 0 6-6 3 0 3-3 3 0 6-6 3 0 3-3 3 0 3-3 3 0 3-3 3 0 3-3 3 0 3-3 6 0 3-3 3 0 3-3 6 0 3-3 6 0 3-3 9 0 3-3 9 0 3-3z"/>
<path fill="#0000bb" fill-rule="evenodd" stroke="#000" stroke-width="4.4" d="M522.5 1615l23.5-0.5 27.5 3.5 23.5 6 46.5 15 20.5 9 16 9 19 12 23.5 18 15.5 15 18 21 9 11.5 12 18 15 26 9.5 19.5 8.5 26 6 25.5 3.5 26.5 1.5 36 0 24 -2 19 -3 18 -3 13 -9 27.5 -9 20.5 -9 17 -15 21 -24 27 -21 19 -32.5 25 -27.5 17.5 -23 12.5 -22 9 -27 7.5 -24 3.5 -27 0.5 -48-2.5 -21-2.5 -18-4 -27-9 -46-20.5 -36.5-18 -16.5-11 -12.5-10 -14.5-16 -12.5-17 -11.5-20 -5.5-13 -9.5-27 -17.5-42 -3.5-11.5 -3-13 -3-20.5 -0.5-15 1-15 3.5-21 4-15 14-39 12.5-45 5.5-15 5-12 6-9.5 9-12 18-18.5 23-26 12.5-12 19.5-15 14-9 11-6 19.5-9 35.5-12.5 18-5 27-6z"/>
<path fill="#0000ff" fill-rule="evenodd" stroke="#000" stroke-width="4.4" d="M516 1624l15-1 12 0 12 1 15 2 18 4.5 42 13 21 8 21 10 18 10.5 21 15 16.5 15 18.5 21 22 30 18 28.5 8 16.5 7 19.5 7.5 28.5 3.5 21 2 24 0.5 39 -1 18 -3.5 21 -6 22.5 -9 23.5 -12.5 26 -11.5 18 -18 21.5 -21 20.5 -36 30 -24 16.5 -24 14 -21 10 -27 9 -24 4.5 -24 1 -45-2 -21-2.5 -24-5 -21-7 -21-9.5 -25-14 -18-12 -7.5-6 -39-33 -5-6 -4-6 -4-9 -8.5-23.5 -6-13.5 -9-16.5 -21-36.5 -10.5-21 -6.5-18 -3.5-18 -0.5-12 0.5-9 3.5-21 27.5-87 6.5-18 7-14 9-13 21-25 17-23 10-12 9.5-9 15.5-12 14.5-9 23.5-12 24-9 19.5-6 37.5-9z"/>
<path fill="#0038ff" fill-rule="evenodd" stroke="#000" stroke-width="4.4" d="M506.5 1636l21.5-2.5 18 0 24 3 21 4.5 39 12 25 10 26 13.5 21 14 18 15 18 19.5 21 28 18 27 8 15 7.5 21 6 24 3.5 21 1.5 27 0 45 -0.5 15 -2.5 18 -6 24 -8.5 24 -11.5 24 -9.5 15 -12 15.5 -9 9.5 -14 14 -34.5 30 -14.5 11 -12 8.5 -24 14 -25.5 11.5 -25.5 8 -21 3.5 -24 1.5 -21-0.5 -30-2 -18-3 -18-4.5 -17-6 -13-7 -18-12.5 -8.5-7.5 -9-9 -15.5-18 -18-24.5 -14-17.5 -34-52.5 -21-28.5 -9-15 -9.5-18 -5.5-15 -3.5-15 -0.5-9 0-9 1.5-12 2.5-12 5.5-18 14-45 9-24 7.5-15.5 9-14.5 34.5-42 13.5-18 14.5-15 15.5-12 20-12 11-6 20-8.5 18-6 18-4.5z"/>
<path fill="#007cff" fill-rule="evenodd" stroke="#000" stroke-width="4.4" d="M511 1645l20-2 27 1.5 19 3.5 23 6 30 9.5 30 12 24 13 19.5 13.5 14 12 8.5 9 12 14 21 28.5 15 23.5 6.5 15 5 15 5 24 3 24 1.5 24 0.5 36 -1 18 -3.5 21 -7 27 -8.5 24 -9 18 -11.5 18 -15 18 -27.5 27 -25.5 22 -21 15 -27 15.5 -27 12 -24 7.5 -21 3.5 -21 1 -18-1 -27-2 -18-3 -15-4.5 -12-5 -12-6.5 -12.5-9.5 -8.5-9 -6.5-9 -5.5-9 -6-12 -9-13 -21-22.5 -13.5-15.5 -15-21 -19.5-31 -11-14 -10.5-12 -9-12 -9-15 -2.5-6 -3-8 -2.5-13 -0.5-15 3-21 6-24 12-36.5 8.5-20.5 6.5-13.5 9-14.5 12-15.5 36-41.5 9-9.5 18-14.5 24-17 18-10.5 21-10 27-8z"/>
<path fill="#00bcff" fill-rule="evenodd" stroke="#000" stroke-width="4.4" d="M516 1657l21-1.5 27 2 21 3 24 6 27 9 26.5 11.5 22 12 17.5 12.5 18 16.5 15 17.5 21 28 11 18.5 7 15 4.5 15 4 21 4.5 30 1.5 21 0 30 -1 18 -3 18 -7.5 25.5 -10 28.5 -8.5 18 -11.5 18 -15 18.5 -21 21 -24 22 -21 15.5 -27 16 -26 12 -25 8 -18 3.5 -18 1 -18-0.5 -24-2.5 -15-2.5 -21-6 -9.5-4 -11.5-8.5 -9.5-9.5 -4.5-6 -1-3 0-3 -1-3 -13-21 -13-13.5 -28.5-25.5 -10.5-12 -9-12 -9-14 -27-47.5 -6-8.5 -18-23 -3.5-6 -3-6 -2-9 -0.5-6 0-12 3-21 6-24 6-17.5 9-21.5 9-17 9-14 13.5-17 28.5-31 23.5-23 24.5-21 18-13 15-9 18-8 24-7z"/>
<path fill="#16ffe1" fill-rule="evenodd" stroke="#000" stroke-width="4.4" d="M532 1669l17 0 30.5 3 29.5 5.5 18 5.5 24 8.5 21 10 18 11 13 10.5 17 16.5 18 22 15 20.5 9 16 6 15 5 18 5 30 3 27 1 18 -1 24 -2.5 18 -3.5 15 -13 38 -9 22 -9.5 18 -11 15 -21.5 24 -18 17 -18 15 -18 12.5 -23 12.5 -28 12 -18 6 -14 3 -10 1 -24-0.5 -21-3 -27-6.5 -15-7 -4-2 -2.5-3 -0.5-3 -4.5-9 -0.5-3 -3.5-6 -4.5-6 -11-12 -14-22 -6-7 -8-7 -25-20.5 -8.5-9.5 -7-9 -36.5-60 -11-19.5 -6-16.5 -1.5-12 0.5-9 3-15 6-21 5-15 8.5-18 20.5-39 8-18 4-7 6.5-8 23.5-23 24-25 21-18.5 12-10 15-8 18-6.5 15-3.5zM501 1914.5l-3 1.5 -6 1 -3 2 -2.5 5 -0.5 3 0.5 3 2.5 2.5 6.5 3.5 2.5 4 2 2 16 0 0.5-3 -9-9 -1-6 0.5-11.5 -3-0.5z"/>
<path fill="#49ffad" fill-rule="evenodd" stroke="#000" stroke-width="4.4" d="M527.5 1684l18.5-1 24 1 27 3.5 27 5.5 21 6.5 18 7.5 15 8 16 11 17 15.5 15.5 17.5 16 21 11 18 6.5 15 5 18 6.5 33 2.5 18 1 24 -0.5 18 -2 15 -3.5 15 -18 51 -6 15 -9.5 18 -10.5 15 -14 16.5 -18 18.5 -15 13 -18 12.5 -21.5 11.5 -21 9 -26.5 9 -18 3.5 -15 0.5 -12-1 -15-3 -6-3.5 -3-4.5 -2-1 -1-3.5 -3-2 -6-9 -3-1.5 -14-17 -2.5-3 0-3 -4.5-6 -6.5-12 -9-9 -23.5-20 -36-21.5 -12.5-9.5 -8.5-9.5 -9-12.5 -17.5-32 -5.5-12 -4.5-12 -2.5-9 -1.5-9 0-12 2-12 5-15 6.5-15 6-11 12-19 26-36 16-21 6-9 6-12 2-3 3.5-9 0.5-9 2.5-6 45.5-34.5 9-5 15-6zM453 1881.5l-1.5 3.5 0 3 1.5 2 3 0 1-2 0.5-3 -1.5-3zM510 1897l-3 0 -6 12 -3 3 -9 3 -2.5 3 -5.5 12 -0.5 3 2.5 3 6 3 5.5 6 3.5 1.5 12-1 6 1 6 2 3 0.5 3-0.5 2-3.5 -2-3 -12-8.5 -3.5-3.5 -2-3 -0.5-6 2-18 -0.5-3z"/>
<path fill="#80ff77" fill-rule="evenodd" stroke="#000" stroke-width="4.4" d="M553.5 1699l19.5-0.5 18 1 18 2 24 5 15 4.5 18 7.5 15 9 15 11.5 15 14 15.5 18 13.5 18 8 15 6 15 5 19 4.5 23 3.5 24 1 15 -1 21 -2 15 -4 15 -24.5 66 -7.5 15 -12 18 -12 14.5 -15 15.5 -12 10 -12 8 -12 6 -30 12.5 -16 5.5 -14 3 -6 0.5 -12 0 -6-1 -6-2 -11-6.5 -4-3.5 -3-4 -3-2 -6-8.5 -3-2 -16.5-25 -4.5-8.5 -6-6 -6-3 -15-5.5 -9.5-4 -3.5-3 -1.5-3 -1-6 -1-3 -1.5-1.5 -12-7 -12-4.5 -6-3 -4-5 -3-9 -2-3.5 -3-2 -9-4 -3-2.5 -6-6.5 -9-5.5 -4-3 -3-6 -2-11.5 -9-6.5 -5-6 -4-9.5 -1.5-8.5 0-6 1.5-5 6-4 3-3 -3.5-6 0-6 0.5-3 3-6 3-2 3-0.5 3 1 6 5 9 5.5 6 0.5 1.5-0.5 1.5-2 0.5-1 -1-3 -10-12 -1.5-6 1.5-6 4.5-4 12-5 3-3 1.5-6 0.5-9 3-9 3.5-6 10.5-12 7-15 14-18 5-9 2.5-3 2.5-6 6-9 1-3 2-3 1-3 4-6 1-9 -1-3 1.5-3 18.5-10 9-4 9-3 15-3zM393 1905.5l-5 3.5 0.5 3 3.5 3 4 2 3 1 6 0.5 4.5-0.5 1-3 -8.5-10 -3-1zM450 1875l-4 4 -0.5 3 1 6 3.5 7 3 1.5 3-0.5 3-2.5 1.5-2.5 1-6 -0.5-3 -2-3.5 -3-3 -3-1zM507 1866.5l-6.5 3.5 -9 9 0.5 1.5 3 0 3-1 12.5-6.5 3-3 0-3zM507 1892.5l-3 3.5 -3.5 10 -3 3 -2.5 1 -6 1.5 -3 2 -6 11.5 -3 3 -6.5 5 0.5 3 3 4 3 2 6 0 3 1 9 6 3 0.5 9-1 6 0 9 3.5 6 1 4.5-2 1.5-3 0.5-3 -2-3 -13.5-8.5 -5.5-6.5 -1.5-6 2.5-21 -1-3 -2-3 -1.5-1z"/>
<path fill="#b7ff40" fill-rule="evenodd" stroke="#000" stroke-width="4.4" d="M554 1711l16-0.5 27 3 18 1 18 2.5 12 3 15 5.5 6 3 12 7 12 9 15 13.5 14.5 16 11.5 15 9 15 5 12 5.5 18 6 27 2.5 18 1.5 15 0 21 -2.5 18 -3.5 12 -6 18 -18 45 -7.5 14.5 -9 14 -9 11.5 -9.5 11 -11.5 10 -9 7 -15 7 -57 16 -12 1 -12-2 -15-7 -7.5-5 -6.5-6 -2.5-6 -4-6 -3.5-9 -4.5-6 -7.5-5.5 -6-2 -13-1.5 -7.5-3 -0.5-3 4.5-3 4.5-3 15-3.5 3.5-2.5 1-3 0-3 -3.5-3 -4-1.5 -9-1 -7-3.5 -1-3 1.5-6 3.5-4.5 8-4.5 1-3 -1.5-3 -13.5-14 -3-1.5 -3 0.5 -12.5 15 -2.5 4.5 -1.5 4.5 0 9 -1 3 -3.5 1 -6-1 -4.5-3 -7.5-10.5 -9-4.5 -3-2.5 -2.5-3.5 -2-6 0-12 -1-9 -3.5-8 -3-2 -9-0.5 -3-1 -3-2.5 -3-4 -1-3 0-3 1.5-3 6-6 4.5-12 4.5-6 1-3 -0.5-3 -4-4 -3-5 -1-6 1.5-3 2.5-1.5 3-0.5 3 0.5 3 1.5 3 3.5 4 11.5 4 3 4 0.5 3-1 4.5-2.5 2-3 1.5-6 0-6 -2-5 -3-4.5 -7.5-8.5 -1-3 0-3 0.5-3 2.5-3 8.5-6 5-6 10-6 3-3 1-3 -2-3 -4.5-3 -6-3 -2.5-3 -0.5-6 1-3 9-9 7.5-9.5 18-15.5 10.5-11 7.5-15 9-23.5 2.5-3.5 3-3 3.5-1.5zM510 1860.5l-9 1 -3 1 -2 1.5 -3.5 6 -9.5 9 -0.5 3 0.5 0.5 2 2.5 4 1 12 0 3-2 2-2 10-7.5 4-4.5 2-3 0.5-3 -3.5-3zM537 1832.5l-1 1.5 1 4 3 3 3 0 1-1 1.5-3 -1-3 -4.5-2zM549 1860.5l-3 4 -2.5 8.5 0.5 3 2 3 6 0.5 5-0.5 10-3 3.5-3 0-3 -2-3 -6.5-6 -7-2.5 -3 0zM504 1888.5l-1 2.5 -2.5 9 -2.5 5 -3 2 -9 2.5 -2.5 2.5 -3.5 8.5 -3 4 -3 1.5 -9 2.5 -2 1.5 0 3 6 9 2 6.5 3 2 9-3 3 0.5 9 4 3 0 12-1 3 0.5 19.5 8.5 3.5 9 4 3.5 3 1.5 3 0 3-1 1.5-1 1.5-3 -0.5-3 -3.5-3 -8-3.5 -3.5-2.5 2-9 -0.5-3 -1.5-3 -3.5-3 -11-5.5 -4-3.5 -2.5-3 -1-3 -0.5-6 2-15 0-6 -3-5.5 -3-2.5 -3-1zM465 1971.5l-3 3.5 -1 3 1 3.5 3 0 3-1.5 3-2 1.5-3 -0.5-3 -1-1.5 -3-1z"/>
<path fill="#ebff0c" fill-rule="evenodd" stroke="#000" stroke-width="4.4" d="M596.5 1726l6.5-1 27 2 9 1.5 15 4.5 12 5 15 10 14 11 14.5 15 10 12 8 12 6.5 12 6 15 5 18 4.5 21 3 18 1 21 -0.5 12 -3.5 18 -17 48 -9 21 -6.5 11.5 -13 18.5 -14 12.5 -12 8.5 -12 5 -12 3 -3 0.5 -45 12 -12 1.5 -10-1 -5-3 -3-3 -3-5 -3.5-4 -7.5-15 -0.5-3 -1.5-3 -4-15 -2.5-15 -2.5-9 -2.5-12 0-3 2-3 6.5-6 1.5-3 1-6 -0.5-3 -3.5-3 -7.5-3 -4-3 -1-3 -1-6 -2-3.5 -3-3 -15-7 -4.5-4.5 -1.5-3 -0.5-6 2.5-15 0.5-6 -1-3 -5-9 1-3 6.5-6 6.5-9 2.5-6 -2-3 -5-1.5 -15-1 -12-3 -3 0.5 -3 2 -1.5 3 0.5 9 -1.5 3 -6.5 6 -2 3 0 3 1.5 3 4 3 2.5 1 10.5 2 2 3 -0.5 6 -3 4 -3 1.5 -9 0.5 -2 3 -2 9 -2 3 -3 2 -12 2 -3 2 -2 3 0 3 5 6 3 5 3.5 16 -1.5 3 -11 10.5 -3 1.5 -3-1 -2.5-5 -4-21 0-3 2-9 -0.5-3 -2-3 -7.5-6 -1.5-3 0-3 1.5-6 5.5-6.5 3-1.5 12-1.5 5.5-2.5 2.5-3 2.5-9 0.5-6 -0.5-3 -5-9 -2-6 0-3 1-3 1.5-2 6-4.5 7.5-8.5 7.5-5 3-1 3-0.5 9 6 3 1 3-0.5 3-2 5.5-7 1-3 -1-3 -20.5-5.5 -6-3.5 -3.5-3 -2-3 1-3 4.5-5.5 9-4.5 6-2 18-4 12-1 9-1.5 3 1.5 3 4.5 3 9.5 0 3 -3 6 -3 2.5 -3 1.5 -15 2 -4.5 3 -0.5 3 2 1 6 6.5 9 15.5 3 4 1 6 -1.5 9 0 6 0.5 3 3 3 6 1 15-1 12 1.5 4.5-1.5 8.5-6 2.5-3 0.5-3 0.5-12 2.5-6 1-9 -1.5-6 -6-12 -5-15 -4-9 -4-15 -0.5-6 2-6 -1-4.5 -2-1.5 2.5-9 -3-3 1-3 -2.5-3 1.5-6 -1.5-3 1-3 3-3 3 0 6-2 6-3zM573.5 1837l2.5-1.5 3-0.5 3.5 2 4 6 2.5 9 -4 3 -3-0.5 -3-1.5 -5-4 -3-3 -1-3 1.5-3zM479.5 1954l3.5-2 3 0 9 3 3 0.5 12-2 6 2 7.5 4.5 3.5 3 6.5 12 1.5 3 -1 1.5 -1 1.5 -5 1 -9-1.5 -6-3.5 -9-10 -3-1 -3 0 -3 1.5 -6 6.5 -3 2 -3 0.5 -3-2.5 -6-11 -0.5-3 2-3z"/>
<path fill="#ffc400" fill-rule="evenodd" stroke="#000" stroke-width="4.4" d="M627.5 1741l8.5-1 6 1 3-0.5 3 0.5 6 1 12 5.5 21 15 12 11 12 13.5 7.5 11 5.5 9 6 12 4 12 7 27 2.5 18 0.5 15 0 12 -1.5 12 -2.5 15 -6.5 24 -7.5 21 -5 12 -7.5 15 -8 12 -6.5 7 -6 5 -21 2 -12 3 -21 7.5 -6 0 -15-0.5 -15.5-3 -8.5-4.5 -9.5-7.5 -2.5-3 -2.5-6 -1-9 -1.5-6 -3.5-6 -4.5-6 -2-5 -0.5-4 2-18 -2.5-3 -2-1.5 -12-3 -2.5-1.5 -5-9 -4.5-4.5 -12-5 -6-3.5 -4-5 -1-6 1-6 3-12 0-3 -3.5-9 0-3 1-3 6.5-7.5 6-4.5 3 1 2.5 8 1.5 3 4 3 4 1 15-0.5 15 4 3 0 12-1.5 6-2 12 0.5 3-1 3-2.5 2-7 -1.5-15 1-42 3.5-9 0.5-3 3-6 2.5-12 0.5-21 -2.5-9 0-6 0.5-6zM564 1920.5l-3 0.5 -2 3 2 2 3-0.5 2.5-1.5zM499.5 1807l7.5-1.5 6 0.5 4 1 5 3 -2 3 -7 4 -3 1 -6 0 -6.5-2 -2.5-3 0-3zM516.5 1840l2.5-1.5 3 0 3 1.5 3.5 6 -0.5 3 -3 2.5 -3 0.5 -6 0 -3-2 -1-1 0-3zM470 1858l4-1 3 1 3.5 3 1.5 3 0 3 -1.5 3 -3.5 3.5 -3 2.5 -3 1 -3-2.5 -2.5-4.5 -1-3 0-3 1-3zM470.5 1888l0.5-1.5 3-1 9 6 10 2.5 2.5 3 -1 3 -2.5 1.5 -12-0.5 -3 1.5 -1 3.5 1 9 -1 3 -3.5 3 -10.5 1 -9 3.5 -3 0 -6-3 -2-1.5 -2-3 0-3 1.5-3 3-3 11.5-3.5 10.5-5.5 1.5-3zM451 1942l2-2 3 0 2.5 2 2.5 3 1 4 1 8 -0.5 3 -3.5 5 -3 2 -3 0.5 -2-1.5 -1-2 -1-4 -1-6 0-6 1-3zM484 1957l3.5 0 4 3 0 3 -2.5 3 -3 1.5 -3 0 -3-4.5 0.5-3zM506 1960l4-2 3 0.5 4 1.5 4.5 3 3 3 1.5 3 0.5 3 -1 3 -3.5 1 -3 0 -3-1.5 -3-2.5 -2.5-3z"/>
<path fill="#ff8900" fill-rule="evenodd" stroke="#000" stroke-width="4.4" d="M648.5 1762l2.5-2 9 1 3-0.5 15 5 13 11.5 5.5 6 8 9 8.5 12 6.5 12 3.5 9 2 9 6.5 42 1 24 -1 15 -5 27 -3.5 12.5 -6 17.5 -6 8 -6 5 -9 4.5 -9 2 -9 1 -3 1.5 -21 5.5 -12 1.5 -3-2 -3 0 -3-1.5 -3-0.5 -3-1.5 -3-0.5 -6-3.5 -3 0 -1.5-1.5 -1.5-3 -2.5-3 -2-6 3.5-9 0-3 -3-6 -3-3 -23-7 -9 1.5 -3 0 -9-1.5 -6-1.5 -3-2.5 -4.5-7 -3-3 -16.5-5.5 -6-3.5 -3-5.5 -0.5-3.5 0.5-4 1.5-5 5.5-9 -4-9 -1-3 0.5-3 3.5-5 3-2 3 0.5 6 7 6 3 18 0.5 15 6 21 4 12 4 21-1 3-0.5 2-1.5 4-6 2-6 1.5-15 0.5-12 -0.5-6 1-3 0.5-12 1.5-9 2.5-6 0-3 4-12 -0.5-3 1-3 0-9 0.5-3 -3-18 -1.5-6zM561 1917l-5.5 4 -2 3 -0.5 3 2 2.5 6 0.5 6-1 5.5-2 2.5-3 -2-3 -4-3 -5-1.5zM585 1925.5l-1 1.5 2 3 2 1 2-1 0.5-3 -2.5-2.5zM471 1867l0-1 2.5 1 -2.5 0.5zM462.5 1906l5.5-1.5 3 2 3 5.5 0 3 -2 3 -4 1 -15 1 -3-0.5 -2.5-1.5 -1-3 2.5-3zM453.5 1951l2.5-1 0.5 1 0.5 6 -1 2.5 -3-2 0-3.5z"/>
<path fill="#ff4a00" fill-rule="evenodd" stroke="#000" stroke-width="4.4" d="M680 1822l1-1.5 9-1 6 4 3 5 5 11.5 4 12 3 12 1.5 15 0.5 9 -1 12 -4 16.5 -7 19.5 -4.5 9 -4.5 6 -2 1.5 -3 0.5 -7-5 -2-3 -1-6 2-24 -2.5-48 1-15 2.5-15 -0.5-3z"/>
</g>
</g>
<g id="text_107">
<text style="font-size: 18.2px; font-family: 'DejaVu Sans'; text-anchor: middle" x="235.466667" y="491.429156" transform="rotate(-0 235.466667 491.429156)">(j)</text>
</g>
<g id="matplotlib.axis_27">
<g id="xtick_57">
<g id="line2d_259">
<g>
<use href="#m1504cfccaf" x="67.140741" y="661.096296" style="stroke: #000000; stroke-width: 0.8"/>
</g>
</g>
<g id="text_108">
<g transform="translate(59.899525 691.853979) rotate(-45)">
<text>
<tspan x="0" y="-0.064063" style="font-size: 10px; font-family: 'DejaVu Sans'">−</tspan>
<tspan x="8.378906" y="-0.064063" style="font-size: 10px; font-family: 'DejaVu Sans'">1</tspan>
<tspan x="14.741211" y="-0.064063" style="font-size: 10px; font-family: 'DejaVu Sans'">0</tspan>
<tspan x="21.199219" y="-3.892188" style="font-size: 7px; font-family: 'DejaVu Sans'">4</tspan>
</text>
</g>
</g>
</g>
<g id="xtick_58">
<g id="line2d_260">
<g>
<use href="#m1504cfccaf" x="93.437037" y="661.096296" style="stroke: #000000; stroke-width: 0.8"/>
</g>
</g>
<g id="text_109">
<g transform="translate(86.195822 691.853979) rotate(-45)">
<text>
<tspan x="0" y="-0.976562" style="font-size: 10px; font-family: 'DejaVu Sans'">−</tspan>
<tspan x="8.378906" y="-0.976562" style="font-size: 10px; font-family: 'DejaVu Sans'">1</tspan>
<tspan x="14.741211" y="-0.976562" style="font-size: 10px; font-family: 'DejaVu Sans'">0</tspan>
<tspan x="21.199219" y="-4.804688" style="font-size: 7px; font-family: 'DejaVu Sans'">3</tspan>
</text>
</g>
</g>
</g>
<g id="xtick_59">
<g id="line2d_261">
<g>
<use href="#m1504cfccaf" x="119.733333" y="661.096296" style="stroke: #000000; stroke-width: 0.8"/>
</g>
</g>
<g id="text_110">
<g transform="translate(112.492118 691.853979) rotate(-45)">
<text>
<tspan x="0" y="-0.976562" style="font-size: 10px; font-family: 'DejaVu Sans'">−</tspan>
<tspan x="8.378906" y="-0.976562" style="font-size: 10px; font-family: 'DejaVu Sans'">1</tspan>
<tspan x="14.741211" y="-0.976562" style="font-size: 10px; font-family: 'DejaVu Sans'">0</tspan>
<tspan x="21.199219" y="-4.804688" style="font-size: 7px; font-family: 'DejaVu Sans'">2</tspan>
</text>
</g>
</g>
</g>
<g id="xtick_60">
<g id="line2d_262">
<g>
<use href="#m1504cfccaf" x="146.02963" y="661.096296" style="stroke: #000000; stroke-width: 0.8"/>
</g>
</g>
<g id="text_111">
<g transform="translate(138.788414 691.853979) rotate(-45)">
<text>
<tspan x="0" y="-0.064063" style="font-size: 10px; font-family: 'DejaVu Sans'">−</tspan>
<tspan x="8.378906" y="-0.064063" style="font-size: 10px; font-family: 'DejaVu Sans'">1</tspan>
<tspan x="14.741211" y="-0.064063" style="font-size: 10px; font-family: 'DejaVu Sans'">0</tspan>
<tspan x="21.199219" y="-3.892188" style="font-size: 7px; font-family: 'DejaVu Sans'">1</tspan>
</text>
</g>
</g>
</g>
<g id="xtick_61">
<g id="line2d_263">
<g>
<use href="#m1504cfccaf" x="161.940741" y="661.096296" style="stroke: #000000; stroke-width: 0.8"/>
</g>
</g>
<g id="text_112">
<g transform="translate(157.669374 685.914282) rotate(-45)">
<text>
<tspan x="0" y="-0.064063" style="font-size: 10px; font-family: 'DejaVu Sans'">1</tspan>
<tspan x="6.362305" y="-0.064063" style="font-size: 10px; font-family: 'DejaVu Sans'">0</tspan>
<tspan x="12.820312" y="-3.892188" style="font-size: 7px; font-family: 'DejaVu Sans'">1</tspan>
</text>
</g>
</g>
</g>
<g id="xtick_62">
<g id="line2d_264">
<g>
<use href="#m1504cfccaf" x="188.237037" y="661.096296" style="stroke: #000000; stroke-width: 0.8"/>
</g>
</g>
<g id="text_113">
<g transform="translate(183.96567 685.914282) rotate(-45)">
<text>
<tspan x="0" y="-0.976562" style="font-size: 10px; font-family: 'DejaVu Sans'">1</tspan>
<tspan x="6.362305" y="-0.976562" style="font-size: 10px; font-family: 'DejaVu Sans'">0</tspan>
<tspan x="12.820312" y="-4.804688" style="font-size: 7px; font-family: 'DejaVu Sans'">2</tspan>
</text>
</g>
</g>
</g>
<g id="xtick_63">
<g id="line2d_265">
<g>
<use href="#m1504cfccaf" x="214.533333" y="661.096296" style="stroke: #000000; stroke-width: 0.8"/>
</g>
</g>
<g id="text_114">
<g transform="translate(210.261966 685.914282) rotate(-45)">
<text>
<tspan x="0" y="-0.976562" style="font-size: 10px; font-family: 'DejaVu Sans'">1</tspan>
<tspan x="6.362305" y="-0.976562" style="font-size: 10px; font-family: 'DejaVu Sans'">0</tspan>
<tspan x="12.820312" y="-4.804688" style="font-size: 7px; font-family: 'DejaVu Sans'">3</tspan>
</text>
</g>
</g>
</g>
<g id="xtick_64">
<g id="line2d_266">
<g>
<use href="#m1504cfccaf" x="240.82963" y="661.096296" style="stroke: #000000; stroke-width: 0.8"/>
</g>
</g>
<g id="text_115">
<g transform="translate(236.558263 685.914282) rotate(-45)">
<text>
<tspan x="0" y="-0.064063" style="font-size: 10px; font-family: 'DejaVu Sans'">1</tspan>
<tspan x="6.362305" y="-0.064063" style="font-size: 10px; font-family: 'DejaVu Sans'">0</tspan>
<tspan x="12.820312" y="-3.892188" style="font-size: 7px; font-family: 'DejaVu Sans'">4</tspan>
</text>
</g>
</g>
</g>
<g id="text_116">
<g transform="translate(126.501852 708.72454)">
<text>
<tspan x="0" y="-0.940625" style="font-style: oblique; font-size: 10px; font-family: 'DejaVu Sans'">m</tspan>
<tspan x="14.458008" y="-0.940625" style="font-style: oblique; font-size: 10px; font-family: 'DejaVu Sans'">v</tspan>
<tspan x="43.280078" y="-0.940625" style="font-style: oblique; font-size: 10px; font-family: 'DejaVu Sans'">e</tspan>
<tspan x="49.432422" y="-0.940625" style="font-style: oblique; font-size: 10px; font-family: 'DejaVu Sans'">V</tspan>
<tspan x="9.741211" y="0.7" style="font-style: oblique; font-size: 7px; font-family: 'DejaVu Sans'">p</tspan>
<tspan x="20.375977" y="1.79375" style="font-size: 7px; font-family: 'DejaVu Sans'">|</tspan>
<tspan x="20.822591" y="-4.804688" style="font-size: 7px; font-family: 'DejaVu Sans'">2</tspan>
<tspan x="22.734375" y="1.79375" style="font-size: 7px; font-family: 'DejaVu Sans'">|</tspan>
<tspan x="25.549642" y="-0.940625" style="font-size: 10px; font-family: 'DejaVu Sans'">/</tspan>
<tspan x="28.543783" y="-0.940625" style="font-size: 10px; font-family: 'DejaVu Sans'">2</tspan>
<tspan x="34.906087" y="-0.940625" style="font-size: 10px; font-family: 'DejaVu Sans'">,</tspan>
</text>
</g>
</g>
</g>
<g id="matplotlib.axis_28">
<g id="ytick_128">
<g id="line2d_267">
<g>
<use href="#m5d545ce8f8" x="60.474074" y="480.562963" style="stroke: #000000; stroke-width: 0.8"/>
</g>
</g>
<g id="text_117">
<g transform="translate(35.874074 484.362182)">
<text>
<tspan x="0" y="-0.064063" style="font-size: 10px; font-family: 'DejaVu Sans'">1</tspan>
<tspan x="6.362305" y="-0.064063" style="font-size: 10px; font-family: 'DejaVu Sans'">0</tspan>
<tspan x="12.820312" y="-3.892188" style="font-size: 7px; font-family: 'DejaVu Sans'">4</tspan>
</text>
</g>
</g>
</g>
<g id="ytick_129">
<g id="line2d_268">
<g>
<use href="#m5d545ce8f8" x="60.474074" y="506.859259" style="stroke: #000000; stroke-width: 0.8"/>
</g>
</g>
<g id="text_118">
<g transform="translate(35.874074 510.658478)">
<text>
<tspan x="0" y="-0.976562" style="font-size: 10px; font-family: 'DejaVu Sans'">1</tspan>
<tspan x="6.362305" y="-0.976562" style="font-size: 10px; font-family: 'DejaVu Sans'">0</tspan>
<tspan x="12.820312" y="-4.804688" style="font-size: 7px; font-family: 'DejaVu Sans'">3</tspan>
</text>
</g>
</g>
</g>
<g id="ytick_130">
<g id="line2d_269">
<g>
<use href="#m5d545ce8f8" x="60.474074" y="533.155556" style="stroke: #000000; stroke-width: 0.8"/>
</g>
</g>
<g id="text_119">
<g transform="translate(35.874074 536.954774)">
<text>
<tspan x="0" y="-0.976562" style="font-size: 10px; font-family: 'DejaVu Sans'">1</tspan>
<tspan x="6.362305" y="-0.976562" style="font-size: 10px; font-family: 'DejaVu Sans'">0</tspan>
<tspan x="12.820312" y="-4.804688" style="font-size: 7px; font-family: 'DejaVu Sans'">2</tspan>
</text>
</g>
</g>
</g>
<g id="ytick_131">
<g id="line2d_270">
<g>
<use href="#m5d545ce8f8" x="60.474074" y="559.451852" style="stroke: #000000; stroke-width: 0.8"/>
</g>
</g>
<g id="text_120">
<g transform="translate(35.874074 563.251071)">
<text>
<tspan x="0" y="-0.064063" style="font-size: 10px; font-family: 'DejaVu Sans'">1</tspan>
<tspan x="6.362305" y="-0.064063" style="font-size: 10px; font-family: 'DejaVu Sans'">0</tspan>
<tspan x="12.820312" y="-3.892188" style="font-size: 7px; font-family: 'DejaVu Sans'">1</tspan>
</text>
</g>
</g>
</g>
<g id="ytick_132">
<g id="line2d_271">
<g>
<use href="#m5d545ce8f8" x="60.474074" y="575.362963" style="stroke: #000000; stroke-width: 0.8"/>
</g>
</g>
<g id="text_121">
<g transform="translate(27.474074 579.162182)">
<text>
<tspan x="0" y="-0.064063" style="font-size: 10px; font-family: 'DejaVu Sans'">−</tspan>
<tspan x="8.378906" y="-0.064063" style="font-size: 10px; font-family: 'DejaVu Sans'">1</tspan>
<tspan x="14.741211" y="-0.064063" style="font-size: 10px; font-family: 'DejaVu Sans'">0</tspan>
<tspan x="21.199219" y="-3.892188" style="font-size: 7px; font-family: 'DejaVu Sans'">1</tspan>
</text>
</g>
</g>
</g>
<g id="ytick_133">
<g id="line2d_272">
<g>
<use href="#m5d545ce8f8" x="60.474074" y="601.659259" style="stroke: #000000; stroke-width: 0.8"/>
</g>
</g>
<g id="text_122">
<g transform="translate(27.474074 605.458478)">
<text>
<tspan x="0" y="-0.976562" style="font-size: 10px; font-family: 'DejaVu Sans'">−</tspan>
<tspan x="8.378906" y="-0.976562" style="font-size: 10px; font-family: 'DejaVu Sans'">1</tspan>
<tspan x="14.741211" y="-0.976562" style="font-size: 10px; font-family: 'DejaVu Sans'">0</tspan>
<tspan x="21.199219" y="-4.804688" style="font-size: 7px; font-family: 'DejaVu Sans'">2</tspan>
</text>
</g>
</g>
</g>
<g id="ytick_134">
<g id="line2d_273">
<g>
<use href="#m5d545ce8f8" x="60.474074" y="627.955556" style="stroke: #000000; stroke-width: 0.8"/>
</g>
</g>
<g id="text_123">
<g transform="translate(27.474074 631.754774)">
<text>
<tspan x="0" y="-0.976562" style="font-size: 10px; font-family: 'DejaVu Sans'">−</tspan>
<tspan x="8.378906" y="-0.976562" style="font-size: 10px; font-family: 'DejaVu Sans'">1</tspan>
<tspan x="14.741211" y="-0.976562" style="font-size: 10px; font-family: 'DejaVu Sans'">0</tspan>
<tspan x="21.199219" y="-4.804688" style="font-size: 7px; font-family: 'DejaVu Sans'">3</tspan>
</text>
</g>
</g>
</g>
<g id="ytick_135">
<g id="line2d_274">
<g>
<use href="#m5d545ce8f8" x="60.474074" y="654.251852" style="stroke: #000000; stroke-width: 0.8"/>
</g>
</g>
<g id="text_124">
<g transform="translate(27.474074 658.051071)">
<text>
<tspan x="0" y="-0.064063" style="font-size: 10px; font-family: 'DejaVu Sans'">−</tspan>
<tspan x="8.378906" y="-0.064063" style="font-size: 10px; font-family: 'DejaVu Sans'">1</tspan>
<tspan x="14.741211" y="-0.064063" style="font-size: 10px; font-family: 'DejaVu Sans'">0</tspan>
<tspan x="21.199219" y="-3.892188" style="font-size: 7px; font-family: 'DejaVu Sans'">4</tspan>
</text>
</g>
</g>
</g>
<g id="text_125">
<g transform="translate(20.374074 596.611111) rotate(-90)">
<text>
<tspan x="0" y="-0.976562" style="font-style: oblique; font-size: 10px; font-family: 'DejaVu Sans'">m</tspan>
<tspan x="14.458008" y="-0.976562" style="font-style: oblique; font-size: 10px; font-family: 'DejaVu Sans'">v</tspan>
<tspan x="45.958384" y="-0.976562" style="font-style: oblique; font-size: 10px; font-family: 'DejaVu Sans'">e</tspan>
<tspan x="52.110728" y="-0.976562" style="font-style: oblique; font-size: 10px; font-family: 'DejaVu Sans'">V</tspan>
<tspan x="9.741211" y="0.664062" style="font-style: oblique; font-size: 7px; font-family: 'DejaVu Sans'">p</tspan>
<tspan x="20.822591" y="-4.804688" style="font-size: 7px; font-family: 'DejaVu Sans'">2</tspan>
<tspan x="21.739746" y="1.757812" style="font-size: 7px; font-family: 'STIXGeneral'">⟂</tspan>
<tspan x="28.227948" y="-0.976562" style="font-size: 10px; font-family: 'DejaVu Sans'">/</tspan>
<tspan x="31.222089" y="-0.976562" style="font-size: 10px; font-family: 'DejaVu Sans'">2</tspan>
<tspan x="37.584393" y="-0.976562" style="font-size: 10px; font-family: 'DejaVu Sans'">,</tspan>
</text>
</g>
</g>
</g>
<g id="patch_74">
<path d="M 60.47 661.1 L 60.47 473.13" style="fill: none; stroke: #000000; stroke-width: 0.8; stroke-linejoin: miter; stroke-linecap: square"/>
</g>
<g id="patch_75">
<path d="M 248.83 661.1 L 248.83 473.13" style="fill: none; stroke: #000000; stroke-width: 0.8; stroke-linejoin: miter; stroke-linecap: square"/>
</g>
<g id="patch_76">
<path d="M 60.47 661.1 L 248.83 661.1" style="fill: none; stroke: #000000; stroke-width: 0.8; stroke-linejoin: miter; stroke-linecap: square"/>
</g>
<g id="patch_77">
<path d="M 60.47 473.13 L 248.83 473.13" style="fill: none; stroke: #000000; stroke-width: 0.8; stroke-linejoin: miter; stroke-linecap: square"/>
</g>
<g id="text_126">
<g id="patch_78">
<path d="M 62.02 659.66 L 133.3 659.66 L 133.3 637.71 L 62.02 637.71 z" style="stroke: #000000; stroke-linejoin: miter"/>
</g>
<text style="font-size: 14px; font-family: 'DejaVu Sans'; text-anchor: start; fill: #ffffff" x="66.218919" y="652.545623" transform="rotate(-0 66.218919 652.545623)">11:56:45</text>
</g>
</g>
<g id="axes_15">
<g id="patch_79">
<path d="M 256.09 661.1 L 265.72 661.1 L 265.72 473.13 L 256.09 473.13 L 256.09 661.1 z" style="fill: none; opacity: 0"/>
</g>
<g id="patch_80">
<path d="M 256.09 473.13 L 265.72 473.13 L 265.72 483.11 L 256.09 483.11 z" clip-path="url(#p697aa1337d)" style="fill: #ff2500"/>
</g>
<g id="patch_81">
<path d="M 256.09 483.02 L 265.72 483.02 L 265.72 493 L 256.09 493 z" clip-path="url(#p697aa1337d)" style="fill: #ff6f00"/>
</g>
<g id="patch_82">
<path d="M 256.09 492.91 L 265.72 492.91 L 265.72 502.89 L 256.09 502.89 z" clip-path="url(#p697aa1337d)" style="fill: #ffb900"/>
</g>
<g id="patch_83">
<path d="M 256.09 502.81 L 265.72 502.81 L 265.72 512.79 L 256.09 512.79 z" clip-path="url(#p697aa1337d)" style="fill: #e4ff13"/>
</g>
<g id="patch_84">
<path d="M 256.09 512.7 L 265.72 512.7 L 265.72 522.68 L 256.09 522.68 z" clip-path="url(#p697aa1337d)" style="fill: #a0ff56"/>
</g>
<g id="patch_85">
<path d="M 256.09 522.59 L 265.72 522.59 L 265.72 532.57 L 256.09 532.57 z" clip-path="url(#p697aa1337d)" style="fill: #5dff9a"/>
</g>
<g id="patch_86">
<path d="M 256.09 532.48 L 265.72 532.48 L 265.72 542.47 L 256.09 542.47 z" clip-path="url(#p697aa1337d)" style="fill: #19ffde"/>
</g>
<g id="patch_87">
<path d="M 256.09 542.38 L 265.72 542.38 L 265.72 552.36 L 256.09 552.36 z" clip-path="url(#p697aa1337d)" style="fill: #00a8ff"/>
</g>
<g id="patch_88">
<path d="M 256.09 552.27 L 265.72 552.27 L 265.72 562.25 L 256.09 562.25 z" clip-path="url(#p697aa1337d)" style="fill: #004cff"/>
</g>
<g id="patch_89">
<path d="M 256.09 562.16 L 265.72 562.16 L 265.72 572.15 L 256.09 572.15 z" clip-path="url(#p697aa1337d)" style="fill: #0000ff"/>
</g>
<g id="patch_90">
<path d="M 256.09 572.06 L 265.72 572.06 L 265.72 582.04 L 256.09 582.04 z" clip-path="url(#p697aa1337d)" style="fill: #0000ad"/>
</g>
<g id="patch_91">
<path d="M 256.09 581.95 L 265.72 581.95 L 265.72 591.93 L 256.09 591.93 z" clip-path="url(#p697aa1337d)" style="fill: #000080"/>
</g>
<g id="patch_92">
<path d="M 256.09 591.84 L 265.72 591.84 L 265.72 601.83 L 256.09 601.83 z" clip-path="url(#p697aa1337d)" style="fill: #000080"/>
</g>
<g id="patch_93">
<path d="M 256.09 601.74 L 265.72 601.74 L 265.72 611.72 L 256.09 611.72 z" clip-path="url(#p697aa1337d)" style="fill: #000080"/>
</g>
<g id="patch_94">
<path d="M 256.09 611.63 L 265.72 611.63 L 265.72 621.61 L 256.09 621.61 z" clip-path="url(#p697aa1337d)" style="fill: #000080"/>
</g>
<g id="patch_95">
<path d="M 256.09 621.52 L 265.72 621.52 L 265.72 631.51 L 256.09 631.51 z" clip-path="url(#p697aa1337d)" style="fill: #000080"/>
</g>
<g id="patch_96">
<path d="M 256.09 631.42 L 265.72 631.42 L 265.72 641.4 L 256.09 641.4 z" clip-path="url(#p697aa1337d)" style="fill: #000080"/>
</g>
<g id="patch_97">
<path d="M 256.09 641.31 L 265.72 641.31 L 265.72 651.29 L 256.09 651.29 z" clip-path="url(#p697aa1337d)" style="fill: #000080"/>
</g>
<g id="patch_98">
<path d="M 256.09 651.2 L 265.72 651.2 L 265.72 661.19 L 256.09 661.19 z" clip-path="url(#p697aa1337d)" style="fill: #000080"/>
</g>
<g id="matplotlib.axis_29"/>
<g id="matplotlib.axis_30">
<g id="ytick_136">
<g id="line2d_275">
<g>
<use href="#m33c4ce201d" x="265.718519" y="482.785185" style="stroke: #000000; stroke-width: 0.8"/>
</g>
</g>
<g id="text_127">
<g transform="translate(272.718519 486.584404)">
<text>
<tspan x="0" y="-0.064063" style="font-size: 10px; font-family: 'DejaVu Sans'">1</tspan>
<tspan x="6.362305" y="-0.064063" style="font-size: 10px; font-family: 'DejaVu Sans'">0</tspan>
<tspan x="12.820312" y="-3.892188" style="font-size: 7px; font-family: 'DejaVu Sans'">−</tspan>
<tspan x="18.685547" y="-3.892188" style="font-size: 7px; font-family: 'DejaVu Sans'">7</tspan>
</text>
</g>
</g>
</g>
<g id="ytick_137">
<g id="line2d_276">
<g>
<use href="#m33c4ce201d" x="265.718519" y="502.592593" style="stroke: #000000; stroke-width: 0.8"/>
</g>
</g>
<g id="text_128">
<g transform="translate(272.718519 506.391811)">
<text>
<tspan x="0" y="-0.976562" style="font-size: 10px; font-family: 'DejaVu Sans'">1</tspan>
<tspan x="6.362305" y="-0.976562" style="font-size: 10px; font-family: 'DejaVu Sans'">0</tspan>
<tspan x="12.820312" y="-4.804688" style="font-size: 7px; font-family: 'DejaVu Sans'">−</tspan>
<tspan x="18.685547" y="-4.804688" style="font-size: 7px; font-family: 'DejaVu Sans'">8</tspan>
</text>
</g>
</g>
</g>
<g id="ytick_138">
<g id="line2d_277">
<g>
<use href="#m33c4ce201d" x="265.718519" y="522.4" style="stroke: #000000; stroke-width: 0.8"/>
</g>
</g>
<g id="text_129">
<g transform="translate(272.718519 526.199219)">
<text>
<tspan x="0" y="-0.976562" style="font-size: 10px; font-family: 'DejaVu Sans'">1</tspan>
<tspan x="6.362305" y="-0.976562" style="font-size: 10px; font-family: 'DejaVu Sans'">0</tspan>
<tspan x="12.820312" y="-4.804688" style="font-size: 7px; font-family: 'DejaVu Sans'">−</tspan>
<tspan x="18.685547" y="-4.804688" style="font-size: 7px; font-family: 'DejaVu Sans'">9</tspan>
</text>
</g>
</g>
</g>
<g id="ytick_139">
<g id="line2d_278">
<g>
<use href="#m33c4ce201d" x="265.718519" y="542.207407" style="stroke: #000000; stroke-width: 0.8"/>
</g>
</g>
<g id="text_130">
<g transform="translate(272.718519 546.006626)">
<text>
<tspan x="0" y="-0.976562" style="font-size: 10px; font-family: 'DejaVu Sans'">1</tspan>
<tspan x="6.362305" y="-0.976562" style="font-size: 10px; font-family: 'DejaVu Sans'">0</tspan>
<tspan x="12.820312" y="-4.804688" style="font-size: 7px; font-family: 'DejaVu Sans'">−</tspan>
<tspan x="18.685547" y="-4.804688" style="font-size: 7px; font-family: 'DejaVu Sans'">1</tspan>
<tspan x="23.13916" y="-4.804688" style="font-size: 7px; font-family: 'DejaVu Sans'">0</tspan>
</text>
</g>
</g>
</g>
<g id="ytick_140">
<g id="line2d_279">
<g>
<use href="#m33c4ce201d" x="265.718519" y="562.014815" style="stroke: #000000; stroke-width: 0.8"/>
</g>
</g>
<g id="text_131">
<g transform="translate(272.718519 565.814034)">
<text>
<tspan x="0" y="-0.064063" style="font-size: 10px; font-family: 'DejaVu Sans'">1</tspan>
<tspan x="6.362305" y="-0.064063" style="font-size: 10px; font-family: 'DejaVu Sans'">0</tspan>
<tspan x="12.820312" y="-3.892188" style="font-size: 7px; font-family: 'DejaVu Sans'">−</tspan>
<tspan x="18.685547" y="-3.892188" style="font-size: 7px; font-family: 'DejaVu Sans'">1</tspan>
<tspan x="23.13916" y="-3.892188" style="font-size: 7px; font-family: 'DejaVu Sans'">1</tspan>
</text>
</g>
</g>
</g>
<g id="ytick_141">
<g id="line2d_280">
<g>
<use href="#m33c4ce201d" x="265.718519" y="581.822222" style="stroke: #000000; stroke-width: 0.8"/>
</g>
</g>
<g id="text_132">
<g transform="translate(272.718519 585.621441)">
<text>
<tspan x="0" y="-0.976562" style="font-size: 10px; font-family: 'DejaVu Sans'">1</tspan>
<tspan x="6.362305" y="-0.976562" style="font-size: 10px; font-family: 'DejaVu Sans'">0</tspan>
<tspan x="12.820312" y="-4.804688" style="font-size: 7px; font-family: 'DejaVu Sans'">−</tspan>
<tspan x="18.685547" y="-4.804688" style="font-size: 7px; font-family: 'DejaVu Sans'">1</tspan>
<tspan x="23.13916" y="-4.804688" style="font-size: 7px; font-family: 'DejaVu Sans'">2</tspan>
</text>
</g>
</g>
</g>
<g id="ytick_142">
<g id="line2d_281">
<g>
<use href="#m33c4ce201d" x="265.718519" y="601.62963" style="stroke: #000000; stroke-width: 0.8"/>
</g>
</g>
<g id="text_133">
<g transform="translate(272.718519 605.428848)">
<text>
<tspan x="0" y="-0.976562" style="font-size: 10px; font-family: 'DejaVu Sans'">1</tspan>
<tspan x="6.362305" y="-0.976562" style="font-size: 10px; font-family: 'DejaVu Sans'">0</tspan>
<tspan x="12.820312" y="-4.804688" style="font-size: 7px; font-family: 'DejaVu Sans'">−</tspan>
<tspan x="18.685547" y="-4.804688" style="font-size: 7px; font-family: 'DejaVu Sans'">1</tspan>
<tspan x="23.13916" y="-4.804688" style="font-size: 7px; font-family: 'DejaVu Sans'">3</tspan>
</text>
</g>
</g>
</g>
<g id="ytick_143">
<g id="line2d_282">
<g>
<use href="#m33c4ce201d" x="265.718519" y="621.437037" style="stroke: #000000; stroke-width: 0.8"/>
</g>
</g>
<g id="text_134">
<g transform="translate(272.718519 625.236256)">
<text>
<tspan x="0" y="-0.064063" style="font-size: 10px; font-family: 'DejaVu Sans'">1</tspan>
<tspan x="6.362305" y="-0.064063" style="font-size: 10px; font-family: 'DejaVu Sans'">0</tspan>
<tspan x="12.820312" y="-3.892188" style="font-size: 7px; font-family: 'DejaVu Sans'">−</tspan>
<tspan x="18.685547" y="-3.892188" style="font-size: 7px; font-family: 'DejaVu Sans'">1</tspan>
<tspan x="23.13916" y="-3.892188" style="font-size: 7px; font-family: 'DejaVu Sans'">4</tspan>
</text>
</g>
</g>
</g>
<g id="ytick_144">
<g id="line2d_283">
<g>
<use href="#m33c4ce201d" x="265.718519" y="641.244444" style="stroke: #000000; stroke-width: 0.8"/>
</g>
</g>
<g id="text_135">
<g transform="translate(272.718519 645.043663)">
<text>
<tspan x="0" y="-0.064063" style="font-size: 10px; font-family: 'DejaVu Sans'">1</tspan>
<tspan x="6.362305" y="-0.064063" style="font-size: 10px; font-family: 'DejaVu Sans'">0</tspan>
<tspan x="12.820312" y="-3.892188" style="font-size: 7px; font-family: 'DejaVu Sans'">−</tspan>
<tspan x="18.685547" y="-3.892188" style="font-size: 7px; font-family: 'DejaVu Sans'">1</tspan>
<tspan x="23.13916" y="-3.892188" style="font-size: 7px; font-family: 'DejaVu Sans'">5</tspan>
</text>
</g>
</g>
</g>
<g id="text_136">
<g transform="translate(313.038831 605.111111) rotate(-90)">
<text>
<tspan x="0" y="-0.976562" style="font-style: oblique; font-size: 10px; font-family: 'DejaVu Sans'">f</tspan>
<tspan x="11.894499" y="-0.976562" style="font-style: oblique; font-size: 10px; font-family: 'DejaVu Sans'">s</tspan>
<tspan x="29.566133" y="-0.976562" style="font-style: oblique; font-size: 10px; font-family: 'DejaVu Sans'">c</tspan>
<tspan x="35.06418" y="-0.976562" style="font-style: oblique; font-size: 10px; font-family: 'DejaVu Sans'">m</tspan>
<tspan x="57.071751" y="-0.976562" style="font-style: oblique; font-size: 10px; font-family: 'DejaVu Sans'">m</tspan>
<tspan x="3.520508" y="-0.976562" style="font-size: 10px; font-family: 'DejaVu Sans'">,</tspan>
<tspan x="22.295625" y="-0.976562" style="font-size: 10px; font-family: 'DejaVu Sans'">/</tspan>
<tspan x="25.664766" y="-0.976562" style="font-size: 10px; font-family: 'DejaVu Sans'">(</tspan>
<tspan x="51.944798" y="-0.976562" style="font-size: 10px; font-family: 'DejaVu Sans'">⋅</tspan>
<tspan x="72.004128" y="-0.976562" style="font-size: 10px; font-family: 'DejaVu Sans'">)</tspan>
<tspan x="17.568574" y="-4.804688" style="font-size: 7px; font-family: 'DejaVu Sans'">3</tspan>
<tspan x="45.269505" y="-4.804688" style="font-size: 7px; font-family: 'DejaVu Sans'">3</tspan>
<tspan x="67.277077" y="-4.804688" style="font-size: 7px; font-family: 'DejaVu Sans'">3</tspan>
</text>
</g>
</g>
</g>
<g id="patch_99">
<path d="M 256.09 661.1 L 256.09 473.13" style="fill: none; stroke: #000000; stroke-width: 0.8; stroke-linejoin: miter; stroke-linecap: square"/>
</g>
<g id="patch_100">
<path d="M 265.72 661.1 L 265.72 473.13" style="fill: none; stroke: #000000; stroke-width: 0.8; stroke-linejoin: miter; stroke-linecap: square"/>
</g>
<g id="patch_101">
<path d="M 256.09 661.1 L 265.72 661.1" style="fill: none; stroke: #000000; stroke-width: 0.8; stroke-linejoin: miter; stroke-linecap: square"/>
</g>
<g id="patch_102">
<path d="M 256.09 473.13 L 265.72 473.13" style="fill: none; stroke: #000000; stroke-width: 0.8; stroke-linejoin: miter; stroke-linecap: square"/>
</g>
</g>
<g id="axes_16">
<g id="patch_103">
<path d="M 384.3 661.1 L 572.65 661.1 L 572.65 473.13 L 384.3 473.13 L 384.3 661.1 z" style="fill: none; opacity: 0"/>
</g>
<g id="cont_k" transform="scale(0.296296)">
<defs><clipPath id="clip1297"><rect x="1297.0" y="1596.8" width="635.7" height="634.4"/></clipPath></defs>
<g clip-path="url(#clip1297)" stroke-linejoin="round">
<path fill="#000" d="M1942 1914l0-6 2-2 0-6 -6-2 0-4 -2-2 6-4 0-6 -6-2 0-6 -2-2 0-6 2-2 -2-4 0-2 -2-2 0-10 -2-2 0-2 2-4 -2-2 0-4 -4-2 0-6 2-2 -2-4 0-4 -2-4 0-2 4-4 -2-4 0-2 -6-2 0-2 -2-2 2-4 0-4 -2-2 -6 0 -2-2 0-6 -2-4 0-2 -2-2 0-4 -4-4 0-2 -2-4 2-4 -2-2 0-2 -4-2 -2-2 -2-4 0-2 -4-4 0-6 -2-4 -4 0 -4-4 0-4 -4-4 0-4 -4-4 -4 0 -4-4 -4-2 -4-4 0-2 -4-4 -4 0 -10-10 -2-4 -4-4 0-4 -6-6 -4 0 -4-4 -2 0 -4-2 -6-6 -6 0 -4-2 0-4 -4-4 -6 4 -4-4 -6 0 -4-4 -4-2 -8 0 -2-2 -4-2 -2 0 -2-2 -2-4 -2 0 -2-2 -10 0 -2-4 -2-2 -2 0 -4 2 -2 0 -4-2 -2-2 -8 0 -4-2 -2 0 -4-4 -4 0 -2 2 -4 0 -2-2 -4 2 -2 0 -2-2 -4 2 -2-2 -20 0 -2-4 -14 0 -2 4 -6 0 -2-4 -28 0 -4 2 -8 0 -2 2 -8 0 -2 2 -4 0 -4 4 -4 0 -2-4 -4 2 -2 0 -4-4 -6 0 -2 4 -4 0 -4 2 -2 0 -2 2 -6 0 -2 2 -2 4 -2 0 -4 2 -2 2 -10 0 -4 2 -2 0 -2 2 -4 0 0 4 -4 0 -2 2 -2 0 -2 2 -6 0 -2 2 -4 2 0 2 -4 2 -2 0 -2 2 -2 0 -4 2 -2 0 -2 2 -4 2 0 2 -4 2 -2 0 -6 6 -4-2 -4 4 -4 0 -4 4 -4 0 -10 10 0 4 -4 4 -2 0 -4 4 -2 4 -4 4 -2 0 -16 16 -4 2 -4 4 2 4 -14 14 0 2 -2 4 -4 4 0 2 -4 4 -6 2 0 2 -2 2 0 2 -2 4 -6 6 0 2 -4 2 0 4 -2 2 6 6 -2 2 0 2 -2 4 0 2 -2 2 -4 2 0 2 -2 4 0 4 -2 4 -2 2 0 2 -2 2 0 6 -2 4 0 2 -2 2 0 4 -4 4 0 4 -4 4 0 4 2 2 0 4 -2 2 0 6 -2 2 -2 4 0 4 -2 4 0 14 -2 2 0 6 2 4 0 10 -2 4 2 2 0 16 2 2 0 6 -6 4 0 4 4 4 0 22 2 4 0 2 2 4 4 4 0 8 2 4 0 2 2 4 0 2 4 4 0 6 2 4 0 2 2 2 0 4 2 2 -2 4 4 4 2 4 0 2 2 2 0 4 2 2 0 6 2 2 0 4 4 2 0 2 2 2 6 0 0 4 4 4 0 2 2 4 4 4 0 6 2 2 2 4 6 6 4 0 2 2 0 4 12 12 0 4 10 10 4 0 4 4 0 4 4 4 4 2 4 4 6 0 2 2 4 2 4 4 0 2 4 2 2 2 0 4 4 0 2 2 4 0 2 2 2 0 4 4 4 2 0 2 4 2 4 4 2 0 4 2 4 4 10 0 4 4 2 0 4 2 2 0 2 2 6 0 4 2 8 0 2 2 2 4 2 2 4 0 2 2 6 0 2 2 6 0 2 2 2 0 4 2 6 0 2 2 4-4 14 0 2 4 6 0 2-2 6 0 4 4 14 0 2-2 14 0 2 4 6 0 4-2 2 0 2-2 10 0 2 2 6 0 2-2 8 0 4-2 2 0 4 2 2-2 6 0 2-2 4 0 2 4 4 0 4-4 4-2 8 0 2-2 2-4 6 0 4 2 2-2 2 0 2-2 4-2 2 0 2-2 4-2 4 0 4-2 2 0 2-4 4-4 2 0 4-2 2-2 4 2 2-2 2 0 2-2 4-2 2-2 4 4 4-2 2 0 2-4 2-2 6 0 4-4 2-4 2 0 2-2 0-6 2 0 4-2 6-6 2 0 4-4 2-4 4-4 6 4 4-4 2-4 2 0 8-8 2-4 4-4 0-2 2-2 2-4 4 0 4-4 0-2 2-4 2-2 2 0 2-4 6-6 0-6 4-4 4-2 4-4 0-2 2-4 0-2 4-2 0-2 2-2 2-4 0-2 6-6 2-4 0-2 2-2 0-6 2-4 2-2 0-6 2-2 -2-4 2-2 0-2 6-2 2-2 0-2 -2-4 2-4 0-2 -2-4 0-6 4-2 0-2 2-4 0-2 2-2 0-4 2-2 0-6 2-2 0-2 2-4 0-16 -2-4 0-6 2-2 0-24z"/>
<path fill="#000080" fill-rule="evenodd" stroke="none" d="M1588.5 1612l2.5-3 69 0 3 3 15 0 3 3 9 0 3 3 9 0 3 3 6 0 3 3 3 0 3 3 6 0 3 3 3 0 3 3 6 0 3 3 3 0 3 3 3 0 6 6 3 0 3 3 3 0 6 6 3 0 3 3 3 0 9 9 3 0 12 12 3 0 38.5 39 0 3 12 12 0 3 6 6 0 3 6 6 0 3 6 6 0 3 3 3 0 3 3 3 0 3 6 6 0 3 3 3 0 6 3 3 0 3 3 3 0 3 3 3 0 6 3 3 0 6 3 3 0 6 3 3 0 6 3 3 0 12 3 3 0 12 3 3 0 21 3 3 0 45 -3 3 0 21 -3 3 0 12 -3 3 0 12 -3 3 0 6 -3 3 0 6 -3 3 0 6 -3 3 0 3 -3 3 0 6 -3 3 0 3 -3 3 0 3 -3 3 0 3 -3 3 0 3 -3 3 0 3 -6 6 0 3 -6 6 0 3 -6 6 0 3 -12 12 0 3 -32.5 32.5 -3 0 -12 12 -3 0 -6 6 -3 0 -6 6 -3 0 -3 3 -3 0 -6 6 -3 0 -3 3 -3 0 -3 3 -3 0 -3 3 -3 0 -3 3 -6 0 -3 3 -3 0 -3 3 -6 0 -3 3 -6 0 -3 3 -6 0 -3 3 -9 0 -3 3 -9 0 -3 3 -15 0 -3 3 -21 0 -3 3 -57 0 -3-3 -24 0 -3-3 -12 0 -3-3 -12 0 -3-3 -9 0 -3-3 -6 0 -3-3 -6 0 -3-3 -6 0 -3-3 -3 0 -3-3 -6 0 -3-3 -3 0 -3-3 -3 0 -3-3 -3 0 -3-3 -3 0 -3-3 -3 0 -6-6 -3 0 -3-3 -3 0 -9-9 -3 0 -6-6 -3 0 -15-15 -3 0 -20.5-20.5 0-3 -15-15 0-3 -9-9 0-3 -6-6 0-3 -3-3 0-3 -6-6 0-3 -3-3 0-3 -3-3 0-3 -3-3 0-3 -3-3 0-6 -3-3 0-3 -3-3 0-6 -3-3 0-6 -3-3 0-9 -3-3 0-9 -3-3 0-18 -3-3 0-54 3-3 0-18 3-3 0-9 3-3 0-9 3-3 0-6 3-3 0-6 3-3 0-3 3-3 0-6 3-3 0-3 3-3 0-3 3-3 0-3 3-3 0-3 3-3 0-3 6-6 0-3 3-3 0-3 6-6 0-3 9-9 0-3 9-9 0-3 24-24 0-3 2.5-3 6-6 3 0 27-27 3 0 9-9 3 0 9-9 3 0 6-6 3 0 6-6 3 0 3-3 3 0 6-6 3 0 3-3 3 0 3-3 3 0 3-3 3 0 3-3 3 0 3-3 6 0 3-3 3 0 3-3 6 0 3-3 6 0 3-3 9 0 3-3 9 0 3-3z"/>
<path fill="#0000bb" fill-rule="evenodd" stroke="#000" stroke-width="4.4" d="M1581 1615l28-1 24 1.5 47 8.5 13.5 3 20.5 5.5 16.5 6.5 19 9 16 9 39.5 27 11 9 12 11 18 21 18 25.5 18 29.5 9 18.5 9 25 6 23.5 6 35 2 27 0 18 -2 29 -3 16 -9.5 33 -11.5 33 -9 18 -9 13.5 -6 6.5 -9 8 -36 29.5 -54 42 -15 10 -20 10.5 -23 9 -20 6 -12 3 -18 3 -31 3 -26 0 -27-2 -18.5-4 -9-3 -13-6 -43.5-29.5 -18-11 -9-4 -9-3.5 -27-4.5 -9-4 -9.5-6.5 -8.5-7 -8.5-8 -9.5-12 -18-30.5 -18-27.5 -6-10 -6-13.5 -6-17.5 -3-12.5 -3-20 0-6.5 3-11 3-3.5 3-1 3-5.5 1.5-6 2-15 3.5-33 7.5-39 1.5-24 2-9 3-9 5.5-12 2-3 1.5-3.5 6-8.5 15-17.5 23-30.5 19.5-24 28.5-27 22-18.5 21-14 3-0.5 3-3 3 0 3-3 3 0 3-3 6 0 3-3 3 0 3-3 6-0.5 3-2.5 6-0.5 3-2.5 9-0.5 3-2.5 9-0.5 3-1.5z"/>
<path fill="#0000ff" fill-rule="evenodd" stroke="#000" stroke-width="4.4" d="M1578 1621l13-1.5 15-0.5 24 2 51 10 36 9.5 15 5.5 15 8 58 39 14.5 12 16.5 18 22 30.5 17 26.5 9 18 6.5 18 5.5 21 5 24 3 27 1.5 27 -1 27 -2.5 21 -6.5 27 -12 36 -10.5 23 -9 13 -9 9 -9 8 -21 17.5 -15 11.5 -57 40.5 -21 10.5 -36 15.5 -15 5 -15 3 -21 2 -24 0.5 -21-1.5 -12-2 -18-4.5 -15-6 -13-7 -11-8.5 -15-15 -21-27.5 -30-33 -8.5-12 -5.5-9 -13-26.5 -6-9.5 -25.5-33 -9.5-15 -1-3.5 -3.5-5.5 -6-15 -4-12 -2-12 -2-18 1-18 7.5-45 2-27 2.5-12 4.5-9 12-19.5 6-11 21-44.5 2.5-3 24-39 6-9 7-6 12-9 15-9 18.5-9 26-10.5 12-3.5z"/>
<path fill="#0038ff" fill-rule="evenodd" stroke="#000" stroke-width="4.4" d="M1587 1627l22-1 21 2.5 51 11 36 10.5 15 6 12 6.5 57 37 16.5 14.5 13.5 15 21 27.5 15 23.5 9.5 18 6.5 18 5.5 21 4 21 3 27 1 27 -0.5 27 -2.5 24 -6.5 27 -11 32 -9 19.5 -9 13.5 -12 12.5 -24 20 -15 11 -54 36 -18 9.5 -36 15.5 -15 5.5 -15 3 -12 1 -9 0 -21-1.5 -24-3 -15-4 -18-6.5 -18-9 -9-6 -12-10 -6.5-7 -17.5-25.5 -30-38 -46-71.5 -9.5-18 -5-12 -7.5-24 -4.5-18 -1.5-15 0-21 4.5-30 6-24 12-30 8.5-18 13-24 10-27 2.5-6 2.5-3 6-15 2-3 4-9 7.5-12 7-9 9-9 13-9 5.5-3 13.5-6 22.5-8.5 15-3.5z"/>
<path fill="#007cff" fill-rule="evenodd" stroke="#000" stroke-width="4.4" d="M1592 1636l20-0.5 18 2.5 45 9.5 36 10 15 6 12 6 54 33.5 15 11.5 18 18.5 18 22.5 14.5 21.5 9.5 17 6.5 16 6.5 21 4 21 3 24 0.5 27 -0.5 39 -3 24 -5.5 24 -9.5 27 -8 17.5 -8 12.5 -4.5 6 -11.5 11 -12 10 -21 15 -48 30.5 -15 8.5 -19.5 9 -28.5 11.5 -15 4 -15 1.5 -15-1 -30-3.5 -18-4 -26.5-8.5 -9.5-5.5 -15-10.5 -6-5 -6-6 -7-9 -20-28.5 -27-32 -38-56.5 -8-15 -7-18 -5.5-18 -3.5-18 -1.5-12 -0.5-18 1-15 2-12 6-24 19.5-57 10-21 21.5-30 7-12 5.5-15 2.5-3 1.5-6 7-12 7.5-9 11.5-9 6.5-4.5 15-7.5 18-7 12-2.5z"/>
<path fill="#00bcff" fill-rule="evenodd" stroke="#000" stroke-width="4.4" d="M1590.5 1648l18.5-1.5 18 1.5 39 7.5 33 8.5 18 6 18 8.5 39 22.5 15 10 12 9 15 14 15 17.5 16.5 22.5 10.5 17.5 7 15.5 6 18 4.5 18 3 21 1 21 -1 45 -2 30 -5 24 -7.5 24 -8 18 -9 15 -7 8 -12 11.5 -24 17 -21 13.5 -18 10 -28 15 -41 17.5 -15 4 -15 1.5 -12-1 -12-2 -24-5.5 -15-4.5 -21-8.5 -15-7 -10.5-6.5 -12-12 -28-39 -27.5-32.5 -30-39.5 -7-12 -8-17 -4.5-13 -3.5-15 -2-15 -0.5-15 0.5-15 2.5-15 4.5-18 8.5-27 11-42 4.5-11.5 6.5-12.5 13.5-18 25-27 12-22 2-2 4-6.5 9-8.5 12-8 15-6.5 9-3zM1603 1950l-1 1 -1 3 2 4 3 0 1.5-1 1.5-3 -2.5-3z"/>
<path fill="#16ffe1" fill-rule="evenodd" stroke="#000" stroke-width="4.4" d="M1606 1660l15-0.5 21 2.5 36.5 7 23.5 6.5 18 6.5 18 9 30 16.5 18 11 15 12 15 14.5 15 18 12 16.5 9 15.5 6 12.5 5 14.5 5.5 21 2 18 1 27 -1.5 48 -2 24 -3 18 -6 21 -7.5 18 -7 12 -7.5 10.5 -7.5 7.5 -13.5 11.5 -12 8 -33 17 -3 1 -30 14 -21 7.5 -24 7.5 -9 1.5 -12 0 -33-3 -18-2.5 -12-3 -9-4 -15-7.5 -14.5-9 -12-12 -3.5-5.5 -8.5-9.5 -13-12 -14-15 -46-57 -10-15 -6.5-12 -4-10 -3.5-14 -2-12 -0.5-12 1-15 2-12 5-18 12-33 2.5-9 3.5-18 0.5-9 2.5-9 4-11 6-11.5 9-13.5 15-18 39-38 8.5-7 9.5-6.5 12-5.5 15-4.5zM1579 1911.5l-2.5 3.5 2.5 2.5 3.5 0.5 2.5-1 3-2 -1.5-3 -1.5-1 -3 0zM1603 1947.5l-3 1 -1.5 2.5 0 3 1.5 5.5 3 3 3-0.5 7.5-5 1-3 -3-3 -2.5-2 -3-1.5z"/>
<path fill="#49ffad" fill-rule="evenodd" stroke="#000" stroke-width="4.4" d="M1606 1675l15-2 18 0.5 27 3.5 21 4.5 21 6.5 15 6 24 11.5 21 11 14.5 9.5 12.5 9.5 12 11 12 13 13.5 17.5 10 15 7.5 15 6 15 4.5 18 3 24 0 27 -2 48 -1.5 18 -3.5 21 -4.5 16 -6 15 -5.5 11 -9.5 13 -9 9 -9 7 -15 9 -36 16 -9 5 -12 5 -9 3.5 -15 3 -12 1 -12-1.5 -12-0.5 -24 1 -12 0 -12-1.5 -9-2 -9-4 -9-5 -5-4 -16-7.5 -14.5-7.5 -12.5-9 -15-14 -27-33.5 -22-30.5 -15.5-24 -4.5-8 -5.5-13 -3-15 -1-9 0.5-12 2-12 5.5-21 19-57 6.5-27 0-3 6-15 12-18 3-6 6-8 10-10 11-9 30-19.5 18-7.5zM1627 1920.5l0 4 3 1.5 0-4zM1651 1902l-0.5 1 0.5 0.5zM1582 1908l-3 1 -5 3 -3 3 0.5 3 4.5 1.5 6 0.5 7.5-2 2.5-3 -0.5-3 -4.5-3zM1600 1946l-2.5 2 -1 3 0 3 2 12 -0.5 3 -6 9 -2 6 0.5 3 1.5 3 5 2.5 3 0 3-0.5 2.5-2 0.5-2 0-1 -3.5-12 0-3 1-3 2.5-3 6-5 6-2 3-0.5 3.5-1.5 -2-3 -11.5-6 -5-2 -3-0.5z"/>
<path fill="#80ff77" fill-rule="evenodd" stroke="#000" stroke-width="4.4" d="M1611 1687l13-2 18 0 21 2 21 4 18 5.5 21 7.5 21 9.5 18 9 15 9.5 12 9 13.5 12 11.5 12 12 15 10 15 8 15 5 12.5 4.5 17.5 2.5 21 0 18 -2 51 -1.5 21 -2 15 -4 18 -5 15 -6 12 -7.5 11.5 -8.5 9.5 -9.5 7.5 -12 7.5 -15 4.5 -15 7 -18 10 -9 4 -6 1.5 -9 2 -3-1 -9-0.5 -6-1 -45-1.5 -24-2.5 -18-3 -9-3 -9-3.5 -12-6 -9-6.5 -13.5-12.5 -19.5-13.5 -7-7.5 -8.5-15 -8.5-8.5 -2.5-3.5 -6.5-22.5 -20-40.5 -2-9 -4.5-33 0.5-12 1-9 2-9 5-18 18-45 9-30 5.5-15 4.5-6 15-18 13-12 10-6.5 9-4.5 15-6zM1624 1913.5l-2 1.5 -0.5 3 2 9 3.5 5.5 3 0.5 3-3.5 1-5.5 -0.5-3 -1-3 -2.5-3 -3-1.5zM1645 1893.5l-3 2.5 -1.5 4 0.5 3 1.5 3 5.5 4 3 1 3 0 3-4 1.5-4 0-3 -1-3 -6.5-3zM1660 1920l-0.5 4 3.5 5 3 2 3 0 1.5-1 0.5-3 -2-4 -3-2.5 -3-0.5zM1576 1908l-11 7 -0.5 3 4 3 7.5 1 9-0.5 3-0.5 5.5-3 2.5-3 0-3 -3.5-3 -4.5-2.5 -6-0.5zM1600 1944l-3 1.5 -2 2.5 -0.5 3 1 9 -0.5 6 -1.5 3 -7.5 9 -2 6 1.5 9 4.5 3 7 1 6 0 3-1 4-3 2-3 -0.5-3 -3.5-6 -1.5-6 1-6 2-3 5.5-3 3-0.5 9 1.5 3-0.5 3.5-3.5 -1-3 -3-3 -5.5-4 -18-6z"/>
<path fill="#b7ff40" fill-rule="evenodd" stroke="#000" stroke-width="4.4" d="M1609 1702l9-1.5 15 0 15 1.5 36 6.5 6 0 12-1 12 3 24 9.5 18 8.5 9 5 12 8 12 9.5 12 10.5 9 9.5 9.5 12 8.5 12.5 8 14.5 5.5 12 4.5 16 1.5 11 1 12 0 15 -3.5 72 -2.5 18 -1.5 9 -3.5 12 -3.5 9 -3 6 -7.5 12 -7.5 8.5 -6 5.5 -3 1.5 -3 0 -6 2 -6 1 -9 4.5 -30 18.5 -3-0.5 -6 1.5 -3-0.5 -18 2 -15 0 -9-2 -3 0.5 -15-2 -30 0.5 -9-0.5 -9-2 -9-2 -6-2.5 -6-4 -6-3 -15-5 -15-7.5 -14-8.5 -6.5-6 -1.5-3 -0.5-9 -11-18 -3.5-9 -1-6 0.5-9 3-6 10-12 0-3 -4.5-9 -1.5-6 0.5-3 3-3 3-0.5 3 1 6 3.5 5.5 2 15.5-0.5 6-1 4.5-1.5 13.5-7.5 3 0.5 0.5 1 5.5 0.5 3 4 6 14 3 4 3 0.5 3-3 3-8 0.5-6 -2-9 1.5-3 12.5 6 4.5 3 4.5 9 6 9 0.5 3 -4.5 12 -0.5 3 1 1.5 12-1 12 3.5 3-0.5 3-3.5 0.5-3 -1-9 3.5-6 0-3 -3-3 -9-1.5 -9-7.5 -10-6 -1.5-3 0-3 3-9 0.5-3 -1-2 -1-1 -2-1.5 -12-4 -3-1 -3.5 0.5 -11.5 7 -6-4 -3 1.5 -0.5 1.5 0.5 3 5.5 6 -2.5 0.5 -8.5 5.5 -3.5 3.5 -9-2 -12-5.5 -6-1.5 -6 1 -12 5 -6 0.5 -3-1.5 -6-7 -3-2 -9 2.5 -3-0.5 -3.5-1.5 -3.5-3 -2-3 -3-7 -2-2 -4-2.5 -3-6.5 -2-9 -0.5-9 1-15 2-9 4-12 11.5-24 6-15 7.5-15 2.5-3 4-9 6-9.5 1-2.5 2.5-3 0.5-3 4-6 25-21.5 10-5.5zM1729 1874.5l-9 10 -6 9.5 -2.5 6 -0.5 6 3 21 -0.5 6 1.5 3 2 1 6 0.5 4.5-4.5 6.5-12 3-12 1-12 -1.5-9 -2.5-6zM1597 1943.5l-2 1.5 -2 3 -0.5 3 1 9 0 3 -1.5 3 -4 4 -6 3.5 -6 1.5 -3.5 3 0.5 6 -0.5 3 -3 6 -0.5 3 1 3 3 1.5 6 1.5 12-0.5 12 0.5 6-1 3-2 3-3 3.5-6 -0.5-3.5 -6-6.5 -2-5 0-3 2-4.5 3-1.5 3-0.5 9 4 3 0 12-3.5 5.5-3 -1.5-3 -4-1.5 -6-4 -9-8 -12-1 -12-3.5z"/>
<path fill="#ebff0c" fill-rule="evenodd" stroke="#000" stroke-width="4.4" d="M1610.5 1729l4.5-2 6-0.5 9 0.5 6 1.5 9 5 9 8 4.5 5.5 8 12 6.5 18 6.5 12 11 18 3 6 5 15 -0.5 6 -2 3 -18 1.5 -6-1.5 -2.5-3 -2.5-6 -3-3 -4.5-3 -5.5-2 -6 1.5 -6 4 -7.5 8.5 -0.5 3 2 1 12 0.5 6 2.5 2 2 4 6 15 5 7 4 3.5 3 1 3 0.5 4.5 3 0 3-1.5 6-3.5 3-1 6 2 3 5.5 0 3 -5 12 -2.5 12 3 15 0 6 -1.5 4 -3 2.5 -21-2 -13-7.5 -3-3 -1-3 2-5.5 3-4 8.5-5.5 0-6 0.5-3 4-6 1-3 0.5-3 -2.5-1.5 -3 0 -3.5 1.5 -1.5 3 -1.5 6 -2 3 -3.5 2 -6 1 -6-1 -9-4 -3-0.5 -9 2 -3-0.5 -3-2 -6-12 -3-2.5 -3-1 -2 0.5 -1 0 -2 3 0 3 6 9 0.5 3 -3 15 -1.5 3 -3 2 -6 0.5 -12-4.5 -6-0.5 -6 1.5 -9 4 -3 0.5 -4.5-0.5 -2.5-3 -1.5-6 0.5-3 1-3 4-3 9-1.5 5-1.5 1.5-3 -0.5-3 -3-8 -3-4.5 -3-1.5 -9-1 -6-2 -5.5-4 -12.5-12 -0.5-3 1-9 5.5-18 4-9 8-13 10.5-14 4.5-7.5 20.5-22.5 2-3 7.5-9 6-6zM1621 1839.5l-3 0.5 -3.5 3 -1 3 1.5 4.5 3 1 3-2 3.5-3.5 4-6 -1.5-1zM1588 1851l-5 4 -2 3 -1 3 1.5 3 9.5 0 3.5 0 2.5-1.5 2-1.5 0.5-3 0-3 -2.5-2.5 -3-2 -3-0.5zM1734.5 1732l3.5-0.5 6 0.5 15 7 16.5 11 16.5 13 12 12 12 15.5 10.5 16.5 7.5 15 3.5 12 2.5 12 1 21 -2 27 -2.5 57 -2.5 17 -3 12 -3 8 -3 6 -3 4 -3 1.5 -18 2.5 -8.5 6 -6.5 5 -8 4 -4 3 -10 6 -13.5 6 -12.5 4 -3 0.5 -18-1.5 -3 0 -9-0.5 -3 0 -22.5-2.5 -4.5-2 -1.5-1 0-9 -1.5-5 -3-2 -3-0.5 -9 1.5 -6 3 -2 3 -1.5 9 -1 3 -1.5 1.5 -3 1 -6 0.5 -18-1.5 -21-4.5 -5.5-3 -6-9 -1-6 3.5-2.5 6-1 3 0 12 3 12-1.5 6 3 6 1.5 3-1.5 4.5-4 1.5-2.5 1-3.5 -4-3 -3 0 -9 2.5 -3 0 -1-2.5 -0.5-3 2.5-9 0-6 2.5-3 5.5-2 9-0.5 3-0.5 6-4 9-8.5 4-2.5 5-2 6 1 9 4 3 1 3-0.5 3-1.5 6-9 3-2 6 0 7 3 2 2 3 1.5 3 0 12-7 6-5 4-6.5 4.5-12 2-9 0-12 -1-15 -3-12 -9-21 -6-12 -3-9 0-9 2.5-9 -0.5-6 -2.5-12 -6-21 -5.5-36 0-3 0.5-3 2-2 3-0.5 3-1.5 6-1zM1641 1918l1-1 3 0.5 3 1 2.5 2.5 9.5 15 0.5 3 -0.5 3 -3 6 -3 4 -6 2.5 -6-0.5 -3-1 -3-2 -3-3 -1.5-3 0.5-3 4.5-9 3-12zM1597.5 1921l8.5-3 6 0.5 4.5 5.5 3.5 6 3 9 -1 3 -4 1.5 -3 0 -12-3 -6 1 -5 3.5 -1 3 1 12 -1 3 -3 3.5 -6 2.5 -6-0.5 -6-1.5 -3 0.5 -9 8 -3 1 -3-1.5 -3-3 -2.5-6 0.5-6 2-4 3-2.5 3-0.5 3 0.5 9 5 3-1 3-3 2.5-3.5 1-3 -1-3 -2.5-2 -9-4 -3-3 -2-3 0-3 2-1.5 8-1.5 16-2zM1614.5 1972l0.5-1 3 0 1 1 1 3 -2 1 -3-1z"/>
<path fill="#ffc400" fill-rule="evenodd" stroke="#000" stroke-width="4.4" d="M1740.5 1753l6.5-2 15 1.5 9 3.5 11.5 9 15.5 14.5 12 14.5 12 19.5 7.5 17.5 2 9 1 12 -2.5 57 -2 22 -3 12 -4 8 -5 5.5 -6 4 -3-0.5 -3-2 -3.5-7 -3-12 -3.5-24 -3-6 -5-9 -3-3 -6-8.5 -12-13.5 -6-8 -3-5 -2.5-7 -2.5-18 -2-24 -7-45zM1586.5 1798l4.5-1.5 6 0 24 7 6 4 4.5 5.5 0.5 3 -5 6 -3 2.5 -15 7 -9 6.5 -3 0.5 -12 1.5 -9 2 -6 1 -6-1.5 -3-2.5 -4.5-5 -1-3 0.5-3 2-5.5 6-8.5 6-6 9-7zM1631 1855l2-1 3.5 1 2.5 3 3 9 3 2.5 12-2 3 0.5 2.5 2 1.5 3 0.5 3 -0.5 3 -2 3 -2 1 -3 0.5 -3-0.5 -3-1 -6-5 -3-1 -6 0.5 -3-0.5 -3-3 -5-9 -0.5-3 2-3zM1590.5 1873l3.5-0.5 3 1 5.5 5.5 6.5 4 1.5 5 -1 6 -0.5 3 -3 2.5 -3 0.5 -4.5-3 -1-3 1-9 -1.5-2.5 -6-2.5 -1.5-1 -1.5-3zM1566.5 1894l6.5-1.5 6 1 1 0.5 0 3 -9.5 6 -3.5 0 -3.5-3 0.5-3zM1689.5 1900l3.5-0.5 3 1 4.5 5.5 1.5 6 -0.5 3 -2.5 3 -3 1.5 -6 0.5 -6-1 -9-4 -4-3 -2-3 1.5-3 1.5-1.5 9-1.5zM1595 1924l11-3 3 0 3 2 3 3 3 5 1.5 5 -0.5 3 -1 1 -3 1 -12-2.5 -3 0.5 -3 0.5 -5.5 2.5 -3.5 3 -1 3 2.5 9 0 3 -1.5 3 -3 2 -3 0.5 -3-1 -2.5-1.5 -1-3 1-3 5.5-9 0.5-3 -3.5-4.5 -10-4.5 -1-3 3.5-3 10.5-2zM1642.5 1924l2.5-2 3 1 6 7 3.5 6 0.5 3 -2 6 -2 3 -3 2.5 -3 1 -6 0 -3-1.5 -2.5-2 -1.5-3 0-3 1-3zM1666 1963l3-1 3-0.5 3 1 10 6.5 3 3 1 3 -0.5 3 -7.5 10.5 -3 1.5 -3 0.5 -21-1 -8.5-2.5 1-3 16-18zM1635.5 1984l5.5 3 -5 2.5 -3-0.5 -0.5-2 0.5-1.5z"/>
<path fill="#ff8900" fill-rule="evenodd" stroke="#000" stroke-width="4.4" d="M1763 1774l2-1 12 5.5 12 9 4.5 4.5 9.5 12 6 9 5 9 3.5 9 3 12 1 18 -7 36 -1.5 4.5 -2.5 1.5 -4-9 -6.5-12 -11-14.5 -9-9 -7-12.5 -3.5-12 -1.5-9 -1.5-24zM1585 1816l6-2.5 6-0.5 6 1.5 2 1.5 -8 5 -3 1 -3 0.5 -9-2 -1-1.5zM1688 1906l2-1 3 0.5 3 3 0.5 3.5 -2 3 -4.5 1 -3-0.5 -2-0.5 -3-3 1.5-3zM1593 1927l10-3 3 0 3 0.5 3 2.5 2 3 1.5 3 0.5 3 -1 1 -3 1 -12-1.5 -9 2.5 -3 0.5 -2-0.5 -4.5-3 -1.5-3 5-3zM1642.5 1930l2.5-3 3 0.5 3 2.5 4 6 0.5 3 -1.5 4.5 -3 4 -3 1.5 -3 0.5 -3-0.5 -2-1 -2-3 -0.5-3 1-3zM1581.5 1957l3.5-1.5 0.5 1.5 -0.5 3 -3 0zM1671.5 1966l3.5 1 2.5 2 2 3 0 3 -1.5 3 -3 1.5 -6 1.5 -6.5 0 -1-3 2.5-6 2-3.5 3-2.5z"/>
<path fill="#fff" fill-rule="evenodd" stroke="#000" stroke-width="13.0" d="M1617 1831.5l1.5-1.5 6 0 0 1.5 1.5 3 1.5 1.5 0 1.5 1.5 3 1.5 0 3 1.5 1.5 1.5 1.5 0 3 1.5 10.5 10.5 1.5 0 3-1.5 3 0 0 1.5 1.5 3 1.5 1.5 0 1.5 1.5 3 0 3 1.5 1.5 0 1.5 1.5 3 0 9 -1.5 3 -3 1.5 -1.5 1.5 -1.5 0 -3 1.5 -4.5 4.5 -1.5 0 -3 1.5 -9 0 -3-1.5 -1.5 0 -1.5-1.5 -9 0 -4.5 4.5 -1.5 3 -3 1.5 -3-1.5 -1.5 0 -1.5-3 -1.5 0 -1.5-3 0-1.5 -3-3 -9 0 -3-1.5 0-1.5 -1.5-1.5 0-9 1.5-1.5 3-1.5 1.5 0 3-3 3-6 0-3 3-3 3-6 6-6 3-6 1.5-1.5 0-1.5 1.5-3zM1674 1879.5l1.5-1.5 0 7.5 -1.5 0zM1587 1891.5l1.5-1.5 0 4.5 -1.5 0zM1578 1915.5l1.5-1.5 0 1.5 3 0 3 1.5 1.5 1.5 1.5 0 3 1.5 0 4.5 -3 3 -1.5 0 -1.5-1.5 -9 0 -1.5 1.5 0 6 1.5 0 3 1.5 12 0 6 6 0 1.5 1.5 3 1.5 0 3 1.5 1.5 1.5 1.5 0 3 1.5 0 4.5 -1.5 3 -3 3 -1.5 0 -3 1.5 -7.5 7.5 -1.5 3 0 1.5 -1.5 1.5 -1.5 3 -3 1.5 -3 0 -1.5 1.5 -1.5 0 -3 1.5 -3 0 -3-1.5 -1.5 0 -7.5-7.5 -3 0 -1.5 1.5 -6 0 0-3 -1.5-3 0-1.5 -1.5-1.5 0-3 -1.5-3 0-1.5 -1.5-1.5 -1.5-3 -1.5 0 -1.5-3 0-1.5 -1.5-1.5 0-3 1.5-1.5 0-1.5 1.5-3 0-6 1.5-1.5 3-1.5 1.5 0 1.5-1.5 12 0 3-1.5 1.5 0 1.5-1.5 3-1.5 1.5-3 0-3 1.5-1.5 3-1.5zM1608 1933.5l1.5-1.5 0 1.5 3 1.5 0 1.5 -3 3 -1.5 0 -1.5-3 -1.5 0zM1587 1984.5l1.5-1.5 3-1.5 3 1.5 18 0 1.5 1.5 1.5 0 3 1.5 3 0 0 4.5 -3 1.5 -1.5 1.5 -1.5 0 -3 1.5 -6 0 -3-1.5 -1.5 0 -1.5-1.5 -6 0 -3 1.5 -1.5 0 -1.5-1.5 -3-1.5 -1.5 0 0-3z"/>
<path fill="#fff" fill-rule="evenodd" d="M1617 1831.5l1.5-1.5 6 0 0 1.5 1.5 3 1.5 1.5 0 1.5 1.5 3 1.5 0 3 1.5 1.5 1.5 1.5 0 3 1.5 10.5 10.5 1.5 0 3-1.5 3 0 0 1.5 1.5 3 1.5 1.5 0 1.5 1.5 3 0 3 1.5 1.5 0 1.5 1.5 3 0 9 -1.5 3 -3 1.5 -1.5 1.5 -1.5 0 -3 1.5 -4.5 4.5 -1.5 0 -3 1.5 -9 0 -3-1.5 -1.5 0 -1.5-1.5 -9 0 -4.5 4.5 -1.5 3 -3 1.5 -3-1.5 -1.5 0 -1.5-3 -1.5 0 -1.5-3 0-1.5 -3-3 -9 0 -3-1.5 0-1.5 -1.5-1.5 0-9 1.5-1.5 3-1.5 1.5 0 3-3 3-6 0-3 3-3 3-6 6-6 3-6 1.5-1.5 0-1.5 1.5-3zM1674 1879.5l1.5-1.5 0 7.5 -1.5 0zM1587 1891.5l1.5-1.5 0 4.5 -1.5 0zM1578 1915.5l1.5-1.5 0 1.5 3 0 3 1.5 1.5 1.5 1.5 0 3 1.5 0 4.5 -3 3 -1.5 0 -1.5-1.5 -9 0 -1.5 1.5 0 6 1.5 0 3 1.5 12 0 6 6 0 1.5 1.5 3 1.5 0 3 1.5 1.5 1.5 1.5 0 3 1.5 0 4.5 -1.5 3 -3 3 -1.5 0 -3 1.5 -7.5 7.5 -1.5 3 0 1.5 -1.5 1.5 -1.5 3 -3 1.5 -3 0 -1.5 1.5 -1.5 0 -3 1.5 -3 0 -3-1.5 -1.5 0 -7.5-7.5 -3 0 -1.5 1.5 -6 0 0-3 -1.5-3 0-1.5 -1.5-1.5 0-3 -1.5-3 0-1.5 -1.5-1.5 -1.5-3 -1.5 0 -1.5-3 0-1.5 -1.5-1.5 0-3 1.5-1.5 0-1.5 1.5-3 0-6 1.5-1.5 3-1.5 1.5 0 1.5-1.5 12 0 3-1.5 1.5 0 1.5-1.5 3-1.5 1.5-3 0-3 1.5-1.5 3-1.5zM1608 1933.5l1.5-1.5 0 1.5 3 1.5 0 1.5 -3 3 -1.5 0 -1.5-3 -1.5 0zM1587 1984.5l1.5-1.5 3-1.5 3 1.5 18 0 1.5 1.5 1.5 0 3 1.5 3 0 0 4.5 -3 1.5 -1.5 1.5 -1.5 0 -3 1.5 -6 0 -3-1.5 -1.5 0 -1.5-1.5 -6 0 -3 1.5 -1.5 0 -1.5-1.5 -3-1.5 -1.5 0 0-3z"/>
</g>
</g>
<g id="text_137">
<text style="font-size: 18.2px; font-family: 'DejaVu Sans'; text-anchor: middle" x="559.881481" y="491.518045" transform="rotate(-0 559.881481 491.518045)">(k)</text>
</g>
<g id="matplotlib.axis_31">
<g id="xtick_65">
<g id="line2d_284">
<g>
<use href="#m1504cfccaf" x="391.97037" y="661.096296" style="stroke: #000000; stroke-width: 0.8"/>
</g>
</g>
<g id="text_138">
<g transform="translate(384.729155 691.853979) rotate(-45)">
<text>
<tspan x="0" y="-0.064063" style="font-size: 10px; font-family: 'DejaVu Sans'">−</tspan>
<tspan x="8.378906" y="-0.064063" style="font-size: 10px; font-family: 'DejaVu Sans'">1</tspan>
<tspan x="14.741211" y="-0.064063" style="font-size: 10px; font-family: 'DejaVu Sans'">0</tspan>
<tspan x="21.199219" y="-3.892188" style="font-size: 7px; font-family: 'DejaVu Sans'">4</tspan>
</text>
</g>
</g>
</g>
<g id="xtick_66">
<g id="line2d_285">
<g>
<use href="#m1504cfccaf" x="418.266667" y="661.096296" style="stroke: #000000; stroke-width: 0.8"/>
</g>
</g>
<g id="text_139">
<g transform="translate(411.025451 691.853979) rotate(-45)">
<text>
<tspan x="0" y="-0.976562" style="font-size: 10px; font-family: 'DejaVu Sans'">−</tspan>
<tspan x="8.378906" y="-0.976562" style="font-size: 10px; font-family: 'DejaVu Sans'">1</tspan>
<tspan x="14.741211" y="-0.976562" style="font-size: 10px; font-family: 'DejaVu Sans'">0</tspan>
<tspan x="21.199219" y="-4.804688" style="font-size: 7px; font-family: 'DejaVu Sans'">3</tspan>
</text>
</g>
</g>
</g>
<g id="xtick_67">
<g id="line2d_286">
<g>
<use href="#m1504cfccaf" x="444.562963" y="661.096296" style="stroke: #000000; stroke-width: 0.8"/>
</g>
</g>
<g id="text_140">
<g transform="translate(437.321748 691.853979) rotate(-45)">
<text>
<tspan x="0" y="-0.976562" style="font-size: 10px; font-family: 'DejaVu Sans'">−</tspan>
<tspan x="8.378906" y="-0.976562" style="font-size: 10px; font-family: 'DejaVu Sans'">1</tspan>
<tspan x="14.741211" y="-0.976562" style="font-size: 10px; font-family: 'DejaVu Sans'">0</tspan>
<tspan x="21.199219" y="-4.804688" style="font-size: 7px; font-family: 'DejaVu Sans'">2</tspan>
</text>
</g>
</g>
</g>
<g id="xtick_68">
<g id="line2d_287">
<g>
<use href="#m1504cfccaf" x="470.859259" y="661.096296" style="stroke: #000000; stroke-width: 0.8"/>
</g>
</g>
<g id="text_141">
<g transform="translate(463.618044 691.853979) rotate(-45)">
<text>
<tspan x="0" y="-0.064063" style="font-size: 10px; font-family: 'DejaVu Sans'">−</tspan>
<tspan x="8.378906" y="-0.064063" style="font-size: 10px; font-family: 'DejaVu Sans'">1</tspan>
<tspan x="14.741211" y="-0.064063" style="font-size: 10px; font-family: 'DejaVu Sans'">0</tspan>
<tspan x="21.199219" y="-3.892188" style="font-size: 7px; font-family: 'DejaVu Sans'">1</tspan>
</text>
</g>
</g>
</g>
<g id="xtick_69">
<g id="line2d_288">
<g>
<use href="#m1504cfccaf" x="486.77037" y="661.096296" style="stroke: #000000; stroke-width: 0.8"/>
</g>
</g>
<g id="text_142">
<g transform="translate(482.499003 685.914282) rotate(-45)">
<text>
<tspan x="0" y="-0.064063" style="font-size: 10px; font-family: 'DejaVu Sans'">1</tspan>
<tspan x="6.362305" y="-0.064063" style="font-size: 10px; font-family: 'DejaVu Sans'">0</tspan>
<tspan x="12.820312" y="-3.892188" style="font-size: 7px; font-family: 'DejaVu Sans'">1</tspan>
</text>
</g>
</g>
</g>
<g id="xtick_70">
<g id="line2d_289">
<g>
<use href="#m1504cfccaf" x="513.066667" y="661.096296" style="stroke: #000000; stroke-width: 0.8"/>
</g>
</g>
<g id="text_143">
<g transform="translate(508.7953 685.914282) rotate(-45)">
<text>
<tspan x="0" y="-0.976562" style="font-size: 10px; font-family: 'DejaVu Sans'">1</tspan>
<tspan x="6.362305" y="-0.976562" style="font-size: 10px; font-family: 'DejaVu Sans'">0</tspan>
<tspan x="12.820312" y="-4.804688" style="font-size: 7px; font-family: 'DejaVu Sans'">2</tspan>
</text>
</g>
</g>
</g>
<g id="xtick_71">
<g id="line2d_290">
<g>
<use href="#m1504cfccaf" x="539.362963" y="661.096296" style="stroke: #000000; stroke-width: 0.8"/>
</g>
</g>
<g id="text_144">
<g transform="translate(535.091596 685.914282) rotate(-45)">
<text>
<tspan x="0" y="-0.976562" style="font-size: 10px; font-family: 'DejaVu Sans'">1</tspan>
<tspan x="6.362305" y="-0.976562" style="font-size: 10px; font-family: 'DejaVu Sans'">0</tspan>
<tspan x="12.820312" y="-4.804688" style="font-size: 7px; font-family: 'DejaVu Sans'">3</tspan>
</text>
</g>
</g>
</g>
<g id="xtick_72">
<g id="line2d_291">
<g>
<use href="#m1504cfccaf" x="565.659259" y="661.096296" style="stroke: #000000; stroke-width: 0.8"/>
</g>
</g>
<g id="text_145">
<g transform="translate(561.387892 685.914282) rotate(-45)">
<text>
<tspan x="0" y="-0.064063" style="font-size: 10px; font-family: 'DejaVu Sans'">1</tspan>
<tspan x="6.362305" y="-0.064063" style="font-size: 10px; font-family: 'DejaVu Sans'">0</tspan>
<tspan x="12.820312" y="-3.892188" style="font-size: 7px; font-family: 'DejaVu Sans'">4</tspan>
</text>
</g>
</g>
</g>
<g id="text_146">
<g transform="translate(450.324074 708.72454)">
<text>
<tspan x="0" y="-0.940625" style="font-style: oblique; font-size: 10px; font-family: 'DejaVu Sans'">m</tspan>
<tspan x="14.458008" y="-0.940625" style="font-style: oblique; font-size: 10px; font-family: 'DejaVu Sans'">v</tspan>
<tspan x="43.280078" y="-0.940625" style="font-style: oblique; font-size: 10px; font-family: 'DejaVu Sans'">e</tspan>
<tspan x="49.432422" y="-0.940625" style="font-style: oblique; font-size: 10px; font-family: 'DejaVu Sans'">V</tspan>
<tspan x="9.741211" y="0.7" style="font-style: oblique; font-size: 7px; font-family: 'DejaVu Sans'">p</tspan>
<tspan x="20.375977" y="1.79375" style="font-size: 7px; font-family: 'DejaVu Sans'">|</tspan>
<tspan x="20.822591" y="-4.804688" style="font-size: 7px; font-family: 'DejaVu Sans'">2</tspan>
<tspan x="22.734375" y="1.79375" style="font-size: 7px; font-family: 'DejaVu Sans'">|</tspan>
<tspan x="25.549642" y="-0.940625" style="font-size: 10px; font-family: 'DejaVu Sans'">/</tspan>
<tspan x="28.543783" y="-0.940625" style="font-size: 10px; font-family: 'DejaVu Sans'">2</tspan>
<tspan x="34.906087" y="-0.940625" style="font-size: 10px; font-family: 'DejaVu Sans'">,</tspan>
</text>
</g>
</g>
</g>
<g id="matplotlib.axis_32">
<g id="ytick_145">
<g id="line2d_292">
<g>
<use href="#m5d545ce8f8" x="384.296296" y="480.296296" style="stroke: #000000; stroke-width: 0.8"/>
</g>
</g>
<g id="text_147">
<g transform="translate(359.696296 484.095515)">
<text>
<tspan x="0" y="-0.064063" style="font-size: 10px; font-family: 'DejaVu Sans'">1</tspan>
<tspan x="6.362305" y="-0.064063" style="font-size: 10px; font-family: 'DejaVu Sans'">0</tspan>
<tspan x="12.820312" y="-3.892188" style="font-size: 7px; font-family: 'DejaVu Sans'">4</tspan>
</text>
</g>
</g>
</g>
<g id="ytick_146">
<g id="line2d_293">
<g>
<use href="#m5d545ce8f8" x="384.296296" y="506.592593" style="stroke: #000000; stroke-width: 0.8"/>
</g>
</g>
<g id="text_148">
<g transform="translate(359.696296 510.391811)">
<text>
<tspan x="0" y="-0.976562" style="font-size: 10px; font-family: 'DejaVu Sans'">1</tspan>
<tspan x="6.362305" y="-0.976562" style="font-size: 10px; font-family: 'DejaVu Sans'">0</tspan>
<tspan x="12.820312" y="-4.804688" style="font-size: 7px; font-family: 'DejaVu Sans'">3</tspan>
</text>
</g>
</g>
</g>
<g id="ytick_147">
<g id="line2d_294">
<g>
<use href="#m5d545ce8f8" x="384.296296" y="532.888889" style="stroke: #000000; stroke-width: 0.8"/>
</g>
</g>
<g id="text_149">
<g transform="translate(359.696296 536.688108)">
<text>
<tspan x="0" y="-0.976562" style="font-size: 10px; font-family: 'DejaVu Sans'">1</tspan>
<tspan x="6.362305" y="-0.976562" style="font-size: 10px; font-family: 'DejaVu Sans'">0</tspan>
<tspan x="12.820312" y="-4.804688" style="font-size: 7px; font-family: 'DejaVu Sans'">2</tspan>
</text>
</g>
</g>
</g>
<g id="ytick_148">
<g id="line2d_295">
<g>
<use href="#m5d545ce8f8" x="384.296296" y="559.185185" style="stroke: #000000; stroke-width: 0.8"/>
</g>
</g>
<g id="text_150">
<g transform="translate(359.696296 562.984404)">
<text>
<tspan x="0" y="-0.064063" style="font-size: 10px; font-family: 'DejaVu Sans'">1</tspan>
<tspan x="6.362305" y="-0.064063" style="font-size: 10px; font-family: 'DejaVu Sans'">0</tspan>
<tspan x="12.820312" y="-3.892188" style="font-size: 7px; font-family: 'DejaVu Sans'">1</tspan>
</text>
</g>
</g>
</g>
<g id="ytick_149">
<g id="line2d_296">
<g>
<use href="#m5d545ce8f8" x="384.296296" y="575.096296" style="stroke: #000000; stroke-width: 0.8"/>
</g>
</g>
<g id="text_151">
<g transform="translate(351.296296 578.895515)">
<text>
<tspan x="0" y="-0.064063" style="font-size: 10px; font-family: 'DejaVu Sans'">−</tspan>
<tspan x="8.378906" y="-0.064063" style="font-size: 10px; font-family: 'DejaVu Sans'">1</tspan>
<tspan x="14.741211" y="-0.064063" style="font-size: 10px; font-family: 'DejaVu Sans'">0</tspan>
<tspan x="21.199219" y="-3.892188" style="font-size: 7px; font-family: 'DejaVu Sans'">1</tspan>
</text>
</g>
</g>
</g>
<g id="ytick_150">
<g id="line2d_297">
<g>
<use href="#m5d545ce8f8" x="384.296296" y="601.392593" style="stroke: #000000; stroke-width: 0.8"/>
</g>
</g>
<g id="text_152">
<g transform="translate(351.296296 605.191811)">
<text>
<tspan x="0" y="-0.976562" style="font-size: 10px; font-family: 'DejaVu Sans'">−</tspan>
<tspan x="8.378906" y="-0.976562" style="font-size: 10px; font-family: 'DejaVu Sans'">1</tspan>
<tspan x="14.741211" y="-0.976562" style="font-size: 10px; font-family: 'DejaVu Sans'">0</tspan>
<tspan x="21.199219" y="-4.804688" style="font-size: 7px; font-family: 'DejaVu Sans'">2</tspan>
</text>
</g>
</g>
</g>
<g id="ytick_151">
<g id="line2d_298">
<g>
<use href="#m5d545ce8f8" x="384.296296" y="627.688889" style="stroke: #000000; stroke-width: 0.8"/>
</g>
</g>
<g id="text_153">
<g transform="translate(351.296296 631.488108)">
<text>
<tspan x="0" y="-0.976562" style="font-size: 10px; font-family: 'DejaVu Sans'">−</tspan>
<tspan x="8.378906" y="-0.976562" style="font-size: 10px; font-family: 'DejaVu Sans'">1</tspan>
<tspan x="14.741211" y="-0.976562" style="font-size: 10px; font-family: 'DejaVu Sans'">0</tspan>
<tspan x="21.199219" y="-4.804688" style="font-size: 7px; font-family: 'DejaVu Sans'">3</tspan>
</text>
</g>
</g>
</g>
<g id="ytick_152">
<g id="line2d_299">
<g>
<use href="#m5d545ce8f8" x="384.296296" y="653.985185" style="stroke: #000000; stroke-width: 0.8"/>
</g>
</g>
<g id="text_154">
<g transform="translate(351.296296 657.784404)">
<text>
<tspan x="0" y="-0.064063" style="font-size: 10px; font-family: 'DejaVu Sans'">−</tspan>
<tspan x="8.378906" y="-0.064063" style="font-size: 10px; font-family: 'DejaVu Sans'">1</tspan>
<tspan x="14.741211" y="-0.064063" style="font-size: 10px; font-family: 'DejaVu Sans'">0</tspan>
<tspan x="21.199219" y="-3.892188" style="font-size: 7px; font-family: 'DejaVu Sans'">4</tspan>
</text>
</g>
</g>
</g>
<g id="text_155">
<g transform="translate(344.196296 596.611111) rotate(-90)">
<text>
<tspan x="0" y="-0.976562" style="font-style: oblique; font-size: 10px; font-family: 'DejaVu Sans'">m</tspan>
<tspan x="14.458008" y="-0.976562" style="font-style: oblique; font-size: 10px; font-family: 'DejaVu Sans'">v</tspan>
<tspan x="45.958384" y="-0.976562" style="font-style: oblique; font-size: 10px; font-family: 'DejaVu Sans'">e</tspan>
<tspan x="52.110728" y="-0.976562" style="font-style: oblique; font-size: 10px; font-family: 'DejaVu Sans'">V</tspan>
<tspan x="9.741211" y="0.664062" style="font-style: oblique; font-size: 7px; font-family: 'DejaVu Sans'">p</tspan>
<tspan x="20.822591" y="-4.804688" style="font-size: 7px; font-family: 'DejaVu Sans'">2</tspan>
<tspan x="21.739746" y="1.757812" style="font-size: 7px; font-family: 'STIXGeneral'">⟂</tspan>
<tspan x="28.227948" y="-0.976562" style="font-size: 10px; font-family: 'DejaVu Sans'">/</tspan>
<tspan x="31.222089" y="-0.976562" style="font-size: 10px; font-family: 'DejaVu Sans'">2</tspan>
<tspan x="37.584393" y="-0.976562" style="font-size: 10px; font-family: 'DejaVu Sans'">,</tspan>
</text>
</g>
</g>
</g>
<g id="patch_104">
<path d="M 384.3 661.1 L 384.3 473.13" style="fill: none; stroke: #000000; stroke-width: 0.8; stroke-linejoin: miter; stroke-linecap: square"/>
</g>
<g id="patch_105">
<path d="M 572.65 661.1 L 572.65 473.13" style="fill: none; stroke: #000000; stroke-width: 0.8; stroke-linejoin: miter; stroke-linecap: square"/>
</g>
<g id="patch_106">
<path d="M 384.3 661.1 L 572.65 661.1" style="fill: none; stroke: #000000; stroke-width: 0.8; stroke-linejoin: miter; stroke-linecap: square"/>
</g>
<g id="patch_107">
<path d="M 384.3 473.13 L 572.65 473.13" style="fill: none; stroke: #000000; stroke-width: 0.8; stroke-linejoin: miter; stroke-linecap: square"/>
</g>
<g id="text_156">
<g id="patch_108">
<path d="M 385.84 659.66 L 457.12 659.66 L 457.12 637.71 L 385.84 637.71 z" style="stroke: #000000; stroke-linejoin: miter"/>
</g>
<text style="font-size: 14px; font-family: 'DejaVu Sans'; text-anchor: start; fill: #ffffff" x="390.041141" y="652.545623" transform="rotate(-0 390.041141 652.545623)">11:58:18</text>
</g>
</g>
<g id="axes_17">
<g id="patch_109">
<path d="M 579.91 661.1 L 589.54 661.1 L 589.54 473.13 L 579.91 473.13 L 579.91 661.1 z" style="fill: none; opacity: 0"/>
</g>
<g id="patch_110">
<path d="M 579.91 473.13 L 589.54 473.13 L 589.54 483.11 L 579.91 483.11 z" clip-path="url(#pd83f45855e)" style="fill: #ff2500"/>
</g>
<g id="patch_111">
<path d="M 579.91 483.02 L 589.54 483.02 L 589.54 493 L 579.91 493 z" clip-path="url(#pd83f45855e)" style="fill: #ff6f00"/>
</g>
<g id="patch_112">
<path d="M 579.91 492.91 L 589.54 492.91 L 589.54 502.89 L 579.91 502.89 z" clip-path="url(#pd83f45855e)" style="fill: #ffb900"/>
</g>
<g id="patch_113">
<path d="M 579.91 502.81 L 589.54 502.81 L 589.54 512.79 L 579.91 512.79 z" clip-path="url(#pd83f45855e)" style="fill: #e4ff13"/>
</g>
<g id="patch_114">
<path d="M 579.91 512.7 L 589.54 512.7 L 589.54 522.68 L 579.91 522.68 z" clip-path="url(#pd83f45855e)" style="fill: #a0ff56"/>
</g>
<g id="patch_115">
<path d="M 579.91 522.59 L 589.54 522.59 L 589.54 532.57 L 579.91 532.57 z" clip-path="url(#pd83f45855e)" style="fill: #5dff9a"/>
</g>
<g id="patch_116">
<path d="M 579.91 532.48 L 589.54 532.48 L 589.54 542.47 L 579.91 542.47 z" clip-path="url(#pd83f45855e)" style="fill: #19ffde"/>
</g>
<g id="patch_117">
<path d="M 579.91 542.38 L 589.54 542.38 L 589.54 552.36 L 579.91 552.36 z" clip-path="url(#pd83f45855e)" style="fill: #00a8ff"/>
</g>
<g id="patch_118">
<path d="M 579.91 552.27 L 589.54 552.27 L 589.54 562.25 L 579.91 562.25 z" clip-path="url(#pd83f45855e)" style="fill: #004cff"/>
</g>
<g id="patch_119">
<path d="M 579.91 562.16 L 589.54 562.16 L 589.54 572.15 L 579.91 572.15 z" clip-path="url(#pd83f45855e)" style="fill: #0000ff"/>
</g>
<g id="patch_120">
<path d="M 579.91 572.06 L 589.54 572.06 L 589.54 582.04 L 579.91 582.04 z" clip-path="url(#pd83f45855e)" style="fill: #0000ad"/>
</g>
<g id="patch_121">
<path d="M 579.91 581.95 L 589.54 581.95 L 589.54 591.93 L 579.91 591.93 z" clip-path="url(#pd83f45855e)" style="fill: #000080"/>
</g>
<g id="patch_122">
<path d="M 579.91 591.84 L 589.54 591.84 L 589.54 601.83 L 579.91 601.83 z" clip-path="url(#pd83f45855e)" style="fill: #000080"/>
</g>
<g id="patch_123">
<path d="M 579.91 601.74 L 589.54 601.74 L 589.54 611.72 L 579.91 611.72 z" clip-path="url(#pd83f45855e)" style="fill: #000080"/>
</g>
<g id="patch_124">
<path d="M 579.91 611.63 L 589.54 611.63 L 589.54 621.61 L 579.91 621.61 z" clip-path="url(#pd83f45855e)" style="fill: #000080"/>
</g>
<g id="patch_125">
<path d="M 579.91 621.52 L 589.54 621.52 L 589.54 631.51 L 579.91 631.51 z" clip-path="url(#pd83f45855e)" style="fill: #000080"/>
</g>
<g id="patch_126">
<path d="M 579.91 631.42 L 589.54 631.42 L 589.54 641.4 L 579.91 641.4 z" clip-path="url(#pd83f45855e)" style="fill: #000080"/>
</g>
<g id="patch_127">
<path d="M 579.91 641.31 L 589.54 641.31 L 589.54 651.29 L 579.91 651.29 z" clip-path="url(#pd83f45855e)" style="fill: #000080"/>
</g>
<g id="patch_128">
<path d="M 579.91 651.2 L 589.54 651.2 L 589.54 661.19 L 579.91 661.19 z" clip-path="url(#pd83f45855e)" style="fill: #000080"/>
</g>
<g id="matplotlib.axis_33"/>
<g id="matplotlib.axis_34">
<g id="ytick_153">
<g id="line2d_300">
<g>
<use href="#m33c4ce201d" x="589.540741" y="482.785185" style="stroke: #000000; stroke-width: 0.8"/>
</g>
</g>
<g id="text_157">
<g transform="translate(596.540741 486.584404)">
<text>
<tspan x="0" y="-0.064063" style="font-size: 10px; font-family: 'DejaVu Sans'">1</tspan>
<tspan x="6.362305" y="-0.064063" style="font-size: 10px; font-family: 'DejaVu Sans'">0</tspan>
<tspan x="12.820312" y="-3.892188" style="font-size: 7px; font-family: 'DejaVu Sans'">−</tspan>
<tspan x="18.685547" y="-3.892188" style="font-size: 7px; font-family: 'DejaVu Sans'">7</tspan>
</text>
</g>
</g>
</g>
<g id="ytick_154">
<g id="line2d_301">
<g>
<use href="#m33c4ce201d" x="589.540741" y="502.592593" style="stroke: #000000; stroke-width: 0.8"/>
</g>
</g>
<g id="text_158">
<g transform="translate(596.540741 506.391811)">
<text>
<tspan x="0" y="-0.976562" style="font-size: 10px; font-family: 'DejaVu Sans'">1</tspan>
<tspan x="6.362305" y="-0.976562" style="font-size: 10px; font-family: 'DejaVu Sans'">0</tspan>
<tspan x="12.820312" y="-4.804688" style="font-size: 7px; font-family: 'DejaVu Sans'">−</tspan>
<tspan x="18.685547" y="-4.804688" style="font-size: 7px; font-family: 'DejaVu Sans'">8</tspan>
</text>
</g>
</g>
</g>
<g id="ytick_155">
<g id="line2d_302">
<g>
<use href="#m33c4ce201d" x="589.540741" y="522.4" style="stroke: #000000; stroke-width: 0.8"/>
</g>
</g>
<g id="text_159">
<g transform="translate(596.540741 526.199219)">
<text>
<tspan x="0" y="-0.976562" style="font-size: 10px; font-family: 'DejaVu Sans'">1</tspan>
<tspan x="6.362305" y="-0.976562" style="font-size: 10px; font-family: 'DejaVu Sans'">0</tspan>
<tspan x="12.820312" y="-4.804688" style="font-size: 7px; font-family: 'DejaVu Sans'">−</tspan>
<tspan x="18.685547" y="-4.804688" style="font-size: 7px; font-family: 'DejaVu Sans'">9</tspan>
</text>
</g>
</g>
</g>
<g id="ytick_156">
<g id="line2d_303">
<g>
<use href="#m33c4ce201d" x="589.540741" y="542.207407" style="stroke: #000000; stroke-width: 0.8"/>
</g>
</g>
<g id="text_160">
<g transform="translate(596.540741 546.006626)">
<text>
<tspan x="0" y="-0.976562" style="font-size: 10px; font-family: 'DejaVu Sans'">1</tspan>
<tspan x="6.362305" y="-0.976562" style="font-size: 10px; font-family: 'DejaVu Sans'">0</tspan>
<tspan x="12.820312" y="-4.804688" style="font-size: 7px; font-family: 'DejaVu Sans'">−</tspan>
<tspan x="18.685547" y="-4.804688" style="font-size: 7px; font-family: 'DejaVu Sans'">1</tspan>
<tspan x="23.13916" y="-4.804688" style="font-size: 7px; font-family: 'DejaVu Sans'">0</tspan>
</text>
</g>
</g>
</g>
<g id="ytick_157">
<g id="line2d_304">
<g>
<use href="#m33c4ce201d" x="589.540741" y="562.014815" style="stroke: #000000; stroke-width: 0.8"/>
</g>
</g>
<g id="text_161">
<g transform="translate(596.540741 565.814034)">
<text>
<tspan x="0" y="-0.064063" style="font-size: 10px; font-family: 'DejaVu Sans'">1</tspan>
<tspan x="6.362305" y="-0.064063" style="font-size: 10px; font-family: 'DejaVu Sans'">0</tspan>
<tspan x="12.820312" y="-3.892188" style="font-size: 7px; font-family: 'DejaVu Sans'">−</tspan>
<tspan x="18.685547" y="-3.892188" style="font-size: 7px; font-family: 'DejaVu Sans'">1</tspan>
<tspan x="23.13916" y="-3.892188" style="font-size: 7px; font-family: 'DejaVu Sans'">1</tspan>
</text>
</g>
</g>
</g>
<g id="ytick_158">
<g id="line2d_305">
<g>
<use href="#m33c4ce201d" x="589.540741" y="581.822222" style="stroke: #000000; stroke-width: 0.8"/>
</g>
</g>
<g id="text_162">
<g transform="translate(596.540741 585.621441)">
<text>
<tspan x="0" y="-0.976562" style="font-size: 10px; font-family: 'DejaVu Sans'">1</tspan>
<tspan x="6.362305" y="-0.976562" style="font-size: 10px; font-family: 'DejaVu Sans'">0</tspan>
<tspan x="12.820312" y="-4.804688" style="font-size: 7px; font-family: 'DejaVu Sans'">−</tspan>
<tspan x="18.685547" y="-4.804688" style="font-size: 7px; font-family: 'DejaVu Sans'">1</tspan>
<tspan x="23.13916" y="-4.804688" style="font-size: 7px; font-family: 'DejaVu Sans'">2</tspan>
</text>
</g>
</g>
</g>
<g id="ytick_159">
<g id="line2d_306">
<g>
<use href="#m33c4ce201d" x="589.540741" y="601.62963" style="stroke: #000000; stroke-width: 0.8"/>
</g>
</g>
<g id="text_163">
<g transform="translate(596.540741 605.428848)">
<text>
<tspan x="0" y="-0.976562" style="font-size: 10px; font-family: 'DejaVu Sans'">1</tspan>
<tspan x="6.362305" y="-0.976562" style="font-size: 10px; font-family: 'DejaVu Sans'">0</tspan>
<tspan x="12.820312" y="-4.804688" style="font-size: 7px; font-family: 'DejaVu Sans'">−</tspan>
<tspan x="18.685547" y="-4.804688" style="font-size: 7px; font-family: 'DejaVu Sans'">1</tspan>
<tspan x="23.13916" y="-4.804688" style="font-size: 7px; font-family: 'DejaVu Sans'">3</tspan>
</text>
</g>
</g>
</g>
<g id="ytick_160">
<g id="line2d_307">
<g>
<use href="#m33c4ce201d" x="589.540741" y="621.437037" style="stroke: #000000; stroke-width: 0.8"/>
</g>
</g>
<g id="text_164">
<g transform="translate(596.540741 625.236256)">
<text>
<tspan x="0" y="-0.064063" style="font-size: 10px; font-family: 'DejaVu Sans'">1</tspan>
<tspan x="6.362305" y="-0.064063" style="font-size: 10px; font-family: 'DejaVu Sans'">0</tspan>
<tspan x="12.820312" y="-3.892188" style="font-size: 7px; font-family: 'DejaVu Sans'">−</tspan>
<tspan x="18.685547" y="-3.892188" style="font-size: 7px; font-family: 'DejaVu Sans'">1</tspan>
<tspan x="23.13916" y="-3.892188" style="font-size: 7px; font-family: 'DejaVu Sans'">4</tspan>
</text>
</g>
</g>
</g>
<g id="ytick_161">
<g id="line2d_308">
<g>
<use href="#m33c4ce201d" x="589.540741" y="641.244444" style="stroke: #000000; stroke-width: 0.8"/>
</g>
</g>
<g id="text_165">
<g transform="translate(596.540741 645.043663)">
<text>
<tspan x="0" y="-0.064063" style="font-size: 10px; font-family: 'DejaVu Sans'">1</tspan>
<tspan x="6.362305" y="-0.064063" style="font-size: 10px; font-family: 'DejaVu Sans'">0</tspan>
<tspan x="12.820312" y="-3.892188" style="font-size: 7px; font-family: 'DejaVu Sans'">−</tspan>
<tspan x="18.685547" y="-3.892188" style="font-size: 7px; font-family: 'DejaVu Sans'">1</tspan>
<tspan x="23.13916" y="-3.892188" style="font-size: 7px; font-family: 'DejaVu Sans'">5</tspan>
</text>
</g>
</g>
</g>
<g id="text_166">
<g transform="translate(636.861053 605.111111) rotate(-90)">
<text>
<tspan x="0" y="-0.976562" style="font-style: oblique; font-size: 10px; font-family: 'DejaVu Sans'">f</tspan>
<tspan x="11.894499" y="-0.976562" style="font-style: oblique; font-size: 10px; font-family: 'DejaVu Sans'">s</tspan>
<tspan x="29.566133" y="-0.976562" style="font-style: oblique; font-size: 10px; font-family: 'DejaVu Sans'">c</tspan>
<tspan x="35.06418" y="-0.976562" style="font-style: oblique; font-size: 10px; font-family: 'DejaVu Sans'">m</tspan>
<tspan x="57.071751" y="-0.976562" style="font-style: oblique; font-size: 10px; font-family: 'DejaVu Sans'">m</tspan>
<tspan x="3.520508" y="-0.976562" style="font-size: 10px; font-family: 'DejaVu Sans'">,</tspan>
<tspan x="22.295625" y="-0.976562" style="font-size: 10px; font-family: 'DejaVu Sans'">/</tspan>
<tspan x="25.664766" y="-0.976562" style="font-size: 10px; font-family: 'DejaVu Sans'">(</tspan>
<tspan x="51.944798" y="-0.976562" style="font-size: 10px; font-family: 'DejaVu Sans'">⋅</tspan>
<tspan x="72.004128" y="-0.976562" style="font-size: 10px; font-family: 'DejaVu Sans'">)</tspan>
<tspan x="17.568574" y="-4.804688" style="font-size: 7px; font-family: 'DejaVu Sans'">3</tspan>
<tspan x="45.269505" y="-4.804688" style="font-size: 7px; font-family: 'DejaVu Sans'">3</tspan>
<tspan x="67.277077" y="-4.804688" style="font-size: 7px; font-family: 'DejaVu Sans'">3</tspan>
</text>
</g>
</g>
</g>
<g id="patch_129">
<path d="M 579.91 661.1 L 579.91 473.13" style="fill: none; stroke: #000000; stroke-width: 0.8; stroke-linejoin: miter; stroke-linecap: square"/>
</g>
<g id="patch_130">
<path d="M 589.54 661.1 L 589.54 473.13" style="fill: none; stroke: #000000; stroke-width: 0.8; stroke-linejoin: miter; stroke-linecap: square"/>
</g>
<g id="patch_131">
<path d="M 579.91 661.1 L 589.54 661.1" style="fill: none; stroke: #000000; stroke-width: 0.8; stroke-linejoin: miter; stroke-linecap: square"/>
</g>
<g id="patch_132">
<path d="M 579.91 473.13 L 589.54 473.13" style="fill: none; stroke: #000000; stroke-width: 0.8; stroke-linejoin: miter; stroke-linecap: square"/>
</g>
</g>
</g>
<defs>
<clipPath id="p4a2bbabca9">
<rect x="48.711111" y="3.377778" width="536.177778" height="75.555556"/>
</clipPath>
<clipPath id="p9e9367c053">
<rect x="48.711111" y="114.044444" width="212.177778" height="75.17037"/>
</clipPath>
<clipPath id="p5d24b00278">
<rect x="48.711111" y="201.125926" width="212.177778" height="75.2"/>
</clipPath>
<clipPath id="padc64a472d">
<rect x="48.711111" y="290.518519" width="212.177778" height="75.022222"/>
</clipPath>
<clipPath id="p9c5c4c5787">
<rect x="48.711111" y="375.111111" width="212.177778" height="75.111111"/>
</clipPath>
<clipPath id="pc55d725db1">
<rect x="262.696296" y="375.111111" width="4.651852" height="75.111111"/>
</clipPath>
<clipPath id="pb225cf4f3d">
<rect x="372.740741" y="114.044444" width="212.207407" height="75.17037"/>
</clipPath>
<clipPath id="pcc3ebbbc7f">
<rect x="372.740741" y="201.125926" width="212.207407" height="75.2"/>
</clipPath>
<clipPath id="p5511a19e97">
<rect x="372.740741" y="290.518519" width="212.207407" height="75.022222"/>
</clipPath>
<clipPath id="pb7cf3ce383">
<rect x="372.740741" y="375.111111" width="212.207407" height="75.111111"/>
</clipPath>
<clipPath id="p80521b6ee4">
<rect x="586.725926" y="375.111111" width="4.622222" height="75.111111"/>
</clipPath>
<clipPath id="p37f3248228">
<rect x="60.474074" y="473.125926" width="188.355556" height="187.97037"/>
</clipPath>
<clipPath id="p697aa1337d">
<rect x="256.088889" y="473.125926" width="9.62963" height="187.97037"/>
</clipPath>
<clipPath id="p3753405558">
<rect x="384.296296" y="473.125926" width="188.355556" height="187.97037"/>
</clipPath>
<clipPath id="pd83f45855e">
<rect x="579.911111" y="473.125926" width="9.62963" height="187.97037"/>
</clipPath>
</defs>
</svg>

</body></html>
